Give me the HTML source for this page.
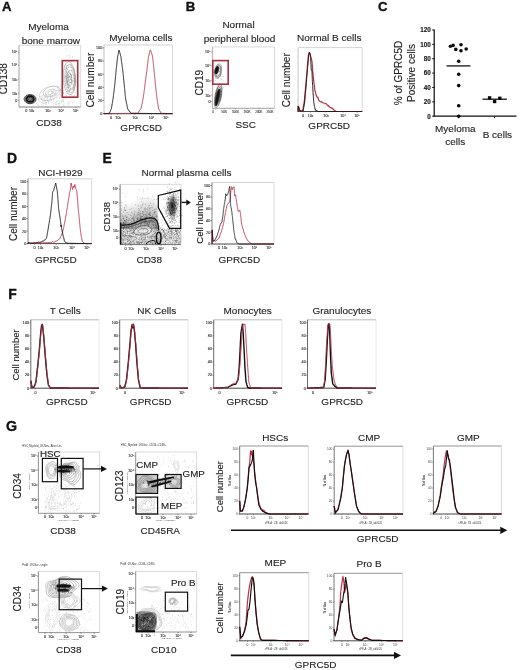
<!DOCTYPE html>
<html><head><meta charset="utf-8"><title>GPRC5D expression</title>
<style>
html,body{margin:0;padding:0;background:#fff;}
body{width:520px;height:670px;overflow:hidden;}
svg{display:block;filter:blur(0.28px);}
text{font-family:'Liberation Sans', Arial, sans-serif;}
</style></head>
<body>
<svg width="520" height="670" viewBox="0 0 520 670">
<rect width="520" height="670" fill="#fff"/>
<text x="2.00" y="10.90" font-size="13.2" text-anchor="start" fill="#111" font-weight="bold" stroke="#111" stroke-width="0.35">A</text>
<text transform="translate(48.50,29.60) scale(1.085,1)" font-size="9.217" text-anchor="middle" fill="#1e1e1e" stroke="#1e1e1e" stroke-width="0.12">Myeloma</text>
<text transform="translate(50.80,43.70) scale(1.085,1)" font-size="9.217" text-anchor="middle" fill="#1e1e1e" stroke="#1e1e1e" stroke-width="0.12">bone marrow</text>
<line x1="19.00" y1="45.30" x2="80.70" y2="45.30" stroke="#cfcfcf" stroke-width="0.8" />
<line x1="80.70" y1="45.30" x2="80.70" y2="107.00" stroke="#cfcfcf" stroke-width="0.8" />
<line x1="19.00" y1="45.30" x2="19.00" y2="107.00" stroke="#888" stroke-width="0.8" />
<line x1="19.00" y1="107.00" x2="80.70" y2="107.00" stroke="#666" stroke-width="0.8" />
<line x1="17.80" y1="52.00" x2="19.00" y2="52.00" stroke="#666" stroke-width="0.5" />
<text x="17.30" y="53.30" font-size="3.7" text-anchor="end" fill="#333" stroke="#333" stroke-width="0.12">10⁵</text>
<line x1="17.80" y1="65.00" x2="19.00" y2="65.00" stroke="#666" stroke-width="0.5" />
<text x="17.30" y="66.30" font-size="3.7" text-anchor="end" fill="#333" stroke="#333" stroke-width="0.12">10⁴</text>
<line x1="17.80" y1="79.20" x2="19.00" y2="79.20" stroke="#666" stroke-width="0.5" />
<text x="17.30" y="80.50" font-size="3.7" text-anchor="end" fill="#333" stroke="#333" stroke-width="0.12">10³</text>
<line x1="17.80" y1="93.20" x2="19.00" y2="93.20" stroke="#666" stroke-width="0.5" />
<text x="17.30" y="94.50" font-size="3.7" text-anchor="end" fill="#333" stroke="#333" stroke-width="0.12">10²</text>
<line x1="17.80" y1="100.40" x2="19.00" y2="100.40" stroke="#666" stroke-width="0.5" />
<text x="17.30" y="101.70" font-size="3.7" text-anchor="end" fill="#333" stroke="#333" stroke-width="0.12">0</text>
<line x1="26.20" y1="107.00" x2="26.20" y2="108.20" stroke="#666" stroke-width="0.5" />
<text x="26.20" y="112.30" font-size="3.7" text-anchor="middle" fill="#333" stroke="#333" stroke-width="0.12">0</text>
<line x1="31.60" y1="107.00" x2="31.60" y2="108.20" stroke="#666" stroke-width="0.5" />
<text x="31.60" y="112.30" font-size="3.7" text-anchor="middle" fill="#333" stroke="#333" stroke-width="0.12">10²</text>
<line x1="47.80" y1="107.00" x2="47.80" y2="108.20" stroke="#666" stroke-width="0.5" />
<text x="47.80" y="112.30" font-size="3.7" text-anchor="middle" fill="#333" stroke="#333" stroke-width="0.12">10³</text>
<line x1="61.20" y1="107.00" x2="61.20" y2="108.20" stroke="#666" stroke-width="0.5" />
<text x="61.20" y="112.30" font-size="3.7" text-anchor="middle" fill="#333" stroke="#333" stroke-width="0.12">10⁴</text>
<line x1="75.70" y1="107.00" x2="75.70" y2="108.20" stroke="#666" stroke-width="0.5" />
<text x="75.70" y="112.30" font-size="3.7" text-anchor="middle" fill="#333" stroke="#333" stroke-width="0.12">10⁵</text>
<path d="M48.7,94.6h0.6M61.9,92.1h0.6M50.2,95.3h0.6M53.6,100.6h0.6M38.5,101.1h0.6M63.5,105.1h0.6M54.3,96.0h0.6M48.3,101.9h0.6M50.5,96.6h0.6M50.0,97.2h0.6M63.9,105.9h0.6M59.5,98.4h0.6M57.5,90.4h0.6M59.7,90.0h0.6M62.8,102.0h0.6M61.5,92.2h0.6M63.5,90.3h0.6M57.8,87.0h0.6M63.0,99.7h0.6M51.7,91.6h0.6M41.3,99.0h0.6M63.2,100.9h0.6M44.5,103.0h0.6M59.9,96.7h0.6M38.8,105.7h0.6M57.6,88.6h0.6M62.9,92.6h0.6M52.1,102.5h0.6M61.4,101.3h0.6M56.7,104.5h0.6M41.5,104.7h0.6M60.7,95.7h0.6M37.1,105.0h0.6M42.7,98.3h0.6M43.2,101.4h0.6M40.9,98.7h0.6M51.7,102.2h0.6M61.7,85.3h0.6M46.1,103.2h0.6M63.5,97.1h0.6M55.4,95.2h0.6M36.5,103.7h0.6M55.6,105.0h0.6M49.5,99.0h0.6M44.9,106.0h0.6M56.6,103.4h0.6M56.6,98.3h0.6M58.2,103.8h0.6M45.9,97.8h0.6M61.2,102.6h0.6M47.7,100.6h0.6M60.2,94.9h0.6M53.5,89.9h0.6M52.3,95.8h0.6M63.8,102.9h0.6M56.4,90.1h0.6M56.6,95.1h0.6M48.3,101.8h0.6M38.3,99.5h0.6M55.6,92.9h0.6M53.2,103.9h0.6M44.4,97.6h0.6M61.4,97.2h0.6M48.4,103.2h0.6M45.2,97.3h0.6M58.6,103.8h0.6M60.6,90.0h0.6M59.4,102.1h0.6M55.9,104.7h0.6M53.5,92.8h0.6M44.8,101.8h0.6M63.5,91.8h0.6M55.8,94.8h0.6M44.7,100.6h0.6M59.2,86.2h0.6M53.6,91.6h0.6M53.6,97.0h0.6M58.6,104.9h0.6M55.5,93.5h0.6M53.2,99.7h0.6M47.0,100.6h0.6M62.1,98.8h0.6M53.5,103.7h0.6M46.6,94.8h0.6M60.6,100.7h0.6M62.4,92.1h0.6M56.2,101.3h0.6M54.0,98.7h0.6M42.0,103.4h0.6M63.5,105.4h0.6M51.0,100.6h0.6M45.0,103.7h0.6M60.0,89.1h0.6M51.4,100.0h0.6M45.4,100.5h0.6M50.5,98.8h0.6M59.5,97.9h0.6M62.5,92.8h0.6M44.1,98.9h0.6M53.9,93.6h0.6M59.6,94.6h0.6M59.7,103.4h0.6M41.8,102.1h0.6M63.1,93.6h0.6M51.0,93.1h0.6M63.1,93.4h0.6M47.2,100.8h0.6M51.8,92.8h0.6M62.8,104.0h0.6M58.8,103.4h0.6M45.9,96.1h0.6M38.9,99.0h0.6M50.8,91.4h0.6M53.9,93.8h0.6M59.8,95.9h0.6M60.0,86.0h0.6M56.7,101.1h0.6M61.3,88.2h0.6M44.8,104.0h0.6M42.1,106.0h0.6M42.7,98.9h0.6M59.3,91.0h0.6M47.3,97.8h0.6M55.1,103.7h0.6M50.2,99.7h0.6M50.1,97.8h0.6M51.4,93.4h0.6M59.5,105.7h0.6M37.7,104.7h0.6M48.9,99.9h0.6M55.6,102.0h0.6M56.7,90.5h0.6M61.0,100.8h0.6M55.7,102.4h0.6M53.6,90.5h0.6M52.8,93.1h0.6M63.5,100.9h0.6M43.2,103.7h0.6M56.8,100.2h0.6M58.8,90.5h0.6" stroke="#999" stroke-width="0.60" opacity="0.8" fill="none"/>
<ellipse cx="50.37" cy="92.61" rx="2.75" ry="1.62" stroke="#aaa" stroke-width="0.45" fill="none" opacity="0.9" transform="rotate(-20 50.37 92.61)"/>
<ellipse cx="50.69" cy="92.75" rx="5.50" ry="3.25" stroke="#aaa" stroke-width="0.45" fill="none" opacity="0.9" transform="rotate(-20 50.69 92.75)"/>
<ellipse cx="51.30" cy="91.46" rx="8.25" ry="4.88" stroke="#aaa" stroke-width="0.45" fill="none" opacity="0.9" transform="rotate(-20 51.30 91.46)"/>
<ellipse cx="49.83" cy="93.31" rx="11.00" ry="6.50" stroke="#aaa" stroke-width="0.45" fill="none" opacity="0.9" transform="rotate(-20 49.83 93.31)"/>
<ellipse cx="44.52" cy="98.37" rx="3.50" ry="2.00" stroke="#bbb" stroke-width="0.4" fill="none" opacity="0.9" transform="rotate(-10 44.52 98.37)"/>
<ellipse cx="45.37" cy="98.70" rx="7.00" ry="4.00" stroke="#bbb" stroke-width="0.4" fill="none" opacity="0.9" transform="rotate(-10 45.37 98.70)"/>
<ellipse cx="69.52" cy="78.29" rx="0.89" ry="2.36" stroke="#8a8a8a" stroke-width="0.45" fill="none" opacity="1.0" transform="rotate(-3 69.52 78.29)"/>
<ellipse cx="69.81" cy="78.38" rx="1.77" ry="4.71" stroke="#8a8a8a" stroke-width="0.45" fill="none" opacity="1.0" transform="rotate(-3 69.81 78.38)"/>
<ellipse cx="69.22" cy="78.82" rx="2.66" ry="7.07" stroke="#8a8a8a" stroke-width="0.45" fill="none" opacity="1.0" transform="rotate(-3 69.22 78.82)"/>
<ellipse cx="70.75" cy="79.54" rx="3.54" ry="9.43" stroke="#8a8a8a" stroke-width="0.45" fill="none" opacity="1.0" transform="rotate(-3 70.75 79.54)"/>
<ellipse cx="70.48" cy="78.50" rx="4.43" ry="11.79" stroke="#8a8a8a" stroke-width="0.45" fill="none" opacity="1.0" transform="rotate(-3 70.48 78.50)"/>
<ellipse cx="70.07" cy="78.60" rx="5.31" ry="14.14" stroke="#8a8a8a" stroke-width="0.45" fill="none" opacity="1.0" transform="rotate(-3 70.07 78.60)"/>
<ellipse cx="69.41" cy="78.29" rx="6.20" ry="16.50" stroke="#8a8a8a" stroke-width="0.45" fill="none" opacity="1.0" transform="rotate(-3 69.41 78.29)"/>
<path d="M65.9,68.5h0.7M72.3,57.1h0.7M69.5,57.4h0.7M73.9,82.0h0.7M74.7,75.0h0.7M71.4,77.1h0.7M67.4,81.5h0.7M65.6,76.5h0.7M72.4,80.6h0.7M68.6,101.9h0.7M70.2,74.1h0.7M70.6,74.8h0.7M68.7,76.5h0.7M77.1,80.2h0.7M70.6,86.7h0.7M77.1,77.8h0.7M67.8,104.7h0.7M64.9,76.3h0.7M72.3,102.8h0.7M66.7,55.7h0.7M72.3,74.8h0.7M68.6,84.6h0.7M70.8,82.9h0.7M68.5,92.9h0.7M75.3,80.3h0.7M68.4,87.3h0.7M71.7,69.6h0.7M68.4,90.5h0.7M69.7,76.7h0.7M70.7,79.7h0.7M70.0,60.7h0.7M76.1,82.0h0.7M66.9,89.8h0.7M71.1,80.2h0.7M73.7,102.6h0.7M71.9,95.9h0.7M77.6,69.8h0.7M68.2,87.8h0.7M64.0,77.3h0.7M74.5,90.4h0.7M72.0,61.0h0.7M78.2,85.5h0.7M72.7,84.9h0.7M64.0,65.7h0.7M65.7,99.2h0.7M67.1,77.6h0.7M69.1,85.7h0.7M71.8,82.7h0.7M65.6,48.6h0.7M70.6,82.7h0.7M74.3,79.0h0.7M67.9,84.1h0.7M64.6,69.6h0.7M66.5,82.9h0.7M77.3,87.6h0.7M74.0,82.4h0.7M71.0,75.5h0.7M69.0,55.7h0.7M65.8,67.1h0.7M72.9,86.6h0.7M74.0,95.6h0.7M68.9,90.6h0.7M76.8,79.9h0.7M73.8,78.3h0.7M64.4,81.2h0.7M67.1,81.1h0.7M68.4,83.2h0.7M62.5,100.8h0.7M74.8,76.5h0.7M66.8,80.0h0.7M72.4,84.2h0.7M71.4,60.3h0.7M66.0,93.4h0.7M70.8,64.8h0.7M67.0,65.5h0.7M66.4,91.8h0.7M69.2,91.3h0.7M70.7,64.8h0.7M67.7,103.2h0.7M67.3,69.3h0.7M74.4,80.9h0.7M70.0,94.9h0.7M63.7,84.3h0.7M66.2,65.7h0.7M67.1,91.7h0.7M69.5,61.3h0.7M66.0,95.6h0.7M73.7,68.9h0.7M78.7,76.3h0.7M65.7,78.6h0.7M73.3,96.5h0.7M73.7,75.6h0.7M68.0,65.1h0.7M69.7,73.9h0.7M70.9,67.1h0.7M68.1,71.0h0.7M65.7,67.9h0.7M66.4,67.9h0.7M72.0,81.0h0.7M65.3,85.2h0.7M71.0,94.9h0.7M69.3,77.9h0.7M67.5,81.3h0.7M71.8,81.8h0.7M69.1,85.8h0.7M70.3,82.5h0.7M66.7,82.1h0.7M66.4,71.4h0.7M70.6,101.5h0.7M73.6,80.0h0.7M69.4,90.1h0.7M75.0,92.5h0.7M69.3,81.9h0.7M68.8,77.1h0.7M66.9,77.4h0.7M62.3,67.7h0.7M71.5,70.5h0.7M71.9,66.8h0.7M68.7,84.0h0.7M66.3,72.7h0.7M78.9,73.0h0.7M67.5,74.1h0.7M70.1,79.7h0.7M73.5,88.1h0.7M68.6,76.4h0.7M64.9,64.7h0.7M67.4,87.5h0.7M70.4,88.2h0.7M73.4,78.3h0.7M77.5,74.6h0.7M67.8,75.6h0.7M74.1,78.6h0.7M67.4,84.4h0.7M74.1,78.9h0.7M69.1,91.1h0.7M73.5,89.7h0.7M67.3,82.9h0.7M71.3,61.6h0.7M74.3,81.0h0.7M68.8,103.1h0.7" stroke="#777" stroke-width="0.70" opacity="0.6" fill="none"/>
<ellipse cx="30.35" cy="99.16" rx="1.00" ry="0.77" stroke="#111" stroke-width="0.75" fill="none" opacity="1.0" transform="rotate(0 30.35 99.16)"/>
<ellipse cx="30.19" cy="98.88" rx="2.00" ry="1.53" stroke="#111" stroke-width="0.75" fill="none" opacity="1.0" transform="rotate(0 30.19 98.88)"/>
<ellipse cx="29.95" cy="99.08" rx="3.00" ry="2.30" stroke="#111" stroke-width="0.75" fill="none" opacity="1.0" transform="rotate(0 29.95 99.08)"/>
<ellipse cx="30.19" cy="99.13" rx="4.00" ry="3.07" stroke="#111" stroke-width="0.75" fill="none" opacity="1.0" transform="rotate(0 30.19 99.13)"/>
<ellipse cx="30.14" cy="99.14" rx="5.00" ry="3.83" stroke="#111" stroke-width="0.75" fill="none" opacity="1.0" transform="rotate(0 30.14 99.14)"/>
<ellipse cx="30.09" cy="99.15" rx="6.00" ry="4.60" stroke="#111" stroke-width="0.75" fill="none" opacity="1.0" transform="rotate(0 30.09 99.15)"/>
<ellipse cx="30.20" cy="99.00" rx="3.60" ry="2.80" stroke="#111" stroke-width="1.6" fill="none" opacity="1.0" transform="rotate(0 30.20 99.00)"/>
<ellipse cx="30.20" cy="99.00" rx="1.60" ry="1.20" stroke="#666" stroke-width="0.6" fill="#777" opacity="1.0" transform="rotate(0 30.20 99.00)"/>
<rect x="62.30" y="60.60" width="15.40" height="36.60" stroke="#a8303e" stroke-width="1.6" fill="none"/>
<text transform="translate(7.30,78.70) rotate(-90)" font-size="10.0" text-anchor="middle" fill="#1e1e1e" stroke="#1e1e1e" stroke-width="0.12">CD138</text>
<text transform="translate(49.00,126.20) scale(1.085,1)" font-size="9.217" text-anchor="middle" fill="#1e1e1e" stroke="#1e1e1e" stroke-width="0.12">CD38</text>
<text transform="translate(140.90,40.80) scale(1.085,1)" font-size="9.217" text-anchor="middle" fill="#1e1e1e" stroke="#1e1e1e" stroke-width="0.12">Myeloma cells</text>
<line x1="104.00" y1="45.00" x2="172.50" y2="45.00" stroke="#c8c8c8" stroke-width="0.8" />
<line x1="172.50" y1="45.00" x2="172.50" y2="113.70" stroke="#d0d0d0" stroke-width="0.8" />
<line x1="104.00" y1="45.00" x2="104.00" y2="113.70" stroke="#b0b0b0" stroke-width="0.8" />
<line x1="103.50" y1="113.70" x2="172.50" y2="113.70" stroke="#333" stroke-width="0.9" />
<line x1="102.70" y1="113.70" x2="104.00" y2="113.70" stroke="#444" stroke-width="0.6" />
<text x="102.20" y="115.00" font-size="3.7" text-anchor="end" fill="#333" stroke="#333" stroke-width="0.12">0</text>
<line x1="102.70" y1="100.54" x2="104.00" y2="100.54" stroke="#444" stroke-width="0.6" />
<text x="102.20" y="101.84" font-size="3.7" text-anchor="end" fill="#333" stroke="#333" stroke-width="0.12">20</text>
<line x1="102.70" y1="87.38" x2="104.00" y2="87.38" stroke="#444" stroke-width="0.6" />
<text x="102.20" y="88.68" font-size="3.7" text-anchor="end" fill="#333" stroke="#333" stroke-width="0.12">40</text>
<line x1="102.70" y1="74.22" x2="104.00" y2="74.22" stroke="#444" stroke-width="0.6" />
<text x="102.20" y="75.52" font-size="3.7" text-anchor="end" fill="#333" stroke="#333" stroke-width="0.12">60</text>
<line x1="102.70" y1="61.06" x2="104.00" y2="61.06" stroke="#444" stroke-width="0.6" />
<text x="102.20" y="62.36" font-size="3.7" text-anchor="end" fill="#333" stroke="#333" stroke-width="0.12">80</text>
<line x1="102.70" y1="47.90" x2="104.00" y2="47.90" stroke="#444" stroke-width="0.6" />
<text x="102.20" y="49.20" font-size="3.7" text-anchor="end" fill="#333" stroke="#333" stroke-width="0.12">100</text>
<line x1="111.00" y1="113.70" x2="111.00" y2="114.90" stroke="#555" stroke-width="0.5" />
<text x="111.00" y="119.10" font-size="3.7" text-anchor="middle" fill="#333" stroke="#333" stroke-width="0.12">0</text>
<line x1="118.00" y1="113.70" x2="118.00" y2="114.90" stroke="#555" stroke-width="0.5" />
<text x="118.00" y="119.10" font-size="3.7" text-anchor="middle" fill="#333" stroke="#333" stroke-width="0.12">10²</text>
<line x1="135.00" y1="113.70" x2="135.00" y2="114.90" stroke="#555" stroke-width="0.5" />
<text x="135.00" y="119.10" font-size="3.7" text-anchor="middle" fill="#333" stroke="#333" stroke-width="0.12">10³</text>
<line x1="151.50" y1="113.70" x2="151.50" y2="114.90" stroke="#555" stroke-width="0.5" />
<text x="151.50" y="119.10" font-size="3.7" text-anchor="middle" fill="#333" stroke="#333" stroke-width="0.12">10⁴</text>
<line x1="166.00" y1="113.70" x2="166.00" y2="114.90" stroke="#555" stroke-width="0.5" />
<text x="166.00" y="119.10" font-size="3.7" text-anchor="middle" fill="#333" stroke="#333" stroke-width="0.12">10⁵</text>
<path d="M104.00,113.70 L104.60,113.69 L105.20,113.69 L105.80,113.68 L106.40,113.67 L107.00,113.66 L107.60,113.66 L108.20,113.65 L108.80,113.64 L109.40,113.64 L110.00,113.63 L110.60,113.62 L111.20,113.61 L111.80,113.61 L112.40,113.60 L113.00,113.59 L113.60,113.59 L114.20,113.58 L114.80,113.57 L115.40,113.56 L116.00,113.56 L116.60,113.55 L117.20,113.54 L117.80,113.54 L118.40,113.53 L119.00,113.52 L119.60,113.51 L120.20,113.51 L120.80,113.50 L121.40,113.49 L122.00,113.49 L122.60,113.48 L123.20,113.47 L123.80,113.46 L124.40,113.46 L125.00,113.45 L125.60,113.44 L126.20,113.44 L126.80,113.43 L127.40,113.42 L128.00,113.41 L128.60,113.41 L129.20,113.40 L129.80,113.39 L130.40,113.39 L131.00,113.38 L131.60,113.37 L132.20,113.36 L132.80,113.36 L133.40,113.35 L134.00,113.34 L134.60,113.34 L135.20,113.33 L135.80,113.32 L136.40,113.31 L137.00,113.31 L137.60,113.30 L137.98,112.78 L138.36,112.53 L138.73,112.00 L139.11,110.95 L139.49,110.44 L139.87,110.37 L140.24,109.79 L140.62,109.22 L141.00,108.48 L141.13,108.06 L141.26,107.46 L141.38,106.85 L141.51,106.00 L141.64,105.56 L141.77,104.94 L141.89,104.53 L142.02,104.10 L142.15,103.47 L142.28,102.63 L142.41,101.97 L142.53,101.26 L142.66,100.52 L142.79,99.92 L142.92,99.58 L143.04,98.89 L143.17,98.33 L143.30,98.04 L143.38,97.21 L143.45,96.62 L143.53,95.81 L143.61,95.08 L143.69,94.65 L143.76,93.93 L143.84,93.54 L143.92,93.23 L144.00,92.42 L144.07,91.52 L144.15,91.34 L144.23,90.67 L144.30,90.02 L144.38,89.52 L144.46,88.82 L144.54,88.23 L144.61,87.36 L144.69,87.12 L144.77,86.50 L144.85,85.41 L144.92,85.16 L145.00,84.53 L145.08,83.76 L145.16,83.19 L145.25,82.55 L145.33,82.20 L145.41,81.33 L145.49,80.92 L145.57,80.02 L145.65,79.72 L145.74,79.12 L145.82,78.24 L145.90,77.69 L145.98,77.29 L146.06,76.56 L146.15,75.80 L146.23,75.03 L146.31,74.48 L146.39,74.09 L146.47,73.15 L146.55,72.99 L146.64,71.99 L146.72,71.76 L146.80,70.79 L146.87,70.57 L146.95,69.81 L147.02,69.08 L147.09,68.47 L147.16,67.95 L147.24,67.30 L147.31,66.52 L147.38,65.85 L147.45,65.43 L147.53,65.07 L147.60,64.27 L147.67,63.34 L147.75,63.17 L147.82,62.51 L147.89,62.01 L147.96,60.97 L148.04,60.69 L148.11,59.67 L148.18,59.42 L148.25,58.58 L148.33,57.95 L148.40,57.73 L148.54,56.65 L148.68,56.28 L148.82,55.86 L148.97,54.88 L149.11,54.24 L149.25,54.03 L149.39,53.14 L149.53,52.70 L149.68,51.67 L149.82,51.25 L149.96,50.52 L150.10,50.20 L150.70,50.35 L150.90,51.48 L151.10,51.54 L151.30,52.57 L151.50,52.76 L151.70,53.51 L151.90,54.45 L152.10,54.67 L152.30,55.30 L152.50,56.21 L152.57,56.65 L152.63,57.06 L152.70,58.24 L152.77,58.36 L152.83,58.91 L152.90,59.71 L152.97,60.49 L153.03,61.18 L153.10,61.42 L153.17,62.17 L153.23,62.60 L153.30,63.47 L153.37,64.28 L153.43,64.88 L153.50,65.59 L153.57,66.12 L153.63,66.80 L153.70,67.32 L153.77,67.80 L153.83,68.27 L153.90,69.15 L153.97,69.56 L154.03,70.04 L154.10,70.87 L154.16,71.74 L154.22,71.90 L154.28,72.79 L154.34,73.29 L154.40,73.98 L154.45,74.37 L154.51,75.47 L154.57,75.66 L154.63,76.49 L154.69,76.99 L154.75,77.36 L154.81,78.30 L154.87,78.66 L154.93,79.22 L154.99,79.82 L155.05,80.51 L155.10,81.09 L155.16,82.03 L155.22,82.56 L155.28,83.46 L155.34,84.05 L155.40,84.70 L155.47,84.85 L155.54,85.59 L155.60,86.08 L155.67,86.89 L155.74,87.52 L155.81,88.23 L155.88,88.79 L155.95,89.13 L156.01,89.84 L156.08,90.51 L156.15,90.80 L156.22,91.43 L156.29,92.26 L156.35,92.69 L156.42,93.67 L156.49,93.99 L156.56,94.51 L156.63,95.17 L156.70,95.81 L156.76,96.41 L156.83,97.20 L156.90,97.78 L156.99,98.29 L157.08,99.09 L157.17,99.43 L157.26,100.44 L157.34,101.08 L157.43,101.54 L157.52,101.96 L157.61,102.61 L157.70,103.25 L157.79,103.53 L157.88,104.35 L157.97,105.02 L158.06,105.41 L158.14,105.96 L158.23,106.98 L158.32,107.32 L158.41,108.01 L158.50,108.85 L158.80,109.19 L159.10,109.52 L159.40,110.46 L159.70,110.61 L160.00,110.92 L160.30,111.84 L160.60,112.02 L160.90,112.78 L161.20,113.30 L161.83,113.32 L162.46,113.34 L163.08,113.37 L163.71,113.39 L164.34,113.41 L164.97,113.43 L165.59,113.46 L166.22,113.48 L166.85,113.50 L167.48,113.52 L168.11,113.54 L168.73,113.57 L169.36,113.59 L169.99,113.61 L170.62,113.63 L171.24,113.66 L171.87,113.68 L172.50,113.70" stroke="#bb3048" stroke-width="0.9" fill="none" />
<path d="M104.00,113.70 L104.60,113.66 L105.20,113.61 L105.80,113.57 L106.40,113.52 L107.00,113.48 L107.60,113.43 L108.20,113.39 L108.80,113.34 L109.40,113.30 L109.65,112.71 L109.90,111.87 L110.15,111.78 L110.40,111.13 L110.65,110.19 L110.90,109.77 L111.15,109.15 L111.40,108.71 L111.50,108.20 L111.60,107.12 L111.70,106.47 L111.80,106.44 L111.90,105.55 L112.00,105.18 L112.10,104.05 L112.20,103.76 L112.30,103.36 L112.40,102.41 L112.50,102.31 L112.60,101.68 L112.70,100.47 L112.80,99.87 L112.90,99.63 L113.00,99.31 L113.10,98.32 L113.20,97.60 L113.27,97.14 L113.35,96.25 L113.42,95.78 L113.49,95.32 L113.56,94.75 L113.64,93.96 L113.71,93.35 L113.78,92.73 L113.85,92.29 L113.93,91.56 L114.00,90.77 L114.07,90.73 L114.15,89.92 L114.22,89.37 L114.29,88.44 L114.36,88.40 L114.44,87.70 L114.51,86.57 L114.58,86.11 L114.65,85.77 L114.73,85.16 L114.80,84.71 L114.86,83.73 L114.92,83.40 L114.98,82.68 L115.04,81.81 L115.10,81.39 L115.15,80.99 L115.21,80.35 L115.27,79.49 L115.33,78.94 L115.39,77.94 L115.45,77.47 L115.51,77.24 L115.57,76.36 L115.63,75.58 L115.69,75.23 L115.75,74.72 L115.80,74.09 L115.86,73.27 L115.92,72.70 L115.98,72.13 L116.04,71.71 L116.10,70.91 L116.16,70.22 L116.23,69.67 L116.29,68.74 L116.35,68.14 L116.42,68.00 L116.48,67.58 L116.55,66.70 L116.61,65.95 L116.67,65.19 L116.74,64.81 L116.80,64.54 L116.86,63.78 L116.93,63.01 L116.99,62.62 L117.05,61.58 L117.12,61.16 L117.18,60.86 L117.25,59.99 L117.31,59.30 L117.37,58.56 L117.44,58.14 L117.50,57.82 L117.62,56.54 L117.75,56.47 L117.88,55.87 L118.00,55.30 L118.12,54.59 L118.25,54.02 L118.38,53.20 L118.50,52.61 L118.62,51.90 L118.75,51.02 L118.88,50.98 L119.00,50.15 L119.25,50.59 L119.50,51.50 L119.69,52.15 L119.87,52.71 L120.06,53.36 L120.24,54.16 L120.43,54.87 L120.61,55.52 L120.80,56.07 L120.88,56.39 L120.97,57.14 L121.05,57.72 L121.13,58.63 L121.22,59.44 L121.30,60.01 L121.38,60.62 L121.47,61.25 L121.55,61.48 L121.63,62.51 L121.72,63.00 L121.80,63.21 L121.88,63.78 L121.97,64.39 L122.05,65.53 L122.13,65.79 L122.22,66.31 L122.30,67.29 L122.38,67.71 L122.47,68.13 L122.55,68.81 L122.63,69.69 L122.72,70.05 L122.80,70.74 L122.86,71.66 L122.93,72.10 L122.99,72.62 L123.05,73.34 L123.12,73.63 L123.18,74.50 L123.25,75.14 L123.31,75.59 L123.37,76.15 L123.44,77.32 L123.50,77.66 L123.56,78.06 L123.63,78.95 L123.69,79.71 L123.75,79.77 L123.82,80.38 L123.88,81.08 L123.95,82.10 L124.01,82.32 L124.07,83.32 L124.14,83.91 L124.20,84.43 L124.26,84.81 L124.32,85.95 L124.38,86.44 L124.44,86.85 L124.50,87.25 L124.55,88.16 L124.61,88.59 L124.67,89.33 L124.73,89.76 L124.79,90.58 L124.85,90.79 L124.91,91.57 L124.97,92.65 L125.03,93.19 L125.09,93.40 L125.15,94.40 L125.20,94.62 L125.26,95.67 L125.32,96.14 L125.38,96.52 L125.44,97.02 L125.50,97.46 L125.62,98.67 L125.73,98.68 L125.85,99.82 L125.97,100.52 L126.08,100.85 L126.20,101.17 L126.32,102.26 L126.43,102.93 L126.55,103.34 L126.67,103.81 L126.78,104.31 L126.90,104.89 L127.02,105.39 L127.13,106.32 L127.25,106.75 L127.37,107.19 L127.48,107.72 L127.60,108.72 L127.97,108.98 L128.33,109.64 L128.70,110.04 L129.07,110.95 L129.43,111.49 L129.80,111.40 L130.17,112.05 L130.53,112.78 L130.90,113.30 L131.50,113.31 L132.11,113.31 L132.71,113.32 L133.31,113.32 L133.91,113.33 L134.52,113.33 L135.12,113.34 L135.72,113.35 L136.33,113.35 L136.93,113.36 L137.53,113.36 L138.13,113.37 L138.74,113.38 L139.34,113.38 L139.94,113.39 L140.55,113.39 L141.15,113.40 L141.75,113.40 L142.36,113.41 L142.96,113.42 L143.56,113.42 L144.16,113.43 L144.77,113.43 L145.37,113.44 L145.97,113.44 L146.58,113.45 L147.18,113.46 L147.78,113.46 L148.38,113.47 L148.99,113.47 L149.59,113.48 L150.19,113.49 L150.80,113.49 L151.40,113.50 L152.00,113.50 L152.60,113.51 L153.21,113.51 L153.81,113.52 L154.41,113.53 L155.02,113.53 L155.62,113.54 L156.22,113.54 L156.82,113.55 L157.43,113.56 L158.03,113.56 L158.63,113.57 L159.24,113.57 L159.84,113.58 L160.44,113.58 L161.04,113.59 L161.65,113.60 L162.25,113.60 L162.85,113.61 L163.46,113.61 L164.06,113.62 L164.66,113.62 L165.27,113.63 L165.87,113.64 L166.47,113.64 L167.07,113.65 L167.68,113.65 L168.28,113.66 L168.88,113.67 L169.49,113.67 L170.09,113.68 L170.69,113.68 L171.29,113.69 L171.90,113.69 L172.50,113.70" stroke="#111" stroke-width="0.9" fill="none" />
<text transform="translate(94.45,80.10) rotate(-90)" font-size="10.2" text-anchor="middle" fill="#1e1e1e" stroke="#1e1e1e" stroke-width="0.12">Cell number</text>
<text transform="translate(141.20,130.80) scale(1.085,1)" font-size="9.217" text-anchor="middle" fill="#1e1e1e" stroke="#1e1e1e" stroke-width="0.12">GPRC5D</text>
<text x="185.70" y="10.90" font-size="13.2" text-anchor="start" fill="#111" font-weight="bold" stroke="#111" stroke-width="0.35">B</text>
<text transform="translate(238.50,27.90) scale(1.085,1)" font-size="9.217" text-anchor="middle" fill="#1e1e1e" stroke="#1e1e1e" stroke-width="0.12">Normal</text>
<text transform="translate(239.50,42.10) scale(1.085,1)" font-size="9.217" text-anchor="middle" fill="#1e1e1e" stroke="#1e1e1e" stroke-width="0.12">peripheral blood</text>
<line x1="212.40" y1="46.90" x2="274.50" y2="46.90" stroke="#cfcfcf" stroke-width="0.8" />
<line x1="274.50" y1="46.90" x2="274.50" y2="108.30" stroke="#cfcfcf" stroke-width="0.8" />
<line x1="212.40" y1="46.90" x2="212.40" y2="108.30" stroke="#c89098" stroke-width="0.8" />
<line x1="212.40" y1="108.30" x2="274.50" y2="108.30" stroke="#888" stroke-width="0.8" />
<line x1="211.20" y1="51.80" x2="212.40" y2="51.80" stroke="#a33" stroke-width="0.5" />
<text x="210.60" y="53.10" font-size="3.7" text-anchor="end" fill="#333" stroke="#333" stroke-width="0.12">10⁵</text>
<line x1="211.20" y1="65.90" x2="212.40" y2="65.90" stroke="#a33" stroke-width="0.5" />
<text x="210.60" y="67.20" font-size="3.7" text-anchor="end" fill="#333" stroke="#333" stroke-width="0.12">10⁴</text>
<line x1="211.20" y1="80.60" x2="212.40" y2="80.60" stroke="#a33" stroke-width="0.5" />
<text x="210.60" y="81.90" font-size="3.7" text-anchor="end" fill="#333" stroke="#333" stroke-width="0.12">10³</text>
<line x1="211.20" y1="95.20" x2="212.40" y2="95.20" stroke="#a33" stroke-width="0.5" />
<text x="210.60" y="96.50" font-size="3.7" text-anchor="end" fill="#333" stroke="#333" stroke-width="0.12">10²</text>
<line x1="211.20" y1="101.50" x2="212.40" y2="101.50" stroke="#a33" stroke-width="0.5" />
<text x="210.60" y="102.80" font-size="3.7" text-anchor="end" fill="#333" stroke="#333" stroke-width="0.12">0</text>
<line x1="213.00" y1="108.30" x2="213.00" y2="109.50" stroke="#777" stroke-width="0.5" />
<text x="213.00" y="113.30" font-size="3.1" text-anchor="middle" fill="#444" stroke="#444" stroke-width="0.1">0</text>
<line x1="224.20" y1="108.30" x2="224.20" y2="109.50" stroke="#777" stroke-width="0.5" />
<text x="224.20" y="113.30" font-size="3.1" text-anchor="middle" fill="#444" stroke="#444" stroke-width="0.1">50K</text>
<line x1="235.50" y1="108.30" x2="235.50" y2="109.50" stroke="#777" stroke-width="0.5" />
<text x="235.50" y="113.30" font-size="3.1" text-anchor="middle" fill="#444" stroke="#444" stroke-width="0.1">100K</text>
<line x1="247.00" y1="108.30" x2="247.00" y2="109.50" stroke="#777" stroke-width="0.5" />
<text x="247.00" y="113.30" font-size="3.1" text-anchor="middle" fill="#444" stroke="#444" stroke-width="0.1">150K</text>
<line x1="258.80" y1="108.30" x2="258.80" y2="109.50" stroke="#777" stroke-width="0.5" />
<text x="258.80" y="113.30" font-size="3.1" text-anchor="middle" fill="#444" stroke="#444" stroke-width="0.1">200K</text>
<line x1="270.00" y1="108.30" x2="270.00" y2="109.50" stroke="#777" stroke-width="0.5" />
<text x="270.00" y="113.30" font-size="3.1" text-anchor="middle" fill="#444" stroke="#444" stroke-width="0.1">250K</text>
<path d="M220.16,95.54 Q220.08,96.20 219.95,96.92 Q219.82,97.64 219.63,98.35 Q219.44,99.06 219.20,99.68 Q218.96,100.31 218.70,100.78 Q218.44,101.25 218.18,101.59 Q217.92,101.92 217.68,102.14 Q217.43,102.35 217.21,102.43 Q216.98,102.51 216.79,102.43 Q216.60,102.34 216.46,102.09 Q216.32,101.84 216.22,101.46 Q216.13,101.09 216.07,100.64 Q216.01,100.20 215.98,99.70 Q215.95,99.20 215.96,98.62 Q215.97,98.05 216.03,97.40 Q216.10,96.76 216.22,96.08 Q216.34,95.40 216.50,94.73 Q216.66,94.06 216.85,93.40 Q217.04,92.74 217.25,92.10 Q217.47,91.45 217.71,90.86 Q217.96,90.28 218.23,89.83 Q218.49,89.39 218.75,89.17 Q219.00,88.95 219.22,88.95 Q219.44,88.95 219.62,89.11 Q219.80,89.27 219.93,89.54 Q220.07,89.80 220.17,90.17 Q220.27,90.53 220.32,90.98 Q220.37,91.44 220.38,91.97 Q220.39,92.50 220.36,93.08 Q220.33,93.65 220.28,94.26 Q220.23,94.87 220.16,95.54 Z" stroke="#333" stroke-width="0.5" fill="none" opacity="1.0"/>
<path d="M220.63,95.47 Q220.52,96.29 220.35,97.17 Q220.18,98.05 219.94,98.90 Q219.71,99.76 219.41,100.51 Q219.12,101.26 218.80,101.84 Q218.49,102.42 218.17,102.86 Q217.86,103.30 217.56,103.61 Q217.25,103.92 216.96,104.07 Q216.67,104.22 216.43,104.15 Q216.18,104.07 216.00,103.75 Q215.82,103.43 215.71,102.94 Q215.60,102.44 215.54,101.84 Q215.49,101.25 215.47,100.60 Q215.45,99.95 215.47,99.24 Q215.50,98.52 215.58,97.74 Q215.66,96.96 215.80,96.14 Q215.94,95.32 216.13,94.50 Q216.32,93.67 216.54,92.85 Q216.77,92.02 217.03,91.21 Q217.29,90.39 217.59,89.64 Q217.90,88.90 218.23,88.36 Q218.56,87.81 218.88,87.55 Q219.19,87.30 219.46,87.32 Q219.73,87.35 219.94,87.57 Q220.16,87.78 220.33,88.12 Q220.49,88.45 220.62,88.88 Q220.74,89.31 220.82,89.85 Q220.89,90.40 220.91,91.04 Q220.92,91.69 220.89,92.41 Q220.86,93.12 220.80,93.88 Q220.73,94.64 220.63,95.47 Z" stroke="#333" stroke-width="0.5" fill="none" opacity="1.0"/>
<path d="M221.11,95.41 Q220.99,96.39 220.78,97.44 Q220.58,98.49 220.28,99.49 Q219.98,100.49 219.63,101.37 Q219.28,102.24 218.91,102.96 Q218.54,103.68 218.17,104.25 Q217.79,104.82 217.42,105.21 Q217.05,105.59 216.72,105.71 Q216.38,105.83 216.11,105.67 Q215.83,105.50 215.63,105.10 Q215.42,104.71 215.28,104.17 Q215.13,103.63 215.03,102.99 Q214.93,102.35 214.90,101.60 Q214.86,100.84 214.90,99.96 Q214.94,99.08 215.07,98.13 Q215.19,97.17 215.37,96.20 Q215.55,95.24 215.77,94.26 Q215.98,93.29 216.23,92.29 Q216.49,91.29 216.80,90.30 Q217.11,89.31 217.48,88.45 Q217.84,87.59 218.23,86.99 Q218.63,86.39 219.00,86.10 Q219.37,85.81 219.70,85.78 Q220.02,85.75 220.29,85.93 Q220.57,86.11 220.78,86.49 Q220.99,86.87 221.12,87.44 Q221.25,88.01 221.31,88.72 Q221.37,89.44 221.37,90.23 Q221.37,91.01 221.35,91.83 Q221.33,92.65 221.27,93.54 Q221.22,94.42 221.11,95.41 Z" stroke="#333" stroke-width="0.5" fill="none" opacity="1.0"/>
<path d="M221.54,95.34 Q221.39,96.48 221.16,97.68 Q220.92,98.88 220.59,100.05 Q220.26,101.22 219.86,102.24 Q219.45,103.26 219.02,104.07 Q218.59,104.89 218.16,105.52 Q217.73,106.16 217.31,106.62 Q216.88,107.08 216.48,107.30 Q216.08,107.52 215.73,107.41 Q215.39,107.29 215.15,106.83 Q214.90,106.38 214.75,105.68 Q214.60,104.99 214.52,104.17 Q214.44,103.35 214.42,102.45 Q214.39,101.54 214.43,100.55 Q214.47,99.55 214.60,98.47 Q214.72,97.39 214.92,96.27 Q215.12,95.15 215.38,94.02 Q215.63,92.89 215.93,91.75 Q216.23,90.62 216.59,89.48 Q216.94,88.34 217.37,87.31 Q217.79,86.28 218.24,85.53 Q218.70,84.78 219.14,84.43 Q219.57,84.08 219.94,84.10 Q220.32,84.12 220.62,84.39 Q220.92,84.67 221.16,85.11 Q221.40,85.56 221.57,86.16 Q221.74,86.77 221.83,87.55 Q221.93,88.32 221.94,89.23 Q221.95,90.14 221.91,91.13 Q221.86,92.12 221.77,93.16 Q221.68,94.21 221.54,95.34 Z" stroke="#333" stroke-width="0.5" fill="none" opacity="1.0"/>
<ellipse cx="217.60" cy="97.50" rx="1.60" ry="8.80" stroke="#111" stroke-width="0.4" fill="#111" opacity="1.0" transform="rotate(12 217.60 97.50)"/>
<path d="M217.6,103.3h0.6M217.9,91.2h0.6M216.5,105.4h0.6M219.9,90.1h0.6M217.0,95.7h0.6M219.3,96.4h0.6M217.8,94.9h0.6M219.1,92.3h0.6M217.7,97.6h0.6M220.3,96.3h0.6M220.5,91.0h0.6M219.0,97.3h0.6M217.3,95.9h0.6M219.6,94.7h0.6M217.7,104.5h0.6M218.4,105.2h0.6M215.9,97.6h0.6M216.0,101.0h0.6M217.9,97.4h0.6M219.3,93.2h0.6M218.9,92.4h0.6M221.3,94.4h0.6M220.0,86.9h0.6M217.0,91.4h0.6M218.2,100.5h0.6M219.1,92.9h0.6M221.6,91.3h0.6M216.3,98.5h0.6M216.4,97.3h0.6M219.4,96.1h0.6M218.5,96.5h0.6M220.7,79.3h0.6M216.4,95.8h0.6M216.4,92.8h0.6M216.8,103.3h0.6M216.8,93.0h0.6M217.7,99.1h0.6M214.1,105.7h0.6M215.7,101.7h0.6M217.3,98.3h0.6M219.5,100.4h0.6M219.3,90.9h0.6M218.7,88.4h0.6M222.5,88.5h0.6M212.7,104.2h0.6M220.1,94.7h0.6M220.1,92.1h0.6M216.7,98.7h0.6M219.1,93.9h0.6M219.4,100.6h0.6M219.5,89.9h0.6M218.6,94.5h0.6M217.0,100.4h0.6M216.9,97.4h0.6M218.7,98.3h0.6M223.1,87.5h0.6M219.3,89.9h0.6M215.1,109.6h0.6M216.1,94.1h0.6M218.8,96.9h0.6" stroke="#333" stroke-width="0.60" opacity="0.6" fill="none"/>
<path d="M220.35,71.13 Q220.33,71.61 220.30,72.14 Q220.26,72.67 220.15,73.22 Q220.03,73.77 219.82,74.25 Q219.61,74.73 219.34,75.07 Q219.07,75.41 218.78,75.61 Q218.49,75.82 218.21,75.95 Q217.93,76.08 217.66,76.14 Q217.39,76.20 217.13,76.14 Q216.87,76.08 216.65,75.88 Q216.44,75.68 216.27,75.39 Q216.09,75.09 215.95,74.76 Q215.80,74.43 215.66,74.07 Q215.53,73.71 215.42,73.29 Q215.31,72.86 215.29,72.34 Q215.27,71.83 215.36,71.29 Q215.45,70.75 215.62,70.26 Q215.79,69.77 215.99,69.33 Q216.18,68.90 216.38,68.49 Q216.57,68.07 216.78,67.66 Q217.00,67.24 217.25,66.89 Q217.50,66.53 217.78,66.32 Q218.07,66.11 218.35,66.07 Q218.63,66.03 218.90,66.11 Q219.16,66.19 219.40,66.35 Q219.63,66.52 219.84,66.77 Q220.04,67.03 220.18,67.41 Q220.32,67.79 220.38,68.26 Q220.43,68.73 220.42,69.22 Q220.41,69.71 220.39,70.18 Q220.36,70.65 220.35,71.13 Z" stroke="#444" stroke-width="0.5" fill="none" opacity="1.0"/>
<path d="M220.86,71.11 Q220.83,71.70 220.78,72.34 Q220.74,72.98 220.60,73.65 Q220.47,74.32 220.22,74.92 Q219.97,75.52 219.64,75.94 Q219.31,76.36 218.96,76.61 Q218.60,76.86 218.26,76.99 Q217.92,77.13 217.59,77.18 Q217.26,77.23 216.95,77.15 Q216.64,77.07 216.38,76.82 Q216.12,76.58 215.92,76.22 Q215.72,75.86 215.55,75.46 Q215.38,75.06 215.21,74.63 Q215.04,74.21 214.90,73.71 Q214.75,73.20 214.70,72.59 Q214.65,71.97 214.74,71.31 Q214.83,70.64 215.03,70.02 Q215.24,69.41 215.49,68.87 Q215.74,68.34 216.00,67.86 Q216.25,67.37 216.52,66.89 Q216.79,66.42 217.09,66.01 Q217.40,65.60 217.74,65.35 Q218.08,65.10 218.42,65.06 Q218.76,65.01 219.07,65.11 Q219.38,65.21 219.67,65.40 Q219.96,65.59 220.21,65.88 Q220.46,66.17 220.65,66.61 Q220.83,67.04 220.91,67.60 Q220.99,68.16 220.98,68.76 Q220.97,69.36 220.93,69.95 Q220.89,70.53 220.86,71.11 Z" stroke="#444" stroke-width="0.5" fill="none" opacity="1.0"/>
<path d="M221.37,71.11 Q221.36,71.79 221.31,72.55 Q221.25,73.31 221.07,74.09 Q220.90,74.87 220.59,75.54 Q220.28,76.20 219.90,76.69 Q219.52,77.18 219.11,77.51 Q218.71,77.84 218.31,78.06 Q217.90,78.28 217.51,78.35 Q217.11,78.43 216.75,78.29 Q216.39,78.16 216.10,77.83 Q215.80,77.50 215.57,77.07 Q215.33,76.65 215.11,76.21 Q214.89,75.77 214.67,75.28 Q214.46,74.80 214.30,74.19 Q214.13,73.59 214.11,72.85 Q214.08,72.11 214.22,71.33 Q214.36,70.56 214.60,69.85 Q214.84,69.15 215.11,68.52 Q215.38,67.88 215.65,67.27 Q215.93,66.66 216.24,66.08 Q216.55,65.49 216.92,65.03 Q217.29,64.57 217.69,64.31 Q218.10,64.05 218.49,64.00 Q218.89,63.94 219.27,64.02 Q219.64,64.09 220.00,64.28 Q220.35,64.46 220.65,64.82 Q220.95,65.18 221.14,65.74 Q221.33,66.30 221.40,66.99 Q221.46,67.68 221.44,68.39 Q221.42,69.09 221.40,69.75 Q221.38,70.42 221.37,71.11 Z" stroke="#444" stroke-width="0.5" fill="none" opacity="1.0"/>
<ellipse cx="216.90" cy="70.20" rx="1.70" ry="4.00" stroke="#111" stroke-width="0.5" fill="#111" opacity="1.0" transform="rotate(14 216.90 70.20)"/>
<path d="M215.2,80.4h0.6M219.3,71.7h0.6M220.5,69.9h0.6M223.3,76.6h0.6M218.4,77.4h0.6M216.1,76.4h0.6M220.7,78.3h0.6M219.7,69.8h0.6M219.3,68.6h0.6M219.1,71.7h0.6M217.1,77.5h0.6M222.8,80.5h0.6M217.9,72.6h0.6M216.7,71.9h0.6M218.9,76.2h0.6M217.8,74.4h0.6M216.3,72.1h0.6M221.3,79.8h0.6M219.7,74.6h0.6M219.1,71.4h0.6M216.2,76.3h0.6M216.4,75.8h0.6M216.2,73.9h0.6M221.9,76.6h0.6M218.4,75.2h0.6M215.4,78.0h0.6M217.0,70.8h0.6M217.1,74.4h0.6M217.1,71.5h0.6M219.5,74.8h0.6" stroke="#555" stroke-width="0.60" opacity="0.6" fill="none"/>
<rect x="212.80" y="60.60" width="15.40" height="23.60" stroke="#a8303e" stroke-width="1.6" fill="none"/>
<text transform="translate(202.80,82.60) rotate(-90)" font-size="10.0" text-anchor="middle" fill="#1e1e1e" stroke="#1e1e1e" stroke-width="0.12">CD19</text>
<text transform="translate(245.70,127.90) scale(1.085,1)" font-size="9.217" text-anchor="middle" fill="#1e1e1e" stroke="#1e1e1e" stroke-width="0.12">SSC</text>
<text transform="translate(329.30,40.50) scale(1.085,1)" font-size="9.217" text-anchor="middle" fill="#1e1e1e" stroke="#1e1e1e" stroke-width="0.12">Normal B cells</text>
<line x1="298.10" y1="47.60" x2="362.20" y2="47.60" stroke="#c8c8c8" stroke-width="0.8" />
<line x1="362.20" y1="47.60" x2="362.20" y2="111.50" stroke="#d0d0d0" stroke-width="0.8" />
<line x1="298.10" y1="47.60" x2="298.10" y2="111.50" stroke="#bbb" stroke-width="0.8" />
<line x1="297.60" y1="111.50" x2="362.20" y2="111.50" stroke="#333" stroke-width="0.9" />
<line x1="303.00" y1="111.50" x2="303.00" y2="112.70" stroke="#555" stroke-width="0.5" />
<text x="303.00" y="116.90" font-size="3.7" text-anchor="middle" fill="#333" stroke="#333" stroke-width="0.12">0</text>
<line x1="310.50" y1="111.50" x2="310.50" y2="112.70" stroke="#555" stroke-width="0.5" />
<text x="310.50" y="116.90" font-size="3.7" text-anchor="middle" fill="#333" stroke="#333" stroke-width="0.12">10²</text>
<line x1="326.00" y1="111.50" x2="326.00" y2="112.70" stroke="#555" stroke-width="0.5" />
<text x="326.00" y="116.90" font-size="3.7" text-anchor="middle" fill="#333" stroke="#333" stroke-width="0.12">10³</text>
<line x1="343.00" y1="111.50" x2="343.00" y2="112.70" stroke="#555" stroke-width="0.5" />
<text x="343.00" y="116.90" font-size="3.7" text-anchor="middle" fill="#333" stroke="#333" stroke-width="0.12">10⁴</text>
<line x1="357.00" y1="111.50" x2="357.00" y2="112.70" stroke="#555" stroke-width="0.5" />
<text x="357.00" y="116.90" font-size="3.7" text-anchor="middle" fill="#333" stroke="#333" stroke-width="0.12">10⁵</text>
<line x1="297.10" y1="111.50" x2="298.10" y2="111.50" stroke="#bbb" stroke-width="0.5" />
<line x1="297.10" y1="105.40" x2="298.10" y2="105.40" stroke="#bbb" stroke-width="0.5" />
<line x1="297.10" y1="99.30" x2="298.10" y2="99.30" stroke="#bbb" stroke-width="0.5" />
<line x1="297.10" y1="93.20" x2="298.10" y2="93.20" stroke="#bbb" stroke-width="0.5" />
<line x1="297.10" y1="87.10" x2="298.10" y2="87.10" stroke="#bbb" stroke-width="0.5" />
<line x1="297.10" y1="81.00" x2="298.10" y2="81.00" stroke="#bbb" stroke-width="0.5" />
<line x1="297.10" y1="74.90" x2="298.10" y2="74.90" stroke="#bbb" stroke-width="0.5" />
<line x1="297.10" y1="68.80" x2="298.10" y2="68.80" stroke="#bbb" stroke-width="0.5" />
<line x1="297.10" y1="62.70" x2="298.10" y2="62.70" stroke="#bbb" stroke-width="0.5" />
<line x1="297.10" y1="56.60" x2="298.10" y2="56.60" stroke="#bbb" stroke-width="0.5" />
<line x1="297.10" y1="50.50" x2="298.10" y2="50.50" stroke="#bbb" stroke-width="0.5" />
<path d="M298.10,111.50 L298.11,110.88 L298.12,110.05 L298.13,109.67 L298.14,108.91 L298.16,108.47 L298.17,107.87 L298.18,106.80 L298.19,106.13 L298.20,106.17 L298.40,106.27 L298.60,106.82 L298.80,108.00 L299.00,108.14 L299.20,109.00 L299.40,109.28 L299.60,109.98 L299.80,110.15 L300.00,111.00 L300.62,111.00 L301.25,111.00 L301.88,111.00 L302.50,111.00 L302.62,110.48 L302.75,110.05 L302.87,109.15 L302.99,108.70 L303.12,108.02 L303.24,106.91 L303.36,106.85 L303.48,106.09 L303.61,105.23 L303.73,104.39 L303.85,104.44 L303.98,103.50 L304.10,103.08 L304.16,102.58 L304.22,101.83 L304.28,101.37 L304.34,100.33 L304.41,100.03 L304.47,99.12 L304.53,98.89 L304.59,98.23 L304.65,96.98 L304.71,96.39 L304.77,95.83 L304.83,95.81 L304.89,94.76 L304.96,94.29 L305.02,93.41 L305.08,92.95 L305.14,92.23 L305.20,91.58 L305.25,91.16 L305.31,90.55 L305.37,90.19 L305.42,89.41 L305.48,88.99 L305.53,88.33 L305.58,87.82 L305.64,86.96 L305.69,85.94 L305.75,85.89 L305.81,85.36 L305.86,84.70 L305.92,83.83 L305.97,83.33 L306.02,82.32 L306.08,82.21 L306.13,81.39 L306.19,80.55 L306.25,79.76 L306.30,79.78 L306.35,79.29 L306.40,77.97 L306.45,77.94 L306.50,77.03 L306.55,76.22 L306.60,75.74 L306.65,75.52 L306.70,75.00 L306.75,73.74 L306.80,73.59 L306.85,72.54 L306.90,72.47 L306.95,71.56 L307.00,71.40 L307.05,70.88 L307.10,69.90 L307.15,69.70 L307.20,68.55 L307.25,67.76 L307.30,67.58 L307.35,66.53 L307.40,66.06 L307.46,65.60 L307.51,65.14 L307.57,64.16 L307.62,63.45 L307.68,63.48 L307.73,62.42 L307.79,62.31 L307.84,61.64 L307.90,60.60 L307.96,60.05 L308.01,59.47 L308.07,58.95 L308.12,58.29 L308.18,57.64 L308.23,57.06 L308.29,56.70 L308.34,55.73 L308.40,55.04 L308.60,54.65 L308.80,53.64 L309.00,53.07 L309.20,52.98 L309.53,53.25 L309.87,53.91 L310.20,54.11 L310.45,55.28 L310.70,56.26 L310.86,56.44 L311.02,57.54 L311.19,58.18 L311.35,58.35 L311.51,59.43 L311.68,59.92 L311.84,60.72 L312.00,61.08 L312.04,61.97 L312.08,62.59 L312.12,62.62 L312.16,63.25 L312.21,64.34 L312.25,65.17 L312.29,65.20 L312.33,65.97 L312.37,66.67 L312.41,67.06 L312.45,67.69 L312.49,68.25 L312.54,68.90 L312.58,69.68 L312.62,70.04 L312.66,70.70 L312.70,71.62 L312.77,71.65 L312.84,72.72 L312.91,73.48 L312.98,73.77 L313.04,74.33 L313.11,75.43 L313.18,75.61 L313.25,76.20 L313.32,77.03 L313.39,77.87 L313.46,78.03 L313.52,78.83 L313.59,79.47 L313.66,80.50 L313.73,80.82 L313.80,81.78 L313.88,81.87 L313.95,82.63 L314.03,83.51 L314.11,84.33 L314.18,84.61 L314.26,85.06 L314.34,85.61 L314.42,86.57 L314.49,86.93 L314.57,88.05 L314.65,88.71 L314.72,88.82 L314.80,89.52 L314.95,90.55 L315.10,91.01 L315.25,91.75 L315.40,91.98 L315.55,92.40 L315.70,93.13 L315.85,94.14 L316.00,94.32 L316.15,94.98 L316.30,95.63 L316.68,96.16 L317.05,96.68 L317.43,97.61 L317.80,97.52 L318.10,98.00 L318.40,99.35 L318.70,99.90 L319.00,100.59 L319.30,100.75 L320.00,101.49 L320.70,101.81 L321.40,101.58 L322.07,102.36 L322.73,102.80 L323.40,103.03 L324.02,103.17 L324.65,103.23 L325.27,103.52 L325.90,103.68 L326.42,103.95 L326.94,104.77 L327.46,104.93 L327.98,105.75 L328.50,105.54 L329.00,106.56 L329.50,106.72 L330.00,107.24 L330.50,107.55 L331.00,107.89 L331.50,107.96 L332.02,107.94 L332.53,108.96 L333.05,108.94 L333.57,109.47 L334.08,110.20 L334.60,110.50 L335.27,110.83 L335.93,111.17 L336.60,111.50 L337.21,111.50 L337.82,111.50 L338.43,111.50 L339.04,111.50 L339.65,111.50 L340.26,111.50 L340.87,111.50 L341.48,111.50 L342.09,111.50 L342.70,111.50 L343.30,111.50 L343.91,111.50 L344.52,111.50 L345.13,111.50 L345.74,111.50 L346.35,111.50 L346.96,111.50 L347.57,111.50 L348.18,111.50 L348.79,111.50 L349.40,111.50 L350.01,111.50 L350.62,111.50 L351.23,111.50 L351.84,111.50 L352.45,111.50 L353.06,111.50 L353.67,111.50 L354.28,111.50 L354.89,111.50 L355.50,111.50 L356.10,111.50 L356.71,111.50 L357.32,111.50 L357.93,111.50 L358.54,111.50 L359.15,111.50 L359.76,111.50 L360.37,111.50 L360.98,111.50 L361.59,111.50 L362.20,111.50" stroke="#bb3048" stroke-width="1.2" fill="none" />
<path d="M298.10,111.50 L298.11,110.88 L298.12,110.10 L298.13,109.40 L298.14,108.95 L298.16,108.18 L298.17,107.51 L298.18,107.09 L298.19,106.77 L298.20,106.08 L298.40,106.63 L298.60,106.87 L298.80,107.62 L299.00,108.03 L299.20,108.54 L299.40,109.06 L299.60,109.70 L299.80,110.69 L300.00,111.00 L300.62,111.00 L301.24,111.00 L301.86,111.00 L302.48,111.00 L303.10,111.00 L303.22,110.57 L303.33,109.94 L303.45,109.31 L303.56,108.32 L303.68,107.77 L303.79,107.34 L303.91,106.78 L304.02,106.23 L304.14,105.62 L304.25,104.52 L304.37,104.21 L304.48,103.63 L304.60,102.90 L304.66,102.08 L304.71,101.64 L304.77,100.79 L304.82,100.67 L304.88,100.01 L304.93,99.20 L304.99,98.42 L305.04,98.17 L305.10,97.34 L305.16,96.91 L305.21,96.26 L305.27,95.44 L305.32,94.76 L305.38,94.25 L305.43,93.53 L305.49,92.74 L305.54,92.21 L305.60,91.89 L305.65,90.82 L305.70,90.21 L305.75,89.95 L305.80,89.13 L305.85,88.67 L305.90,88.02 L305.95,87.34 L306.00,87.12 L306.05,86.03 L306.10,85.55 L306.15,84.81 L306.20,84.46 L306.25,83.64 L306.30,83.07 L306.35,82.70 L306.40,81.83 L306.45,81.37 L306.50,80.96 L306.55,79.87 L306.60,79.24 L306.65,78.74 L306.70,78.46 L306.75,77.77 L306.80,76.94 L306.85,76.40 L306.90,75.71 L306.95,75.28 L307.00,74.43 L307.05,74.22 L307.10,73.74 L307.15,73.17 L307.20,72.44 L307.25,71.98 L307.30,70.81 L307.35,70.37 L307.40,70.18 L307.45,69.47 L307.50,68.65 L307.55,68.37 L307.60,67.57 L307.65,67.09 L307.70,66.18 L307.76,65.49 L307.81,65.02 L307.87,64.22 L307.92,63.74 L307.98,63.47 L308.03,62.47 L308.09,61.65 L308.14,61.05 L308.20,60.50 L308.26,60.25 L308.31,59.37 L308.37,58.71 L308.42,57.97 L308.48,57.88 L308.53,56.92 L308.59,56.17 L308.64,55.46 L308.70,54.83 L308.86,54.30 L309.02,54.01 L309.18,53.09 L309.34,52.42 L309.50,52.09 L309.73,52.62 L309.97,53.73 L310.20,53.87 L310.25,54.72 L310.29,55.46 L310.34,55.85 L310.39,56.79 L310.44,57.09 L310.48,57.55 L310.53,58.25 L310.58,58.62 L310.62,59.45 L310.67,59.95 L310.72,60.93 L310.76,61.50 L310.81,61.90 L310.86,62.22 L310.91,62.95 L310.95,63.55 L311.00,64.12 L311.02,64.78 L311.05,65.80 L311.07,66.00 L311.10,66.58 L311.12,67.74 L311.15,68.16 L311.18,69.06 L311.20,69.34 L311.47,70.31 L311.73,70.83 L312.00,71.57 L312.02,72.18 L312.05,72.66 L312.07,73.05 L312.10,73.75 L312.12,74.78 L312.15,75.43 L312.18,76.07 L312.20,76.35 L312.22,77.18 L312.25,77.89 L312.27,78.43 L312.30,79.16 L312.32,79.62 L312.35,80.33 L312.38,80.98 L312.40,81.36 L312.44,82.35 L312.47,82.97 L312.51,83.04 L312.54,84.18 L312.58,84.78 L312.61,85.20 L312.65,85.43 L312.68,86.54 L312.72,86.68 L312.75,87.78 L312.79,88.20 L312.82,88.44 L312.86,89.10 L312.89,89.98 L312.93,90.54 L312.96,91.25 L313.00,91.96 L313.04,92.15 L313.09,92.65 L313.13,93.82 L313.18,93.90 L313.22,95.04 L313.27,95.20 L313.31,96.24 L313.36,96.85 L313.40,97.53 L313.44,97.95 L313.49,98.77 L313.53,98.99 L313.58,99.89 L313.62,100.31 L313.67,101.27 L313.71,101.82 L313.76,102.26 L313.80,102.92 L313.93,103.21 L314.05,103.80 L314.18,104.73 L314.30,105.26 L314.43,106.08 L314.55,106.51 L314.68,106.82 L314.80,107.55 L314.93,108.39 L315.05,108.83 L315.18,109.11 L315.30,110.20 L315.90,110.50 L316.50,110.60 L317.10,110.90 L317.70,111.20 L318.30,111.50 L318.90,111.50 L319.50,111.50 L320.10,111.50 L320.71,111.50 L321.31,111.50 L321.91,111.50 L322.51,111.50 L323.11,111.50 L323.71,111.50 L324.31,111.50 L324.92,111.50 L325.52,111.50 L326.12,111.50 L326.72,111.50 L327.32,111.50 L327.92,111.50 L328.52,111.50 L329.12,111.50 L329.73,111.50 L330.33,111.50 L330.93,111.50 L331.53,111.50 L332.13,111.50 L332.73,111.50 L333.33,111.50 L333.94,111.50 L334.54,111.50 L335.14,111.50 L335.74,111.50 L336.34,111.50 L336.94,111.50 L337.54,111.50 L338.15,111.50 L338.75,111.50 L339.35,111.50 L339.95,111.50 L340.55,111.50 L341.15,111.50 L341.75,111.50 L342.35,111.50 L342.96,111.50 L343.56,111.50 L344.16,111.50 L344.76,111.50 L345.36,111.50 L345.96,111.50 L346.56,111.50 L347.17,111.50 L347.77,111.50 L348.37,111.50 L348.97,111.50 L349.57,111.50 L350.17,111.50 L350.77,111.50 L351.38,111.50 L351.98,111.50 L352.58,111.50 L353.18,111.50 L353.78,111.50 L354.38,111.50 L354.98,111.50 L355.58,111.50 L356.19,111.50 L356.79,111.50 L357.39,111.50 L357.99,111.50 L358.59,111.50 L359.19,111.50 L359.79,111.50 L360.40,111.50 L361.00,111.50 L361.60,111.50 L362.20,111.50" stroke="#111" stroke-width="1.0" fill="none" />
<text transform="translate(290.20,80.20) rotate(-90)" font-size="10.0" text-anchor="middle" fill="#1e1e1e" stroke="#1e1e1e" stroke-width="0.12">Cell number</text>
<text transform="translate(329.20,128.90) scale(1.085,1)" font-size="9.217" text-anchor="middle" fill="#1e1e1e" stroke="#1e1e1e" stroke-width="0.12">GPRC5D</text>
<text x="378.00" y="11.00" font-size="13.2" text-anchor="start" fill="#111" font-weight="bold" stroke="#111" stroke-width="0.35">C</text>
<line x1="434.20" y1="29.60" x2="434.20" y2="116.20" stroke="#111" stroke-width="1.25" />
<line x1="433.60" y1="116.20" x2="516.50" y2="116.20" stroke="#111" stroke-width="1.25" />
<line x1="432.20" y1="116.20" x2="434.20" y2="116.20" stroke="#111" stroke-width="1.0" />
<text x="430.80" y="118.50" font-size="6.3" text-anchor="end" fill="#222" font-weight="bold" stroke="#222" stroke-width="0.15">0</text>
<line x1="432.20" y1="101.83" x2="434.20" y2="101.83" stroke="#111" stroke-width="1.0" />
<text x="430.80" y="104.13" font-size="6.3" text-anchor="end" fill="#222" font-weight="bold" stroke="#222" stroke-width="0.15">20</text>
<line x1="432.20" y1="87.46" x2="434.20" y2="87.46" stroke="#111" stroke-width="1.0" />
<text x="430.80" y="89.76" font-size="6.3" text-anchor="end" fill="#222" font-weight="bold" stroke="#222" stroke-width="0.15">40</text>
<line x1="432.20" y1="73.09" x2="434.20" y2="73.09" stroke="#111" stroke-width="1.0" />
<text x="430.80" y="75.39" font-size="6.3" text-anchor="end" fill="#222" font-weight="bold" stroke="#222" stroke-width="0.15">60</text>
<line x1="432.20" y1="58.72" x2="434.20" y2="58.72" stroke="#111" stroke-width="1.0" />
<text x="430.80" y="61.02" font-size="6.3" text-anchor="end" fill="#222" font-weight="bold" stroke="#222" stroke-width="0.15">80</text>
<line x1="432.20" y1="44.35" x2="434.20" y2="44.35" stroke="#111" stroke-width="1.0" />
<text x="430.80" y="46.65" font-size="6.3" text-anchor="end" fill="#222" font-weight="bold" stroke="#222" stroke-width="0.15">100</text>
<line x1="432.20" y1="29.98" x2="434.20" y2="29.98" stroke="#111" stroke-width="1.0" />
<text x="430.80" y="32.28" font-size="6.3" text-anchor="end" fill="#222" font-weight="bold" stroke="#222" stroke-width="0.15">120</text>
<line x1="458.60" y1="116.20" x2="458.60" y2="118.20" stroke="#111" stroke-width="1.0" />
<line x1="494.60" y1="116.20" x2="494.60" y2="118.20" stroke="#111" stroke-width="1.0" />
<circle cx="450.4" cy="46.2" r="1.8" fill="#0a0a0a"/>
<circle cx="453.1" cy="45.4" r="1.8" fill="#0a0a0a"/>
<circle cx="461" cy="44.8" r="1.8" fill="#0a0a0a"/>
<circle cx="455.8" cy="49.4" r="1.8" fill="#0a0a0a"/>
<circle cx="461" cy="50.8" r="1.8" fill="#0a0a0a"/>
<circle cx="466.2" cy="49" r="1.8" fill="#0a0a0a"/>
<circle cx="458.7" cy="61.2" r="1.8" fill="#0a0a0a"/>
<circle cx="458.7" cy="74.2" r="1.8" fill="#0a0a0a"/>
<circle cx="458.7" cy="85.6" r="1.8" fill="#0a0a0a"/>
<circle cx="458.7" cy="105.8" r="1.8" fill="#0a0a0a"/>
<circle cx="458.7" cy="116.3" r="1.8" fill="#0a0a0a"/>
<line x1="446.50" y1="65.90" x2="470.40" y2="65.90" stroke="#0a0a0a" stroke-width="1.25" />
<rect x="487.90000000000003" y="96.2" width="3.4" height="3.4" fill="#0a0a0a"/>
<rect x="492.90000000000003" y="99.8" width="3.4" height="3.4" fill="#0a0a0a"/>
<rect x="498.1" y="96.6" width="3.4" height="3.4" fill="#0a0a0a"/>
<line x1="482.50" y1="99.20" x2="506.90" y2="99.20" stroke="#0a0a0a" stroke-width="1.25" />
<text transform="translate(401.60,73.00) rotate(-90)" font-size="10.0" text-anchor="middle" fill="#1e1e1e" stroke="#1e1e1e" stroke-width="0.12">% of GPRC5D</text>
<text transform="translate(415.10,73.00) rotate(-90)" font-size="10.0" text-anchor="middle" fill="#1e1e1e" stroke="#1e1e1e" stroke-width="0.12">Positive cells</text>
<text transform="translate(455.30,132.00) scale(1.085,1)" font-size="9.217" text-anchor="middle" fill="#1e1e1e" stroke="#1e1e1e" stroke-width="0.12">Myeloma</text>
<text transform="translate(455.30,145.40) scale(1.085,1)" font-size="9.217" text-anchor="middle" fill="#1e1e1e" stroke="#1e1e1e" stroke-width="0.12">cells</text>
<text transform="translate(497.40,138.30) scale(1.085,1)" font-size="9.217" text-anchor="middle" fill="#1e1e1e" stroke="#1e1e1e" stroke-width="0.12">B cells</text>
<text x="6.90" y="162.80" font-size="13.9" text-anchor="start" fill="#111" font-weight="bold" stroke="#111" stroke-width="0.35">D</text>
<text transform="translate(60.40,175.60) scale(1.085,1)" font-size="9.217" text-anchor="middle" fill="#1e1e1e" stroke="#1e1e1e" stroke-width="0.12">NCI-H929</text>
<line x1="28.00" y1="178.80" x2="91.60" y2="178.80" stroke="#c8c8c8" stroke-width="0.8" />
<line x1="91.60" y1="178.80" x2="91.60" y2="243.60" stroke="#d0d0d0" stroke-width="0.8" />
<line x1="28.00" y1="178.80" x2="28.00" y2="243.60" stroke="#666" stroke-width="0.8" />
<line x1="27.50" y1="243.60" x2="91.60" y2="243.60" stroke="#333" stroke-width="0.9" />
<line x1="26.70" y1="243.60" x2="28.00" y2="243.60" stroke="#444" stroke-width="0.6" />
<text x="26.20" y="244.90" font-size="3.7" text-anchor="end" fill="#333" stroke="#333" stroke-width="0.12">0</text>
<line x1="26.70" y1="231.22" x2="28.00" y2="231.22" stroke="#444" stroke-width="0.6" />
<text x="26.20" y="232.52" font-size="3.7" text-anchor="end" fill="#333" stroke="#333" stroke-width="0.12">20</text>
<line x1="26.70" y1="218.84" x2="28.00" y2="218.84" stroke="#444" stroke-width="0.6" />
<text x="26.20" y="220.14" font-size="3.7" text-anchor="end" fill="#333" stroke="#333" stroke-width="0.12">40</text>
<line x1="26.70" y1="206.46" x2="28.00" y2="206.46" stroke="#444" stroke-width="0.6" />
<text x="26.20" y="207.76" font-size="3.7" text-anchor="end" fill="#333" stroke="#333" stroke-width="0.12">60</text>
<line x1="26.70" y1="194.08" x2="28.00" y2="194.08" stroke="#444" stroke-width="0.6" />
<text x="26.20" y="195.38" font-size="3.7" text-anchor="end" fill="#333" stroke="#333" stroke-width="0.12">80</text>
<line x1="26.70" y1="181.70" x2="28.00" y2="181.70" stroke="#444" stroke-width="0.6" />
<text x="26.20" y="183.00" font-size="3.7" text-anchor="end" fill="#333" stroke="#333" stroke-width="0.12">100</text>
<line x1="34.50" y1="243.60" x2="34.50" y2="244.80" stroke="#555" stroke-width="0.5" />
<text x="34.50" y="249.00" font-size="3.7" text-anchor="middle" fill="#333" stroke="#333" stroke-width="0.12">0</text>
<line x1="40.50" y1="243.60" x2="40.50" y2="244.80" stroke="#555" stroke-width="0.5" />
<text x="40.50" y="249.00" font-size="3.7" text-anchor="middle" fill="#333" stroke="#333" stroke-width="0.12">10²</text>
<line x1="56.00" y1="243.60" x2="56.00" y2="244.80" stroke="#555" stroke-width="0.5" />
<text x="56.00" y="249.00" font-size="3.7" text-anchor="middle" fill="#333" stroke="#333" stroke-width="0.12">10³</text>
<line x1="72.00" y1="243.60" x2="72.00" y2="244.80" stroke="#555" stroke-width="0.5" />
<text x="72.00" y="249.00" font-size="3.7" text-anchor="middle" fill="#333" stroke="#333" stroke-width="0.12">10⁴</text>
<line x1="87.00" y1="243.60" x2="87.00" y2="244.80" stroke="#555" stroke-width="0.5" />
<text x="87.00" y="249.00" font-size="3.7" text-anchor="middle" fill="#333" stroke="#333" stroke-width="0.12">10⁵</text>
<path d="M28.00,243.60 L28.30,243.30 L28.92,243.28 L29.53,243.27 L30.15,243.25 L30.76,243.24 L31.38,243.22 L31.99,243.21 L32.61,243.19 L33.23,243.17 L33.84,243.16 L34.46,243.14 L35.07,243.13 L35.69,243.11 L36.31,243.09 L36.92,243.08 L37.54,243.06 L38.15,243.05 L38.77,243.03 L39.38,243.02 L40.00,243.00 L40.62,242.97 L41.23,242.94 L41.85,242.91 L42.46,242.88 L43.08,242.85 L43.69,242.82 L44.31,242.78 L44.92,242.75 L45.54,242.72 L46.15,242.69 L46.77,242.66 L47.38,242.63 L48.00,242.60 L48.62,242.60 L49.25,242.60 L49.88,242.55 L50.50,242.57 L51.12,242.37 L51.75,242.40 L52.38,241.79 L53.00,241.98 L53.60,242.17 L54.20,241.89 L54.80,241.94 L55.40,241.37 L56.00,241.48 L56.55,240.97 L57.10,240.78 L57.65,240.42 L58.20,239.71 L58.65,239.41 L59.10,239.02 L59.55,238.97 L60.00,238.46 L60.26,237.55 L60.51,237.39 L60.77,236.45 L61.03,236.20 L61.29,235.36 L61.54,234.74 L61.80,234.72 L61.98,233.69 L62.16,233.06 L62.33,232.89 L62.51,232.19 L62.69,231.21 L62.87,230.98 L63.04,230.09 L63.22,229.54 L63.40,228.62 L63.53,228.45 L63.65,227.68 L63.78,227.23 L63.91,226.56 L64.04,225.59 L64.16,225.01 L64.29,224.27 L64.42,223.64 L64.55,222.98 L64.67,222.50 L64.80,222.06 L64.91,221.10 L65.02,220.91 L65.13,220.10 L65.24,219.49 L65.35,219.19 L65.45,218.39 L65.56,217.69 L65.67,217.19 L65.78,216.72 L65.89,215.73 L66.00,215.69 L66.10,214.50 L66.20,214.32 L66.30,213.76 L66.40,212.64 L66.50,212.49 L66.60,211.62 L66.70,211.13 L66.80,210.17 L66.90,209.58 L67.00,209.04 L67.10,208.89 L67.20,207.82 L67.29,207.54 L67.38,207.04 L67.47,206.44 L67.56,205.47 L67.65,204.86 L67.74,204.35 L67.83,203.90 L67.92,202.88 L68.01,202.66 L68.10,202.08 L68.20,201.49 L68.30,200.38 L68.40,200.30 L68.50,199.16 L68.60,198.69 L68.70,198.23 L68.80,197.79 L68.90,196.82 L69.00,196.55 L69.10,195.70 L69.20,194.93 L69.30,194.31 L69.40,193.61 L69.55,192.91 L69.70,192.32 L69.85,192.01 L70.00,191.56 L70.15,190.43 L70.30,189.73 L70.37,189.69 L70.45,188.82 L70.52,188.14 L70.59,187.44 L70.66,187.06 L70.74,186.60 L70.81,185.77 L70.88,185.15 L70.95,184.33 L71.03,184.25 L71.10,183.12 L71.27,184.05 L71.45,184.90 L71.62,185.13 L71.80,186.14 L71.96,186.97 L72.12,187.48 L72.28,188.27 L72.44,188.56 L72.60,189.46 L72.73,188.67 L72.87,188.47 L73.00,187.53 L73.13,187.01 L73.27,186.72 L73.40,186.01 L73.67,186.65 L73.93,186.91 L74.20,187.49 L74.35,186.91 L74.50,186.04 L74.65,185.20 L74.80,184.54 L74.96,185.07 L75.12,185.89 L75.28,186.93 L75.44,187.60 L75.60,188.08 L75.84,188.64 L76.08,189.18 L76.32,189.67 L76.56,190.42 L76.80,191.37 L76.86,192.05 L76.91,192.37 L76.97,193.26 L77.03,193.88 L77.09,194.46 L77.14,195.07 L77.20,195.76 L77.26,196.15 L77.31,196.98 L77.37,197.35 L77.43,198.11 L77.49,198.90 L77.54,199.49 L77.60,199.88 L77.64,200.88 L77.69,201.32 L77.73,201.89 L77.77,202.16 L77.81,203.10 L77.86,203.54 L77.90,204.40 L77.94,204.89 L77.99,205.72 L78.03,206.23 L78.07,206.94 L78.11,207.28 L78.16,208.07 L78.20,208.74 L78.26,209.41 L78.33,209.73 L78.39,210.64 L78.46,211.27 L78.52,211.77 L78.59,212.56 L78.65,213.16 L78.72,213.51 L78.78,214.12 L78.85,214.52 L78.91,215.53 L78.98,216.20 L79.04,216.54 L79.11,217.28 L79.17,217.91 L79.24,218.53 L79.30,218.80 L79.36,219.78 L79.41,220.27 L79.47,220.94 L79.53,221.40 L79.58,222.14 L79.64,222.84 L79.69,223.37 L79.75,224.03 L79.81,224.23 L79.86,224.92 L79.92,225.70 L79.97,226.44 L80.03,226.79 L80.09,227.69 L80.14,228.27 L80.20,228.53 L80.28,229.38 L80.37,229.84 L80.45,230.33 L80.53,230.98 L80.62,231.69 L80.70,232.21 L80.78,232.82 L80.87,233.32 L80.95,234.18 L81.03,234.73 L81.12,235.47 L81.20,236.05 L81.33,236.47 L81.45,237.49 L81.58,237.58 L81.70,238.44 L81.83,238.99 L81.95,239.70 L82.08,240.14 L82.20,241.20 L82.65,241.50 L83.10,241.87 L83.55,242.73 L84.00,243.30 L84.63,243.33 L85.27,243.35 L85.90,243.38 L86.53,243.40 L87.17,243.43 L87.80,243.45 L88.43,243.47 L89.07,243.50 L89.70,243.53 L90.33,243.55 L90.97,243.57 L91.60,243.60" stroke="#bb3048" stroke-width="0.9" fill="none" />
<path d="M28.00,243.60 L28.15,242.95 L28.30,242.48 L28.98,242.72 L29.65,242.75 L30.32,242.97 L31.00,243.20 L31.62,243.14 L32.25,243.07 L32.88,243.01 L33.50,242.95 L34.12,242.89 L34.75,242.82 L35.38,242.76 L36.00,242.70 L36.63,242.63 L37.27,242.56 L37.90,242.36 L38.53,242.13 L39.17,242.46 L39.80,242.28 L40.40,242.23 L41.00,241.77 L41.60,241.79 L42.20,241.26 L43.00,241.18 L43.80,240.74 L44.50,240.15 L45.20,239.82 L45.63,239.31 L46.07,238.42 L46.50,238.03 L46.62,237.57 L46.74,236.64 L46.87,236.35 L46.99,235.67 L47.11,235.15 L47.23,234.23 L47.36,233.48 L47.48,233.29 L47.60,232.68 L47.70,231.83 L47.80,230.98 L47.90,230.40 L48.00,230.02 L48.10,229.17 L48.20,228.93 L48.30,228.07 L48.40,227.20 L48.50,226.83 L48.60,226.02 L48.70,225.75 L48.80,225.13 L48.90,224.28 L49.00,223.75 L49.10,223.17 L49.20,222.62 L49.30,222.12 L49.40,220.94 L49.50,220.53 L49.60,220.06 L49.70,219.28 L49.80,218.85 L49.90,217.95 L50.00,217.83 L50.10,217.02 L50.20,216.17 L50.30,215.90 L50.40,215.09 L50.50,214.42 L50.60,213.99 L50.66,213.15 L50.73,212.55 L50.79,212.31 L50.85,211.57 L50.92,210.53 L50.98,210.35 L51.05,209.26 L51.11,208.81 L51.17,208.52 L51.24,207.71 L51.30,206.88 L51.38,206.29 L51.45,205.66 L51.52,204.86 L51.60,204.75 L51.67,203.54 L51.75,203.13 L51.82,202.69 L51.90,201.84 L51.95,201.56 L51.99,200.49 L52.04,200.31 L52.09,199.63 L52.13,198.87 L52.18,198.37 L52.23,197.48 L52.27,197.09 L52.32,196.44 L52.37,195.64 L52.41,194.99 L52.46,194.50 L52.51,193.70 L52.55,192.88 L52.60,192.65 L52.92,191.68 L53.25,191.14 L53.58,190.65 L53.90,189.60 L54.07,188.88 L54.23,188.31 L54.40,187.95 L54.57,187.18 L54.73,186.49 L54.90,185.97 L55.06,185.68 L55.22,184.69 L55.38,184.21 L55.54,183.91 L55.70,183.17 L55.83,183.61 L55.97,184.38 L56.10,185.04 L56.23,185.49 L56.37,186.28 L56.50,186.88 L56.61,187.78 L56.73,188.09 L56.84,188.90 L56.96,189.68 L57.07,190.25 L57.19,190.53 L57.30,191.26 L57.35,191.72 L57.40,192.40 L57.45,193.08 L57.50,193.89 L57.55,194.60 L57.60,194.85 L57.65,195.30 L57.70,196.20 L57.75,196.59 L57.80,197.20 L57.85,198.28 L57.90,198.51 L57.95,199.50 L58.00,199.92 L58.04,200.88 L58.09,201.44 L58.13,201.58 L58.17,202.27 L58.21,203.34 L58.26,203.75 L58.30,204.25 L58.34,205.08 L58.39,205.72 L58.43,206.14 L58.47,206.74 L58.51,207.13 L58.56,207.90 L58.60,208.39 L58.70,209.33 L58.80,209.98 L58.90,210.35 L59.00,211.30 L59.10,211.64 L59.20,212.30 L59.30,213.28 L59.40,213.82 L59.50,214.74 L59.60,215.19 L59.70,215.85 L59.80,216.11 L59.90,217.15 L60.00,217.31 L60.10,218.25 L60.20,219.03 L60.30,219.64 L60.38,220.29 L60.46,220.67 L60.54,221.47 L60.62,222.17 L60.70,222.43 L60.78,223.57 L60.86,224.20 L60.94,224.56 L61.02,225.42 L61.10,225.87 L61.24,226.40 L61.38,227.30 L61.51,227.55 L61.65,228.63 L61.79,229.37 L61.93,229.60 L62.06,230.63 L62.20,230.75 L62.32,231.80 L62.44,232.05 L62.56,233.05 L62.68,233.32 L62.80,234.20 L62.92,234.26 L63.04,234.88 L63.16,235.91 L63.28,236.39 L63.40,236.92 L63.57,237.22 L63.73,237.90 L63.90,238.62 L64.07,239.03 L64.23,240.20 L64.40,240.66 L64.73,241.37 L65.07,241.82 L65.40,242.21 L66.05,242.30 L66.70,242.80 L67.35,243.05 L68.00,243.30 L68.61,243.31 L69.21,243.32 L69.82,243.32 L70.42,243.33 L71.03,243.34 L71.63,243.35 L72.24,243.35 L72.84,243.36 L73.45,243.37 L74.05,243.38 L74.66,243.38 L75.26,243.39 L75.87,243.40 L76.47,243.41 L77.08,243.42 L77.68,243.42 L78.29,243.43 L78.89,243.44 L79.50,243.45 L80.10,243.45 L80.71,243.46 L81.31,243.47 L81.92,243.48 L82.52,243.48 L83.13,243.49 L83.73,243.50 L84.34,243.51 L84.94,243.52 L85.55,243.52 L86.15,243.53 L86.76,243.54 L87.36,243.55 L87.97,243.55 L88.57,243.56 L89.18,243.57 L89.78,243.58 L90.39,243.58 L90.99,243.59 L91.60,243.60" stroke="#111" stroke-width="0.9" fill="none" />
<circle cx="61.1" cy="225.9" r="0.9" fill="#111"/>
<text transform="translate(17.20,214.00) rotate(-90)" font-size="10.0" text-anchor="middle" fill="#1e1e1e" stroke="#1e1e1e" stroke-width="0.12">Cell number</text>
<text transform="translate(55.80,263.30) scale(1.085,1)" font-size="9.217" text-anchor="middle" fill="#1e1e1e" stroke="#1e1e1e" stroke-width="0.12">GPRC5D</text>
<text x="102.60" y="163.10" font-size="13.9" text-anchor="start" fill="#111" font-weight="bold" stroke="#111" stroke-width="0.35">E</text>
<text transform="translate(186.50,176.00) scale(1.085,1)" font-size="9.217" text-anchor="middle" fill="#1e1e1e" stroke="#1e1e1e" stroke-width="0.12">Normal plasma cells</text>
<line x1="120.10" y1="184.40" x2="181.00" y2="184.40" stroke="#cfcfcf" stroke-width="0.8" />
<line x1="181.00" y1="184.40" x2="181.00" y2="244.60" stroke="#cfcfcf" stroke-width="0.8" />
<line x1="120.10" y1="184.40" x2="120.10" y2="244.60" stroke="#555" stroke-width="0.8" />
<line x1="120.10" y1="244.60" x2="181.00" y2="244.60" stroke="#555" stroke-width="0.8" />
<line x1="118.90" y1="189.00" x2="120.10" y2="189.00" stroke="#666" stroke-width="0.5" />
<text x="118.40" y="190.30" font-size="3.7" text-anchor="end" fill="#333" stroke="#333" stroke-width="0.12">10⁵</text>
<line x1="118.90" y1="203.00" x2="120.10" y2="203.00" stroke="#666" stroke-width="0.5" />
<text x="118.40" y="204.30" font-size="3.7" text-anchor="end" fill="#333" stroke="#333" stroke-width="0.12">10⁴</text>
<line x1="118.90" y1="217.00" x2="120.10" y2="217.00" stroke="#666" stroke-width="0.5" />
<text x="118.40" y="218.30" font-size="3.7" text-anchor="end" fill="#333" stroke="#333" stroke-width="0.12">10³</text>
<line x1="118.90" y1="231.00" x2="120.10" y2="231.00" stroke="#666" stroke-width="0.5" />
<text x="118.40" y="232.30" font-size="3.7" text-anchor="end" fill="#333" stroke="#333" stroke-width="0.12">10²</text>
<line x1="118.90" y1="238.00" x2="120.10" y2="238.00" stroke="#666" stroke-width="0.5" />
<text x="118.40" y="239.30" font-size="3.7" text-anchor="end" fill="#333" stroke="#333" stroke-width="0.12">0</text>
<line x1="125.50" y1="244.60" x2="125.50" y2="245.80" stroke="#666" stroke-width="0.5" />
<text x="125.50" y="249.90" font-size="3.7" text-anchor="middle" fill="#333" stroke="#333" stroke-width="0.12">0</text>
<line x1="131.00" y1="244.60" x2="131.00" y2="245.80" stroke="#666" stroke-width="0.5" />
<text x="131.00" y="249.90" font-size="3.7" text-anchor="middle" fill="#333" stroke="#333" stroke-width="0.12">10²</text>
<line x1="146.00" y1="244.60" x2="146.00" y2="245.80" stroke="#666" stroke-width="0.5" />
<text x="146.00" y="249.90" font-size="3.7" text-anchor="middle" fill="#333" stroke="#333" stroke-width="0.12">10³</text>
<line x1="161.00" y1="244.60" x2="161.00" y2="245.80" stroke="#666" stroke-width="0.5" />
<text x="161.00" y="249.90" font-size="3.7" text-anchor="middle" fill="#333" stroke="#333" stroke-width="0.12">10⁴</text>
<line x1="175.00" y1="244.60" x2="175.00" y2="245.80" stroke="#666" stroke-width="0.5" />
<text x="175.00" y="249.90" font-size="3.7" text-anchor="middle" fill="#333" stroke="#333" stroke-width="0.12">10⁵</text>
<polygon points="120.4,225.1 128.5,225.1 135.2,222.4 142.0,219.7 150.0,217.7 154.0,218.3 156.7,221.0 158.1,226.4 158.7,230.5 162.0,232.0 181.0,233.0 181,244.6 120.1,244.6" fill="#222" opacity="0.12"/>
<polygon points="120.4,222.5 128.5,222.5 135.2,219.8 142.0,217.1 150.0,215.1 154.0,215.7 156.7,218.4 158.1,223.8 158.5,229.1 120.1,229.1" fill="#333" opacity="0.045"/>
<polygon points="120.4,219.9 128.5,219.9 135.2,217.2 142.0,214.5 150.0,212.5 154.0,213.1 156.7,215.8 158.1,221.2 158.5,229.1 120.1,229.1" fill="#333" opacity="0.045"/>
<polygon points="120.4,217.3 128.5,217.3 135.2,214.6 142.0,211.9 150.0,209.9 154.0,210.5 156.7,213.2 158.1,218.6 158.5,229.1 120.1,229.1" fill="#333" opacity="0.045"/>
<polygon points="120.4,214.7 128.5,214.7 135.2,212.0 142.0,209.3 150.0,207.3 154.0,207.9 156.7,210.6 158.1,216.0 158.5,229.1 120.1,229.1" fill="#333" opacity="0.045"/>
<polygon points="120.4,212.1 128.5,212.1 135.2,209.4 142.0,206.7 150.0,204.7 154.0,205.3 156.7,208.0 158.1,213.4 158.5,229.1 120.1,229.1" fill="#333" opacity="0.045"/>
<polygon points="120.4,209.5 128.5,209.5 135.2,206.8 142.0,204.1 150.0,202.1 154.0,202.7 156.7,205.4 158.1,210.8 158.5,229.1 120.1,229.1" fill="#333" opacity="0.045"/>
<polygon points="120.4,206.9 128.5,206.9 135.2,204.2 142.0,201.5 150.0,199.5 154.0,200.1 156.7,202.8 158.1,208.2 158.5,229.1 120.1,229.1" fill="#333" opacity="0.045"/>
<polygon points="120.4,204.3 128.5,204.3 135.2,201.6 142.0,198.9 150.0,196.9 154.0,197.5 156.7,200.2 158.1,205.6 158.5,229.1 120.1,229.1" fill="#333" opacity="0.045"/>
<path d="M134.4,230.4h.6M153.2,225.7h.6M123.5,222.3h.6M132.1,234.0h.6M130.5,235.9h.6M164.5,234.4h.6M157.3,238.3h.6M132.6,233.6h.6M151.6,236.2h.6M135.0,227.5h.6M179.4,232.6h.6M172.7,236.8h.6M136.1,238.9h.6M153.4,231.4h.6M171.8,242.8h.6M125.0,222.2h.6M169.5,236.8h.6M128.5,237.2h.6M145.3,204.3h.6M138.3,234.0h.6M144.7,216.6h.6M154.5,243.1h.6M137.4,242.6h.6M163.0,230.6h.6M175.0,233.7h.6M141.8,220.7h.6M163.5,236.4h.6M124.8,234.5h.6M154.9,233.1h.6M121.1,242.1h.6M141.4,216.4h.6M173.7,232.7h.6M145.2,217.6h.6M155.7,241.3h.6M124.9,242.7h.6M156.8,242.3h.6M145.0,218.6h.6M139.9,219.8h.6M157.4,242.2h.6M163.6,234.9h.6M150.1,215.4h.6M168.5,242.5h.6M145.1,236.8h.6M123.2,227.0h.6M126.5,222.2h.6M129.5,235.2h.6M130.3,230.4h.6M171.5,234.0h.6M145.7,230.7h.6M180.2,231.4h.6M173.5,235.5h.6M137.6,229.6h.6M130.7,241.4h.6M146.9,215.1h.6M165.6,233.3h.6M145.4,220.7h.6M139.3,210.0h.6M145.9,217.8h.6M150.9,217.9h.6M171.5,230.3h.6M124.1,222.9h.6M123.3,229.3h.6M123.4,217.0h.6M155.5,235.8h.6M140.2,242.0h.6M134.4,213.1h.6M150.9,219.1h.6M158.3,239.1h.6M149.5,218.1h.6M160.6,236.7h.6M150.4,220.7h.6M174.2,240.3h.6M138.7,219.7h.6M128.5,238.5h.6M148.8,222.1h.6M133.9,219.9h.6M121.4,227.0h.6M145.9,219.2h.6M169.0,226.2h.6M157.0,238.5h.6M164.2,237.4h.6M171.7,230.4h.6M155.1,219.7h.6M155.3,225.3h.6M168.7,236.6h.6M163.6,231.5h.6M156.6,241.6h.6M158.1,230.1h.6M143.4,219.6h.6M135.2,239.5h.6M148.9,237.1h.6M136.9,243.7h.6M151.5,236.7h.6M127.1,231.1h.6M155.2,232.2h.6M174.2,223.0h.6M125.0,221.5h.6M141.3,236.6h.6M180.4,242.6h.6M125.9,227.2h.6M147.7,241.4h.6M122.5,235.2h.6M170.6,237.5h.6M124.0,210.7h.6M125.6,228.4h.6M126.0,217.2h.6M133.8,214.5h.6M158.3,234.9h.6M141.2,224.1h.6M144.7,208.7h.6M148.7,219.7h.6M144.7,219.2h.6M147.7,213.3h.6M171.3,231.0h.6M141.4,219.8h.6M140.8,206.3h.6M158.1,242.4h.6M132.5,217.7h.6M126.3,217.3h.6M122.9,243.1h.6M123.7,224.0h.6M157.1,230.4h.6M164.9,230.7h.6M127.9,220.8h.6M177.4,234.1h.6M164.8,237.6h.6M136.2,241.5h.6M142.8,241.6h.6M126.6,237.2h.6M134.7,222.6h.6M155.0,235.2h.6M123.6,223.7h.6M156.3,243.1h.6M124.0,223.8h.6M150.1,235.9h.6M176.8,229.5h.6M147.0,232.8h.6M129.4,223.6h.6M179.3,229.4h.6M162.4,238.7h.6M159.7,229.0h.6M175.0,230.7h.6M130.9,215.7h.6M178.4,244.0h.6M142.3,241.7h.6M133.0,232.8h.6M155.6,237.1h.6M157.3,240.4h.6M129.8,235.3h.6M139.6,212.4h.6M176.5,233.6h.6M149.3,224.2h.6M169.7,241.9h.6M128.5,235.3h.6M154.2,224.2h.6M155.6,221.0h.6M144.5,234.0h.6M145.6,211.5h.6M159.8,244.0h.6M148.9,230.3h.6M141.7,238.1h.6M153.2,237.9h.6M152.8,223.1h.6M125.2,243.5h.6M165.2,243.9h.6M145.4,210.0h.6M172.5,242.8h.6M123.2,228.4h.6M156.9,230.1h.6M164.8,243.7h.6M160.1,243.4h.6M124.3,226.6h.6M148.9,205.3h.6M158.1,225.2h.6M141.6,219.4h.6M155.3,227.0h.6M156.4,234.7h.6M122.7,226.7h.6M144.2,222.1h.6M170.7,237.5h.6M155.8,234.4h.6M143.0,233.3h.6M154.1,243.1h.6M179.6,233.6h.6M152.2,243.7h.6M139.1,243.5h.6M142.7,237.5h.6M139.8,213.9h.6M133.1,234.3h.6M144.2,225.7h.6M170.6,237.0h.6M122.8,218.8h.6M149.6,212.5h.6M177.0,229.5h.6M123.7,235.0h.6M153.4,212.9h.6M145.9,222.9h.6M143.6,234.5h.6M129.0,242.9h.6M142.6,213.6h.6M143.2,215.5h.6M176.0,242.6h.6M133.0,219.6h.6M152.5,220.2h.6M147.4,223.8h.6M122.1,233.8h.6M143.5,222.4h.6M125.7,231.6h.6M144.6,228.3h.6M142.7,203.2h.6M134.2,243.7h.6M127.2,239.5h.6M161.4,244.1h.6M150.3,220.4h.6M180.2,230.7h.6M149.9,220.2h.6M142.3,214.2h.6M123.4,219.1h.6M124.3,228.8h.6M149.9,213.7h.6M137.5,214.6h.6M146.5,240.7h.6M132.4,232.5h.6M141.5,239.9h.6M130.2,237.5h.6M130.9,208.3h.6M123.6,224.5h.6M153.9,220.3h.6M177.8,230.2h.6M160.8,229.1h.6M154.5,240.6h.6M145.2,221.1h.6M140.3,242.6h.6M154.2,239.5h.6M169.4,229.0h.6M155.5,228.1h.6M174.2,234.5h.6M149.0,237.9h.6M126.0,230.9h.6M158.5,229.7h.6M149.1,215.1h.6M172.2,240.4h.6M171.1,232.9h.6M161.6,236.5h.6M150.5,217.6h.6M158.4,219.1h.6M123.9,236.4h.6M120.5,238.2h.6M147.7,243.8h.6M152.9,203.8h.6M140.7,223.0h.6M138.7,218.6h.6M140.8,236.8h.6M179.8,233.8h.6M130.0,236.3h.6M160.4,239.9h.6M178.7,243.3h.6M129.2,239.7h.6M148.3,241.9h.6M121.3,213.7h.6M126.3,229.8h.6M178.2,230.4h.6M129.7,230.9h.6M125.1,235.4h.6M144.2,226.1h.6M167.9,223.7h.6M139.8,223.2h.6M142.7,231.0h.6M171.9,229.7h.6M133.3,242.3h.6M155.7,240.2h.6M136.0,238.2h.6M130.7,242.9h.6M134.0,221.5h.6M163.5,231.2h.6M164.0,242.4h.6M146.4,213.9h.6M156.2,240.4h.6M156.2,217.7h.6M147.7,239.3h.6M128.3,223.4h.6M123.3,240.0h.6M158.7,223.6h.6M151.2,231.6h.6M153.4,231.8h.6M151.5,228.9h.6M135.8,228.6h.6M148.8,217.3h.6M129.1,228.0h.6M124.7,226.4h.6M155.9,215.0h.6M144.7,239.6h.6M143.6,211.7h.6M159.3,235.4h.6M133.5,224.9h.6M144.3,237.4h.6M164.9,244.0h.6M150.5,230.8h.6M133.7,223.1h.6M173.4,238.0h.6M132.3,228.1h.6M142.2,211.5h.6M142.3,218.6h.6M171.0,231.4h.6M170.9,239.1h.6M141.0,218.6h.6M168.2,232.2h.6M127.1,237.7h.6M157.7,232.1h.6M142.7,237.0h.6M127.8,241.9h.6M163.9,237.0h.6M167.4,236.7h.6M163.0,243.9h.6M148.4,214.2h.6M138.1,242.8h.6M129.7,240.4h.6M147.6,224.0h.6M123.8,225.0h.6M140.5,218.0h.6M143.7,239.7h.6M168.9,230.6h.6M142.4,240.4h.6M135.6,224.3h.6M159.5,231.2h.6M144.0,218.9h.6M145.7,217.3h.6M131.5,227.1h.6M171.1,226.3h.6M154.1,212.3h.6M122.8,233.5h.6M158.7,241.7h.6M122.7,239.7h.6M129.2,225.2h.6M136.2,238.2h.6M121.9,203.2h.6M147.4,223.7h.6M142.1,223.2h.6M149.2,209.7h.6M129.2,235.6h.6M134.8,224.4h.6M170.0,231.5h.6M137.1,233.1h.6M139.9,221.0h.6M132.1,241.0h.6M127.5,231.0h.6M161.5,229.4h.6M130.1,242.8h.6M154.5,231.3h.6M139.7,216.5h.6M176.7,230.6h.6M143.7,220.1h.6M126.4,223.8h.6M165.4,236.7h.6M136.7,220.1h.6M138.1,243.3h.6M121.1,243.2h.6M173.4,238.5h.6M159.4,232.9h.6M126.5,227.1h.6M128.9,243.5h.6M161.9,229.4h.6M153.1,236.2h.6M146.4,215.5h.6M123.1,211.6h.6M171.1,237.8h.6M157.0,198.9h.6M126.4,239.5h.6M123.0,242.2h.6M134.0,222.7h.6M157.8,238.1h.6M147.0,222.9h.6M159.8,229.1h.6M179.8,228.0h.6M121.4,239.1h.6M178.0,232.7h.6M130.9,237.3h.6M176.5,232.8h.6M172.6,232.5h.6M151.8,224.4h.6M179.8,229.2h.6M175.4,241.9h.6M177.1,232.1h.6M124.8,220.9h.6M146.9,229.1h.6M175.8,231.2h.6M160.7,239.7h.6M129.9,238.0h.6M140.8,199.5h.6M152.5,224.5h.6M178.8,244.1h.6M164.2,236.1h.6M132.2,218.2h.6M147.2,209.4h.6M171.7,244.0h.6M146.4,217.2h.6M125.5,233.9h.6M131.1,225.5h.6M167.5,221.8h.6M135.5,216.3h.6M129.9,226.6h.6M163.0,231.0h.6M156.7,215.0h.6M158.5,239.6h.6M129.9,229.8h.6M136.5,243.0h.6M153.8,230.0h.6M152.3,243.7h.6M141.1,242.8h.6M180.0,241.5h.6M129.0,231.5h.6M125.4,210.5h.6M128.6,226.4h.6M160.8,227.3h.6M145.9,223.8h.6M166.5,230.8h.6M125.1,229.7h.6M150.9,222.6h.6M159.5,225.9h.6M174.4,232.4h.6M152.9,219.2h.6M161.6,238.3h.6M153.9,233.9h.6M136.1,222.0h.6M157.2,228.2h.6M171.0,237.7h.6M143.1,217.8h.6M140.2,236.9h.6M127.1,241.8h.6M167.5,226.6h.6M120.8,228.4h.6M144.6,210.1h.6M155.1,233.7h.6M137.6,217.5h.6M170.9,229.2h.6M130.6,220.0h.6M156.7,216.2h.6M140.8,232.1h.6M161.4,241.4h.6M167.5,233.2h.6M168.4,231.0h.6M144.7,208.0h.6M123.0,231.7h.6M159.8,237.1h.6M142.4,216.5h.6M137.1,241.6h.6M140.2,220.4h.6M125.1,238.3h.6M132.7,221.3h.6M145.3,239.2h.6M151.1,218.5h.6M130.7,241.6h.6M128.1,219.8h.6M144.7,214.5h.6M172.8,233.2h.6M131.0,221.7h.6M145.8,221.8h.6M158.6,243.5h.6M140.7,216.8h.6M149.2,220.2h.6M123.7,216.0h.6M152.0,235.3h.6M159.7,227.6h.6M141.5,217.8h.6M162.6,241.3h.6M157.8,206.5h.6M157.6,241.4h.6M129.6,228.1h.6M159.2,237.5h.6M133.2,220.3h.6M124.4,226.8h.6M153.9,220.3h.6M159.2,234.1h.6M127.5,239.6h.6M122.9,223.7h.6M136.2,220.9h.6M156.8,234.3h.6M139.4,218.5h.6M124.3,207.9h.6M179.2,214.8h.6M137.2,219.4h.6M126.4,193.9h.6M170.2,243.2h.6M134.3,220.8h.6M143.5,212.9h.6M140.3,211.7h.6M168.6,243.9h.6M130.1,215.2h.6M172.1,234.3h.6M123.5,239.8h.6M160.1,242.9h.6M155.2,216.2h.6M123.6,242.5h.6M176.0,242.4h.6M121.7,239.1h.6M137.2,199.9h.6M155.8,237.4h.6M164.8,234.1h.6M138.8,241.7h.6M155.4,236.4h.6M161.3,232.6h.6M136.1,233.2h.6M122.3,225.3h.6M156.7,244.0h.6M155.3,220.6h.6M170.8,232.3h.6M168.5,238.1h.6M160.5,231.3h.6M150.9,237.0h.6M150.9,224.0h.6M139.6,223.1h.6M148.5,226.0h.6M135.3,204.6h.6M167.8,232.2h.6M137.5,244.0h.6M177.4,225.2h.6M139.1,242.5h.6M140.1,222.4h.6M135.8,232.3h.6M123.1,229.1h.6M145.6,216.8h.6M136.8,217.2h.6M127.6,233.3h.6M152.8,242.9h.6M132.9,226.9h.6M145.4,219.8h.6M156.0,233.4h.6M175.1,231.4h.6M147.2,215.9h.6M141.8,222.0h.6M171.1,211.2h.6M157.9,207.9h.6M154.3,209.7h.6M151.7,243.4h.6M122.5,227.3h.6M175.6,229.0h.6M134.8,239.9h.6M138.0,234.8h.6M169.3,229.5h.6M152.6,215.0h.6M150.0,237.1h.6M145.8,217.0h.6M130.2,222.6h.6M158.7,239.0h.6M142.1,216.5h.6M138.6,213.7h.6M150.8,207.8h.6M176.4,230.8h.6M157.0,240.0h.6M153.9,236.5h.6M127.5,239.4h.6M175.4,230.5h.6M125.2,224.4h.6M128.4,238.9h.6M136.2,237.3h.6M174.6,240.5h.6M129.0,224.9h.6M149.1,223.0h.6M137.0,229.7h.6M171.0,238.4h.6M178.3,225.7h.6M149.0,220.8h.6M131.3,224.6h.6M136.9,219.5h.6M145.8,215.3h.6M156.2,199.5h.6M131.5,222.0h.6M155.2,230.8h.6M129.5,240.6h.6M131.3,229.1h.6M174.4,234.8h.6M171.2,234.4h.6M122.9,240.8h.6M131.2,243.3h.6M175.2,240.5h.6M154.2,211.8h.6M167.0,238.9h.6M142.6,211.9h.6M159.5,243.8h.6M127.2,227.7h.6M169.3,237.4h.6M137.3,242.2h.6M145.6,239.7h.6M149.9,218.6h.6M137.3,230.4h.6M142.0,197.8h.6M149.4,214.0h.6M169.6,231.4h.6M156.2,209.0h.6M124.2,226.0h.6M138.5,226.3h.6M166.6,232.6h.6M133.1,240.1h.6M153.0,224.8h.6M123.1,228.0h.6M136.8,238.3h.6M141.1,239.4h.6M135.4,236.4h.6M144.2,225.1h.6M127.2,224.0h.6M159.7,241.7h.6M126.9,226.9h.6M154.4,226.9h.6M170.0,230.7h.6M138.1,212.2h.6M131.5,218.6h.6M153.2,225.3h.6M148.6,206.1h.6M146.5,219.8h.6M124.9,240.5h.6M160.5,240.0h.6M176.8,240.5h.6M171.2,235.6h.6M155.3,232.4h.6M160.0,235.0h.6M154.0,236.1h.6M138.0,208.6h.6M164.7,224.3h.6M139.2,223.9h.6M130.6,244.2h.6M148.6,216.8h.6M179.5,231.8h.6M153.1,217.7h.6M152.7,222.3h.6M122.2,215.9h.6M149.2,214.4h.6M156.6,236.2h.6M126.4,235.5h.6M143.4,221.2h.6M142.5,218.6h.6M141.6,219.4h.6M136.2,234.1h.6M141.5,216.2h.6M131.8,213.3h.6M170.8,243.0h.6M143.8,198.6h.6M144.1,243.7h.6M161.7,238.2h.6M168.9,238.1h.6M175.5,230.2h.6M138.3,212.4h.6M129.0,229.5h.6M148.7,223.0h.6M137.0,197.3h.6M163.7,236.4h.6M177.0,242.6h.6M143.1,240.8h.6M142.1,204.6h.6M136.2,228.7h.6M148.3,224.5h.6M148.7,210.3h.6M157.1,222.2h.6M141.5,201.3h.6M169.7,211.9h.6M138.6,217.6h.6M178.3,229.0h.6M150.3,203.2h.6M180.1,240.1h.6M176.4,230.0h.6M161.8,230.0h.6M126.5,233.3h.6M140.9,216.4h.6M121.3,219.5h.6M173.5,230.4h.6M125.5,215.6h.6M165.4,236.7h.6M169.0,238.9h.6M140.0,219.1h.6M149.1,217.6h.6M158.0,241.9h.6M154.6,237.8h.6M129.5,243.7h.6M130.2,242.2h.6M176.0,234.0h.6M162.3,228.3h.6M144.5,237.1h.6M153.9,229.6h.6M164.4,236.0h.6M160.5,228.4h.6M143.5,239.3h.6M141.4,241.8h.6M147.9,222.3h.6M133.7,221.1h.6M144.7,223.3h.6M138.9,242.9h.6M145.0,241.9h.6M145.2,222.4h.6M127.5,241.0h.6M125.5,216.6h.6M144.6,221.6h.6M152.6,236.3h.6M175.6,219.6h.6M162.9,232.1h.6M128.8,220.2h.6M179.6,228.9h.6M149.3,218.5h.6M148.9,222.7h.6M120.9,225.1h.6M128.3,227.6h.6M124.3,236.4h.6M121.9,230.9h.6M122.8,222.4h.6M150.9,238.7h.6M147.7,241.5h.6M140.0,218.2h.6M129.3,240.7h.6M124.9,237.0h.6M152.4,244.0h.6M161.1,234.0h.6M138.2,239.7h.6M131.1,227.3h.6M159.3,241.5h.6M138.4,221.2h.6M128.3,240.8h.6M127.3,229.9h.6M130.9,239.1h.6M159.9,236.1h.6M129.4,236.5h.6M133.2,216.4h.6M156.2,243.0h.6M139.6,240.5h.6M160.6,235.2h.6M139.0,244.2h.6M144.6,220.8h.6M160.7,236.5h.6M140.0,217.0h.6M127.3,232.9h.6M157.4,236.0h.6M154.7,216.4h.6M131.5,238.5h.6M143.5,230.1h.6M150.2,241.9h.6M135.5,235.0h.6M131.4,229.1h.6M155.5,211.7h.6M161.4,241.9h.6M122.6,228.7h.6M179.1,220.2h.6M126.2,227.3h.6M168.0,229.7h.6M166.5,230.9h.6M151.9,237.0h.6M136.4,222.7h.6M150.4,214.8h.6M152.8,214.3h.6M141.3,221.7h.6M134.8,225.6h.6M125.2,224.1h.6M141.3,238.7h.6M134.4,243.5h.6M124.5,238.3h.6M155.8,209.3h.6M124.1,220.7h.6M152.6,236.5h.6M155.6,214.0h.6M136.3,218.3h.6M175.2,231.2h.6M146.9,224.2h.6M159.8,239.2h.6M142.3,242.5h.6M163.8,223.3h.6M140.6,213.6h.6M178.4,236.2h.6M175.7,237.1h.6M131.7,218.6h.6M165.9,239.0h.6M179.2,237.7h.6M125.6,242.9h.6M136.6,215.4h.6M122.5,232.0h.6M176.4,231.0h.6M123.1,231.5h.6M143.9,209.1h.6M158.8,229.7h.6M139.7,215.5h.6M132.2,241.6h.6M122.7,225.4h.6M168.5,229.4h.6M124.0,209.3h.6M177.7,231.6h.6M121.4,226.7h.6M153.5,210.1h.6M179.2,232.0h.6M122.0,223.5h.6M146.3,242.1h.6M151.5,220.5h.6M169.8,229.2h.6M140.9,218.4h.6M151.1,235.6h.6M158.9,236.2h.6M153.0,219.7h.6M175.3,236.5h.6M141.1,222.2h.6M145.8,220.3h.6M120.6,224.7h.6M131.0,230.8h.6M156.0,227.0h.6M160.4,242.8h.6M120.9,202.5h.6M125.3,223.2h.6M131.5,242.4h.6M133.2,229.8h.6M129.9,233.0h.6M138.7,243.6h.6M164.9,243.6h.6M122.0,240.2h.6M135.7,223.5h.6M164.4,229.6h.6M125.0,196.7h.6M155.9,211.7h.6M153.1,241.7h.6M133.8,214.2h.6M165.2,238.0h.6M121.4,208.9h.6M140.4,225.5h.6M151.4,221.8h.6M179.8,225.8h.6M178.3,236.3h.6M133.5,227.0h.6M176.2,233.6h.6M123.7,224.2h.6M147.0,237.6h.6M154.0,212.9h.6M154.3,235.9h.6M173.1,236.4h.6M126.2,219.9h.6M128.6,218.4h.6M143.4,243.3h.6M132.9,237.1h.6M149.8,211.8h.6M168.9,241.0h.6M155.6,219.3h.6M132.4,233.3h.6M137.1,233.9h.6M175.1,229.4h.6M146.7,198.3h.6M124.8,205.1h.6M127.3,231.6h.6M162.8,234.6h.6M145.0,214.4h.6M124.9,232.6h.6M144.7,234.2h.6M128.3,243.7h.6M125.9,206.6h.6M120.6,232.9h.6M162.6,237.3h.6M132.3,226.2h.6M132.9,231.2h.6M151.2,227.2h.6M157.6,238.1h.6M138.7,227.4h.6M174.1,243.4h.6M158.0,235.8h.6M169.8,231.1h.6M144.8,241.2h.6M153.5,234.3h.6M134.1,242.4h.6M155.6,222.9h.6M124.3,220.5h.6M149.4,214.9h.6M143.2,214.4h.6M135.4,217.4h.6M128.3,227.2h.6M167.9,231.8h.6M154.6,237.0h.6M139.8,214.7h.6M124.4,221.3h.6M163.4,231.8h.6M139.0,189.9h.6M152.1,238.5h.6M157.2,233.7h.6M139.6,239.4h.6M141.4,239.1h.6M145.5,219.7h.6M121.3,222.9h.6M122.0,224.8h.6M156.1,221.2h.6M121.8,241.9h.6M160.9,234.0h.6M149.5,213.0h.6M140.7,217.4h.6M131.0,224.1h.6M148.3,233.4h.6M157.2,220.8h.6M124.2,243.3h.6M146.3,233.8h.6M180.1,230.2h.6M129.0,233.7h.6M146.1,244.1h.6M142.5,229.3h.6M128.0,223.0h.6M163.1,235.2h.6M139.4,243.5h.6M141.0,207.6h.6M127.2,233.9h.6M132.1,224.6h.6M122.9,237.0h.6M147.8,233.4h.6M154.7,240.7h.6M141.1,219.5h.6M147.1,217.1h.6M169.3,233.9h.6M156.2,230.1h.6M154.7,238.6h.6M175.5,234.5h.6M131.9,243.8h.6M145.8,212.8h.6M124.6,239.7h.6M128.9,231.2h.6M179.1,238.7h.6M152.5,216.4h.6M155.4,227.6h.6M125.4,235.0h.6M138.8,214.8h.6M159.8,232.4h.6M132.9,241.1h.6M157.5,233.5h.6M166.4,235.5h.6M153.7,220.8h.6M121.1,210.4h.6M161.2,229.6h.6M162.8,236.2h.6M172.0,229.1h.6M125.4,210.5h.6M142.3,221.4h.6M163.8,231.6h.6M133.7,217.3h.6M154.3,238.2h.6M143.2,234.1h.6M127.3,237.7h.6M131.0,236.4h.6M143.2,221.2h.6M152.5,228.9h.6M173.8,230.7h.6M171.8,231.4h.6M140.1,224.9h.6M155.0,232.8h.6M176.5,241.7h.6M131.4,233.0h.6M129.1,237.0h.6M131.0,233.3h.6M165.2,241.6h.6M175.9,231.5h.6M150.5,238.9h.6M152.2,221.9h.6M125.4,233.0h.6M144.4,238.8h.6M124.5,219.9h.6M154.6,217.2h.6M133.2,232.0h.6M124.3,207.8h.6M130.7,239.5h.6M154.3,233.7h.6M137.0,215.9h.6M151.6,241.0h.6M153.7,199.4h.6M140.8,243.1h.6M145.3,218.0h.6M134.4,229.8h.6M137.1,241.9h.6M162.4,229.3h.6M149.3,221.8h.6M134.5,220.4h.6M149.8,215.3h.6M129.8,209.5h.6M149.4,238.0h.6M178.2,235.6h.6M151.7,233.5h.6M130.7,220.4h.6M120.6,233.6h.6M122.4,224.4h.6M152.4,222.7h.6M130.7,228.8h.6M140.4,224.0h.6M144.4,222.8h.6M137.3,220.3h.6M132.2,222.8h.6M153.1,239.9h.6M155.6,231.0h.6M133.6,240.3h.6M147.3,212.6h.6M171.5,234.8h.6M126.8,212.5h.6M134.1,239.9h.6M142.8,237.3h.6M152.6,230.7h.6M160.9,235.8h.6M150.5,243.4h.6M141.5,234.8h.6M165.1,234.3h.6M146.4,209.1h.6M134.5,228.3h.6M150.4,242.5h.6M137.2,219.7h.6M126.1,238.5h.6M133.4,232.4h.6M138.2,239.4h.6M148.1,232.0h.6M174.2,228.8h.6M159.9,240.3h.6M153.7,229.9h.6M144.0,239.8h.6M123.1,222.6h.6M140.2,219.5h.6M169.0,232.1h.6M171.8,231.6h.6M173.5,230.2h.6M151.4,220.5h.6M158.9,238.9h.6M169.8,238.9h.6M139.9,213.5h.6M129.6,235.1h.6M163.7,228.3h.6M157.6,237.6h.6M131.4,230.1h.6M142.5,205.2h.6M127.7,230.9h.6M152.6,243.6h.6M171.2,229.9h.6M152.1,210.5h.6M135.7,222.1h.6M135.8,225.9h.6M156.5,237.3h.6M140.5,234.5h.6M149.1,208.2h.6M177.5,234.9h.6M138.1,241.7h.6M127.4,232.3h.6M134.6,223.5h.6M145.2,215.5h.6M133.1,224.4h.6M149.2,236.2h.6M139.9,219.0h.6M147.0,207.9h.6M170.5,235.3h.6M124.8,227.2h.6M135.4,229.6h.6M156.2,216.6h.6M125.9,222.8h.6M123.7,225.0h.6M129.1,225.3h.6M179.5,242.1h.6M154.1,217.9h.6M148.9,213.8h.6M158.1,234.0h.6M176.9,237.8h.6M155.6,226.1h.6M157.5,228.8h.6M147.4,236.4h.6M155.0,209.0h.6M147.1,243.4h.6M151.7,217.0h.6M132.9,229.5h.6M130.8,237.0h.6M121.8,237.2h.6M172.3,228.2h.6M142.8,232.1h.6M167.8,229.8h.6M141.5,233.6h.6M150.0,243.0h.6M155.6,232.3h.6M132.1,218.2h.6M120.9,220.5h.6M132.1,230.1h.6M141.3,234.2h.6M164.0,234.5h.6M126.0,205.2h.6M155.0,221.8h.6M144.0,242.1h.6M152.0,239.9h.6M176.7,231.6h.6M137.8,217.8h.6M177.0,230.5h.6M166.0,240.5h.6M122.1,244.1h.6M122.6,193.1h.6M138.8,210.3h.6M131.1,226.9h.6M123.9,237.7h.6M174.1,237.7h.6M122.7,227.9h.6M177.8,232.7h.6M151.2,219.4h.6M133.3,227.9h.6M143.8,214.4h.6M122.6,243.8h.6M144.3,220.7h.6M154.1,240.7h.6M153.4,234.3h.6M145.6,222.8h.6M120.7,234.7h.6M174.7,230.4h.6M145.8,241.0h.6M130.0,224.3h.6M152.5,234.5h.6M126.0,229.0h.6M157.6,222.8h.6M167.5,243.3h.6M167.1,234.0h.6M161.9,238.3h.6M152.3,216.5h.6M159.2,226.5h.6M120.7,215.9h.6M168.0,231.6h.6M141.9,198.4h.6M167.3,231.3h.6M178.6,231.3h.6M158.6,227.1h.6M153.6,227.2h.6M170.1,226.8h.6M161.0,230.2h.6M121.7,244.2h.6M131.0,212.4h.6M175.4,229.9h.6M153.4,224.5h.6M134.4,215.6h.6M152.3,229.3h.6M122.6,235.2h.6M145.3,237.4h.6M153.3,219.3h.6M150.0,212.5h.6M175.4,240.8h.6M146.8,222.2h.6M122.9,239.8h.6M152.0,196.3h.6M156.3,238.8h.6M131.7,232.6h.6M178.2,237.4h.6M138.7,214.8h.6M167.3,228.2h.6M130.5,233.7h.6M126.5,235.8h.6M164.4,233.4h.6M121.7,242.0h.6M178.9,241.9h.6M148.1,241.7h.6M147.6,237.4h.6M121.1,238.5h.6M158.7,241.2h.6M147.2,189.1h.6M170.5,230.4h.6M170.8,233.1h.6M159.4,233.5h.6M141.2,227.2h.6M143.2,229.3h.6M138.1,214.8h.6M158.2,227.6h.6M180.1,227.0h.6M157.8,232.9h.6M146.0,242.7h.6M170.7,231.1h.6M151.6,205.3h.6M177.7,240.5h.6M171.1,229.7h.6M168.0,232.4h.6M145.7,232.9h.6M165.7,235.5h.6M178.5,244.2h.6M173.3,203.1h.6M160.9,194.5h.6M137.0,218.6h.6M171.0,233.5h.6M126.0,222.4h.6M124.0,231.0h.6M137.9,205.8h.6M155.7,225.7h.6M133.0,234.1h.6M154.1,233.3h.6M135.6,222.9h.6M156.3,228.5h.6M158.5,233.4h.6M179.1,238.8h.6M172.9,241.6h.6M129.8,228.8h.6M141.5,242.5h.6M144.6,225.7h.6M145.4,221.2h.6M131.6,223.7h.6M161.7,230.5h.6M161.2,222.7h.6M154.8,212.3h.6M150.7,242.4h.6M156.8,227.6h.6M138.3,242.3h.6M153.9,237.4h.6M156.3,230.9h.6M136.8,222.1h.6M139.5,198.2h.6M136.2,241.0h.6M159.4,240.3h.6M144.6,243.2h.6M141.0,223.2h.6M147.3,232.4h.6M165.1,241.5h.6M144.4,217.0h.6M159.8,231.1h.6M155.4,219.1h.6M123.3,218.9h.6M145.1,219.8h.6M176.0,239.5h.6M165.1,238.6h.6M131.8,227.0h.6M157.8,232.9h.6M176.1,240.4h.6M133.3,230.1h.6M138.9,239.0h.6M126.2,225.4h.6M126.5,227.1h.6M132.9,218.0h.6M178.0,238.9h.6M127.4,217.2h.6M134.6,232.1h.6M158.5,228.3h.6M128.6,227.8h.6M127.5,224.6h.6M161.9,220.2h.6M162.1,231.7h.6M121.7,221.0h.6M124.8,239.5h.6M129.5,223.7h.6M153.7,241.3h.6M127.6,222.5h.6M178.2,242.4h.6M157.7,230.7h.6M165.9,229.4h.6M126.7,243.3h.6M143.1,239.2h.6M158.4,240.4h.6M174.0,235.0h.6M139.9,234.4h.6M171.2,232.3h.6M140.5,218.1h.6M176.5,240.5h.6M132.3,237.8h.6M163.9,230.3h.6M129.1,218.8h.6M177.3,234.6h.6M149.1,239.8h.6M174.0,242.3h.6M135.5,242.8h.6M151.2,243.4h.6M173.1,228.2h.6M132.9,219.0h.6M134.6,218.7h.6M126.4,219.6h.6M142.6,212.0h.6M120.7,240.7h.6M140.2,218.8h.6M123.5,231.8h.6M122.6,218.8h.6M130.4,241.5h.6M171.3,221.3h.6M159.7,244.0h.6M157.1,243.9h.6M165.6,238.3h.6M154.1,220.0h.6M122.8,238.7h.6M132.2,228.2h.6M156.7,216.5h.6M123.3,231.9h.6M123.3,222.9h.6M122.9,218.3h.6M153.7,227.8h.6M130.9,236.1h.6M130.6,230.8h.6M142.1,226.2h.6M147.7,218.7h.6M121.7,233.3h.6M141.0,242.3h.6M158.6,229.9h.6M156.9,230.2h.6M120.7,230.5h.6M159.8,230.9h.6M152.0,220.3h.6M175.7,241.4h.6M144.4,218.4h.6M124.6,220.5h.6M176.7,232.6h.6M156.6,225.0h.6M162.1,225.1h.6M139.0,232.2h.6M123.6,223.2h.6M145.2,238.0h.6M167.5,229.2h.6M132.8,241.4h.6M136.1,242.7h.6M165.0,240.7h.6M122.9,229.6h.6M128.0,240.6h.6M138.5,219.3h.6M151.7,241.8h.6M122.7,243.0h.6M149.7,217.4h.6M167.4,238.9h.6M137.7,232.9h.6M150.6,242.3h.6M164.4,232.8h.6M151.9,215.8h.6M164.9,234.2h.6M168.2,234.5h.6M142.4,240.0h.6M153.0,243.0h.6M135.5,234.4h.6M151.9,207.5h.6M163.6,231.1h.6M175.7,231.8h.6M152.0,240.9h.6M143.9,242.4h.6M127.8,228.3h.6M123.1,233.2h.6M148.4,222.0h.6M170.5,229.0h.6M176.4,237.8h.6M127.1,241.4h.6M124.8,222.5h.6M154.4,236.2h.6M127.9,214.5h.6M176.2,238.5h.6M154.2,214.0h.6M127.4,220.3h.6M175.1,240.9h.6M128.1,237.3h.6M170.7,212.8h.6M168.1,240.2h.6M124.9,243.3h.6M129.2,239.2h.6M149.1,241.4h.6M147.1,236.3h.6M148.2,224.9h.6M137.1,226.0h.6M122.1,234.2h.6M177.2,233.4h.6M140.1,220.3h.6M134.6,231.9h.6M138.3,224.7h.6M143.3,191.9h.6M176.9,230.6h.6M143.5,221.5h.6M178.9,235.5h.6M140.6,242.7h.6M133.1,232.4h.6M130.5,231.3h.6M124.9,229.1h.6M144.6,223.1h.6M127.7,243.4h.6M135.0,226.6h.6M147.9,236.8h.6M160.6,242.9h.6M126.2,219.5h.6M147.9,198.0h.6M150.7,237.0h.6M124.3,234.7h.6M140.1,218.4h.6M151.3,227.0h.6M170.8,238.5h.6M138.5,224.5h.6M132.9,223.7h.6M170.4,237.3h.6M153.8,240.5h.6M150.7,236.9h.6M136.9,218.1h.6M129.1,242.6h.6M169.1,235.6h.6M164.9,221.5h.6M175.1,238.1h.6M122.9,223.7h.6M129.5,243.4h.6M139.5,237.7h.6M176.4,235.5h.6M126.6,223.8h.6M136.8,213.3h.6M166.2,234.9h.6M127.5,241.0h.6M143.1,216.2h.6M122.0,238.8h.6M142.3,242.2h.6M121.4,232.8h.6M122.8,224.8h.6M136.3,229.0h.6M140.3,208.2h.6M175.2,243.1h.6M121.5,205.4h.6M145.5,235.5h.6M177.5,240.1h.6M125.7,209.8h.6M176.5,232.0h.6M125.2,221.0h.6M154.1,211.9h.6M153.7,228.1h.6M133.4,243.2h.6M148.3,225.2h.6M166.4,230.4h.6M162.2,229.6h.6M136.9,242.3h.6M152.4,236.1h.6M159.7,240.7h.6M148.4,214.5h.6M156.7,238.4h.6M149.0,243.4h.6M141.7,219.5h.6M173.2,240.1h.6M123.8,223.3h.6M132.9,241.1h.6M176.8,229.9h.6M147.5,242.3h.6M136.2,235.1h.6M164.0,208.2h.6M143.1,233.8h.6M140.2,239.1h.6M170.3,233.6h.6M136.6,230.4h.6M152.5,242.2h.6M146.2,224.2h.6M179.6,232.3h.6M123.5,225.8h.6M177.5,236.4h.6M124.2,232.0h.6M144.6,221.1h.6M132.7,230.3h.6M123.3,235.2h.6M121.8,230.7h.6M150.3,230.8h.6M154.4,241.6h.6M172.9,233.4h.6M146.4,221.4h.6M176.4,241.0h.6M165.0,241.5h.6M121.9,216.7h.6M134.6,211.5h.6M143.2,189.8h.6M147.6,216.9h.6M144.3,240.9h.6M130.0,244.0h.6M166.8,210.7h.6M128.3,228.2h.6M161.5,232.9h.6M144.4,219.1h.6M139.0,220.3h.6M141.2,243.4h.6M133.5,217.9h.6M164.3,232.4h.6M166.1,238.9h.6M175.6,231.1h.6M141.4,238.1h.6M148.7,221.7h.6M150.5,208.0h.6M167.4,240.0h.6M151.0,216.8h.6M156.5,220.0h.6M163.0,230.5h.6M180.2,238.4h.6M126.4,217.5h.6M146.3,217.9h.6M140.9,227.1h.6M161.3,234.3h.6M145.9,243.1h.6M151.3,238.3h.6M165.8,236.1h.6M161.7,244.2h.6M146.8,211.4h.6M154.2,232.0h.6M177.1,238.5h.6M136.7,218.5h.6M128.1,231.5h.6M148.8,208.1h.6M150.0,221.7h.6M128.5,225.9h.6M151.3,238.2h.6M139.0,242.2h.6M178.7,242.1h.6M125.6,243.8h.6M165.5,229.8h.6M144.9,238.1h.6M162.8,237.5h.6M141.7,232.5h.6" stroke="#111" stroke-width="0.6" opacity="0.55" fill="none"/>
<defs><radialGradient id="ecl" cx="0.5" cy="0.45" r="0.5"><stop offset="0" stop-color="#111" stop-opacity="0.85"/><stop offset="0.5" stop-color="#222" stop-opacity="0.45"/><stop offset="1" stop-color="#333" stop-opacity="0"/></radialGradient></defs>
<ellipse cx="172.3" cy="207.5" rx="6.5" ry="13" fill="url(#ecl)"/>
<path d="M167.9,202.7h0.6M173.3,201.6h0.6M168.1,193.8h0.6M174.0,204.7h0.6M169.5,198.5h0.6M163.4,207.1h0.6M168.6,206.0h0.6M176.7,203.6h0.6M171.3,214.0h0.6M171.1,207.6h0.6M167.9,199.3h0.6M166.3,214.4h0.6M176.1,203.0h0.6M171.5,203.9h0.6M181.1,215.2h0.6M171.7,212.9h0.6M176.7,199.4h0.6M174.3,212.4h0.6M172.3,213.9h0.6M176.3,207.9h0.6M171.1,215.0h0.6M172.8,211.1h0.6M179.0,210.8h0.6M172.1,197.3h0.6M173.6,210.7h0.6M174.4,212.3h0.6M174.8,209.8h0.6M172.8,212.5h0.6M170.1,200.2h0.6M169.0,208.7h0.6M166.4,204.1h0.6M171.7,210.4h0.6M168.9,208.4h0.6M172.5,203.7h0.6M172.6,206.5h0.6M168.6,205.2h0.6M169.4,222.9h0.6M171.6,202.9h0.6M167.5,207.9h0.6M173.6,208.2h0.6M167.8,199.8h0.6M168.7,209.4h0.6M169.6,207.2h0.6M178.4,193.2h0.6M171.5,207.7h0.6M167.3,216.2h0.6M171.5,210.9h0.6M174.3,219.1h0.6M170.2,202.9h0.6M168.1,198.0h0.6M178.5,204.3h0.6M166.5,213.4h0.6M178.3,200.2h0.6M172.2,196.9h0.6M165.6,206.4h0.6M168.4,198.5h0.6M172.4,211.0h0.6M171.6,218.0h0.6M170.2,205.1h0.6M175.3,225.6h0.6M179.2,215.4h0.6M172.8,197.2h0.6M177.3,207.2h0.6M180.2,208.3h0.6M165.7,216.7h0.6M172.9,203.5h0.6M172.9,207.9h0.6M173.4,193.6h0.6M172.4,211.4h0.6M168.1,218.2h0.6M171.8,191.5h0.6M177.8,204.8h0.6M172.5,206.3h0.6M179.0,208.1h0.6M170.0,202.7h0.6M174.3,212.7h0.6M170.1,215.4h0.6M170.0,209.2h0.6M174.2,210.2h0.6M173.3,210.2h0.6M170.7,209.7h0.6M173.5,198.0h0.6M167.5,210.3h0.6M172.3,209.2h0.6M174.9,210.9h0.6M170.5,212.2h0.6M170.0,221.7h0.6M175.9,208.0h0.6M170.1,211.9h0.6M171.8,201.9h0.6M174.1,208.7h0.6M175.3,206.5h0.6M178.9,221.8h0.6M167.0,191.7h0.6M169.2,220.2h0.6M174.6,209.0h0.6M173.3,198.2h0.6M173.0,199.8h0.6M173.2,205.2h0.6M170.6,203.9h0.6M174.4,223.2h0.6M166.6,213.7h0.6M171.0,220.2h0.6M176.2,201.3h0.6M172.7,219.3h0.6M178.0,203.1h0.6M169.0,210.3h0.6M176.9,215.4h0.6M173.5,212.2h0.6M174.2,208.5h0.6M169.3,213.6h0.6M173.8,215.0h0.6M172.3,203.9h0.6M174.9,214.8h0.6M178.5,197.3h0.6M170.8,206.0h0.6M179.7,189.6h0.6M175.6,201.7h0.6M168.9,214.7h0.6M175.0,182.6h0.6M168.2,207.9h0.6M170.6,216.8h0.6M169.5,205.7h0.6M164.9,212.1h0.6M172.4,213.6h0.6M169.9,222.4h0.6M170.1,221.7h0.6M178.5,200.4h0.6M172.9,202.5h0.6M166.2,212.1h0.6M172.3,218.4h0.6M177.7,194.0h0.6M171.2,210.8h0.6M175.1,208.9h0.6M169.6,205.6h0.6M174.4,197.1h0.6M167.6,197.2h0.6M169.9,217.7h0.6M170.5,212.8h0.6M176.7,216.8h0.6M172.9,206.3h0.6M171.9,204.7h0.6M169.6,211.0h0.6M175.2,202.6h0.6M169.0,207.0h0.6M172.1,213.5h0.6M172.7,208.0h0.6M166.9,203.4h0.6M170.9,202.1h0.6M173.6,207.3h0.6M169.4,210.5h0.6M175.9,225.9h0.6M171.8,203.4h0.6M174.9,220.6h0.6M170.2,212.4h0.6M171.3,214.3h0.6M169.7,203.8h0.6M171.2,205.9h0.6M167.8,205.2h0.6M169.3,222.1h0.6M176.7,202.4h0.6M170.5,210.0h0.6M170.2,202.8h0.6M174.3,216.0h0.6M173.7,218.4h0.6M172.2,206.3h0.6M170.7,203.6h0.6M169.4,218.5h0.6M175.1,206.0h0.6M172.3,200.1h0.6M174.2,205.7h0.6M171.5,204.6h0.6M167.0,202.7h0.6M177.2,200.4h0.6M168.9,205.0h0.6M168.8,199.1h0.6M168.1,199.4h0.6M172.0,188.7h0.6M167.2,196.3h0.6M172.0,199.7h0.6M173.2,200.3h0.6M175.5,193.0h0.6M178.1,196.9h0.6M170.8,198.7h0.6M171.0,218.6h0.6M174.7,202.8h0.6M173.6,220.5h0.6M174.1,204.6h0.6M173.3,210.5h0.6M166.1,202.7h0.6M172.3,221.7h0.6M174.4,209.1h0.6M166.7,203.6h0.6M167.0,208.0h0.6M170.1,213.5h0.6M172.0,207.4h0.6M173.2,214.6h0.6M171.0,203.1h0.6M172.6,231.9h0.6M170.2,200.8h0.6M173.3,195.1h0.6M174.0,198.2h0.6M171.0,205.1h0.6M169.1,211.0h0.6M172.1,215.1h0.6M174.0,203.8h0.6M174.5,212.2h0.6M172.6,209.0h0.6M175.9,202.3h0.6M176.3,209.1h0.6M174.0,215.7h0.6M181.0,200.0h0.6M167.4,215.9h0.6M170.8,207.6h0.6M167.2,216.0h0.6M173.1,194.9h0.6M175.5,206.9h0.6M170.4,193.4h0.6M178.3,200.1h0.6M174.4,202.3h0.6M168.8,215.2h0.6M174.3,212.2h0.6M170.6,211.4h0.6M174.2,218.2h0.6M171.8,210.1h0.6M174.6,189.0h0.6M173.0,219.5h0.6M174.3,210.3h0.6M174.7,217.3h0.6M166.3,202.1h0.6M169.1,196.2h0.6M175.4,200.0h0.6M172.5,212.2h0.6M176.1,195.9h0.6M167.1,191.9h0.6M173.5,199.9h0.6M173.6,215.3h0.6M178.4,199.2h0.6M172.6,207.5h0.6M165.2,213.3h0.6M176.9,197.0h0.6M174.3,209.8h0.6M172.7,199.0h0.6M168.6,226.0h0.6M176.1,208.5h0.6M176.1,199.1h0.6M174.3,203.4h0.6M163.4,199.2h0.6M174.6,213.8h0.6M174.2,207.2h0.6M173.0,194.3h0.6M171.7,231.7h0.6M172.5,203.3h0.6M179.2,206.5h0.6M171.4,207.8h0.6M173.2,197.1h0.6M172.1,204.2h0.6M166.1,209.4h0.6M171.9,202.6h0.6M170.4,215.2h0.6M162.3,213.6h0.6M172.4,207.3h0.6M170.8,204.6h0.6M174.9,200.1h0.6M178.2,197.0h0.6M174.1,205.6h0.6M177.6,212.9h0.6M166.4,210.5h0.6M168.9,210.4h0.6M171.9,199.9h0.6M168.8,207.7h0.6M171.6,204.8h0.6M167.8,210.0h0.6M169.3,191.7h0.6M166.2,222.3h0.6M171.2,200.0h0.6M169.2,204.6h0.6M171.8,206.0h0.6M174.8,203.0h0.6M173.6,207.7h0.6M170.8,212.8h0.6M173.9,200.9h0.6M174.6,204.3h0.6M167.5,223.8h0.6M177.2,192.9h0.6M173.2,209.5h0.6M171.2,200.7h0.6M173.4,209.7h0.6M170.9,213.7h0.6M166.9,186.8h0.6M175.1,219.9h0.6M166.5,198.5h0.6M179.8,206.6h0.6M176.0,217.2h0.6M172.7,199.8h0.6M177.8,210.2h0.6M168.2,197.8h0.6M172.4,194.5h0.6M180.0,212.6h0.6M175.2,205.4h0.6M174.0,189.1h0.6M169.4,210.5h0.6M167.5,199.2h0.6M167.7,214.0h0.6M175.4,205.3h0.6M173.8,205.1h0.6M166.8,199.1h0.6M169.9,211.2h0.6M171.6,215.0h0.6M169.5,212.8h0.6M172.4,218.3h0.6M172.7,213.7h0.6M164.9,211.3h0.6M171.9,212.5h0.6M172.9,197.0h0.6M178.8,222.3h0.6M173.7,218.3h0.6M172.7,222.5h0.6M168.9,215.7h0.6M173.7,195.5h0.6M171.1,213.8h0.6M168.6,202.6h0.6M171.9,204.6h0.6M172.4,207.7h0.6M172.9,202.8h0.6M172.3,198.7h0.6M176.8,204.3h0.6M173.1,204.5h0.6M174.8,202.6h0.6M178.7,211.7h0.6M172.7,219.1h0.6M175.8,208.4h0.6M168.6,209.4h0.6M173.5,201.7h0.6M173.9,205.0h0.6M174.9,206.2h0.6M168.8,190.9h0.6M169.4,193.3h0.6M179.8,218.4h0.6M177.1,210.6h0.6M174.8,195.3h0.6M171.5,196.7h0.6M174.6,207.0h0.6M177.4,199.8h0.6M173.6,215.8h0.6M170.4,209.3h0.6M176.2,194.9h0.6M172.2,205.4h0.6M171.2,189.3h0.6M170.6,189.3h0.6M177.3,204.4h0.6M172.1,200.7h0.6M172.6,200.6h0.6M171.9,214.6h0.6M171.9,209.6h0.6M173.8,212.7h0.6M172.3,209.1h0.6M171.6,192.6h0.6M169.5,218.5h0.6M172.8,206.1h0.6M168.1,202.8h0.6M175.6,222.7h0.6M173.6,198.2h0.6M165.9,204.1h0.6M178.7,213.2h0.6M169.3,206.5h0.6M171.9,217.5h0.6M177.3,216.4h0.6M166.1,216.8h0.6M178.0,203.4h0.6M174.2,211.3h0.6M166.7,193.6h0.6M169.9,202.1h0.6M173.6,199.2h0.6M169.0,202.8h0.6M176.7,204.2h0.6M176.0,214.7h0.6M170.5,210.3h0.6M169.5,207.7h0.6M174.5,205.8h0.6M171.9,207.3h0.6M170.6,218.5h0.6M167.2,207.5h0.6M168.0,202.6h0.6M171.9,225.6h0.6M171.7,206.0h0.6M173.3,203.3h0.6M168.0,213.3h0.6M173.9,204.6h0.6M171.0,216.7h0.6M170.6,199.4h0.6M169.4,183.9h0.6M175.4,210.8h0.6M173.9,193.4h0.6M175.2,205.5h0.6M172.2,219.4h0.6M175.1,194.9h0.6M170.5,206.6h0.6M171.4,201.7h0.6M172.4,207.6h0.6M170.4,214.0h0.6M168.7,205.1h0.6M167.4,206.6h0.6M174.7,220.6h0.6M169.2,194.7h0.6M168.3,203.6h0.6M174.8,197.5h0.6M171.5,223.4h0.6M173.2,213.5h0.6M173.9,199.7h0.6M176.4,221.5h0.6M171.7,206.6h0.6M170.4,213.6h0.6M171.2,220.1h0.6M172.4,210.8h0.6M175.0,199.4h0.6M165.2,209.9h0.6M169.5,193.3h0.6M170.7,213.4h0.6M170.3,215.3h0.6M170.2,205.0h0.6M164.9,199.8h0.6M172.2,206.7h0.6M167.5,209.2h0.6M182.1,215.7h0.6M173.2,197.5h0.6M167.4,206.3h0.6M168.7,213.9h0.6M169.1,207.2h0.6M171.0,208.0h0.6M170.3,203.7h0.6M172.0,212.1h0.6M172.2,198.7h0.6M168.6,202.9h0.6M169.5,203.6h0.6M171.9,221.1h0.6M171.9,202.9h0.6M174.2,213.3h0.6M173.0,200.9h0.6M172.7,215.9h0.6M167.4,207.5h0.6M170.8,214.8h0.6M177.9,206.2h0.6M173.0,216.9h0.6M177.7,225.8h0.6M171.7,225.7h0.6M172.7,213.1h0.6M170.5,213.4h0.6M170.3,214.1h0.6M170.8,209.6h0.6M168.6,198.7h0.6M172.5,211.7h0.6M174.3,208.6h0.6M167.5,206.3h0.6M178.0,201.9h0.6M173.6,212.7h0.6M172.6,210.4h0.6M176.4,209.3h0.6M181.2,201.3h0.6M174.7,208.4h0.6M168.2,220.2h0.6M175.1,212.7h0.6M176.4,197.5h0.6M173.9,216.3h0.6M171.5,203.8h0.6M175.5,198.3h0.6M170.1,212.9h0.6M178.4,216.7h0.6M173.8,217.4h0.6M170.7,197.2h0.6M173.0,201.4h0.6M171.0,202.7h0.6M170.7,194.6h0.6M166.8,210.3h0.6M171.9,206.3h0.6M172.7,212.8h0.6M169.9,193.5h0.6M173.2,225.5h0.6M173.4,215.5h0.6M173.8,202.2h0.6M172.8,205.6h0.6M170.5,222.3h0.6M171.2,204.1h0.6M168.0,208.1h0.6M180.0,210.9h0.6M179.9,210.4h0.6M170.5,196.5h0.6M170.4,211.9h0.6M163.8,208.3h0.6M175.4,212.7h0.6M165.0,194.4h0.6M169.9,188.8h0.6M171.1,199.4h0.6M173.1,206.6h0.6M172.2,206.1h0.6M173.1,208.9h0.6M166.4,211.9h0.6M173.5,196.8h0.6M170.3,212.4h0.6M169.3,209.5h0.6" stroke="#111" stroke-width="0.60" opacity="0.6" fill="none"/>
<path d="M120.4,225.1 C124,225.3 128,225.2 131,224.2 C136,222.4 140,220.4 144,219.2 C148,218 151,217.4 154,218.3 C156.5,219.2 157.8,222 158.3,226 L158.7,230.5" stroke="#111" stroke-width="1.3" fill="none" />
<path d="M121,227.8 C126,227.6 131,226.6 135.2,225 C140,223.3 144.5,221.6 148.6,221 C152,220.6 154.5,221.4 155.6,223.5 C156.4,225.5 156.2,228 156,230" stroke="#333" stroke-width="0.6" fill="none" />
<path d="M134,231 C136,227 143,224.5 148,226 C152,227.5 152.5,231.5 149,233.5 C145,235.5 138,235.6 135,234 C134,233.2 133.8,232 134,231 Z" fill="#fff" opacity="0.35"/>
<path d="M134,231 C136,227 143,224.5 148,226 C152,227.5 152.5,231.5 149,233.5 C145,235.5 138,235.6 135,234 C134,233.2 133.8,232 134,231 Z" stroke="#333" stroke-width="0.6" fill="none" />
<path d="M138,231 C140,228.5 145,228 147.5,229.5 C149,231 147,233 144,233.3 C140.5,233.6 137.5,232.6 138,231 Z" stroke="#444" stroke-width="0.5" fill="none" />
<path d="M122,236 C128,235.5 133,236 136,237.5" stroke="#444" stroke-width="0.5" fill="none" />
<ellipse cx="158.70" cy="237.90" rx="2.30" ry="5.80" stroke="#0a0a0a" stroke-width="1.4" fill="none" opacity="1.0" transform="rotate(0 158.70 237.90)"/>
<path d="M146,244 C148,241.5 151,240.5 153.5,240.5 C155,240.6 155.6,242 155.5,244" stroke="#111" stroke-width="1.0" fill="none" />
<line x1="120.70" y1="222.40" x2="120.70" y2="244.60" stroke="#111" stroke-width="1.4" />
<path d="M158.3,195.5 L180.7,190.1 L180.7,228.4 L169.5,228.4 L158.3,207.6 Z" stroke="#0a0a0a" stroke-width="1.2" fill="none" />
<text transform="translate(110.15,216.70) rotate(-90)" font-size="9.5" text-anchor="middle" fill="#1e1e1e" stroke="#1e1e1e" stroke-width="0.12">CD138</text>
<text transform="translate(149.20,262.60) scale(1.085,1)" font-size="9.217" text-anchor="middle" fill="#1e1e1e" stroke="#1e1e1e" stroke-width="0.12">CD38</text>
<line x1="181.50" y1="202.40" x2="186.80" y2="202.40" stroke="#111" stroke-width="1.3" />
<path d="M190.80,202.40 L186.30,199.40 L186.30,205.40 Z" fill="#111"/>
<line x1="212.00" y1="182.50" x2="274.00" y2="182.50" stroke="#c8c8c8" stroke-width="0.8" />
<line x1="274.00" y1="182.50" x2="274.00" y2="244.00" stroke="#d0d0d0" stroke-width="0.8" />
<line x1="212.00" y1="182.50" x2="212.00" y2="244.00" stroke="#666" stroke-width="0.8" />
<line x1="211.50" y1="244.00" x2="274.00" y2="244.00" stroke="#333" stroke-width="0.9" />
<line x1="210.70" y1="244.00" x2="212.00" y2="244.00" stroke="#444" stroke-width="0.6" />
<text x="210.20" y="245.30" font-size="3.7" text-anchor="end" fill="#333" stroke="#333" stroke-width="0.12">0</text>
<line x1="210.70" y1="232.28" x2="212.00" y2="232.28" stroke="#444" stroke-width="0.6" />
<text x="210.20" y="233.58" font-size="3.7" text-anchor="end" fill="#333" stroke="#333" stroke-width="0.12">20</text>
<line x1="210.70" y1="220.56" x2="212.00" y2="220.56" stroke="#444" stroke-width="0.6" />
<text x="210.20" y="221.86" font-size="3.7" text-anchor="end" fill="#333" stroke="#333" stroke-width="0.12">40</text>
<line x1="210.70" y1="208.84" x2="212.00" y2="208.84" stroke="#444" stroke-width="0.6" />
<text x="210.20" y="210.14" font-size="3.7" text-anchor="end" fill="#333" stroke="#333" stroke-width="0.12">60</text>
<line x1="210.70" y1="197.12" x2="212.00" y2="197.12" stroke="#444" stroke-width="0.6" />
<text x="210.20" y="198.42" font-size="3.7" text-anchor="end" fill="#333" stroke="#333" stroke-width="0.12">80</text>
<line x1="210.70" y1="185.40" x2="212.00" y2="185.40" stroke="#444" stroke-width="0.6" />
<text x="210.20" y="186.70" font-size="3.7" text-anchor="end" fill="#333" stroke="#333" stroke-width="0.12">100</text>
<line x1="219.00" y1="244.00" x2="219.00" y2="245.20" stroke="#555" stroke-width="0.5" />
<text x="219.00" y="249.40" font-size="3.7" text-anchor="middle" fill="#333" stroke="#333" stroke-width="0.12">0</text>
<line x1="224.50" y1="244.00" x2="224.50" y2="245.20" stroke="#555" stroke-width="0.5" />
<text x="224.50" y="249.40" font-size="3.7" text-anchor="middle" fill="#333" stroke="#333" stroke-width="0.12">10²</text>
<line x1="240.00" y1="244.00" x2="240.00" y2="245.20" stroke="#555" stroke-width="0.5" />
<text x="240.00" y="249.40" font-size="3.7" text-anchor="middle" fill="#333" stroke="#333" stroke-width="0.12">10³</text>
<line x1="254.50" y1="244.00" x2="254.50" y2="245.20" stroke="#555" stroke-width="0.5" />
<text x="254.50" y="249.40" font-size="3.7" text-anchor="middle" fill="#333" stroke="#333" stroke-width="0.12">10⁴</text>
<line x1="269.00" y1="244.00" x2="269.00" y2="245.20" stroke="#555" stroke-width="0.5" />
<text x="269.00" y="249.40" font-size="3.7" text-anchor="middle" fill="#333" stroke="#333" stroke-width="0.12">10⁵</text>
<path d="M212.00,244.00 L212.01,243.40 L212.02,242.66 L212.03,241.92 L212.03,241.72 L212.04,240.66 L212.05,240.43 L212.06,239.69 L212.07,238.85 L212.08,238.61 L212.09,237.63 L212.10,237.35 L212.10,236.46 L212.11,235.87 L212.12,235.54 L212.13,235.26 L212.14,234.10 L212.15,233.58 L212.16,233.30 L212.17,232.96 L212.17,232.06 L212.18,231.32 L212.19,231.18 L212.20,229.84 L212.24,231.09 L212.29,231.23 L212.33,231.72 L212.38,232.29 L212.42,233.05 L212.47,234.05 L212.51,234.14 L212.56,235.07 L212.60,235.71 L212.64,236.10 L212.69,236.84 L212.73,237.05 L212.78,237.65 L212.82,238.36 L212.87,239.34 L212.91,239.74 L212.96,240.25 L213.00,241.07 L213.72,240.96 L214.45,240.84 L215.18,241.24 L215.90,241.16 L216.40,240.31 L216.90,240.09 L217.40,239.57 L217.90,239.37 L218.40,238.77 L218.90,237.93 L219.14,237.87 L219.38,236.57 L219.61,236.20 L219.85,235.86 L220.09,234.76 L220.33,234.42 L220.56,233.44 L220.80,233.33 L220.99,232.79 L221.18,232.01 L221.36,231.63 L221.55,230.55 L221.74,230.23 L221.93,229.53 L222.11,228.89 L222.30,228.16 L222.45,227.88 L222.60,227.38 L222.75,226.41 L222.90,225.97 L223.05,224.90 L223.20,224.82 L223.35,224.19 L223.50,223.87 L223.65,223.15 L223.80,222.13 L223.91,221.55 L224.02,221.12 L224.13,219.95 L224.24,219.65 L224.36,218.76 L224.47,218.06 L224.58,217.36 L224.69,217.27 L224.80,216.10 L224.91,215.60 L225.02,215.11 L225.12,214.90 L225.23,213.66 L225.34,213.36 L225.45,212.84 L225.55,212.51 L225.66,211.86 L225.77,211.29 L225.88,210.22 L225.98,209.73 L226.09,209.09 L226.20,208.91 L226.37,208.30 L226.53,206.99 L226.70,206.34 L226.87,205.72 L227.03,205.05 L227.20,204.59 L227.70,204.20 L228.20,203.46 L228.70,202.78 L229.20,202.64 L229.37,201.93 L229.53,201.42 L229.70,201.06 L229.87,200.19 L230.03,199.38 L230.20,198.79 L230.25,198.23 L230.31,197.13 L230.36,197.20 L230.42,196.49 L230.47,195.96 L230.52,195.29 L230.58,194.36 L230.63,193.76 L230.68,192.91 L230.74,192.73 L230.79,191.67 L230.85,191.06 L230.90,190.57 L231.03,189.88 L231.17,189.37 L231.30,188.49 L231.43,187.80 L231.57,187.27 L231.70,186.58 L231.88,187.44 L232.05,187.82 L232.22,189.15 L232.40,189.59 L232.75,188.42 L233.10,187.70 L233.60,187.28 L234.10,186.79 L234.14,187.23 L234.17,188.45 L234.21,189.20 L234.24,189.42 L234.28,190.07 L234.31,190.38 L234.35,191.03 L234.39,191.86 L234.42,192.43 L234.46,193.52 L234.49,193.62 L234.53,194.15 L234.56,195.53 L234.60,195.82 L235.10,195.02 L235.60,194.83 L235.69,195.08 L235.78,196.13 L235.87,197.15 L235.96,197.71 L236.04,198.23 L236.13,198.54 L236.22,199.28 L236.31,199.78 L236.40,200.92 L236.51,201.38 L236.62,202.23 L236.73,202.53 L236.84,203.10 L236.96,204.23 L237.07,205.02 L237.18,205.57 L237.29,206.19 L237.40,206.85 L237.49,207.40 L237.57,207.61 L237.66,208.45 L237.75,208.93 L237.84,209.29 L237.93,209.90 L238.01,210.71 L238.10,211.31 L238.55,211.15 L239.00,210.87 L240.00,210.46 L240.09,211.46 L240.18,212.12 L240.26,212.70 L240.35,212.84 L240.44,213.34 L240.52,213.96 L240.61,214.54 L240.70,215.16 L240.76,216.11 L240.82,216.94 L240.88,217.50 L240.95,217.81 L241.01,218.56 L241.07,219.29 L241.13,219.32 L241.19,220.39 L241.25,221.20 L241.32,221.70 L241.38,222.28 L241.44,222.67 L241.50,223.04 L241.67,224.20 L241.83,224.50 L242.00,225.54 L242.17,226.34 L242.33,226.55 L242.50,227.22 L242.69,228.27 L242.88,228.70 L243.06,228.87 L243.25,229.45 L243.44,230.08 L243.62,231.30 L243.81,231.83 L244.00,231.92 L244.23,233.11 L244.47,233.88 L244.70,234.28 L244.93,234.68 L245.17,235.49 L245.40,235.80 L245.69,236.27 L245.97,237.59 L246.26,237.89 L246.54,238.35 L246.83,239.23 L247.11,239.39 L247.40,240.30 L247.80,240.76 L248.20,240.77 L248.60,241.30 L249.00,241.83 L249.40,242.29 L249.98,242.87 L250.56,243.10 L251.14,243.40 L251.72,243.70 L252.30,244.00 L252.90,244.00 L253.51,244.00 L254.11,244.00 L254.71,244.00 L255.31,244.00 L255.92,244.00 L256.52,244.00 L257.12,244.00 L257.73,244.00 L258.33,244.00 L258.93,244.00 L259.53,244.00 L260.14,244.00 L260.74,244.00 L261.34,244.00 L261.94,244.00 L262.55,244.00 L263.15,244.00 L263.75,244.00 L264.36,244.00 L264.96,244.00 L265.56,244.00 L266.16,244.00 L266.77,244.00 L267.37,244.00 L267.97,244.00 L268.57,244.00 L269.18,244.00 L269.78,244.00 L270.38,244.00 L270.99,244.00 L271.59,244.00 L272.19,244.00 L272.79,244.00 L273.40,244.00 L274.00,244.00" stroke="#bb3048" stroke-width="0.9" fill="none" />
<path d="M212.00,244.00 L212.01,243.40 L212.02,242.58 L212.03,242.57 L212.03,241.30 L212.04,241.16 L212.05,240.07 L212.06,239.60 L212.07,239.60 L212.08,238.37 L212.09,238.11 L212.10,237.37 L212.10,236.76 L212.11,236.20 L212.12,235.35 L212.13,235.26 L212.14,234.07 L212.15,233.59 L212.16,232.82 L212.17,232.41 L212.17,231.93 L212.18,231.72 L212.19,230.70 L212.20,229.89 L212.24,230.61 L212.29,231.79 L212.33,231.65 L212.38,232.70 L212.42,233.10 L212.47,233.93 L212.51,234.27 L212.56,235.15 L212.60,235.60 L212.64,236.32 L212.69,237.12 L212.73,237.47 L212.78,237.71 L212.82,238.25 L212.87,239.56 L212.91,239.79 L212.96,240.16 L213.00,241.36 L213.63,240.73 L214.27,240.52 L214.90,240.30 L215.19,239.27 L215.47,238.77 L215.76,238.63 L216.04,237.48 L216.33,237.43 L216.61,236.34 L216.90,236.25 L217.10,235.67 L217.30,235.28 L217.50,234.60 L217.70,233.74 L217.90,232.91 L218.10,232.28 L218.30,231.99 L218.50,231.39 L218.70,230.45 L218.90,230.52 L219.04,229.62 L219.18,229.18 L219.32,228.21 L219.46,227.64 L219.60,226.86 L219.74,226.53 L219.88,225.88 L220.02,225.42 L220.16,224.79 L220.30,224.57 L220.68,224.11 L221.05,223.04 L221.43,222.72 L221.80,222.03 L221.91,221.77 L222.02,221.37 L222.13,220.09 L222.24,219.89 L222.36,218.86 L222.47,217.98 L222.58,217.92 L222.69,216.93 L222.80,216.14 L222.87,215.72 L222.94,214.93 L223.01,214.44 L223.09,213.84 L223.16,213.19 L223.23,212.70 L223.30,211.83 L223.37,211.05 L223.44,210.41 L223.51,209.80 L223.59,209.50 L223.66,208.75 L223.73,208.47 L223.80,207.60 L223.91,207.11 L224.02,206.67 L224.13,205.28 L224.24,204.59 L224.36,204.03 L224.47,203.58 L224.58,203.07 L224.69,202.55 L224.80,201.58 L224.90,201.47 L225.00,200.10 L225.10,200.17 L225.20,199.07 L225.30,199.00 L225.35,197.71 L225.40,197.85 L225.45,197.07 L225.50,196.64 L225.55,195.70 L225.60,194.77 L225.65,194.79 L225.70,193.75 L226.03,194.13 L226.37,195.22 L226.70,195.80 L227.20,195.28 L227.70,194.52 L227.87,193.83 L228.03,193.53 L228.20,192.76 L228.37,191.83 L228.53,191.42 L228.70,190.98 L228.84,190.34 L228.99,189.52 L229.13,188.83 L229.27,188.17 L229.41,187.44 L229.56,186.79 L229.70,186.36 L229.73,186.71 L229.77,187.83 L229.80,188.45 L229.83,189.00 L229.87,189.15 L229.90,190.05 L229.93,190.73 L229.97,191.09 L230.00,192.41 L230.03,192.87 L230.07,193.30 L230.10,194.08 L230.13,194.31 L230.17,194.96 L230.20,195.82 L230.23,196.61 L230.26,197.14 L230.29,197.24 L230.32,198.34 L230.36,199.19 L230.39,199.67 L230.42,200.43 L230.45,201.09 L230.48,201.09 L230.51,201.76 L230.54,202.58 L230.57,203.53 L230.61,203.66 L230.64,204.73 L230.67,205.27 L230.70,205.61 L230.82,206.31 L230.95,207.19 L231.07,207.66 L231.20,207.89 L231.32,208.94 L231.45,209.03 L231.57,209.78 L231.70,210.87 L231.77,211.40 L231.84,211.59 L231.91,212.19 L231.97,213.07 L232.04,213.87 L232.11,214.36 L232.18,215.18 L232.25,215.63 L232.32,216.33 L232.39,216.77 L232.46,217.20 L232.53,217.87 L232.59,218.54 L232.66,219.19 L232.73,220.05 L232.80,220.22 L232.86,220.67 L232.93,221.81 L232.99,222.05 L233.05,222.79 L233.11,223.16 L233.18,224.34 L233.24,224.51 L233.30,225.13 L233.36,226.16 L233.43,226.53 L233.49,226.96 L233.55,228.06 L233.61,228.29 L233.68,228.86 L233.74,229.96 L233.80,230.43 L233.90,231.01 L234.00,231.22 L234.10,232.27 L234.20,232.71 L234.30,233.50 L234.40,233.74 L234.50,234.68 L234.60,235.30 L234.70,235.58 L234.80,236.40 L234.90,237.11 L235.00,237.89 L235.10,238.44 L235.35,238.94 L235.60,239.03 L235.85,240.03 L236.10,240.70 L236.35,240.83 L236.60,241.75 L236.85,242.68 L237.10,243.00 L237.70,243.25 L238.30,243.50 L238.90,243.75 L239.50,244.00 L240.11,244.00 L240.71,244.00 L241.32,244.00 L241.92,244.00 L242.53,244.00 L243.13,244.00 L243.74,244.00 L244.34,244.00 L244.95,244.00 L245.55,244.00 L246.16,244.00 L246.76,244.00 L247.37,244.00 L247.97,244.00 L248.58,244.00 L249.18,244.00 L249.79,244.00 L250.39,244.00 L251.00,244.00 L251.61,244.00 L252.21,244.00 L252.82,244.00 L253.42,244.00 L254.03,244.00 L254.63,244.00 L255.24,244.00 L255.84,244.00 L256.45,244.00 L257.05,244.00 L257.66,244.00 L258.26,244.00 L258.87,244.00 L259.47,244.00 L260.08,244.00 L260.68,244.00 L261.29,244.00 L261.89,244.00 L262.50,244.00 L263.11,244.00 L263.71,244.00 L264.32,244.00 L264.92,244.00 L265.53,244.00 L266.13,244.00 L266.74,244.00 L267.34,244.00 L267.95,244.00 L268.55,244.00 L269.16,244.00 L269.76,244.00 L270.37,244.00 L270.97,244.00 L271.58,244.00 L272.18,244.00 L272.79,244.00 L273.39,244.00 L274.00,244.00" stroke="#111" stroke-width="0.8" fill="none" />
<text transform="translate(202.50,217.80) rotate(-90)" font-size="9.6" text-anchor="middle" fill="#1e1e1e" stroke="#1e1e1e" stroke-width="0.12">Cell number</text>
<text transform="translate(239.30,263.00) scale(1.085,1)" font-size="9.217" text-anchor="middle" fill="#1e1e1e" stroke="#1e1e1e" stroke-width="0.12">GPRC5D</text>
<text x="8.20" y="298.60" font-size="13.9" text-anchor="start" fill="#111" font-weight="bold" stroke="#111" stroke-width="0.35">F</text>
<text transform="translate(19.40,355.00) rotate(-90)" font-size="9.5" text-anchor="middle" fill="#1e1e1e" stroke="#1e1e1e" stroke-width="0.12">Cell number</text>
<text transform="translate(65.30,313.80) scale(1.085,1)" font-size="9.217" text-anchor="middle" fill="#1e1e1e" stroke="#1e1e1e" stroke-width="0.12">T Cells</text>
<line x1="30.80" y1="319.80" x2="99.00" y2="319.80" stroke="#a8a8a8" stroke-width="0.8" />
<line x1="99.00" y1="319.80" x2="99.00" y2="388.20" stroke="#e4e4e4" stroke-width="0.8" />
<line x1="30.80" y1="319.80" x2="30.80" y2="388.20" stroke="#444" stroke-width="0.8" />
<line x1="30.30" y1="388.20" x2="99.00" y2="388.20" stroke="#333" stroke-width="0.9" />
<line x1="29.50" y1="388.20" x2="30.80" y2="388.20" stroke="#444" stroke-width="0.6" />
<text x="29.00" y="389.50" font-size="3.7" text-anchor="end" fill="#333" stroke="#333" stroke-width="0.12">0</text>
<line x1="29.50" y1="375.10" x2="30.80" y2="375.10" stroke="#444" stroke-width="0.6" />
<text x="29.00" y="376.40" font-size="3.7" text-anchor="end" fill="#333" stroke="#333" stroke-width="0.12">20</text>
<line x1="29.50" y1="362.00" x2="30.80" y2="362.00" stroke="#444" stroke-width="0.6" />
<text x="29.00" y="363.30" font-size="3.7" text-anchor="end" fill="#333" stroke="#333" stroke-width="0.12">40</text>
<line x1="29.50" y1="348.90" x2="30.80" y2="348.90" stroke="#444" stroke-width="0.6" />
<text x="29.00" y="350.20" font-size="3.7" text-anchor="end" fill="#333" stroke="#333" stroke-width="0.12">60</text>
<line x1="29.50" y1="335.80" x2="30.80" y2="335.80" stroke="#444" stroke-width="0.6" />
<text x="29.00" y="337.10" font-size="3.7" text-anchor="end" fill="#333" stroke="#333" stroke-width="0.12">80</text>
<line x1="29.50" y1="322.70" x2="30.80" y2="322.70" stroke="#444" stroke-width="0.6" />
<text x="29.00" y="324.00" font-size="3.7" text-anchor="end" fill="#333" stroke="#333" stroke-width="0.12">100</text>
<line x1="35.50" y1="388.20" x2="35.50" y2="389.40" stroke="#555" stroke-width="0.5" />
<text x="35.50" y="393.60" font-size="3.7" text-anchor="middle" fill="#333" stroke="#333" stroke-width="0.12">0</text>
<line x1="93.00" y1="388.20" x2="93.00" y2="389.40" stroke="#555" stroke-width="0.5" />
<text x="93.00" y="393.60" font-size="3.7" text-anchor="middle" fill="#333" stroke="#333" stroke-width="0.12">10⁵</text>
<path d="M30.80,380.62 L30.91,381.13 L31.02,381.65 L31.13,382.52 L31.24,382.96 L31.35,383.59 L31.45,384.27 L31.56,384.98 L31.67,385.74 L31.78,386.15 L31.89,386.98 L32.00,387.40 L32.73,387.23 L33.47,387.26 L34.20,386.80 L34.41,386.09 L34.62,385.49 L34.84,385.12 L35.05,384.39 L35.26,383.88 L35.48,383.26 L35.69,382.50 L35.90,381.81 L35.97,381.01 L36.04,380.38 L36.11,380.07 L36.18,379.40 L36.25,378.82 L36.33,378.13 L36.40,377.55 L36.47,376.92 L36.54,376.41 L36.61,375.48 L36.68,375.01 L36.75,374.32 L36.82,373.92 L36.89,373.32 L36.96,372.45 L37.03,371.77 L37.10,371.21 L37.17,370.63 L37.25,370.19 L37.32,369.43 L37.39,368.95 L37.46,368.15 L37.53,367.63 L37.60,366.87 L37.66,366.45 L37.72,365.79 L37.78,365.32 L37.84,364.75 L37.90,363.97 L37.96,363.18 L38.02,362.92 L38.09,362.32 L38.15,361.53 L38.21,360.92 L38.27,360.49 L38.33,359.62 L38.39,359.01 L38.45,358.58 L38.51,357.96 L38.57,357.36 L38.63,356.81 L38.69,356.08 L38.75,355.43 L38.81,354.75 L38.88,354.14 L38.94,353.59 L39.00,353.01 L39.06,352.52 L39.12,351.87 L39.18,351.22 L39.24,350.56 L39.30,350.05 L39.35,349.35 L39.40,348.90 L39.45,348.24 L39.50,347.65 L39.55,346.91 L39.60,346.36 L39.65,345.84 L39.70,345.33 L39.75,344.55 L39.80,343.86 L39.85,343.40 L39.90,342.56 L39.95,342.04 L40.00,341.31 L40.05,340.91 L40.10,340.19 L40.15,339.64 L40.20,339.19 L40.25,338.52 L40.30,337.67 L40.35,337.23 L40.40,336.45 L40.45,336.16 L40.50,335.43 L40.55,334.96 L40.60,334.12 L40.65,333.74 L40.70,332.86 L40.77,332.54 L40.84,331.74 L40.91,331.01 L40.98,330.74 L41.05,330.10 L41.12,329.23 L41.18,328.78 L41.25,328.13 L41.32,327.39 L41.39,326.89 L41.46,326.50 L41.53,325.66 L41.60,325.20 L42.10,324.50 L42.50,325.21 L42.56,325.76 L42.63,326.50 L42.69,326.89 L42.75,327.56 L42.82,328.17 L42.88,328.65 L42.95,329.42 L43.01,330.15 L43.07,330.69 L43.14,331.15 L43.20,331.80 L43.26,332.51 L43.33,332.98 L43.39,333.63 L43.45,334.47 L43.52,334.83 L43.58,335.45 L43.65,336.09 L43.71,336.85 L43.77,337.27 L43.84,338.16 L43.90,338.73 L43.95,339.41 L43.99,340.02 L44.04,340.61 L44.09,341.14 L44.13,341.66 L44.18,342.38 L44.23,342.81 L44.27,343.45 L44.32,344.24 L44.36,344.81 L44.41,345.23 L44.46,345.96 L44.50,346.63 L44.55,347.09 L44.60,347.87 L44.64,348.27 L44.69,348.89 L44.74,349.59 L44.78,350.15 L44.83,350.93 L44.88,351.42 L44.92,351.97 L44.97,352.79 L45.01,353.41 L45.06,353.99 L45.11,354.33 L45.15,355.00 L45.20,355.54 L45.25,356.40 L45.31,356.90 L45.36,357.36 L45.41,358.30 L45.47,358.57 L45.52,359.16 L45.58,360.11 L45.63,360.54 L45.68,361.31 L45.74,361.81 L45.79,362.23 L45.84,362.98 L45.90,363.70 L45.95,364.01 L46.00,364.92 L46.06,365.35 L46.11,366.03 L46.16,366.56 L46.22,367.35 L46.27,367.84 L46.33,368.43 L46.38,368.88 L46.43,369.76 L46.49,370.14 L46.54,370.92 L46.59,371.29 L46.65,371.94 L46.70,372.75 L46.78,373.21 L46.86,373.93 L46.94,374.56 L47.02,375.02 L47.10,375.69 L47.19,376.23 L47.27,376.68 L47.35,377.60 L47.43,378.07 L47.51,378.80 L47.59,379.30 L47.67,379.90 L47.75,380.28 L47.83,381.08 L47.91,381.60 L48.00,382.13 L48.08,382.66 L48.16,383.29 L48.24,383.84 L48.32,384.67 L48.40,385.17 L48.78,385.52 L49.17,386.16 L49.55,386.75 L49.93,387.24 L50.32,387.53 L50.70,388.00 L51.30,388.00 L51.91,388.00 L52.51,388.01 L53.12,388.01 L53.72,388.01 L54.32,388.01 L54.93,388.02 L55.53,388.02 L56.13,388.02 L56.74,388.02 L57.34,388.03 L57.95,388.03 L58.55,388.03 L59.15,388.04 L59.76,388.04 L60.36,388.04 L60.96,388.04 L61.57,388.05 L62.17,388.05 L62.78,388.05 L63.38,388.05 L63.98,388.06 L64.59,388.06 L65.19,388.06 L65.79,388.06 L66.40,388.06 L67.00,388.07 L67.61,388.07 L68.21,388.07 L68.81,388.07 L69.42,388.08 L70.02,388.08 L70.62,388.08 L71.23,388.08 L71.83,388.09 L72.44,388.09 L73.04,388.09 L73.64,388.09 L74.25,388.10 L74.85,388.10 L75.45,388.10 L76.06,388.11 L76.66,388.11 L77.27,388.11 L77.87,388.11 L78.47,388.12 L79.08,388.12 L79.68,388.12 L80.28,388.12 L80.89,388.12 L81.49,388.13 L82.09,388.13 L82.70,388.13 L83.30,388.13 L83.91,388.14 L84.51,388.14 L85.11,388.14 L85.72,388.14 L86.32,388.15 L86.92,388.15 L87.53,388.15 L88.13,388.15 L88.74,388.16 L89.34,388.16 L89.94,388.16 L90.55,388.16 L91.15,388.17 L91.75,388.17 L92.36,388.17 L92.96,388.18 L93.57,388.18 L94.17,388.18 L94.77,388.18 L95.38,388.19 L95.98,388.19 L96.59,388.19 L97.19,388.19 L97.79,388.19 L98.40,388.20 L99.00,388.20" stroke="#111" stroke-width="1.4" fill="none" />
<path d="M30.80,380.80 L30.92,381.48 L31.04,382.24 L31.16,382.99 L31.28,383.42 L31.40,384.04 L31.52,384.73 L31.64,385.58 L31.76,385.98 L31.88,386.86 L32.00,387.40 L32.60,387.27 L33.20,387.21 L33.80,386.88 L34.40,386.91 L34.61,386.24 L34.83,385.59 L35.04,385.19 L35.25,384.19 L35.46,383.52 L35.67,383.25 L35.89,382.40 L36.10,381.68 L36.17,381.12 L36.24,380.51 L36.31,380.13 L36.38,379.22 L36.45,378.60 L36.52,378.13 L36.60,377.50 L36.67,377.05 L36.74,376.39 L36.81,375.58 L36.88,374.90 L36.95,374.53 L37.02,373.98 L37.09,372.98 L37.16,372.64 L37.23,372.08 L37.30,371.38 L37.38,370.59 L37.45,370.20 L37.52,369.56 L37.59,368.73 L37.66,368.29 L37.73,367.50 L37.80,366.82 L37.86,366.33 L37.92,365.72 L37.98,365.14 L38.04,364.63 L38.10,364.10 L38.16,363.54 L38.22,362.94 L38.29,362.34 L38.35,361.65 L38.41,360.85 L38.47,360.19 L38.53,359.76 L38.59,359.13 L38.65,358.57 L38.71,357.73 L38.77,357.16 L38.83,356.85 L38.89,356.11 L38.95,355.54 L39.01,354.70 L39.08,354.21 L39.14,353.81 L39.20,353.10 L39.26,352.63 L39.32,351.70 L39.38,351.20 L39.44,350.73 L39.50,349.98 L39.55,349.51 L39.60,348.81 L39.65,348.03 L39.70,347.41 L39.75,347.16 L39.80,346.20 L39.85,345.63 L39.90,345.08 L39.95,344.62 L40.00,344.07 L40.05,343.31 L40.10,342.71 L40.15,342.22 L40.20,341.41 L40.25,340.84 L40.30,340.33 L40.35,339.73 L40.40,338.89 L40.45,338.31 L40.50,337.71 L40.55,337.34 L40.60,336.72 L40.65,336.22 L40.70,335.54 L40.75,334.72 L40.80,334.32 L40.85,333.80 L40.90,332.94 L40.98,332.18 L41.05,331.70 L41.12,331.04 L41.20,330.37 L41.27,329.69 L41.35,329.10 L41.42,328.77 L41.50,327.82 L41.57,327.42 L41.65,326.63 L41.72,326.00 L41.80,325.63 L42.30,324.92 L42.80,325.37 L42.86,326.08 L42.92,326.78 L42.98,327.31 L43.04,328.04 L43.10,328.46 L43.15,329.11 L43.21,329.79 L43.27,330.28 L43.33,330.99 L43.39,331.49 L43.45,331.95 L43.51,332.55 L43.57,333.41 L43.63,334.00 L43.69,334.68 L43.75,335.18 L43.80,335.73 L43.86,336.17 L43.92,337.04 L43.98,337.35 L44.04,338.07 L44.10,338.56 L44.15,339.26 L44.19,339.84 L44.24,340.49 L44.29,341.21 L44.33,341.75 L44.38,342.24 L44.42,343.06 L44.47,343.65 L44.52,344.30 L44.56,344.58 L44.61,345.42 L44.66,346.14 L44.70,346.50 L44.75,347.08 L44.80,347.93 L44.84,348.36 L44.89,348.98 L44.94,349.76 L44.98,350.19 L45.03,350.72 L45.08,351.34 L45.12,352.00 L45.17,352.74 L45.21,353.22 L45.26,353.99 L45.31,354.31 L45.35,354.99 L45.40,355.75 L45.45,356.30 L45.51,356.91 L45.56,357.70 L45.61,358.04 L45.67,358.61 L45.72,359.16 L45.77,359.94 L45.83,360.48 L45.88,361.15 L45.94,361.57 L45.99,362.18 L46.04,362.94 L46.10,363.70 L46.15,364.12 L46.20,364.97 L46.26,365.45 L46.31,365.98 L46.36,366.74 L46.42,367.13 L46.47,367.88 L46.52,368.59 L46.58,369.07 L46.63,369.59 L46.69,370.11 L46.74,370.91 L46.79,371.36 L46.85,372.04 L46.90,372.72 L46.98,373.47 L47.06,373.96 L47.14,374.49 L47.22,375.22 L47.30,375.60 L47.39,376.23 L47.47,376.94 L47.55,377.48 L47.63,377.95 L47.71,378.62 L47.79,379.38 L47.87,379.74 L47.95,380.52 L48.03,380.85 L48.11,381.81 L48.20,382.30 L48.28,382.75 L48.36,383.61 L48.44,384.13 L48.52,384.43 L48.60,385.10 L48.98,385.66 L49.37,386.33 L49.75,386.46 L50.13,386.89 L50.52,387.53 L50.90,388.00 L51.50,388.00 L52.10,388.00 L52.70,388.01 L53.30,388.01 L53.91,388.01 L54.51,388.01 L55.11,388.02 L55.71,388.02 L56.31,388.02 L56.91,388.02 L57.51,388.03 L58.11,388.03 L58.72,388.03 L59.32,388.04 L59.92,388.04 L60.52,388.04 L61.12,388.04 L61.72,388.05 L62.32,388.05 L62.92,388.05 L63.53,388.05 L64.13,388.06 L64.73,388.06 L65.33,388.06 L65.93,388.06 L66.53,388.06 L67.13,388.07 L67.73,388.07 L68.34,388.07 L68.94,388.07 L69.54,388.08 L70.14,388.08 L70.74,388.08 L71.34,388.08 L71.94,388.09 L72.55,388.09 L73.15,388.09 L73.75,388.09 L74.35,388.10 L74.95,388.10 L75.55,388.10 L76.15,388.11 L76.75,388.11 L77.36,388.11 L77.96,388.11 L78.56,388.12 L79.16,388.12 L79.76,388.12 L80.36,388.12 L80.96,388.12 L81.56,388.13 L82.16,388.13 L82.77,388.13 L83.37,388.13 L83.97,388.14 L84.57,388.14 L85.17,388.14 L85.77,388.14 L86.37,388.15 L86.97,388.15 L87.58,388.15 L88.18,388.15 L88.78,388.16 L89.38,388.16 L89.98,388.16 L90.58,388.16 L91.18,388.17 L91.78,388.17 L92.39,388.17 L92.99,388.18 L93.59,388.18 L94.19,388.18 L94.79,388.18 L95.39,388.19 L95.99,388.19 L96.59,388.19 L97.20,388.19 L97.80,388.19 L98.40,388.20 L99.00,388.20" stroke="#bb3048" stroke-width="1.0" fill="none" />
<text transform="translate(66.80,405.40) scale(1.085,1)" font-size="9.217" text-anchor="middle" fill="#1e1e1e" stroke="#1e1e1e" stroke-width="0.12">GPRC5D</text>
<text transform="translate(156.70,313.80) scale(1.085,1)" font-size="9.217" text-anchor="middle" fill="#1e1e1e" stroke="#1e1e1e" stroke-width="0.12">NK Cells</text>
<line x1="119.70" y1="319.80" x2="188.00" y2="319.80" stroke="#a8a8a8" stroke-width="0.8" />
<line x1="188.00" y1="319.80" x2="188.00" y2="388.20" stroke="#e4e4e4" stroke-width="0.8" />
<line x1="119.70" y1="319.80" x2="119.70" y2="388.20" stroke="#444" stroke-width="0.8" />
<line x1="119.20" y1="388.20" x2="188.00" y2="388.20" stroke="#333" stroke-width="0.9" />
<line x1="118.40" y1="388.20" x2="119.70" y2="388.20" stroke="#444" stroke-width="0.6" />
<text x="117.90" y="389.50" font-size="3.7" text-anchor="end" fill="#333" stroke="#333" stroke-width="0.12">0</text>
<line x1="118.40" y1="375.10" x2="119.70" y2="375.10" stroke="#444" stroke-width="0.6" />
<text x="117.90" y="376.40" font-size="3.7" text-anchor="end" fill="#333" stroke="#333" stroke-width="0.12">20</text>
<line x1="118.40" y1="362.00" x2="119.70" y2="362.00" stroke="#444" stroke-width="0.6" />
<text x="117.90" y="363.30" font-size="3.7" text-anchor="end" fill="#333" stroke="#333" stroke-width="0.12">40</text>
<line x1="118.40" y1="348.90" x2="119.70" y2="348.90" stroke="#444" stroke-width="0.6" />
<text x="117.90" y="350.20" font-size="3.7" text-anchor="end" fill="#333" stroke="#333" stroke-width="0.12">60</text>
<line x1="118.40" y1="335.80" x2="119.70" y2="335.80" stroke="#444" stroke-width="0.6" />
<text x="117.90" y="337.10" font-size="3.7" text-anchor="end" fill="#333" stroke="#333" stroke-width="0.12">80</text>
<line x1="118.40" y1="322.70" x2="119.70" y2="322.70" stroke="#444" stroke-width="0.6" />
<text x="117.90" y="324.00" font-size="3.7" text-anchor="end" fill="#333" stroke="#333" stroke-width="0.12">100</text>
<line x1="125.00" y1="388.20" x2="125.00" y2="389.40" stroke="#555" stroke-width="0.5" />
<text x="125.00" y="393.60" font-size="3.7" text-anchor="middle" fill="#333" stroke="#333" stroke-width="0.12">0</text>
<line x1="182.00" y1="388.20" x2="182.00" y2="389.40" stroke="#555" stroke-width="0.5" />
<text x="182.00" y="393.60" font-size="3.7" text-anchor="middle" fill="#333" stroke="#333" stroke-width="0.12">10⁵</text>
<path d="M119.70,385.37 L120.04,385.63 L120.38,386.43 L120.72,386.90 L121.06,387.44 L121.40,388.00 L122.08,387.78 L122.76,387.56 L123.44,387.34 L124.12,387.31 L124.80,386.92 L124.94,386.26 L125.08,385.50 L125.22,385.02 L125.37,384.62 L125.51,384.01 L125.65,383.10 L125.79,382.71 L125.93,381.85 L126.08,381.38 L126.22,380.70 L126.36,380.02 L126.50,379.47 L126.57,378.98 L126.63,378.35 L126.70,377.60 L126.76,376.91 L126.83,376.25 L126.89,376.00 L126.96,375.23 L127.02,374.60 L127.09,373.96 L127.15,373.23 L127.22,372.67 L127.28,372.35 L127.35,371.50 L127.42,370.95 L127.48,370.50 L127.55,369.75 L127.61,368.98 L127.68,368.32 L127.74,367.75 L127.81,367.11 L127.87,366.53 L127.94,365.91 L128.00,365.37 L128.07,364.81 L128.13,364.16 L128.20,363.55 L128.25,363.00 L128.31,362.29 L128.36,361.98 L128.41,361.08 L128.47,360.64 L128.52,359.94 L128.57,359.39 L128.62,358.58 L128.68,358.37 L128.73,357.72 L128.78,356.78 L128.84,356.27 L128.89,355.93 L128.94,355.26 L129.00,354.58 L129.05,354.08 L129.10,353.19 L129.16,352.84 L129.21,352.01 L129.26,351.45 L129.32,351.11 L129.37,350.27 L129.42,349.75 L129.47,349.19 L129.53,348.50 L129.58,348.04 L129.63,347.50 L129.69,346.74 L129.74,346.05 L129.79,345.63 L129.85,344.81 L129.90,344.12 L129.95,343.83 L130.00,342.96 L130.05,342.27 L130.10,341.90 L130.15,341.02 L130.20,340.68 L130.25,340.10 L130.30,339.24 L130.35,338.87 L130.40,338.16 L130.45,337.38 L130.50,336.74 L130.55,336.11 L130.60,335.64 L130.65,335.19 L130.70,334.39 L130.75,333.77 L130.80,333.11 L130.85,332.59 L130.90,331.98 L130.95,331.22 L131.00,330.57 L131.12,329.88 L131.24,329.50 L131.36,328.81 L131.48,327.98 L131.60,327.65 L131.72,326.98 L131.84,326.11 L131.96,325.77 L132.08,324.91 L132.20,324.49 L132.35,325.29 L132.50,325.80 L132.65,326.24 L132.80,326.84 L132.90,326.56 L133.00,325.56 L133.10,325.04 L133.20,324.38 L133.30,323.82 L133.40,324.46 L133.50,325.26 L133.60,325.70 L133.70,326.37 L133.80,327.11 L133.90,327.60 L134.00,328.08 L134.10,328.99 L134.20,329.55 L134.30,329.93 L134.40,330.71 L134.45,331.51 L134.51,331.77 L134.56,332.67 L134.62,333.32 L134.67,333.77 L134.73,334.56 L134.78,335.17 L134.84,335.66 L134.89,336.42 L134.95,336.82 L135.00,337.49 L135.05,337.93 L135.11,338.78 L135.16,339.32 L135.22,339.85 L135.27,340.61 L135.33,341.11 L135.38,341.80 L135.44,342.26 L135.49,343.02 L135.55,343.51 L135.60,344.28 L135.64,344.93 L135.69,345.49 L135.73,346.14 L135.78,346.87 L135.82,347.26 L135.86,348.06 L135.91,348.67 L135.95,349.07 L135.99,349.58 L136.04,350.46 L136.08,351.12 L136.12,351.61 L136.17,351.99 L136.21,352.80 L136.26,353.35 L136.30,353.91 L136.34,354.51 L136.39,355.13 L136.43,355.85 L136.47,356.49 L136.52,356.80 L136.56,357.54 L136.61,358.21 L136.65,358.87 L136.69,359.53 L136.74,359.98 L136.78,360.69 L136.82,360.99 L136.87,361.98 L136.91,362.55 L136.96,362.98 L137.00,363.69 L137.05,364.09 L137.11,364.77 L137.16,365.46 L137.22,366.16 L137.27,366.81 L137.32,367.33 L137.38,367.88 L137.43,368.61 L137.48,369.28 L137.54,369.84 L137.59,370.24 L137.65,371.11 L137.70,371.70 L137.75,372.09 L137.81,372.95 L137.86,373.22 L137.92,374.18 L137.97,374.44 L138.02,375.15 L138.08,375.94 L138.13,376.33 L138.18,376.86 L138.24,377.51 L138.29,378.47 L138.35,378.75 L138.40,379.67 L138.53,380.11 L138.66,380.80 L138.79,381.32 L138.92,381.83 L139.05,382.45 L139.18,382.99 L139.32,383.71 L139.45,384.53 L139.58,385.01 L139.71,385.48 L139.84,386.10 L139.97,386.73 L140.10,387.40 L140.67,387.60 L141.23,387.80 L141.80,388.00 L142.40,388.00 L143.00,388.01 L143.60,388.01 L144.20,388.01 L144.80,388.01 L145.40,388.02 L146.00,388.02 L146.60,388.02 L147.20,388.02 L147.80,388.03 L148.40,388.03 L149.00,388.03 L149.60,388.03 L150.20,388.04 L150.80,388.04 L151.40,388.04 L152.00,388.04 L152.60,388.05 L153.20,388.05 L153.80,388.05 L154.40,388.05 L155.00,388.06 L155.60,388.06 L156.20,388.06 L156.80,388.06 L157.40,388.07 L158.00,388.07 L158.60,388.07 L159.20,388.08 L159.80,388.08 L160.40,388.08 L161.00,388.08 L161.60,388.09 L162.20,388.09 L162.80,388.09 L163.40,388.09 L164.00,388.10 L164.60,388.10 L165.20,388.10 L165.80,388.10 L166.40,388.11 L167.00,388.11 L167.60,388.11 L168.20,388.11 L168.80,388.12 L169.40,388.12 L170.00,388.12 L170.60,388.12 L171.20,388.13 L171.80,388.13 L172.40,388.13 L173.00,388.14 L173.60,388.14 L174.20,388.14 L174.80,388.14 L175.40,388.15 L176.00,388.15 L176.60,388.15 L177.20,388.15 L177.80,388.16 L178.40,388.16 L179.00,388.16 L179.60,388.16 L180.20,388.17 L180.80,388.17 L181.40,388.17 L182.00,388.17 L182.60,388.18 L183.20,388.18 L183.80,388.18 L184.40,388.18 L185.00,388.19 L185.60,388.19 L186.20,388.19 L186.80,388.19 L187.40,388.20 L188.00,388.20" stroke="#111" stroke-width="1.4" fill="none" />
<path d="M119.70,385.21 L120.04,385.64 L120.38,386.50 L120.72,386.93 L121.06,387.44 L121.40,388.00 L122.00,387.82 L122.60,387.63 L123.20,387.45 L123.80,387.27 L124.40,387.12 L125.00,387.08 L125.14,386.12 L125.28,385.78 L125.42,384.94 L125.57,384.33 L125.71,383.75 L125.85,383.30 L125.99,382.76 L126.13,382.05 L126.28,381.28 L126.42,380.58 L126.56,380.03 L126.70,379.39 L126.77,378.89 L126.83,378.28 L126.90,377.51 L126.96,376.94 L127.03,376.59 L127.09,375.91 L127.16,375.06 L127.22,374.75 L127.29,373.98 L127.35,373.34 L127.42,372.90 L127.48,372.24 L127.55,371.52 L127.62,370.89 L127.68,370.34 L127.75,369.85 L127.81,369.19 L127.88,368.33 L127.94,367.69 L128.01,367.21 L128.07,366.57 L128.14,366.16 L128.20,365.48 L128.27,364.68 L128.33,364.18 L128.40,363.63 L128.45,362.99 L128.51,362.30 L128.56,361.87 L128.61,361.10 L128.67,360.78 L128.72,359.93 L128.77,359.38 L128.82,358.90 L128.88,358.11 L128.93,357.73 L128.98,356.99 L129.04,356.38 L129.09,355.65 L129.14,355.09 L129.20,354.56 L129.25,354.08 L129.30,353.21 L129.36,352.88 L129.41,352.31 L129.46,351.37 L129.52,350.99 L129.57,350.23 L129.62,349.57 L129.68,349.32 L129.73,348.42 L129.78,347.88 L129.83,347.40 L129.89,346.76 L129.94,346.27 L129.99,345.70 L130.05,344.89 L130.10,344.14 L130.15,343.82 L130.20,342.92 L130.25,342.39 L130.30,341.72 L130.35,341.34 L130.40,340.47 L130.45,340.10 L130.50,339.38 L130.55,338.78 L130.60,338.22 L130.65,337.44 L130.70,336.75 L130.75,336.36 L130.80,335.70 L130.85,334.99 L130.90,334.28 L130.95,333.66 L131.00,333.15 L131.05,332.63 L131.10,331.86 L131.15,331.12 L131.20,330.68 L131.31,329.98 L131.42,329.58 L131.53,328.95 L131.64,328.26 L131.75,327.49 L131.85,327.12 L131.96,326.42 L132.07,325.93 L132.18,325.34 L132.29,324.47 L132.40,323.92 L132.55,324.65 L132.70,325.09 L132.85,325.74 L133.00,326.59 L133.15,325.60 L133.30,324.95 L133.45,324.18 L133.60,323.76 L133.69,324.33 L133.78,324.99 L133.87,325.66 L133.96,326.07 L134.05,326.95 L134.15,327.42 L134.24,328.07 L134.33,328.60 L134.42,329.32 L134.51,330.01 L134.60,330.83 L134.65,331.32 L134.71,331.85 L134.76,332.60 L134.82,333.09 L134.87,333.92 L134.93,334.34 L134.98,334.91 L135.04,335.60 L135.09,336.30 L135.15,336.94 L135.20,337.41 L135.25,338.14 L135.31,338.80 L135.36,339.24 L135.42,339.90 L135.47,340.56 L135.53,341.33 L135.58,341.68 L135.64,342.35 L135.69,343.22 L135.75,343.69 L135.80,344.10 L135.84,344.92 L135.89,345.70 L135.93,346.11 L135.98,346.83 L136.02,347.44 L136.06,347.77 L136.11,348.67 L136.15,348.94 L136.19,349.56 L136.24,350.41 L136.28,350.89 L136.32,351.64 L136.37,352.11 L136.41,352.77 L136.46,353.36 L136.50,354.04 L136.54,354.70 L136.59,355.35 L136.63,355.72 L136.68,356.56 L136.72,356.78 L136.76,357.66 L136.81,358.21 L136.85,358.60 L136.89,359.29 L136.94,360.07 L136.98,360.40 L137.02,361.15 L137.07,361.86 L137.11,362.28 L137.16,363.02 L137.20,363.42 L137.25,364.06 L137.31,364.65 L137.36,365.44 L137.42,366.00 L137.47,366.77 L137.52,367.35 L137.58,367.98 L137.63,368.30 L137.68,369.10 L137.74,369.91 L137.79,370.34 L137.85,370.99 L137.90,371.67 L137.95,372.03 L138.01,372.97 L138.06,373.33 L138.12,374.00 L138.17,374.81 L138.22,375.04 L138.28,375.93 L138.33,376.30 L138.38,377.17 L138.44,377.59 L138.49,378.38 L138.55,378.89 L138.60,379.58 L138.73,380.27 L138.86,380.81 L138.99,381.43 L139.12,381.82 L139.25,382.64 L139.38,383.21 L139.52,383.62 L139.65,384.35 L139.78,384.96 L139.91,385.55 L140.04,386.26 L140.17,386.63 L140.30,387.40 L140.87,387.60 L141.43,387.80 L142.00,388.00 L142.61,388.00 L143.21,388.01 L143.82,388.01 L144.42,388.01 L145.03,388.01 L145.63,388.02 L146.24,388.02 L146.84,388.02 L147.45,388.02 L148.05,388.03 L148.66,388.03 L149.26,388.03 L149.87,388.03 L150.47,388.04 L151.08,388.04 L151.68,388.04 L152.29,388.04 L152.89,388.05 L153.50,388.05 L154.11,388.05 L154.71,388.06 L155.32,388.06 L155.92,388.06 L156.53,388.06 L157.13,388.07 L157.74,388.07 L158.34,388.07 L158.95,388.07 L159.55,388.08 L160.16,388.08 L160.76,388.08 L161.37,388.08 L161.97,388.09 L162.58,388.09 L163.18,388.09 L163.79,388.09 L164.39,388.10 L165.00,388.10 L165.61,388.10 L166.21,388.11 L166.82,388.11 L167.42,388.11 L168.03,388.11 L168.63,388.12 L169.24,388.12 L169.84,388.12 L170.45,388.12 L171.05,388.13 L171.66,388.13 L172.26,388.13 L172.87,388.13 L173.47,388.14 L174.08,388.14 L174.68,388.14 L175.29,388.14 L175.89,388.15 L176.50,388.15 L177.11,388.15 L177.71,388.16 L178.32,388.16 L178.92,388.16 L179.53,388.16 L180.13,388.17 L180.74,388.17 L181.34,388.17 L181.95,388.17 L182.55,388.18 L183.16,388.18 L183.76,388.18 L184.37,388.18 L184.97,388.19 L185.58,388.19 L186.18,388.19 L186.79,388.19 L187.39,388.20 L188.00,388.20" stroke="#bb3048" stroke-width="1.0" fill="none" />
<text transform="translate(150.70,405.40) scale(1.085,1)" font-size="9.217" text-anchor="middle" fill="#1e1e1e" stroke="#1e1e1e" stroke-width="0.12">GPRC5D</text>
<text transform="translate(247.70,313.80) scale(1.085,1)" font-size="9.217" text-anchor="middle" fill="#1e1e1e" stroke="#1e1e1e" stroke-width="0.12">Monocytes</text>
<line x1="213.70" y1="319.80" x2="282.00" y2="319.80" stroke="#a8a8a8" stroke-width="0.8" />
<line x1="282.00" y1="319.80" x2="282.00" y2="388.20" stroke="#e4e4e4" stroke-width="0.8" />
<line x1="213.70" y1="319.80" x2="213.70" y2="388.20" stroke="#444" stroke-width="0.8" />
<line x1="213.20" y1="388.20" x2="282.00" y2="388.20" stroke="#333" stroke-width="0.9" />
<line x1="212.40" y1="388.20" x2="213.70" y2="388.20" stroke="#444" stroke-width="0.6" />
<text x="211.90" y="389.50" font-size="3.7" text-anchor="end" fill="#333" stroke="#333" stroke-width="0.12">0</text>
<line x1="212.40" y1="375.10" x2="213.70" y2="375.10" stroke="#444" stroke-width="0.6" />
<text x="211.90" y="376.40" font-size="3.7" text-anchor="end" fill="#333" stroke="#333" stroke-width="0.12">20</text>
<line x1="212.40" y1="362.00" x2="213.70" y2="362.00" stroke="#444" stroke-width="0.6" />
<text x="211.90" y="363.30" font-size="3.7" text-anchor="end" fill="#333" stroke="#333" stroke-width="0.12">40</text>
<line x1="212.40" y1="348.90" x2="213.70" y2="348.90" stroke="#444" stroke-width="0.6" />
<text x="211.90" y="350.20" font-size="3.7" text-anchor="end" fill="#333" stroke="#333" stroke-width="0.12">60</text>
<line x1="212.40" y1="335.80" x2="213.70" y2="335.80" stroke="#444" stroke-width="0.6" />
<text x="211.90" y="337.10" font-size="3.7" text-anchor="end" fill="#333" stroke="#333" stroke-width="0.12">80</text>
<line x1="212.40" y1="322.70" x2="213.70" y2="322.70" stroke="#444" stroke-width="0.6" />
<text x="211.90" y="324.00" font-size="3.7" text-anchor="end" fill="#333" stroke="#333" stroke-width="0.12">100</text>
<line x1="219.50" y1="388.20" x2="219.50" y2="389.40" stroke="#555" stroke-width="0.5" />
<text x="219.50" y="393.60" font-size="3.7" text-anchor="middle" fill="#333" stroke="#333" stroke-width="0.12">0</text>
<line x1="275.00" y1="388.20" x2="275.00" y2="389.40" stroke="#555" stroke-width="0.5" />
<text x="275.00" y="393.60" font-size="3.7" text-anchor="middle" fill="#333" stroke="#333" stroke-width="0.12">10⁵</text>
<path d="M213.70,388.20 L214.32,388.17 L214.93,388.13 L215.55,388.10 L216.17,388.06 L216.79,388.03 L217.40,387.99 L218.02,387.96 L218.64,387.92 L219.26,387.89 L219.87,387.85 L220.49,387.82 L221.11,387.78 L221.73,387.75 L222.34,387.71 L222.96,387.68 L223.58,387.64 L224.20,387.61 L224.81,387.57 L225.43,387.54 L226.05,387.50 L226.67,387.47 L227.28,387.43 L227.90,387.40 L228.46,386.95 L229.01,386.66 L229.57,386.27 L230.13,386.11 L230.69,385.83 L231.24,385.44 L231.80,385.14 L232.47,385.01 L233.13,384.69 L233.80,384.53 L234.47,384.42 L235.13,384.19 L235.80,384.12 L236.09,383.56 L236.38,382.95 L236.66,382.34 L236.95,381.67 L237.24,381.29 L237.53,380.72 L237.81,379.99 L238.10,379.38 L238.16,378.85 L238.21,378.19 L238.26,377.56 L238.32,376.94 L238.38,376.33 L238.43,375.56 L238.48,375.13 L238.54,374.67 L238.59,373.71 L238.65,373.33 L238.70,372.70 L238.76,372.18 L238.81,371.28 L238.87,370.79 L238.92,369.96 L238.98,369.36 L239.03,368.92 L239.09,368.12 L239.14,367.47 L239.20,367.12 L239.23,366.43 L239.26,365.85 L239.30,365.18 L239.33,364.72 L239.36,364.01 L239.39,363.32 L239.42,362.95 L239.46,362.16 L239.49,361.43 L239.52,360.85 L239.55,360.47 L239.59,359.82 L239.62,359.11 L239.65,358.55 L239.68,357.82 L239.71,357.17 L239.75,356.51 L239.78,356.14 L239.81,355.46 L239.84,355.00 L239.88,354.32 L239.91,353.61 L239.94,353.12 L239.97,352.35 L240.00,351.79 L240.04,351.31 L240.07,350.62 L240.10,349.82 L240.13,349.23 L240.16,348.91 L240.19,348.23 L240.21,347.39 L240.24,347.12 L240.27,346.29 L240.30,345.72 L240.33,344.97 L240.36,344.63 L240.39,343.86 L240.41,343.17 L240.44,342.91 L240.47,342.01 L240.50,341.39 L240.53,340.85 L240.56,340.30 L240.59,339.48 L240.61,339.02 L240.64,338.55 L240.67,337.96 L240.70,337.16 L240.73,336.59 L240.76,336.04 L240.79,335.57 L240.81,334.90 L240.84,334.04 L240.87,333.70 L240.90,332.89 L241.01,332.20 L241.13,331.63 L241.24,330.98 L241.36,330.36 L241.47,329.59 L241.59,329.29 L241.70,328.62 L241.80,327.68 L241.90,327.11 L242.00,326.55 L242.10,325.78 L242.20,325.41 L242.30,324.59 L242.40,323.80 L242.45,324.36 L242.51,325.15 L242.56,325.75 L242.61,326.44 L242.67,326.91 L242.72,327.57 L242.77,328.34 L242.83,328.60 L242.88,329.24 L242.93,330.01 L242.99,330.42 L243.04,331.27 L243.09,331.62 L243.15,332.32 L243.20,333.11 L243.23,333.66 L243.26,334.41 L243.30,334.85 L243.33,335.33 L243.36,335.89 L243.39,336.55 L243.42,337.24 L243.46,337.95 L243.49,338.39 L243.52,338.90 L243.55,339.49 L243.59,340.34 L243.62,341.06 L243.65,341.63 L243.68,342.28 L243.71,342.64 L243.75,343.35 L243.78,343.82 L243.81,344.69 L243.84,345.03 L243.88,345.62 L243.91,346.53 L243.94,347.15 L243.97,347.52 L244.00,348.34 L244.04,348.84 L244.07,349.26 L244.10,349.93 L244.13,350.58 L244.16,351.20 L244.19,351.91 L244.21,352.35 L244.24,352.94 L244.27,353.44 L244.30,354.19 L244.33,354.66 L244.36,355.66 L244.39,356.05 L244.41,356.68 L244.44,357.33 L244.47,358.04 L244.50,358.53 L244.53,359.02 L244.56,359.69 L244.59,360.19 L244.61,360.97 L244.64,361.46 L244.67,362.16 L244.70,362.62 L244.73,363.27 L244.76,364.00 L244.79,364.56 L244.81,365.05 L244.84,365.85 L244.87,366.56 L244.90,367.03 L244.95,367.53 L244.99,368.26 L245.04,368.75 L245.08,369.43 L245.13,370.10 L245.18,370.88 L245.22,371.29 L245.27,371.90 L245.31,372.40 L245.36,373.01 L245.40,373.86 L245.45,374.45 L245.50,374.92 L245.54,375.58 L245.59,376.34 L245.63,376.69 L245.68,377.33 L245.72,378.13 L245.77,378.71 L245.82,379.27 L245.86,379.77 L245.91,380.71 L245.95,381.01 L246.00,381.90 L246.19,382.29 L246.38,382.89 L246.57,383.48 L246.76,384.46 L246.94,385.05 L247.13,385.52 L247.32,386.06 L247.51,386.72 L247.70,387.40 L248.35,387.70 L249.00,388.00 L249.60,388.00 L250.20,388.01 L250.80,388.01 L251.40,388.01 L252.00,388.02 L252.60,388.02 L253.20,388.03 L253.80,388.03 L254.40,388.03 L255.00,388.04 L255.60,388.04 L256.20,388.04 L256.80,388.05 L257.40,388.05 L258.00,388.05 L258.60,388.06 L259.20,388.06 L259.80,388.07 L260.40,388.07 L261.00,388.07 L261.60,388.08 L262.20,388.08 L262.80,388.08 L263.40,388.09 L264.00,388.09 L264.60,388.09 L265.20,388.10 L265.80,388.10 L266.40,388.11 L267.00,388.11 L267.60,388.11 L268.20,388.12 L268.80,388.12 L269.40,388.12 L270.00,388.13 L270.60,388.13 L271.20,388.13 L271.80,388.14 L272.40,388.14 L273.00,388.15 L273.60,388.15 L274.20,388.15 L274.80,388.16 L275.40,388.16 L276.00,388.16 L276.60,388.17 L277.20,388.17 L277.80,388.17 L278.40,388.18 L279.00,388.18 L279.60,388.19 L280.20,388.19 L280.80,388.19 L281.40,388.20 L282.00,388.20" stroke="#111" stroke-width="1.4" fill="none" />
<path d="M213.70,388.20 L214.32,388.17 L214.93,388.13 L215.55,388.10 L216.17,388.06 L216.79,388.03 L217.40,387.99 L218.02,387.96 L218.64,387.92 L219.26,387.89 L219.87,387.85 L220.49,387.82 L221.11,387.78 L221.73,387.75 L222.34,387.71 L222.96,387.68 L223.58,387.64 L224.20,387.61 L224.81,387.57 L225.43,387.54 L226.05,387.50 L226.67,387.47 L227.28,387.43 L227.90,387.40 L228.40,387.03 L228.90,386.59 L229.40,386.19 L229.90,385.90 L230.40,385.49 L230.90,385.02 L231.40,384.57 L231.90,384.26 L232.40,384.17 L233.07,383.99 L233.73,383.70 L234.40,383.36 L235.07,383.29 L235.73,383.21 L236.40,383.02 L236.62,382.15 L236.84,381.96 L237.06,381.31 L237.28,380.66 L237.50,380.19 L237.72,379.30 L237.94,378.77 L238.16,378.41 L238.38,377.71 L238.60,377.25 L238.67,376.66 L238.74,376.11 L238.80,375.22 L238.87,374.70 L238.94,374.29 L239.01,373.47 L239.08,372.68 L239.15,372.08 L239.21,371.64 L239.28,370.90 L239.35,370.36 L239.42,369.76 L239.49,368.97 L239.55,368.39 L239.62,368.11 L239.69,367.36 L239.76,366.73 L239.83,366.04 L239.90,365.60 L239.96,364.87 L240.03,364.37 L240.10,363.42 L240.14,362.95 L240.17,362.59 L240.21,361.77 L240.25,361.35 L240.29,360.57 L240.32,360.13 L240.36,359.45 L240.40,358.65 L240.44,357.99 L240.47,357.42 L240.51,356.91 L240.55,356.52 L240.59,355.78 L240.62,355.18 L240.66,354.68 L240.70,353.75 L240.74,353.47 L240.78,352.60 L240.81,352.23 L240.85,351.61 L240.89,350.88 L240.93,350.50 L240.96,349.66 L241.00,349.11 L241.04,348.64 L241.08,348.06 L241.11,347.39 L241.15,346.83 L241.19,345.99 L241.23,345.46 L241.26,344.83 L241.30,344.21 L241.34,343.74 L241.38,343.03 L241.42,342.30 L241.46,341.72 L241.50,341.42 L241.54,340.84 L241.58,339.93 L241.61,339.55 L241.65,338.71 L241.69,338.05 L241.73,337.59 L241.77,336.88 L241.81,336.44 L241.85,335.97 L241.89,335.24 L241.93,334.59 L241.97,333.90 L242.01,333.43 L242.05,332.70 L242.09,332.13 L242.12,331.53 L242.16,330.95 L242.20,330.51 L242.24,329.55 L242.28,329.10 L242.32,328.57 L242.36,327.84 L242.40,327.20 L242.56,326.52 L242.72,326.01 L242.88,325.25 L243.04,324.70 L243.20,323.77 L243.60,324.46 L244.00,325.05 L244.45,324.48 L244.90,323.92 L244.95,324.47 L245.01,324.99 L245.06,325.71 L245.11,326.48 L245.17,326.81 L245.22,327.64 L245.27,328.34 L245.33,328.64 L245.38,329.27 L245.43,329.87 L245.49,330.68 L245.54,331.20 L245.59,331.61 L245.65,332.57 L245.70,333.20 L245.73,333.53 L245.76,334.32 L245.80,334.90 L245.83,335.58 L245.86,336.01 L245.89,336.75 L245.92,337.43 L245.96,338.01 L245.99,338.44 L246.02,339.07 L246.05,339.81 L246.09,340.31 L246.12,341.05 L246.15,341.47 L246.18,342.19 L246.21,342.72 L246.25,343.23 L246.28,343.87 L246.31,344.56 L246.34,345.17 L246.38,345.70 L246.41,346.28 L246.44,347.10 L246.47,347.53 L246.50,348.32 L246.54,348.95 L246.57,349.28 L246.60,350.07 L246.64,350.79 L246.68,351.24 L246.72,351.98 L246.76,352.37 L246.80,353.23 L246.84,353.65 L246.88,354.29 L246.91,354.70 L246.95,355.51 L246.99,356.26 L247.03,356.70 L247.07,357.24 L247.11,357.92 L247.15,358.69 L247.19,359.07 L247.23,359.85 L247.27,360.48 L247.31,361.01 L247.35,361.36 L247.39,362.11 L247.42,362.73 L247.46,363.29 L247.50,363.88 L247.54,364.68 L247.58,365.07 L247.62,365.87 L247.66,366.29 L247.70,366.94 L247.75,367.60 L247.79,368.38 L247.84,369.01 L247.88,369.44 L247.93,369.89 L247.97,370.70 L248.02,371.45 L248.07,372.11 L248.11,372.65 L248.16,373.28 L248.20,373.98 L248.25,374.30 L248.30,374.85 L248.34,375.81 L248.39,376.16 L248.43,377.02 L248.48,377.33 L248.53,378.20 L248.57,378.72 L248.62,379.44 L248.66,380.12 L248.71,380.45 L248.75,381.08 L248.80,381.82 L248.99,382.24 L249.18,382.99 L249.37,383.85 L249.56,384.41 L249.74,384.83 L249.93,385.66 L250.12,386.01 L250.31,386.86 L250.50,387.40 L251.25,387.70 L252.00,388.00 L252.60,388.00 L253.20,388.01 L253.80,388.01 L254.40,388.02 L255.00,388.02 L255.60,388.02 L256.20,388.03 L256.80,388.03 L257.40,388.04 L258.00,388.04 L258.60,388.04 L259.20,388.05 L259.80,388.05 L260.40,388.06 L261.00,388.06 L261.60,388.06 L262.20,388.07 L262.80,388.07 L263.40,388.08 L264.00,388.08 L264.60,388.08 L265.20,388.09 L265.80,388.09 L266.40,388.10 L267.00,388.10 L267.60,388.10 L268.20,388.11 L268.80,388.11 L269.40,388.12 L270.00,388.12 L270.60,388.12 L271.20,388.13 L271.80,388.13 L272.40,388.14 L273.00,388.14 L273.60,388.14 L274.20,388.15 L274.80,388.15 L275.40,388.16 L276.00,388.16 L276.60,388.16 L277.20,388.17 L277.80,388.17 L278.40,388.18 L279.00,388.18 L279.60,388.18 L280.20,388.19 L280.80,388.19 L281.40,388.20 L282.00,388.20" stroke="#bb3048" stroke-width="1.0" fill="none" />
<text transform="translate(247.40,405.40) scale(1.085,1)" font-size="9.217" text-anchor="middle" fill="#1e1e1e" stroke="#1e1e1e" stroke-width="0.12">GPRC5D</text>
<text transform="translate(341.90,313.80) scale(1.085,1)" font-size="9.217" text-anchor="middle" fill="#1e1e1e" stroke="#1e1e1e" stroke-width="0.12">Granulocytes</text>
<line x1="307.50" y1="319.80" x2="376.00" y2="319.80" stroke="#a8a8a8" stroke-width="0.8" />
<line x1="376.00" y1="319.80" x2="376.00" y2="388.20" stroke="#e4e4e4" stroke-width="0.8" />
<line x1="307.50" y1="319.80" x2="307.50" y2="388.20" stroke="#444" stroke-width="0.8" />
<line x1="307.00" y1="388.20" x2="376.00" y2="388.20" stroke="#333" stroke-width="0.9" />
<line x1="306.20" y1="388.20" x2="307.50" y2="388.20" stroke="#444" stroke-width="0.6" />
<text x="305.70" y="389.50" font-size="3.7" text-anchor="end" fill="#333" stroke="#333" stroke-width="0.12">0</text>
<line x1="306.20" y1="375.10" x2="307.50" y2="375.10" stroke="#444" stroke-width="0.6" />
<text x="305.70" y="376.40" font-size="3.7" text-anchor="end" fill="#333" stroke="#333" stroke-width="0.12">20</text>
<line x1="306.20" y1="362.00" x2="307.50" y2="362.00" stroke="#444" stroke-width="0.6" />
<text x="305.70" y="363.30" font-size="3.7" text-anchor="end" fill="#333" stroke="#333" stroke-width="0.12">40</text>
<line x1="306.20" y1="348.90" x2="307.50" y2="348.90" stroke="#444" stroke-width="0.6" />
<text x="305.70" y="350.20" font-size="3.7" text-anchor="end" fill="#333" stroke="#333" stroke-width="0.12">60</text>
<line x1="306.20" y1="335.80" x2="307.50" y2="335.80" stroke="#444" stroke-width="0.6" />
<text x="305.70" y="337.10" font-size="3.7" text-anchor="end" fill="#333" stroke="#333" stroke-width="0.12">80</text>
<line x1="306.20" y1="322.70" x2="307.50" y2="322.70" stroke="#444" stroke-width="0.6" />
<text x="305.70" y="324.00" font-size="3.7" text-anchor="end" fill="#333" stroke="#333" stroke-width="0.12">100</text>
<line x1="313.00" y1="388.20" x2="313.00" y2="389.40" stroke="#555" stroke-width="0.5" />
<text x="313.00" y="393.60" font-size="3.7" text-anchor="middle" fill="#333" stroke="#333" stroke-width="0.12">0</text>
<line x1="370.00" y1="388.20" x2="370.00" y2="389.40" stroke="#555" stroke-width="0.5" />
<text x="370.00" y="393.60" font-size="3.7" text-anchor="middle" fill="#333" stroke="#333" stroke-width="0.12">10⁵</text>
<path d="M307.50,388.20 L308.10,388.17 L308.70,388.14 L309.30,388.11 L309.90,388.08 L310.50,388.05 L311.10,388.02 L311.70,387.99 L312.30,387.96 L312.90,387.93 L313.50,387.90 L314.10,387.87 L314.70,387.84 L315.30,387.81 L315.90,387.79 L316.50,387.76 L317.10,387.73 L317.70,387.70 L318.30,387.67 L318.90,387.64 L319.50,387.61 L320.10,387.58 L320.70,387.55 L321.30,387.52 L321.90,387.49 L322.50,387.46 L323.10,387.43 L323.70,387.40 L323.82,386.85 L323.93,386.10 L324.05,385.65 L324.16,384.98 L324.28,384.33 L324.39,383.56 L324.51,383.10 L324.62,382.59 L324.74,381.81 L324.85,381.26 L324.97,380.60 L325.08,380.21 L325.20,379.60 L325.24,379.03 L325.27,378.46 L325.31,377.77 L325.35,377.23 L325.38,376.30 L325.42,375.81 L325.46,375.18 L325.49,374.57 L325.53,374.03 L325.57,373.47 L325.60,373.00 L325.64,372.19 L325.68,371.60 L325.71,371.21 L325.75,370.27 L325.79,369.65 L325.82,369.05 L325.86,368.75 L325.90,368.14 L325.93,367.47 L325.97,366.72 L326.01,366.32 L326.04,365.48 L326.08,365.14 L326.12,364.62 L326.15,363.93 L326.19,363.07 L326.23,362.52 L326.26,361.92 L326.30,361.57 L326.33,360.90 L326.36,360.17 L326.39,359.52 L326.42,358.83 L326.45,358.49 L326.48,357.70 L326.51,357.26 L326.54,356.62 L326.56,356.02 L326.59,355.59 L326.62,354.62 L326.65,354.07 L326.68,353.64 L326.71,352.80 L326.74,352.56 L326.77,351.64 L326.80,351.40 L326.83,350.70 L326.86,350.13 L326.89,349.27 L326.92,348.64 L326.95,348.40 L326.98,347.55 L327.01,347.18 L327.04,346.22 L327.06,345.81 L327.09,345.24 L327.12,344.70 L327.15,343.92 L327.18,343.34 L327.21,342.96 L327.24,342.40 L327.27,341.48 L327.30,340.96 L327.33,340.28 L327.37,339.66 L327.40,339.12 L327.44,338.65 L327.47,338.00 L327.51,337.25 L327.54,336.58 L327.58,336.21 L327.61,335.53 L327.65,335.03 L327.68,334.38 L327.72,333.75 L327.75,333.05 L327.78,332.28 L327.82,331.88 L327.85,331.28 L327.89,330.56 L327.92,329.91 L327.96,329.41 L327.99,328.92 L328.03,328.10 L328.06,327.44 L328.10,327.12 L328.13,326.36 L328.17,325.72 L328.20,325.24 L328.80,324.03 L329.40,324.38 L329.42,325.15 L329.44,325.65 L329.47,326.44 L329.49,326.99 L329.51,327.74 L329.53,328.24 L329.55,328.89 L329.57,329.47 L329.60,330.00 L329.62,330.58 L329.64,331.47 L329.66,332.09 L329.68,332.44 L329.70,332.95 L329.73,333.59 L329.75,334.56 L329.77,334.98 L329.79,335.68 L329.81,336.31 L329.83,336.78 L329.86,337.35 L329.88,338.16 L329.90,338.86 L329.92,339.40 L329.94,340.04 L329.96,340.63 L329.99,340.95 L330.01,341.77 L330.03,342.44 L330.05,343.07 L330.07,343.38 L330.09,344.18 L330.11,344.78 L330.14,345.38 L330.16,345.92 L330.18,346.58 L330.20,347.02 L330.22,347.93 L330.24,348.61 L330.26,348.99 L330.29,349.74 L330.31,350.42 L330.33,350.89 L330.35,351.59 L330.37,352.24 L330.39,352.81 L330.41,353.29 L330.44,353.98 L330.46,354.57 L330.48,355.05 L330.50,355.70 L330.53,356.20 L330.56,356.80 L330.59,357.67 L330.61,358.31 L330.64,358.71 L330.67,359.30 L330.70,359.87 L330.73,360.66 L330.76,361.17 L330.79,361.75 L330.81,362.49 L330.84,362.80 L330.87,363.58 L330.90,364.33 L330.93,364.83 L330.96,365.56 L330.99,365.95 L331.01,366.72 L331.04,367.41 L331.07,367.78 L331.10,368.47 L331.13,368.86 L331.16,369.71 L331.19,370.19 L331.21,370.75 L331.24,371.52 L331.27,372.12 L331.30,372.84 L331.38,373.16 L331.47,373.97 L331.55,374.64 L331.63,375.12 L331.72,375.94 L331.80,376.47 L331.88,377.08 L331.97,377.57 L332.05,378.44 L332.13,378.91 L332.22,379.74 L332.30,380.42 L332.38,381.05 L332.47,381.60 L332.55,382.16 L332.63,382.60 L332.72,383.55 L332.80,384.02 L333.24,384.47 L333.68,384.78 L334.12,385.23 L334.56,385.96 L335.00,386.33 L335.57,386.63 L336.15,387.15 L336.73,387.57 L337.30,388.00 L337.90,388.00 L338.51,388.01 L339.11,388.01 L339.72,388.01 L340.32,388.02 L340.93,388.02 L341.53,388.02 L342.14,388.02 L342.74,388.03 L343.35,388.03 L343.95,388.03 L344.56,388.04 L345.16,388.04 L345.77,388.04 L346.37,388.05 L346.98,388.05 L347.58,388.05 L348.18,388.06 L348.79,388.06 L349.39,388.06 L350.00,388.07 L350.60,388.07 L351.21,388.07 L351.81,388.07 L352.42,388.08 L353.02,388.08 L353.63,388.08 L354.23,388.09 L354.84,388.09 L355.44,388.09 L356.05,388.10 L356.65,388.10 L357.25,388.10 L357.86,388.11 L358.46,388.11 L359.07,388.11 L359.67,388.12 L360.28,388.12 L360.88,388.12 L361.49,388.12 L362.09,388.13 L362.70,388.13 L363.30,388.13 L363.91,388.14 L364.51,388.14 L365.12,388.14 L365.72,388.15 L366.32,388.15 L366.93,388.15 L367.53,388.16 L368.14,388.16 L368.74,388.16 L369.35,388.17 L369.95,388.17 L370.56,388.17 L371.16,388.18 L371.77,388.18 L372.37,388.18 L372.98,388.18 L373.58,388.19 L374.19,388.19 L374.79,388.19 L375.40,388.20 L376.00,388.20" stroke="#111" stroke-width="1.4" fill="none" />
<path d="M307.50,388.20 L308.10,388.19 L308.70,388.18 L309.30,388.18 L309.90,388.17 L310.50,388.16 L311.10,388.15 L311.70,388.15 L312.30,388.14 L312.90,388.13 L313.50,388.12 L314.10,388.12 L314.70,388.11 L315.30,388.10 L315.90,388.09 L316.50,388.08 L317.10,388.08 L317.70,388.07 L318.30,388.06 L318.90,388.05 L319.50,388.05 L320.10,388.04 L320.70,388.03 L321.30,388.02 L321.90,388.02 L322.50,388.01 L323.10,388.00 L323.24,387.38 L323.38,386.63 L323.52,386.33 L323.66,385.46 L323.80,385.02 L323.94,384.19 L324.08,383.63 L324.22,383.18 L324.36,382.58 L324.50,381.95 L324.54,381.16 L324.57,380.44 L324.61,379.97 L324.65,379.17 L324.69,378.54 L324.73,378.00 L324.76,377.53 L324.80,376.94 L324.84,376.24 L324.88,375.68 L324.91,374.98 L324.95,374.56 L324.99,373.77 L325.02,373.19 L325.06,372.45 L325.10,371.89 L325.14,371.42 L325.17,370.70 L325.21,369.99 L325.25,369.34 L325.29,369.03 L325.32,368.21 L325.36,367.55 L325.40,367.00 L325.43,366.47 L325.46,365.77 L325.49,365.06 L325.52,364.49 L325.55,363.77 L325.58,363.35 L325.61,362.73 L325.64,362.23 L325.67,361.38 L325.70,360.73 L325.73,360.40 L325.76,359.75 L325.79,358.91 L325.82,358.42 L325.85,357.64 L325.88,357.26 L325.91,356.56 L325.94,355.80 L325.96,355.53 L325.99,354.80 L326.02,354.31 L326.05,353.43 L326.08,353.06 L326.11,352.32 L326.14,351.57 L326.17,351.08 L326.20,350.49 L326.23,349.65 L326.26,349.33 L326.29,348.55 L326.32,348.16 L326.35,347.50 L326.38,346.93 L326.41,346.22 L326.44,345.44 L326.47,345.10 L326.50,344.23 L326.54,343.77 L326.59,343.13 L326.63,342.60 L326.67,341.88 L326.71,341.09 L326.76,340.64 L326.80,339.96 L326.84,339.60 L326.89,338.76 L326.93,338.13 L326.97,337.44 L327.01,336.94 L327.06,336.55 L327.10,335.75 L327.14,335.29 L327.19,334.48 L327.23,333.98 L327.27,333.46 L327.31,332.90 L327.36,332.03 L327.40,331.54 L327.44,330.94 L327.49,330.31 L327.53,329.68 L327.57,329.26 L327.61,328.70 L327.66,327.74 L327.70,327.17 L327.80,326.77 L327.90,326.09 L328.00,325.32 L328.10,324.47 L328.20,323.93 L328.95,323.97 L329.70,323.71 L329.75,324.43 L329.81,325.18 L329.86,325.74 L329.91,326.17 L329.97,327.02 L330.02,327.45 L330.07,328.21 L330.13,328.76 L330.18,329.21 L330.23,329.82 L330.29,330.53 L330.34,331.19 L330.39,331.83 L330.45,332.25 L330.50,333.19 L330.53,333.55 L330.56,334.31 L330.59,334.86 L330.61,335.44 L330.64,336.17 L330.67,336.53 L330.70,337.09 L330.73,337.83 L330.76,338.27 L330.79,338.88 L330.81,339.59 L330.84,340.24 L330.87,340.98 L330.90,341.67 L330.93,341.96 L330.96,342.55 L330.99,343.34 L331.01,343.82 L331.04,344.65 L331.07,344.95 L331.10,345.66 L331.13,346.23 L331.16,346.99 L331.19,347.60 L331.21,347.99 L331.24,348.89 L331.27,349.42 L331.30,349.95 L331.34,350.78 L331.38,351.28 L331.42,351.94 L331.46,352.29 L331.50,353.16 L331.54,353.55 L331.57,354.20 L331.61,354.84 L331.65,355.55 L331.69,356.14 L331.73,356.59 L331.77,357.45 L331.81,357.80 L331.85,358.59 L331.89,359.29 L331.93,359.77 L331.97,360.15 L332.01,360.77 L332.05,361.62 L332.09,362.03 L332.12,362.81 L332.16,363.41 L332.20,364.16 L332.24,364.66 L332.28,365.16 L332.32,365.80 L332.36,366.39 L332.40,367.16 L332.47,367.52 L332.55,368.31 L332.62,368.81 L332.70,369.53 L332.77,370.27 L332.85,370.89 L332.92,371.48 L333.00,372.11 L333.07,372.61 L333.15,373.17 L333.22,374.03 L333.30,374.44 L333.38,374.95 L333.45,375.68 L333.52,376.33 L333.60,376.83 L333.67,377.75 L333.75,378.25 L333.82,378.82 L333.90,379.40 L334.09,380.09 L334.28,380.84 L334.47,381.34 L334.66,382.02 L334.84,382.50 L335.03,383.49 L335.22,384.02 L335.41,384.37 L335.60,385.31 L336.06,385.76 L336.52,386.17 L336.98,386.46 L337.44,386.90 L337.90,387.40 L338.45,387.70 L339.00,388.00 L339.61,388.00 L340.21,388.01 L340.82,388.01 L341.43,388.01 L342.03,388.02 L342.64,388.02 L343.25,388.02 L343.85,388.03 L344.46,388.03 L345.07,388.03 L345.67,388.04 L346.28,388.04 L346.89,388.04 L347.49,388.05 L348.10,388.05 L348.70,388.05 L349.31,388.06 L349.92,388.06 L350.52,388.06 L351.13,388.07 L351.74,388.07 L352.34,388.07 L352.95,388.08 L353.56,388.08 L354.16,388.08 L354.77,388.09 L355.38,388.09 L355.98,388.09 L356.59,388.10 L357.20,388.10 L357.80,388.10 L358.41,388.10 L359.02,388.11 L359.62,388.11 L360.23,388.11 L360.84,388.12 L361.44,388.12 L362.05,388.12 L362.66,388.13 L363.26,388.13 L363.87,388.13 L364.48,388.14 L365.08,388.14 L365.69,388.14 L366.30,388.15 L366.90,388.15 L367.51,388.15 L368.11,388.16 L368.72,388.16 L369.33,388.16 L369.93,388.17 L370.54,388.17 L371.15,388.17 L371.75,388.18 L372.36,388.18 L372.97,388.18 L373.57,388.19 L374.18,388.19 L374.79,388.19 L375.39,388.20 L376.00,388.20" stroke="#bb3048" stroke-width="1.0" fill="none" />
<text transform="translate(342.20,405.40) scale(1.085,1)" font-size="9.217" text-anchor="middle" fill="#1e1e1e" stroke="#1e1e1e" stroke-width="0.12">GPRC5D</text>
<text x="6.00" y="431.40" font-size="14.2" text-anchor="start" fill="#111" font-weight="bold" stroke="#111" stroke-width="0.35">G</text>
<line x1="38.40" y1="452.00" x2="99.60" y2="452.00" stroke="#cfcfcf" stroke-width="0.8" />
<line x1="99.60" y1="452.00" x2="99.60" y2="513.30" stroke="#cfcfcf" stroke-width="0.8" />
<line x1="38.40" y1="452.00" x2="38.40" y2="513.30" stroke="#777" stroke-width="0.8" />
<line x1="38.40" y1="513.30" x2="99.60" y2="513.30" stroke="#777" stroke-width="0.8" />
<line x1="37.20" y1="456.10" x2="38.40" y2="456.10" stroke="#444" stroke-width="0.6" />
<text x="36.70" y="457.40" font-size="3.7" text-anchor="end" fill="#333" stroke="#333" stroke-width="0.12">10⁵</text>
<line x1="37.20" y1="470.20" x2="38.40" y2="470.20" stroke="#444" stroke-width="0.6" />
<text x="36.70" y="471.50" font-size="3.7" text-anchor="end" fill="#333" stroke="#333" stroke-width="0.12">10⁴</text>
<line x1="37.20" y1="485.00" x2="38.40" y2="485.00" stroke="#444" stroke-width="0.6" />
<text x="36.70" y="486.30" font-size="3.7" text-anchor="end" fill="#333" stroke="#333" stroke-width="0.12">10³</text>
<line x1="37.20" y1="499.20" x2="38.40" y2="499.20" stroke="#444" stroke-width="0.6" />
<text x="36.70" y="500.50" font-size="3.7" text-anchor="end" fill="#333" stroke="#333" stroke-width="0.12">10²</text>
<line x1="37.20" y1="507.20" x2="38.40" y2="507.20" stroke="#444" stroke-width="0.6" />
<text x="36.70" y="508.50" font-size="3.7" text-anchor="end" fill="#333" stroke="#333" stroke-width="0.12">0</text>
<line x1="45.00" y1="513.30" x2="45.00" y2="514.50" stroke="#444" stroke-width="0.6" />
<text x="45.00" y="518.30" font-size="3.7" text-anchor="middle" fill="#333" stroke="#333" stroke-width="0.12">0</text>
<line x1="51.00" y1="513.30" x2="51.00" y2="514.50" stroke="#444" stroke-width="0.6" />
<text x="51.00" y="518.30" font-size="3.7" text-anchor="middle" fill="#333" stroke="#333" stroke-width="0.12">10²</text>
<line x1="66.00" y1="513.30" x2="66.00" y2="514.50" stroke="#444" stroke-width="0.6" />
<text x="66.00" y="518.30" font-size="3.7" text-anchor="middle" fill="#333" stroke="#333" stroke-width="0.12">10³</text>
<line x1="81.00" y1="513.30" x2="81.00" y2="514.50" stroke="#444" stroke-width="0.6" />
<text x="81.00" y="518.30" font-size="3.7" text-anchor="middle" fill="#333" stroke="#333" stroke-width="0.12">10⁴</text>
<line x1="94.00" y1="513.30" x2="94.00" y2="514.50" stroke="#444" stroke-width="0.6" />
<text x="94.00" y="518.30" font-size="3.7" text-anchor="middle" fill="#333" stroke="#333" stroke-width="0.12">10⁵</text>
<text x="22.20" y="446.60" font-size="2.7" text-anchor="start" fill="#333">HSC_Myeloid_09-Nov...Alive Lin-</text>
<text x="68.00" y="520.50" font-size="2.5" text-anchor="middle" fill="#444">APC-Cy7-A:: CD38</text>
<text transform="translate(29.50,482.00) rotate(-90)" font-size="2.5" text-anchor="middle" fill="#444">APC-A:: CD34</text>
<path d="M57.7,490.5h0.6M50.0,509.6h0.6M64.8,503.3h0.6M63.9,494.7h0.6M70.3,500.1h0.6M72.1,502.5h0.6M74.2,496.3h0.6M49.6,488.2h0.6M70.0,488.7h0.6M67.6,501.4h0.6M46.1,506.0h0.6M45.2,508.3h0.6M74.3,490.0h0.6M70.1,504.5h0.6M48.5,502.8h0.6M48.5,509.6h0.6M68.8,511.4h0.6M45.9,492.9h0.6M66.3,501.0h0.6M50.6,508.9h0.6M74.5,492.4h0.6M49.3,502.7h0.6M58.7,502.6h0.6M61.8,495.1h0.6M44.8,487.8h0.6M60.5,504.4h0.6M59.3,504.8h0.6M63.4,508.6h0.6M67.6,493.0h0.6M49.0,485.8h0.6M45.4,508.1h0.6M75.5,505.0h0.6M47.9,502.5h0.6M48.6,508.9h0.6M67.6,505.0h0.6M65.9,495.7h0.6M74.5,510.9h0.6M52.7,496.2h0.6M70.4,503.0h0.6M58.8,496.6h0.6M78.8,491.7h0.6M51.6,503.2h0.6M54.0,509.1h0.6M55.7,509.9h0.6M57.7,508.8h0.6M71.0,504.5h0.6M51.7,488.6h0.6M45.1,489.1h0.6M68.0,485.8h0.6M52.5,499.9h0.6M49.6,493.2h0.6M52.2,502.9h0.6M48.3,511.9h0.6M65.6,504.0h0.6M63.9,497.9h0.6M78.9,509.0h0.6M73.6,484.8h0.6M65.2,510.4h0.6M67.0,498.4h0.6M67.4,489.0h0.6M70.2,505.9h0.6M46.6,498.3h0.6M65.4,493.9h0.6M68.5,509.8h0.6M76.6,492.6h0.6M49.5,507.9h0.6M66.0,507.2h0.6M75.3,491.8h0.6M65.1,492.5h0.6M72.7,503.4h0.6M52.6,498.0h0.6M65.4,490.5h0.6M50.6,497.3h0.6M46.6,497.9h0.6M77.8,507.1h0.6M46.0,507.1h0.6M69.8,503.8h0.6M45.0,505.3h0.6M51.0,506.5h0.6M55.6,494.3h0.6M50.2,508.3h0.6M52.0,508.4h0.6M62.5,488.2h0.6M67.6,498.9h0.6M45.0,507.1h0.6M53.8,484.7h0.6M71.6,504.4h0.6M57.9,489.2h0.6M63.0,500.4h0.6M68.8,497.7h0.6M64.4,504.2h0.6M50.8,489.1h0.6M61.4,505.1h0.6M72.9,507.9h0.6M59.8,504.0h0.6M47.8,494.9h0.6M46.4,507.4h0.6M80.0,502.8h0.6M71.1,494.4h0.6M72.6,486.4h0.6M57.3,493.8h0.6M75.1,488.8h0.6M49.7,486.5h0.6M74.3,492.8h0.6M76.5,492.8h0.6M74.1,489.5h0.6M76.5,511.3h0.6M75.6,503.4h0.6M76.3,509.6h0.6M78.7,491.7h0.6M74.6,505.8h0.6M56.5,488.7h0.6M76.4,497.2h0.6M63.1,508.8h0.6M61.4,491.1h0.6M68.7,498.9h0.6M53.8,503.4h0.6M76.5,490.9h0.6M73.3,505.1h0.6M62.8,489.4h0.6M67.9,491.9h0.6M53.0,507.9h0.6M53.7,486.6h0.6M74.4,511.9h0.6M55.0,495.3h0.6M63.6,505.1h0.6M44.4,502.1h0.6M52.4,510.0h0.6M58.9,510.4h0.6M60.2,502.3h0.6M45.4,489.7h0.6M54.7,494.3h0.6M50.2,495.8h0.6M47.2,499.9h0.6M78.7,508.0h0.6M66.4,511.5h0.6M70.2,501.8h0.6M60.5,486.3h0.6M76.2,509.1h0.6M73.0,503.3h0.6M73.3,510.8h0.6M79.0,505.6h0.6M44.6,510.5h0.6M64.4,496.7h0.6M59.5,491.6h0.6M45.2,501.3h0.6M66.2,486.4h0.6M77.2,509.3h0.6M75.1,499.0h0.6M57.9,497.2h0.6M57.3,510.8h0.6M77.1,509.2h0.6M62.7,498.3h0.6M68.7,492.1h0.6M50.6,511.6h0.6M53.7,491.6h0.6M61.7,486.5h0.6M62.9,488.5h0.6M73.8,486.3h0.6M72.9,491.5h0.6" stroke="#aaa" stroke-width="0.60" opacity="0.9" fill="none"/>
<path d="M66.09,496.33 Q66.41,497.00 66.38,497.74 Q66.36,498.47 66.08,499.15 Q65.81,499.82 65.52,500.48 Q65.22,501.14 64.93,501.88 Q64.63,502.62 64.16,503.30 Q63.69,503.98 62.98,504.29 Q62.26,504.60 61.48,504.42 Q60.70,504.24 60.04,503.86 Q59.38,503.47 58.78,503.29 Q58.18,503.10 57.45,503.16 Q56.71,503.21 55.84,503.15 Q54.98,503.09 54.29,502.57 Q53.61,502.06 53.43,501.17 Q53.25,500.28 53.50,499.37 Q53.74,498.45 54.06,497.73 Q54.37,497.00 54.49,496.38 Q54.61,495.75 54.65,495.09 Q54.69,494.42 54.89,493.77 Q55.10,493.11 55.52,492.60 Q55.95,492.09 56.45,491.67 Q56.95,491.24 57.46,490.69 Q57.96,490.14 58.58,489.46 Q59.21,488.77 60.04,488.31 Q60.88,487.85 61.75,488.04 Q62.61,488.23 63.18,489.07 Q63.75,489.91 63.93,490.96 Q64.12,492.01 64.19,492.81 Q64.27,493.62 64.55,494.13 Q64.83,494.65 65.30,495.16 Q65.76,495.66 66.09,496.33 Z" stroke="#d2d2d2" stroke-width="0.45" fill="none" opacity="1.0"/>
<path d="M69.34,495.96 Q69.72,497.00 69.42,498.06 Q69.12,499.11 68.42,499.93 Q67.71,500.75 67.06,501.41 Q66.40,502.07 65.90,502.81 Q65.40,503.54 64.83,504.29 Q64.26,505.05 63.47,505.51 Q62.67,505.97 61.77,506.01 Q60.87,506.05 60.01,505.95 Q59.15,505.86 58.22,505.96 Q57.30,506.07 56.15,506.26 Q55.00,506.46 53.78,506.23 Q52.57,506.01 51.80,505.06 Q51.03,504.11 51.05,502.72 Q51.07,501.34 51.63,500.07 Q52.19,498.81 52.68,497.91 Q53.17,497.00 53.25,496.23 Q53.33,495.45 53.22,494.55 Q53.10,493.65 53.23,492.69 Q53.36,491.73 53.86,490.95 Q54.35,490.16 55.04,489.54 Q55.72,488.91 56.46,488.24 Q57.19,487.57 58.07,486.84 Q58.95,486.11 60.04,485.74 Q61.12,485.37 62.17,485.78 Q63.22,486.18 63.90,487.26 Q64.58,488.34 64.90,489.50 Q65.22,490.67 65.58,491.48 Q65.94,492.30 66.63,492.87 Q67.33,493.44 68.14,494.18 Q68.95,494.92 69.34,495.96 Z" stroke="#d2d2d2" stroke-width="0.45" fill="none" opacity="1.0"/>
<path d="M71.61,495.71 Q72.08,497.00 71.71,498.32 Q71.35,499.63 70.49,500.66 Q69.64,501.68 68.84,502.53 Q68.04,503.38 67.43,504.31 Q66.81,505.25 66.09,506.20 Q65.37,507.14 64.36,507.70 Q63.35,508.26 62.22,508.28 Q61.09,508.31 60.01,508.17 Q58.94,508.04 57.78,508.17 Q56.63,508.31 55.19,508.55 Q53.75,508.80 52.24,508.52 Q50.72,508.24 49.76,507.06 Q48.81,505.87 48.84,504.14 Q48.86,502.41 49.56,500.83 Q50.25,499.26 50.85,498.13 Q51.45,497.00 51.55,496.03 Q51.64,495.06 51.50,493.94 Q51.37,492.81 51.54,491.62 Q51.72,490.43 52.34,489.46 Q52.97,488.48 53.81,487.70 Q54.66,486.91 55.57,486.04 Q56.48,485.18 57.58,484.24 Q58.68,483.31 60.04,482.85 Q61.41,482.38 62.72,482.91 Q64.04,483.44 64.89,484.80 Q65.73,486.17 66.12,487.64 Q66.51,489.11 66.95,490.13 Q67.39,491.14 68.25,491.86 Q69.12,492.57 70.12,493.49 Q71.13,494.42 71.61,495.71 Z" stroke="#d2d2d2" stroke-width="0.45" fill="none" opacity="1.0"/>
<path d="M55.54,502.62 Q55.49,503.00 55.46,503.36 Q55.43,503.73 55.47,504.15 Q55.52,504.57 55.50,505.05 Q55.49,505.53 55.27,505.96 Q55.05,506.39 54.64,506.63 Q54.23,506.86 53.76,506.90 Q53.28,506.94 52.84,506.91 Q52.41,506.88 52.00,506.85 Q51.60,506.81 51.22,506.71 Q50.83,506.60 50.53,506.32 Q50.24,506.05 50.10,505.66 Q49.96,505.27 49.91,504.91 Q49.87,504.55 49.73,504.31 Q49.59,504.07 49.26,503.86 Q48.93,503.65 48.53,503.33 Q48.14,503.00 47.91,502.54 Q47.69,502.08 47.77,501.62 Q47.84,501.15 48.13,500.77 Q48.42,500.40 48.78,500.11 Q49.13,499.81 49.50,499.55 Q49.86,499.29 50.27,499.12 Q50.68,498.95 51.13,498.98 Q51.58,499.00 51.97,499.25 Q52.37,499.49 52.65,499.80 Q52.94,500.10 53.19,500.30 Q53.44,500.50 53.77,500.59 Q54.09,500.67 54.48,500.80 Q54.86,500.92 55.15,501.20 Q55.44,501.47 55.52,501.85 Q55.60,502.23 55.54,502.62 Z" stroke="#d6d6d6" stroke-width="0.45" fill="none" opacity="1.0"/>
<path d="M57.62,502.40 Q57.59,503.00 57.57,503.59 Q57.56,504.18 57.61,504.85 Q57.67,505.52 57.59,506.27 Q57.52,507.01 57.13,507.64 Q56.75,508.27 56.09,508.61 Q55.43,508.95 54.71,509.04 Q53.99,509.13 53.32,509.18 Q52.65,509.22 51.99,509.29 Q51.33,509.37 50.66,509.28 Q49.99,509.20 49.45,508.77 Q48.92,508.34 48.68,507.65 Q48.44,506.95 48.42,506.28 Q48.40,505.61 48.30,505.15 Q48.20,504.69 47.82,504.33 Q47.45,503.97 46.93,503.48 Q46.41,503.00 46.09,502.34 Q45.76,501.67 45.81,500.97 Q45.85,500.26 46.17,499.63 Q46.48,498.99 46.90,498.40 Q47.33,497.81 47.84,497.25 Q48.36,496.69 49.04,496.33 Q49.71,495.96 50.49,496.02 Q51.27,496.07 51.95,496.56 Q52.63,497.04 53.08,497.65 Q53.54,498.27 53.90,498.68 Q54.26,499.09 54.73,499.27 Q55.20,499.45 55.78,499.64 Q56.36,499.83 56.83,500.23 Q57.30,500.64 57.48,501.22 Q57.65,501.80 57.62,502.40 Z" stroke="#d6d6d6" stroke-width="0.45" fill="none" opacity="1.0"/>
<path d="M54.63,469.45 Q54.57,470.00 54.41,470.48 Q54.24,470.95 54.08,471.35 Q53.91,471.75 53.76,472.13 Q53.61,472.51 53.45,472.88 Q53.29,473.25 53.07,473.54 Q52.85,473.84 52.59,474.01 Q52.33,474.18 52.05,474.26 Q51.78,474.34 51.50,474.40 Q51.21,474.45 50.91,474.46 Q50.61,474.46 50.31,474.34 Q50.01,474.22 49.77,473.91 Q49.52,473.60 49.36,473.16 Q49.21,472.72 49.11,472.27 Q49.02,471.81 48.92,471.37 Q48.82,470.93 48.71,470.47 Q48.60,470.00 48.55,469.48 Q48.50,468.96 48.58,468.44 Q48.66,467.93 48.88,467.53 Q49.09,467.14 49.37,466.88 Q49.64,466.63 49.91,466.45 Q50.19,466.28 50.44,466.12 Q50.70,465.97 50.96,465.86 Q51.23,465.75 51.50,465.75 Q51.77,465.74 52.04,465.85 Q52.30,465.96 52.56,466.11 Q52.82,466.27 53.10,466.43 Q53.38,466.59 53.67,466.83 Q53.97,467.06 54.22,467.45 Q54.47,467.83 54.58,468.36 Q54.69,468.89 54.63,469.45 Z" stroke="#8a8a8a" stroke-width="0.45" fill="none" opacity="1.0"/>
<path d="M55.60,469.27 Q55.52,470.00 55.32,470.63 Q55.12,471.26 54.91,471.80 Q54.70,472.33 54.52,472.85 Q54.34,473.37 54.12,473.87 Q53.91,474.38 53.61,474.77 Q53.32,475.15 52.96,475.37 Q52.61,475.58 52.24,475.66 Q51.87,475.74 51.50,475.78 Q51.13,475.81 50.74,475.80 Q50.35,475.78 49.97,475.60 Q49.59,475.42 49.27,475.02 Q48.96,474.62 48.75,474.07 Q48.55,473.51 48.40,472.94 Q48.26,472.36 48.11,471.80 Q47.95,471.23 47.79,470.62 Q47.62,470.00 47.55,469.30 Q47.47,468.60 47.58,467.91 Q47.69,467.23 47.99,466.70 Q48.28,466.17 48.66,465.85 Q49.03,465.52 49.40,465.30 Q49.76,465.08 50.11,464.89 Q50.45,464.70 50.80,464.57 Q51.14,464.44 51.50,464.45 Q51.86,464.45 52.20,464.59 Q52.55,464.74 52.88,464.93 Q53.22,465.12 53.59,465.33 Q53.95,465.54 54.35,465.84 Q54.74,466.15 55.07,466.65 Q55.39,467.16 55.53,467.86 Q55.67,468.55 55.60,469.27 Z" stroke="#8a8a8a" stroke-width="0.45" fill="none" opacity="1.0"/>
<path d="M56.71,469.08 Q56.66,470.00 56.40,470.81 Q56.14,471.61 55.82,472.26 Q55.50,472.91 55.21,473.49 Q54.93,474.08 54.64,474.63 Q54.36,475.19 54.01,475.66 Q53.66,476.12 53.24,476.41 Q52.83,476.70 52.39,476.84 Q51.95,476.99 51.49,477.09 Q51.04,477.19 50.54,477.25 Q50.05,477.30 49.54,477.16 Q49.02,477.02 48.59,476.55 Q48.15,476.09 47.88,475.36 Q47.61,474.63 47.48,473.83 Q47.35,473.02 47.26,472.26 Q47.17,471.51 47.05,470.75 Q46.93,470.00 46.86,469.18 Q46.78,468.36 46.88,467.53 Q46.97,466.70 47.28,466.02 Q47.58,465.34 48.00,464.88 Q48.43,464.42 48.87,464.11 Q49.31,463.80 49.74,463.54 Q50.17,463.28 50.61,463.10 Q51.05,462.92 51.50,462.92 Q51.95,462.92 52.39,463.13 Q52.82,463.34 53.23,463.65 Q53.63,463.96 54.06,464.27 Q54.48,464.59 54.95,464.96 Q55.42,465.34 55.86,465.92 Q56.29,466.51 56.53,467.34 Q56.76,468.17 56.71,469.08 Z" stroke="#8a8a8a" stroke-width="0.45" fill="none" opacity="1.0"/>
<path d="M57.49,468.94 Q57.35,470.00 57.01,470.90 Q56.67,471.80 56.33,472.53 Q55.98,473.26 55.71,473.98 Q55.45,474.70 55.19,475.47 Q54.93,476.24 54.56,476.94 Q54.19,477.63 53.69,478.07 Q53.19,478.50 52.63,478.66 Q52.07,478.81 51.50,478.80 Q50.93,478.80 50.36,478.72 Q49.79,478.63 49.21,478.38 Q48.63,478.13 48.13,477.58 Q47.63,477.03 47.29,476.22 Q46.95,475.41 46.75,474.51 Q46.55,473.61 46.39,472.72 Q46.23,471.83 46.05,470.92 Q45.88,470.00 45.79,468.99 Q45.71,467.98 45.86,466.99 Q46.01,466.00 46.43,465.23 Q46.85,464.47 47.41,464.02 Q47.96,463.57 48.50,463.31 Q49.04,463.04 49.52,462.75 Q50.00,462.47 50.49,462.15 Q50.98,461.83 51.51,461.65 Q52.05,461.46 52.61,461.54 Q53.16,461.62 53.71,461.92 Q54.25,462.21 54.78,462.64 Q55.32,463.07 55.85,463.63 Q56.38,464.20 56.81,465.00 Q57.25,465.81 57.44,466.84 Q57.62,467.87 57.49,468.94 Z" stroke="#8a8a8a" stroke-width="0.45" fill="none" opacity="1.0"/>
<path d="M71.41,470.23 Q71.63,470.67 71.77,471.19 Q71.90,471.72 71.82,472.26 Q71.75,472.80 71.49,473.26 Q71.23,473.72 70.90,474.10 Q70.57,474.48 70.21,474.83 Q69.85,475.18 69.43,475.44 Q69.00,475.70 68.53,475.74 Q68.05,475.78 67.60,475.54 Q67.16,475.30 66.82,474.93 Q66.48,474.56 66.21,474.26 Q65.93,473.96 65.59,473.81 Q65.25,473.65 64.81,473.50 Q64.38,473.35 63.97,473.03 Q63.57,472.72 63.36,472.24 Q63.15,471.75 63.16,471.21 Q63.16,470.67 63.27,470.15 Q63.38,469.64 63.51,469.14 Q63.64,468.65 63.81,468.15 Q63.99,467.66 64.29,467.26 Q64.60,466.85 65.03,466.64 Q65.45,466.42 65.90,466.37 Q66.35,466.32 66.77,466.29 Q67.18,466.26 67.59,466.17 Q68.00,466.07 68.46,466.02 Q68.91,465.96 69.35,466.11 Q69.80,466.26 70.10,466.66 Q70.41,467.06 70.55,467.57 Q70.68,468.08 70.77,468.53 Q70.86,468.99 71.02,469.39 Q71.18,469.79 71.41,470.23 Z" stroke="#777" stroke-width="0.45" fill="none" opacity="1.0"/>
<path d="M73.14,470.56 Q73.41,471.13 73.55,471.81 Q73.70,472.49 73.59,473.17 Q73.47,473.85 73.13,474.42 Q72.79,475.00 72.37,475.48 Q71.94,475.95 71.48,476.39 Q71.03,476.83 70.50,477.17 Q69.97,477.52 69.37,477.59 Q68.76,477.66 68.19,477.38 Q67.62,477.09 67.19,476.61 Q66.75,476.13 66.41,475.73 Q66.06,475.34 65.63,475.12 Q65.21,474.91 64.65,474.72 Q64.10,474.53 63.57,474.15 Q63.03,473.76 62.73,473.15 Q62.43,472.54 62.42,471.83 Q62.40,471.13 62.54,470.46 Q62.68,469.79 62.85,469.15 Q63.03,468.50 63.28,467.88 Q63.52,467.25 63.93,466.75 Q64.34,466.25 64.90,466.00 Q65.46,465.75 66.05,465.72 Q66.63,465.69 67.15,465.68 Q67.67,465.67 68.18,465.56 Q68.69,465.44 69.26,465.34 Q69.83,465.23 70.41,465.37 Q70.99,465.51 71.42,465.97 Q71.84,466.44 72.05,467.08 Q72.26,467.71 72.38,468.32 Q72.50,468.92 72.69,469.45 Q72.88,469.98 73.14,470.56 Z" stroke="#777" stroke-width="0.45" fill="none" opacity="1.0"/>
<path d="M74.85,470.90 Q75.21,471.60 75.41,472.44 Q75.61,473.28 75.47,474.12 Q75.33,474.97 74.90,475.67 Q74.46,476.37 73.92,476.94 Q73.37,477.51 72.80,478.01 Q72.22,478.51 71.57,478.88 Q70.91,479.26 70.19,479.31 Q69.46,479.37 68.78,479.02 Q68.10,478.67 67.58,478.12 Q67.06,477.58 66.62,477.16 Q66.17,476.73 65.62,476.52 Q65.06,476.31 64.36,476.08 Q63.65,475.86 63.00,475.37 Q62.35,474.88 62.01,474.10 Q61.67,473.33 61.70,472.46 Q61.72,471.60 61.92,470.79 Q62.12,469.98 62.35,469.21 Q62.58,468.44 62.88,467.69 Q63.18,466.94 63.66,466.33 Q64.15,465.72 64.81,465.40 Q65.48,465.08 66.17,465.00 Q66.87,464.93 67.50,464.89 Q68.13,464.84 68.76,464.69 Q69.39,464.55 70.10,464.44 Q70.80,464.33 71.50,464.54 Q72.19,464.75 72.68,465.35 Q73.17,465.96 73.40,466.74 Q73.64,467.51 73.79,468.23 Q73.95,468.94 74.22,469.57 Q74.49,470.20 74.85,470.90 Z" stroke="#777" stroke-width="0.45" fill="none" opacity="1.0"/>
<path d="M77.05,471.15 Q77.25,472.07 77.11,473.00 Q76.96,473.93 76.58,474.76 Q76.20,475.58 75.80,476.36 Q75.40,477.13 75.03,478.00 Q74.66,478.87 74.15,479.76 Q73.64,480.65 72.86,481.23 Q72.08,481.80 71.15,481.76 Q70.22,481.73 69.38,481.18 Q68.55,480.64 67.91,480.00 Q67.27,479.36 66.70,478.91 Q66.12,478.47 65.47,478.14 Q64.83,477.82 64.18,477.37 Q63.53,476.92 63.05,476.22 Q62.57,475.53 62.30,474.69 Q62.03,473.85 61.83,472.96 Q61.63,472.07 61.45,471.08 Q61.27,470.09 61.26,469.01 Q61.26,467.93 61.66,466.96 Q62.06,465.99 62.87,465.42 Q63.68,464.85 64.63,464.71 Q65.57,464.57 66.39,464.57 Q67.21,464.57 67.92,464.41 Q68.62,464.25 69.36,463.97 Q70.10,463.69 70.92,463.63 Q71.74,463.56 72.49,463.93 Q73.23,464.30 73.78,464.99 Q74.33,465.69 74.74,466.45 Q75.15,467.21 75.58,467.93 Q76.00,468.65 76.42,469.44 Q76.84,470.23 77.05,471.15 Z" stroke="#777" stroke-width="0.45" fill="none" opacity="1.0"/>
<path d="M78.39,471.55 Q78.78,472.53 78.88,473.64 Q78.98,474.75 78.68,475.81 Q78.38,476.87 77.84,477.78 Q77.29,478.70 76.70,479.56 Q76.10,480.43 75.43,481.30 Q74.75,482.17 73.88,482.80 Q73.00,483.44 71.96,483.49 Q70.92,483.55 69.97,482.97 Q69.02,482.40 68.31,481.57 Q67.60,480.75 67.00,480.14 Q66.40,479.53 65.67,479.21 Q64.94,478.89 64.05,478.53 Q63.16,478.18 62.38,477.48 Q61.60,476.79 61.18,475.78 Q60.76,474.77 60.69,473.65 Q60.62,472.53 60.70,471.42 Q60.77,470.30 60.94,469.16 Q61.10,468.02 61.52,466.94 Q61.93,465.86 62.72,465.10 Q63.50,464.34 64.50,464.05 Q65.51,463.76 66.48,463.76 Q67.44,463.77 68.27,463.69 Q69.10,463.61 69.94,463.32 Q70.78,463.04 71.75,462.84 Q72.71,462.65 73.65,462.95 Q74.58,463.24 75.25,464.06 Q75.91,464.87 76.27,465.90 Q76.63,466.92 76.92,467.86 Q77.21,468.80 77.60,469.68 Q78.00,470.56 78.39,471.55 Z" stroke="#777" stroke-width="0.45" fill="none" opacity="1.0"/>
<path d="M80.17,471.88 Q80.64,473.00 80.80,474.28 Q80.96,475.56 80.62,476.78 Q80.29,478.01 79.63,479.05 Q78.97,480.08 78.22,480.99 Q77.47,481.90 76.66,482.79 Q75.86,483.67 74.87,484.32 Q73.88,484.98 72.75,485.04 Q71.61,485.11 70.56,484.50 Q69.50,483.90 68.71,483.03 Q67.91,482.15 67.23,481.52 Q66.54,480.88 65.68,480.57 Q64.81,480.26 63.74,479.90 Q62.67,479.54 61.71,478.77 Q60.75,477.99 60.25,476.81 Q59.76,475.63 59.73,474.31 Q59.70,473.00 59.89,471.73 Q60.09,470.45 60.37,469.21 Q60.66,467.96 61.16,466.79 Q61.66,465.61 62.52,464.76 Q63.38,463.91 64.49,463.56 Q65.59,463.22 66.66,463.21 Q67.73,463.19 68.66,463.10 Q69.59,463.01 70.53,462.69 Q71.47,462.36 72.56,462.11 Q73.65,461.86 74.72,462.15 Q75.80,462.44 76.58,463.34 Q77.36,464.24 77.77,465.41 Q78.19,466.58 78.50,467.66 Q78.81,468.74 79.26,469.75 Q79.70,470.75 80.17,471.88 Z" stroke="#777" stroke-width="0.45" fill="none" opacity="1.0"/>
<ellipse cx="66" cy="469.3" rx="9" ry="4" fill="#333" opacity="0.35"/>
<path d="M57.5,466.5 C62,465.3 68,465 73,466.2 C74.5,466.8 74,468 72,468.3 C67,468.6 62,468.6 57.5,468.6 Z" fill="#0a0a0a"/>
<path d="M58,470.3 C62,469.8 66,470 70,470.5 C71.2,470.9 70.6,472 69,472.1 C65,472.3 61,472.3 58,472.2 Z" fill="#111"/>
<path d="M60.8,471.0h0.7M68.0,468.5h0.7M66.2,470.0h0.7M66.5,469.7h0.7M69.3,471.7h0.7M73.7,469.3h0.7M62.3,471.1h0.7M64.4,467.7h0.7M74.6,471.4h0.7M64.2,468.8h0.7M68.0,469.9h0.7M68.3,469.2h0.7M56.7,465.4h0.7M70.8,470.0h0.7M55.0,470.2h0.7M67.5,471.1h0.7M66.0,470.2h0.7M61.8,465.9h0.7M64.7,469.7h0.7M64.1,466.0h0.7M63.5,467.9h0.7M69.4,466.8h0.7M60.7,468.0h0.7M66.6,471.9h0.7M68.1,466.3h0.7M60.8,472.9h0.7M66.8,468.9h0.7M68.0,470.8h0.7M74.3,469.8h0.7M62.2,467.3h0.7M70.7,469.4h0.7M66.8,470.5h0.7M60.9,473.0h0.7M64.6,469.0h0.7M64.6,469.8h0.7M64.2,468.7h0.7M69.1,472.4h0.7M69.6,466.9h0.7M64.0,472.5h0.7M65.9,469.8h0.7M64.9,472.8h0.7M63.7,468.5h0.7M71.1,466.0h0.7M63.7,475.0h0.7M65.9,470.3h0.7M56.0,469.2h0.7M60.9,467.9h0.7M61.9,469.6h0.7M64.4,471.6h0.7M54.6,468.0h0.7M69.4,470.2h0.7M72.9,468.4h0.7M70.8,470.6h0.7M59.6,465.6h0.7M75.3,471.9h0.7M66.5,467.7h0.7M56.9,468.6h0.7M66.3,472.9h0.7M64.2,469.2h0.7M65.3,471.7h0.7M73.7,473.6h0.7M66.0,471.1h0.7M61.0,468.0h0.7M64.1,471.3h0.7M55.0,469.6h0.7M75.7,471.8h0.7M73.0,468.2h0.7M67.6,467.5h0.7M74.0,468.7h0.7M63.9,467.3h0.7M67.4,472.8h0.7M66.0,469.3h0.7M63.7,472.0h0.7M66.6,470.6h0.7M66.3,469.9h0.7M69.6,471.0h0.7M58.9,469.5h0.7M65.1,470.6h0.7M72.2,468.0h0.7M62.7,466.5h0.7M63.1,472.2h0.7M63.0,472.4h0.7M66.4,469.1h0.7M66.7,468.4h0.7M68.0,469.6h0.7M56.9,467.8h0.7M68.6,468.9h0.7M55.2,471.8h0.7M73.1,466.8h0.7M66.0,471.3h0.7M68.3,470.9h0.7M58.6,471.7h0.7M64.4,468.4h0.7M68.4,471.7h0.7M70.4,467.9h0.7M67.9,466.2h0.7M70.2,467.7h0.7M62.0,471.2h0.7M67.3,467.8h0.7M69.3,473.4h0.7M58.9,469.9h0.7M66.7,470.1h0.7M66.8,471.8h0.7M69.9,469.9h0.7M71.0,468.7h0.7M75.0,469.6h0.7M65.0,470.8h0.7M61.2,467.0h0.7M62.5,472.6h0.7M69.2,468.1h0.7M65.5,469.5h0.7M62.5,468.5h0.7M61.2,466.5h0.7M62.0,472.2h0.7M68.8,469.0h0.7M67.7,467.1h0.7M67.8,469.2h0.7M63.8,470.4h0.7M65.4,474.1h0.7M61.4,469.1h0.7M67.6,469.3h0.7M74.5,469.9h0.7M57.2,468.0h0.7M54.0,469.6h0.7M64.2,470.9h0.7M70.6,467.7h0.7M66.7,469.6h0.7M74.0,469.9h0.7M64.4,468.7h0.7M68.5,465.9h0.7M61.5,467.4h0.7M59.0,470.9h0.7M57.2,472.7h0.7M59.7,467.7h0.7M78.8,466.7h0.7M63.6,469.3h0.7M54.9,468.7h0.7M67.0,471.1h0.7M65.4,471.1h0.7M68.4,467.0h0.7M71.1,470.8h0.7M65.6,469.0h0.7M66.3,469.8h0.7M64.3,467.4h0.7M69.8,469.6h0.7M68.3,472.2h0.7M61.3,470.5h0.7M65.3,470.0h0.7M62.7,472.3h0.7M59.5,468.8h0.7M66.8,470.0h0.7M66.6,466.0h0.7M59.0,464.8h0.7M63.2,472.8h0.7M64.4,472.4h0.7M70.6,468.2h0.7M54.9,465.2h0.7M62.3,469.6h0.7M73.2,468.6h0.7M64.2,471.1h0.7" stroke="#222" stroke-width="0.70" opacity="0.7" fill="none"/>
<rect x="42.40" y="458.40" width="15.10" height="23.30" stroke="#111" stroke-width="1.2" fill="none"/>
<rect x="61.30" y="458.40" width="21.80" height="30.40" stroke="#111" stroke-width="1.2" fill="none"/>
<text transform="translate(40.00,456.60) scale(1.085,1)" font-size="9.032" text-anchor="start" fill="#1e1e1e" stroke="#1e1e1e" stroke-width="0.12">HSC</text>
<text transform="translate(20.60,486.00) rotate(-90)" font-size="10.0" text-anchor="middle" fill="#1e1e1e" stroke="#1e1e1e" stroke-width="0.12">CD34</text>
<text transform="translate(63.00,533.80) scale(1.085,1)" font-size="9.217" text-anchor="middle" fill="#1e1e1e" stroke="#1e1e1e" stroke-width="0.12">CD38</text>
<line x1="83.10" y1="468.90" x2="101.50" y2="468.90" stroke="#111" stroke-width="1.2" />
<path d="M107.00,468.90 L101.00,465.70 L101.00,472.10 Z" fill="#111"/>
<line x1="135.70" y1="452.00" x2="196.60" y2="452.00" stroke="#cfcfcf" stroke-width="0.8" />
<line x1="196.60" y1="452.00" x2="196.60" y2="514.00" stroke="#cfcfcf" stroke-width="0.8" />
<line x1="135.70" y1="452.00" x2="135.70" y2="514.00" stroke="#777" stroke-width="0.8" />
<line x1="135.70" y1="514.00" x2="196.60" y2="514.00" stroke="#777" stroke-width="0.8" />
<line x1="134.50" y1="456.00" x2="135.70" y2="456.00" stroke="#444" stroke-width="0.6" />
<text x="134.00" y="457.30" font-size="3.7" text-anchor="end" fill="#333" stroke="#333" stroke-width="0.12">10⁵</text>
<line x1="134.50" y1="470.20" x2="135.70" y2="470.20" stroke="#444" stroke-width="0.6" />
<text x="134.00" y="471.50" font-size="3.7" text-anchor="end" fill="#333" stroke="#333" stroke-width="0.12">10⁴</text>
<line x1="134.50" y1="484.40" x2="135.70" y2="484.40" stroke="#444" stroke-width="0.6" />
<text x="134.00" y="485.70" font-size="3.7" text-anchor="end" fill="#333" stroke="#333" stroke-width="0.12">10³</text>
<line x1="134.50" y1="499.20" x2="135.70" y2="499.20" stroke="#444" stroke-width="0.6" />
<text x="134.00" y="500.50" font-size="3.7" text-anchor="end" fill="#333" stroke="#333" stroke-width="0.12">10²</text>
<line x1="134.50" y1="507.20" x2="135.70" y2="507.20" stroke="#444" stroke-width="0.6" />
<text x="134.00" y="508.50" font-size="3.7" text-anchor="end" fill="#333" stroke="#333" stroke-width="0.12">0</text>
<line x1="142.00" y1="514.00" x2="142.00" y2="515.20" stroke="#444" stroke-width="0.6" />
<text x="142.00" y="519.00" font-size="3.7" text-anchor="middle" fill="#333" stroke="#333" stroke-width="0.12">0</text>
<line x1="148.00" y1="514.00" x2="148.00" y2="515.20" stroke="#444" stroke-width="0.6" />
<text x="148.00" y="519.00" font-size="3.7" text-anchor="middle" fill="#333" stroke="#333" stroke-width="0.12">10²</text>
<line x1="163.00" y1="514.00" x2="163.00" y2="515.20" stroke="#444" stroke-width="0.6" />
<text x="163.00" y="519.00" font-size="3.7" text-anchor="middle" fill="#333" stroke="#333" stroke-width="0.12">10³</text>
<line x1="178.00" y1="514.00" x2="178.00" y2="515.20" stroke="#444" stroke-width="0.6" />
<text x="178.00" y="519.00" font-size="3.7" text-anchor="middle" fill="#333" stroke="#333" stroke-width="0.12">10⁴</text>
<line x1="191.00" y1="514.00" x2="191.00" y2="515.20" stroke="#444" stroke-width="0.6" />
<text x="191.00" y="519.00" font-size="3.7" text-anchor="middle" fill="#333" stroke="#333" stroke-width="0.12">10⁵</text>
<text x="120.80" y="446.40" font-size="2.7" text-anchor="start" fill="#333">HSC_Myeloid_09-Nov...CD34+CD38+</text>
<text x="166.00" y="520.50" font-size="2.5" text-anchor="middle" fill="#444">FITC-A:: CD45RA</text>
<text transform="translate(127.50,483.00) rotate(-90)" font-size="2.5" text-anchor="middle" fill="#444">PE-Cy7-A:: CD123</text>
<path d="M160.7,483.6h0.6M157.1,501.8h0.6M160.2,486.5h0.6M190.8,477.7h0.6M192.6,496.7h0.6M174.1,490.8h0.6M175.8,475.5h0.6M193.9,478.0h0.6M193.3,503.6h0.6M151.2,469.7h0.6M171.0,501.4h0.6M157.8,490.1h0.6M166.2,499.8h0.6M190.8,498.4h0.6M158.5,498.3h0.6M169.3,502.7h0.6M170.7,506.7h0.6M193.4,502.0h0.6M186.3,501.7h0.6M176.1,465.0h0.6M193.4,481.5h0.6M150.7,479.8h0.6M168.3,466.4h0.6M192.3,461.4h0.6M189.8,486.3h0.6M157.9,475.4h0.6M169.8,461.7h0.6M183.6,492.1h0.6M193.2,502.3h0.6M184.6,511.8h0.6M191.0,491.7h0.6M173.7,484.9h0.6M185.8,507.7h0.6M186.5,502.8h0.6M151.2,479.0h0.6M153.8,488.4h0.6M175.5,487.0h0.6M187.8,467.8h0.6M182.1,488.4h0.6M159.4,510.8h0.6M152.4,481.5h0.6M173.6,488.9h0.6M193.2,486.4h0.6M189.0,471.8h0.6M171.2,463.4h0.6M178.1,479.1h0.6M184.5,461.4h0.6M170.4,509.6h0.6M150.5,492.6h0.6M179.8,496.4h0.6M174.5,483.5h0.6M192.2,471.1h0.6M181.0,493.1h0.6M182.0,482.2h0.6M150.7,499.2h0.6M162.3,499.6h0.6M193.4,499.3h0.6M167.7,503.9h0.6M167.0,473.2h0.6M175.1,492.2h0.6M180.2,486.5h0.6M168.0,497.3h0.6M164.3,489.6h0.6M150.2,462.5h0.6M188.2,467.3h0.6M168.2,458.0h0.6M183.7,473.7h0.6M152.2,470.6h0.6M190.9,498.1h0.6M150.1,509.4h0.6M153.2,482.6h0.6M173.5,499.6h0.6M156.2,502.0h0.6M162.1,497.1h0.6M190.8,488.6h0.6M150.1,493.0h0.6M169.2,496.6h0.6M184.5,461.1h0.6M175.0,491.7h0.6M190.8,490.0h0.6M177.1,498.8h0.6M157.0,504.0h0.6M175.6,491.3h0.6M156.8,484.8h0.6M168.0,466.7h0.6M191.4,503.2h0.6M170.2,459.3h0.6M193.3,461.7h0.6M172.3,487.2h0.6M187.6,492.4h0.6M176.6,484.2h0.6M193.0,501.7h0.6M165.7,500.3h0.6M191.7,482.7h0.6M153.7,458.8h0.6M192.6,466.8h0.6M185.4,466.0h0.6M159.9,464.2h0.6M185.9,460.2h0.6M170.8,501.1h0.6M173.2,455.5h0.6M150.7,502.4h0.6M163.2,459.7h0.6M173.1,499.7h0.6M163.3,462.6h0.6M158.2,482.0h0.6M184.3,459.7h0.6M183.5,493.9h0.6M174.5,476.8h0.6M151.4,483.7h0.6M168.1,493.7h0.6M152.7,464.4h0.6M150.8,482.7h0.6M152.6,485.4h0.6M169.2,473.9h0.6M158.4,507.5h0.6M171.1,460.8h0.6M175.4,498.5h0.6M171.5,505.8h0.6M186.9,493.8h0.6M151.2,477.9h0.6M172.5,464.6h0.6M172.0,493.1h0.6M183.1,498.3h0.6M182.9,472.1h0.6M176.9,483.6h0.6M183.4,461.9h0.6M157.7,495.9h0.6M181.9,468.1h0.6M183.8,499.2h0.6M178.5,481.3h0.6M152.5,468.1h0.6M183.7,508.1h0.6M157.2,457.1h0.6M165.4,508.6h0.6M159.5,508.2h0.6M184.5,502.9h0.6M193.6,493.5h0.6M158.7,479.7h0.6M167.5,492.9h0.6" stroke="#aaa" stroke-width="0.60" opacity="0.9" fill="none"/>
<path d="M138.8,512.2h0.6M140.0,508.8h0.6M153.8,509.0h0.6M143.0,502.6h0.6M151.4,512.5h0.6M150.3,505.6h0.6M144.8,503.5h0.6M151.4,503.9h0.6M147.7,507.1h0.6M149.7,497.7h0.6M141.6,508.3h0.6M148.4,510.4h0.6M138.0,500.7h0.6M147.0,509.0h0.6M140.9,509.2h0.6M145.2,501.9h0.6M153.6,498.7h0.6M155.7,502.0h0.6M144.2,500.2h0.6M146.4,510.5h0.6M141.4,505.9h0.6M145.8,501.8h0.6M139.6,508.2h0.6M145.3,504.5h0.6M149.1,498.7h0.6M153.4,511.3h0.6M142.1,510.1h0.6M151.0,501.8h0.6M142.4,498.3h0.6M145.3,504.2h0.6M146.7,504.7h0.6M148.0,499.0h0.6M141.5,505.9h0.6M146.4,499.8h0.6M142.5,512.7h0.6M153.0,508.6h0.6M144.1,503.7h0.6M151.1,506.0h0.6M149.8,497.6h0.6M151.3,500.2h0.6M143.5,505.5h0.6M156.0,503.5h0.6M149.9,500.3h0.6M155.8,501.0h0.6M147.8,507.9h0.6M151.0,504.1h0.6M149.9,497.2h0.6M156.7,505.9h0.6M148.9,501.1h0.6M146.6,507.3h0.6M145.2,498.9h0.6M140.9,511.0h0.6M141.1,505.2h0.6M151.2,500.5h0.6M153.2,504.6h0.6M155.9,500.3h0.6M145.5,502.8h0.6M142.5,503.8h0.6M145.5,503.3h0.6M154.4,502.2h0.6M138.1,509.0h0.6M145.7,497.4h0.6M152.1,508.6h0.6M150.1,510.1h0.6M142.4,510.4h0.6M144.3,510.7h0.6M157.0,505.9h0.6M145.4,508.8h0.6M151.4,505.1h0.6M138.6,502.7h0.6M150.6,497.2h0.6M145.2,511.7h0.6M151.3,501.2h0.6M139.7,506.1h0.6M149.3,501.6h0.6M147.3,512.9h0.6M150.0,505.7h0.6M138.3,504.6h0.6M137.4,512.4h0.6M147.3,506.6h0.6M150.6,497.6h0.6M153.4,508.2h0.6M138.4,511.6h0.6M154.3,512.8h0.6M138.9,511.7h0.6M152.6,501.1h0.6M138.6,507.8h0.6M138.3,505.8h0.6M153.1,503.3h0.6M143.7,503.7h0.6M139.3,498.0h0.6M148.3,510.1h0.6M156.8,498.7h0.6M143.1,510.1h0.6M142.8,509.3h0.6M155.8,510.7h0.6M149.5,508.7h0.6M154.1,499.3h0.6M143.7,508.7h0.6M146.6,509.3h0.6M156.5,508.6h0.6M148.8,508.6h0.6M155.5,498.6h0.6M137.9,509.7h0.6M154.1,507.5h0.6M146.1,501.3h0.6M156.7,508.3h0.6M156.7,507.6h0.6M154.1,500.7h0.6M151.4,498.5h0.6M143.5,504.2h0.6M147.5,512.9h0.6M149.6,498.7h0.6M153.0,509.2h0.6M153.6,512.0h0.6M152.6,505.3h0.6M150.3,497.9h0.6M144.5,503.5h0.6M151.7,498.0h0.6M141.1,500.8h0.6" stroke="#bbb" stroke-width="0.60" opacity="0.9" fill="none"/>
<rect x="136.5" y="475" width="20.5" height="18" fill="#444" opacity="0.28"/>
<path d="M151.43,484.13 Q151.54,484.50 151.60,484.90 Q151.66,485.30 151.62,485.73 Q151.58,486.15 151.36,486.55 Q151.15,486.94 150.75,487.23 Q150.35,487.51 149.85,487.65 Q149.35,487.79 148.86,487.85 Q148.37,487.90 147.91,487.96 Q147.46,488.01 146.99,488.08 Q146.53,488.15 146.03,488.16 Q145.53,488.17 145.05,488.04 Q144.57,487.90 144.21,487.62 Q143.84,487.34 143.60,486.99 Q143.36,486.64 143.19,486.29 Q143.02,485.93 142.89,485.58 Q142.75,485.23 142.68,484.87 Q142.61,484.50 142.66,484.13 Q142.70,483.76 142.84,483.41 Q142.99,483.05 143.18,482.71 Q143.37,482.36 143.59,482.00 Q143.81,481.63 144.12,481.27 Q144.43,480.90 144.89,480.63 Q145.34,480.37 145.89,480.30 Q146.45,480.24 146.98,480.40 Q147.51,480.55 147.94,480.82 Q148.37,481.09 148.71,481.36 Q149.05,481.62 149.38,481.84 Q149.71,482.06 150.04,482.29 Q150.37,482.52 150.65,482.80 Q150.93,483.08 151.12,483.42 Q151.31,483.76 151.43,484.13 Z" stroke="#666" stroke-width="0.45" fill="none" opacity="1.0"/>
<path d="M152.50,484.04 Q152.67,484.50 152.85,485.02 Q153.02,485.54 153.08,486.12 Q153.14,486.71 152.93,487.29 Q152.71,487.86 152.18,488.27 Q151.66,488.69 150.95,488.87 Q150.25,489.06 149.55,489.09 Q148.85,489.12 148.23,489.12 Q147.60,489.11 147.00,489.12 Q146.40,489.12 145.79,489.07 Q145.19,489.01 144.61,488.83 Q144.04,488.65 143.55,488.34 Q143.06,488.04 142.65,487.67 Q142.24,487.30 141.87,486.89 Q141.51,486.48 141.22,486.01 Q140.94,485.54 140.84,485.02 Q140.74,484.50 140.89,483.99 Q141.04,483.47 141.36,483.03 Q141.67,482.58 142.01,482.17 Q142.35,481.77 142.68,481.33 Q143.00,480.90 143.39,480.44 Q143.78,479.98 144.34,479.62 Q144.89,479.25 145.59,479.12 Q146.28,478.99 146.98,479.11 Q147.68,479.24 148.28,479.53 Q148.88,479.81 149.38,480.14 Q149.88,480.47 150.31,480.80 Q150.74,481.14 151.10,481.51 Q151.46,481.87 151.72,482.29 Q151.98,482.71 152.16,483.14 Q152.33,483.58 152.50,484.04 Z" stroke="#666" stroke-width="0.45" fill="none" opacity="1.0"/>
<path d="M153.82,483.94 Q154.08,484.50 154.33,485.15 Q154.59,485.81 154.64,486.54 Q154.69,487.27 154.36,487.95 Q154.03,488.64 153.34,489.10 Q152.64,489.57 151.79,489.79 Q150.93,490.01 150.10,490.09 Q149.28,490.18 148.52,490.25 Q147.75,490.31 146.99,490.36 Q146.23,490.40 145.46,490.32 Q144.69,490.24 143.99,489.98 Q143.28,489.72 142.68,489.32 Q142.09,488.92 141.57,488.46 Q141.06,488.00 140.60,487.48 Q140.15,486.97 139.83,486.38 Q139.52,485.79 139.47,485.14 Q139.42,484.50 139.64,483.89 Q139.87,483.27 140.22,482.73 Q140.58,482.19 140.92,481.66 Q141.26,481.12 141.59,480.53 Q141.93,479.94 142.41,479.34 Q142.89,478.73 143.61,478.30 Q144.34,477.87 145.22,477.75 Q146.11,477.64 146.98,477.83 Q147.84,478.01 148.58,478.36 Q149.33,478.70 149.96,479.09 Q150.59,479.47 151.13,479.89 Q151.67,480.30 152.09,480.78 Q152.52,481.25 152.81,481.78 Q153.10,482.30 153.33,482.84 Q153.56,483.37 153.82,483.94 Z" stroke="#666" stroke-width="0.45" fill="none" opacity="1.0"/>
<path d="M155.63,483.78 Q155.92,484.50 156.12,485.30 Q156.32,486.10 156.26,486.96 Q156.21,487.82 155.74,488.59 Q155.26,489.36 154.41,489.88 Q153.55,490.39 152.55,490.63 Q151.54,490.86 150.59,490.97 Q149.64,491.07 148.76,491.20 Q147.89,491.33 146.98,491.47 Q146.08,491.60 145.12,491.59 Q144.16,491.57 143.27,491.27 Q142.38,490.98 141.68,490.45 Q140.97,489.92 140.44,489.29 Q139.91,488.67 139.49,488.01 Q139.06,487.36 138.74,486.67 Q138.42,485.98 138.32,485.24 Q138.21,484.50 138.37,483.77 Q138.53,483.04 138.85,482.36 Q139.18,481.68 139.54,481.00 Q139.90,480.32 140.31,479.59 Q140.71,478.85 141.33,478.13 Q141.94,477.41 142.86,476.93 Q143.77,476.45 144.85,476.39 Q145.94,476.33 146.96,476.65 Q147.98,476.97 148.81,477.45 Q149.63,477.94 150.33,478.40 Q151.02,478.86 151.69,479.27 Q152.35,479.69 152.97,480.16 Q153.59,480.62 154.09,481.19 Q154.60,481.76 154.97,482.41 Q155.34,483.07 155.63,483.78 Z" stroke="#666" stroke-width="0.45" fill="none" opacity="1.0"/>
<path d="M156.65,483.70 Q157.00,484.50 157.34,485.42 Q157.68,486.34 157.75,487.37 Q157.83,488.40 157.37,489.37 Q156.92,490.34 155.94,491.00 Q154.96,491.66 153.73,491.94 Q152.50,492.21 151.32,492.26 Q150.14,492.31 149.08,492.33 Q148.02,492.35 147.00,492.38 Q145.97,492.40 144.94,492.30 Q143.91,492.21 142.93,491.89 Q141.96,491.57 141.11,491.06 Q140.27,490.55 139.52,489.95 Q138.76,489.34 138.08,488.65 Q137.39,487.96 136.88,487.15 Q136.37,486.33 136.23,485.41 Q136.09,484.50 136.38,483.61 Q136.68,482.72 137.23,481.95 Q137.78,481.18 138.35,480.46 Q138.92,479.75 139.47,478.98 Q140.01,478.22 140.71,477.43 Q141.40,476.65 142.39,476.07 Q143.38,475.49 144.59,475.32 Q145.79,475.16 146.97,475.41 Q148.15,475.65 149.16,476.12 Q150.17,476.59 151.04,477.11 Q151.90,477.63 152.67,478.17 Q153.43,478.72 154.07,479.34 Q154.70,479.97 155.16,480.68 Q155.62,481.39 155.96,482.15 Q156.30,482.90 156.65,483.70 Z" stroke="#666" stroke-width="0.45" fill="none" opacity="1.0"/>
<ellipse cx="145" cy="486" rx="3.5" ry="2.2" fill="#fff" opacity="0.5"/>
<path d="M151.62,505.12 Q151.60,505.50 151.60,505.88 Q151.59,506.26 151.64,506.69 Q151.68,507.12 151.64,507.61 Q151.60,508.10 151.31,508.54 Q151.02,508.97 150.48,509.21 Q149.93,509.45 149.30,509.48 Q148.68,509.51 148.10,509.48 Q147.53,509.45 146.99,509.49 Q146.45,509.53 145.85,509.62 Q145.25,509.70 144.60,509.66 Q143.94,509.62 143.41,509.34 Q142.87,509.07 142.57,508.62 Q142.27,508.17 142.16,507.69 Q142.06,507.21 142.03,506.77 Q142.00,506.33 142.01,505.91 Q142.02,505.50 142.16,505.11 Q142.29,504.72 142.57,504.39 Q142.85,504.06 143.17,503.79 Q143.49,503.52 143.74,503.21 Q143.99,502.90 144.20,502.45 Q144.41,502.01 144.76,501.49 Q145.11,500.97 145.70,500.60 Q146.29,500.23 147.00,500.21 Q147.72,500.19 148.34,500.49 Q148.96,500.80 149.40,501.24 Q149.83,501.69 150.15,502.10 Q150.46,502.51 150.74,502.87 Q151.02,503.23 151.24,503.59 Q151.46,503.96 151.55,504.35 Q151.63,504.73 151.62,505.12 Z" stroke="#c8c8c8" stroke-width="0.45" fill="none" opacity="1.0"/>
<path d="M153.45,504.96 Q153.36,505.50 153.25,506.01 Q153.13,506.51 153.10,507.06 Q153.06,507.60 152.97,508.21 Q152.87,508.82 152.49,509.37 Q152.11,509.92 151.43,510.23 Q150.74,510.53 149.94,510.58 Q149.14,510.62 148.41,510.58 Q147.68,510.55 146.99,510.62 Q146.30,510.70 145.50,510.86 Q144.69,511.02 143.79,511.03 Q142.88,511.05 142.09,510.74 Q141.29,510.43 140.81,509.85 Q140.32,509.27 140.14,508.61 Q139.95,507.94 139.92,507.31 Q139.89,506.67 139.97,506.09 Q140.04,505.50 140.29,504.97 Q140.55,504.43 141.02,504.01 Q141.48,503.59 142.00,503.28 Q142.52,502.97 142.91,502.64 Q143.30,502.30 143.57,501.78 Q143.85,501.25 144.25,500.58 Q144.66,499.90 145.38,499.35 Q146.10,498.80 147.02,498.67 Q147.94,498.53 148.80,498.83 Q149.66,499.14 150.30,499.67 Q150.93,500.20 151.42,500.74 Q151.90,501.27 152.32,501.77 Q152.73,502.26 153.05,502.78 Q153.36,503.30 153.45,503.86 Q153.55,504.42 153.45,504.96 Z" stroke="#c8c8c8" stroke-width="0.45" fill="none" opacity="1.0"/>
<path d="M154.61,504.86 Q154.45,505.50 154.34,506.10 Q154.23,506.69 154.28,507.37 Q154.34,508.04 154.36,508.86 Q154.38,509.67 154.02,510.46 Q153.66,511.25 152.83,511.74 Q152.00,512.23 150.95,512.33 Q149.89,512.43 148.90,512.32 Q147.91,512.22 147.00,512.19 Q146.10,512.16 145.13,512.22 Q144.17,512.28 143.12,512.21 Q142.07,512.14 141.15,511.74 Q140.23,511.35 139.65,510.67 Q139.06,509.98 138.79,509.21 Q138.52,508.44 138.39,507.69 Q138.26,506.94 138.24,506.22 Q138.23,505.50 138.46,504.81 Q138.69,504.13 139.25,503.57 Q139.81,503.01 140.50,502.62 Q141.20,502.22 141.75,501.83 Q142.30,501.44 142.69,500.83 Q143.08,500.22 143.60,499.40 Q144.11,498.58 144.99,497.86 Q145.87,497.15 147.03,496.92 Q148.19,496.69 149.29,497.03 Q150.40,497.37 151.22,498.04 Q152.04,498.71 152.63,499.42 Q153.21,500.13 153.67,500.81 Q154.12,501.48 154.41,502.15 Q154.71,502.83 154.74,503.52 Q154.77,504.22 154.61,504.86 Z" stroke="#c8c8c8" stroke-width="0.45" fill="none" opacity="1.0"/>
<path d="M177.65,481.69 Q177.57,482.00 177.41,482.27 Q177.25,482.53 177.16,482.79 Q177.08,483.06 177.08,483.39 Q177.08,483.72 177.01,484.11 Q176.93,484.51 176.65,484.83 Q176.36,485.15 175.90,485.27 Q175.43,485.39 174.94,485.32 Q174.44,485.25 174.02,485.11 Q173.59,484.97 173.22,484.86 Q172.84,484.74 172.48,484.62 Q172.13,484.50 171.83,484.30 Q171.53,484.11 171.35,483.85 Q171.17,483.58 171.07,483.31 Q170.97,483.04 170.82,482.79 Q170.67,482.54 170.44,482.27 Q170.21,482.00 170.03,481.66 Q169.84,481.32 169.89,480.96 Q169.93,480.61 170.24,480.34 Q170.55,480.07 170.97,479.92 Q171.39,479.77 171.78,479.66 Q172.16,479.55 172.50,479.39 Q172.83,479.23 173.20,479.06 Q173.57,478.88 174.01,478.81 Q174.44,478.74 174.86,478.85 Q175.28,478.96 175.62,479.18 Q175.95,479.41 176.22,479.64 Q176.49,479.87 176.76,480.09 Q177.03,480.30 177.28,480.55 Q177.52,480.79 177.63,481.09 Q177.73,481.39 177.65,481.69 Z" stroke="#777" stroke-width="0.45" fill="none" opacity="1.0"/>
<path d="M179.04,481.58 Q178.96,482.00 178.72,482.37 Q178.48,482.73 178.30,483.07 Q178.13,483.41 178.08,483.83 Q178.02,484.25 177.92,484.76 Q177.82,485.26 177.47,485.70 Q177.11,486.15 176.51,486.34 Q175.92,486.53 175.26,486.46 Q174.60,486.39 174.03,486.19 Q173.45,486.00 172.96,485.82 Q172.46,485.65 171.99,485.48 Q171.52,485.31 171.12,485.05 Q170.72,484.80 170.48,484.45 Q170.24,484.10 170.12,483.73 Q170.00,483.37 169.83,483.04 Q169.65,482.71 169.35,482.36 Q169.04,482.00 168.76,481.55 Q168.47,481.10 168.47,480.60 Q168.46,480.10 168.84,479.71 Q169.21,479.32 169.80,479.12 Q170.38,478.91 170.94,478.79 Q171.50,478.67 171.98,478.51 Q172.46,478.35 172.95,478.15 Q173.45,477.96 174.01,477.87 Q174.58,477.79 175.12,477.91 Q175.67,478.04 176.11,478.32 Q176.55,478.61 176.91,478.91 Q177.27,479.21 177.64,479.48 Q178.02,479.75 178.38,480.06 Q178.75,480.37 178.93,480.77 Q179.12,481.16 179.04,481.58 Z" stroke="#777" stroke-width="0.45" fill="none" opacity="1.0"/>
<path d="M180.60,481.45 Q180.50,482.00 180.17,482.48 Q179.84,482.95 179.58,483.39 Q179.32,483.82 179.21,484.34 Q179.10,484.85 178.92,485.45 Q178.75,486.06 178.27,486.56 Q177.80,487.07 177.06,487.28 Q176.32,487.49 175.52,487.40 Q174.73,487.32 174.03,487.12 Q173.33,486.92 172.70,486.74 Q172.07,486.56 171.48,486.36 Q170.88,486.15 170.40,485.82 Q169.92,485.48 169.65,485.03 Q169.38,484.58 169.23,484.13 Q169.09,483.68 168.84,483.28 Q168.58,482.89 168.14,482.44 Q167.70,482.00 167.30,481.42 Q166.90,480.84 166.89,480.20 Q166.88,479.56 167.36,479.06 Q167.85,478.56 168.60,478.30 Q169.36,478.03 170.08,477.89 Q170.81,477.75 171.44,477.58 Q172.06,477.42 172.69,477.24 Q173.32,477.06 174.01,477.02 Q174.69,476.99 175.32,477.18 Q175.96,477.37 176.47,477.69 Q176.99,478.01 177.47,478.32 Q177.96,478.62 178.51,478.90 Q179.06,479.17 179.61,479.53 Q180.15,479.89 180.43,480.40 Q180.71,480.90 180.60,481.45 Z" stroke="#777" stroke-width="0.45" fill="none" opacity="1.0"/>
<rect x="166" y="475" width="14.5" height="13" fill="#555" opacity="0.22"/>
<path d="M177.92,465.65 Q177.97,466.00 178.01,466.40 Q178.05,466.79 178.04,467.21 Q178.03,467.63 177.96,468.02 Q177.88,468.41 177.77,468.76 Q177.67,469.11 177.53,469.42 Q177.40,469.73 177.23,469.95 Q177.06,470.17 176.87,470.18 Q176.68,470.19 176.51,469.94 Q176.34,469.68 176.22,469.28 Q176.11,468.87 176.04,468.53 Q175.97,468.20 175.88,468.05 Q175.79,467.89 175.63,467.84 Q175.47,467.79 175.28,467.65 Q175.08,467.51 174.93,467.20 Q174.77,466.88 174.70,466.44 Q174.64,466.00 174.65,465.53 Q174.67,465.06 174.74,464.63 Q174.80,464.19 174.92,463.81 Q175.03,463.44 175.19,463.19 Q175.35,462.94 175.54,462.88 Q175.73,462.81 175.91,462.88 Q176.09,462.95 176.23,463.00 Q176.37,463.05 176.50,462.97 Q176.64,462.89 176.80,462.75 Q176.96,462.60 177.14,462.58 Q177.33,462.56 177.48,462.77 Q177.63,462.99 177.71,463.38 Q177.78,463.76 177.80,464.17 Q177.83,464.58 177.85,464.94 Q177.87,465.30 177.92,465.65 Z" stroke="#bbb" stroke-width="0.45" fill="none" opacity="1.0"/>
<path d="M179.00,465.37 Q179.03,466.00 179.03,466.65 Q179.03,467.29 178.95,467.91 Q178.87,468.54 178.72,469.06 Q178.56,469.59 178.38,470.05 Q178.19,470.52 178.01,470.99 Q177.82,471.47 177.59,471.93 Q177.36,472.39 177.08,472.61 Q176.80,472.82 176.51,472.60 Q176.22,472.39 176.01,471.80 Q175.79,471.21 175.67,470.57 Q175.55,469.94 175.44,469.53 Q175.33,469.12 175.14,468.91 Q174.95,468.71 174.68,468.47 Q174.41,468.23 174.16,467.77 Q173.92,467.32 173.77,466.66 Q173.63,466.00 173.60,465.25 Q173.57,464.51 173.64,463.76 Q173.70,463.01 173.86,462.34 Q174.01,461.66 174.27,461.21 Q174.53,460.75 174.86,460.65 Q175.19,460.56 175.51,460.79 Q175.83,461.02 176.07,461.30 Q176.31,461.57 176.50,461.61 Q176.69,461.65 176.92,461.45 Q177.14,461.24 177.43,461.07 Q177.73,460.91 178.01,461.05 Q178.30,461.20 178.50,461.69 Q178.69,462.18 178.78,462.82 Q178.87,463.46 178.92,464.10 Q178.96,464.75 179.00,465.37 Z" stroke="#bbb" stroke-width="0.45" fill="none" opacity="1.0"/>
<path d="M148.5,481.2 C155,479.6 163,478.4 173.5,476.4 L174.2,477.8 C164,480.2 156,481.8 149.5,483.4 Z" fill="#0a0a0a"/>
<path d="M151,486 C157,484.2 163,482.8 171,480.6 L171.5,482.0 C163.5,484.4 157.5,486.2 151.8,487.6 Z" fill="#111"/>
<path d="M146.5,480 L151,482 L148.5,486.5 Z" fill="#222" opacity="0.8"/>
<path d="M164.1,480.3h0.7M153.5,482.3h0.7M167.4,479.6h0.7M152.7,484.2h0.7M150.5,486.8h0.7M168.5,477.6h0.7M180.9,479.4h0.7M152.0,482.6h0.7M152.9,482.6h0.7M165.8,479.8h0.7M179.4,484.0h0.7M160.9,483.2h0.7M147.8,486.0h0.7M160.3,481.9h0.7M160.8,483.0h0.7M175.5,479.0h0.7M160.4,480.5h0.7M163.0,486.8h0.7M158.3,480.0h0.7M143.3,482.5h0.7M162.2,484.1h0.7M168.9,480.1h0.7M162.0,483.2h0.7M155.6,484.0h0.7M165.9,479.3h0.7M174.0,479.2h0.7M172.3,477.3h0.7M159.6,483.6h0.7M161.1,480.6h0.7M168.8,480.7h0.7M162.4,483.5h0.7M171.3,483.7h0.7M154.7,482.9h0.7M159.5,483.4h0.7M162.7,477.6h0.7M164.0,476.3h0.7M155.4,481.5h0.7M157.9,482.7h0.7M156.1,484.3h0.7M166.6,478.3h0.7M168.2,481.4h0.7M155.0,485.9h0.7M165.3,478.2h0.7M156.7,480.6h0.7M159.5,485.4h0.7M161.7,478.8h0.7M172.1,477.5h0.7M159.8,480.8h0.7M163.9,480.7h0.7M162.3,482.2h0.7M166.2,483.2h0.7M157.6,481.8h0.7M165.0,483.9h0.7M159.3,483.2h0.7M162.5,479.7h0.7M168.4,481.2h0.7M160.9,481.3h0.7M157.8,481.2h0.7M165.9,478.8h0.7M158.0,483.7h0.7M162.7,481.4h0.7M153.0,483.1h0.7M163.0,481.9h0.7M146.8,486.0h0.7M170.8,480.5h0.7M166.1,479.7h0.7M155.4,484.6h0.7M161.3,481.9h0.7M170.3,483.0h0.7M148.7,485.9h0.7M167.1,483.2h0.7M162.3,483.1h0.7M158.8,474.4h0.7M173.3,478.5h0.7M168.8,481.8h0.7M159.9,480.1h0.7M155.1,482.2h0.7M155.5,479.5h0.7M158.9,480.7h0.7M166.3,480.5h0.7M158.6,482.1h0.7M158.8,478.5h0.7M157.9,479.8h0.7M168.3,479.5h0.7M152.5,486.1h0.7M153.4,481.8h0.7M156.9,482.9h0.7M160.6,483.6h0.7M162.8,479.1h0.7M159.8,482.8h0.7M163.3,479.3h0.7M159.5,482.2h0.7M159.1,480.0h0.7M159.1,483.7h0.7M160.7,483.5h0.7M158.8,483.5h0.7M164.5,476.0h0.7M156.9,482.1h0.7M164.6,482.3h0.7M174.1,475.7h0.7M163.7,481.5h0.7M170.1,477.9h0.7M150.8,483.9h0.7M157.1,481.9h0.7M162.6,480.9h0.7M160.0,482.2h0.7M165.3,481.0h0.7M169.2,483.9h0.7M151.8,482.4h0.7M165.4,478.3h0.7M162.6,482.6h0.7M167.5,481.3h0.7M165.9,475.4h0.7M158.3,480.9h0.7M165.3,478.0h0.7M148.2,484.5h0.7M151.7,485.9h0.7M153.3,484.4h0.7M160.1,483.1h0.7M158.7,478.0h0.7M165.7,481.2h0.7M167.4,475.4h0.7M146.8,481.5h0.7M143.5,483.0h0.7M153.8,482.8h0.7M173.0,474.2h0.7M162.9,482.2h0.7M159.1,482.8h0.7M165.4,482.7h0.7M173.4,478.3h0.7M159.5,483.4h0.7M158.0,486.0h0.7M159.9,482.7h0.7M171.9,476.9h0.7M154.2,482.1h0.7M165.6,482.5h0.7M155.1,485.9h0.7M166.7,483.9h0.7M176.0,476.3h0.7M162.4,480.4h0.7" stroke="#222" stroke-width="0.70" opacity="0.6" fill="none"/>
<rect x="136.00" y="474.50" width="21.60" height="18.90" stroke="#111" stroke-width="1.2" fill="none"/>
<rect x="165.30" y="474.50" width="15.80" height="13.90" stroke="#111" stroke-width="1.2" fill="none"/>
<rect x="136.00" y="497.10" width="21.60" height="16.90" stroke="#111" stroke-width="1.2" fill="none"/>
<text transform="translate(136.20,468.20) scale(1.085,1)" font-size="9.032" text-anchor="start" fill="#1e1e1e" stroke="#1e1e1e" stroke-width="0.12">CMP</text>
<text transform="translate(182.60,477.20) scale(1.085,1)" font-size="9.032" text-anchor="start" fill="#1e1e1e" stroke="#1e1e1e" stroke-width="0.12">GMP</text>
<text transform="translate(161.00,509.30) scale(1.085,1)" font-size="9.032" text-anchor="start" fill="#1e1e1e" stroke="#1e1e1e" stroke-width="0.12">MEP</text>
<text transform="translate(123.20,486.00) rotate(-90)" font-size="10.0" text-anchor="middle" fill="#1e1e1e" stroke="#1e1e1e" stroke-width="0.12">CD123</text>
<text transform="translate(160.30,533.50) scale(1.085,1)" font-size="9.217" text-anchor="middle" fill="#1e1e1e" stroke="#1e1e1e" stroke-width="0.12">CD45RA</text>
<line x1="38.40" y1="571.40" x2="99.60" y2="571.40" stroke="#cfcfcf" stroke-width="0.8" />
<line x1="99.60" y1="571.40" x2="99.60" y2="632.60" stroke="#cfcfcf" stroke-width="0.8" />
<line x1="38.40" y1="571.40" x2="38.40" y2="632.60" stroke="#777" stroke-width="0.8" />
<line x1="38.40" y1="632.60" x2="99.60" y2="632.60" stroke="#777" stroke-width="0.8" />
<line x1="37.20" y1="576.10" x2="38.40" y2="576.10" stroke="#444" stroke-width="0.6" />
<text x="36.70" y="577.40" font-size="3.7" text-anchor="end" fill="#333" stroke="#333" stroke-width="0.12">10⁵</text>
<line x1="37.20" y1="590.20" x2="38.40" y2="590.20" stroke="#444" stroke-width="0.6" />
<text x="36.70" y="591.50" font-size="3.7" text-anchor="end" fill="#333" stroke="#333" stroke-width="0.12">10⁴</text>
<line x1="37.20" y1="605.00" x2="38.40" y2="605.00" stroke="#444" stroke-width="0.6" />
<text x="36.70" y="606.30" font-size="3.7" text-anchor="end" fill="#333" stroke="#333" stroke-width="0.12">10³</text>
<line x1="37.20" y1="619.80" x2="38.40" y2="619.80" stroke="#444" stroke-width="0.6" />
<text x="36.70" y="621.10" font-size="3.7" text-anchor="end" fill="#333" stroke="#333" stroke-width="0.12">10²</text>
<line x1="37.20" y1="627.20" x2="38.40" y2="627.20" stroke="#444" stroke-width="0.6" />
<text x="36.70" y="628.50" font-size="3.7" text-anchor="end" fill="#333" stroke="#333" stroke-width="0.12">0</text>
<line x1="45.00" y1="632.60" x2="45.00" y2="633.80" stroke="#444" stroke-width="0.6" />
<text x="45.00" y="637.60" font-size="3.7" text-anchor="middle" fill="#333" stroke="#333" stroke-width="0.12">0</text>
<line x1="51.00" y1="632.60" x2="51.00" y2="633.80" stroke="#444" stroke-width="0.6" />
<text x="51.00" y="637.60" font-size="3.7" text-anchor="middle" fill="#333" stroke="#333" stroke-width="0.12">10²</text>
<line x1="66.00" y1="632.60" x2="66.00" y2="633.80" stroke="#444" stroke-width="0.6" />
<text x="66.00" y="637.60" font-size="3.7" text-anchor="middle" fill="#333" stroke="#333" stroke-width="0.12">10³</text>
<line x1="81.00" y1="632.60" x2="81.00" y2="633.80" stroke="#444" stroke-width="0.6" />
<text x="81.00" y="637.60" font-size="3.7" text-anchor="middle" fill="#333" stroke="#333" stroke-width="0.12">10⁴</text>
<line x1="94.00" y1="632.60" x2="94.00" y2="633.80" stroke="#444" stroke-width="0.6" />
<text x="94.00" y="637.60" font-size="3.7" text-anchor="middle" fill="#333" stroke="#333" stroke-width="0.12">10⁵</text>
<text x="22.20" y="565.80" font-size="2.7" text-anchor="start" fill="#333">ProB_09-Nov...single</text>
<text x="68.00" y="639.80" font-size="2.5" text-anchor="middle" fill="#444">APC-Cy7-A:: CD38</text>
<text transform="translate(29.50,601.00) rotate(-90)" font-size="2.5" text-anchor="middle" fill="#444">APC-A:: CD34</text>
<path d="M66.7,616.9h0.6M82.5,608.9h0.6M58.0,621.6h0.6M66.3,610.2h0.6M62.3,609.2h0.6M50.4,619.5h0.6M86.7,621.4h0.6M73.7,609.5h0.6M63.7,602.9h0.6M78.4,608.1h0.6M56.6,631.3h0.6M59.0,631.3h0.6M72.9,623.9h0.6M73.4,604.1h0.6M77.6,606.8h0.6M62.4,602.4h0.6M44.9,610.5h0.6M42.7,611.1h0.6M84.5,631.9h0.6M63.1,601.7h0.6M59.3,600.2h0.6M52.9,619.1h0.6M72.8,599.1h0.6M66.4,612.4h0.6M61.9,602.6h0.6M61.7,601.5h0.6M76.3,620.1h0.6M73.4,611.9h0.6M89.8,610.5h0.6M52.2,610.7h0.6M87.6,603.4h0.6M80.2,629.9h0.6M84.6,613.8h0.6M64.5,627.6h0.6M77.5,625.4h0.6M50.9,618.7h0.6M78.9,606.1h0.6M52.4,626.6h0.6M70.4,611.9h0.6M66.3,606.7h0.6M54.4,601.6h0.6M62.1,603.0h0.6M86.8,630.5h0.6M71.6,601.1h0.6M71.9,603.3h0.6M60.6,602.4h0.6M66.9,600.6h0.6M56.0,605.9h0.6M65.3,629.6h0.6M70.9,624.6h0.6M78.3,616.1h0.6M45.4,600.0h0.6M48.7,615.6h0.6M59.0,629.6h0.6M52.0,602.5h0.6M74.0,618.6h0.6M44.7,609.7h0.6M64.2,626.0h0.6M81.0,627.7h0.6M68.8,629.9h0.6M65.5,607.8h0.6M49.0,626.3h0.6M74.5,619.0h0.6M90.9,619.5h0.6M57.5,621.6h0.6M88.3,604.1h0.6M89.2,612.2h0.6M47.7,615.3h0.6M81.0,614.7h0.6M55.5,624.1h0.6M47.1,620.8h0.6M60.1,618.8h0.6M67.3,607.5h0.6M52.3,625.9h0.6M64.8,607.6h0.6M71.6,624.1h0.6M46.4,613.6h0.6M49.6,624.1h0.6M44.3,626.3h0.6M70.0,615.5h0.6M68.9,607.5h0.6M64.6,603.8h0.6M59.8,618.3h0.6M72.6,609.0h0.6M72.8,624.7h0.6M80.8,598.1h0.6M67.0,603.8h0.6M83.0,617.8h0.6M64.1,618.7h0.6M67.5,605.1h0.6M87.7,599.9h0.6M43.8,608.0h0.6M49.1,610.7h0.6M72.8,611.3h0.6M90.5,609.1h0.6M89.0,631.3h0.6M69.4,625.4h0.6M45.8,629.7h0.6M64.1,609.5h0.6M88.1,611.6h0.6M46.4,598.9h0.6M81.9,604.1h0.6M73.8,601.0h0.6M82.7,631.0h0.6M60.4,625.0h0.6M86.9,605.9h0.6M65.7,631.9h0.6M89.6,617.2h0.6M69.4,598.7h0.6M83.5,630.2h0.6M70.2,605.9h0.6M48.3,619.6h0.6M76.7,618.3h0.6M84.0,599.2h0.6M42.3,601.5h0.6M57.5,599.7h0.6M54.1,605.1h0.6M82.6,615.9h0.6M52.0,615.2h0.6M49.7,631.6h0.6M46.5,606.1h0.6M70.6,628.4h0.6M74.8,602.6h0.6M72.4,623.1h0.6M88.6,619.7h0.6M54.5,626.2h0.6M77.0,628.3h0.6M52.1,626.5h0.6M66.0,605.5h0.6M54.7,601.4h0.6M86.9,602.9h0.6M73.7,606.6h0.6M54.5,610.0h0.6M84.3,600.3h0.6M61.5,609.1h0.6M66.3,619.2h0.6M85.3,619.6h0.6M84.6,628.0h0.6M82.7,598.9h0.6M45.2,615.8h0.6M51.8,610.3h0.6M68.5,616.1h0.6M80.3,624.3h0.6M52.9,617.5h0.6M65.6,613.1h0.6M78.3,622.3h0.6M77.4,611.1h0.6M46.2,617.9h0.6M54.7,608.6h0.6M47.0,600.6h0.6" stroke="#aaa" stroke-width="0.60" opacity="0.9" fill="none"/>
<path d="M56.19,615.23 Q56.24,616.00 56.25,616.80 Q56.26,617.60 56.08,618.31 Q55.90,619.03 55.53,619.44 Q55.16,619.86 54.77,620.01 Q54.38,620.17 54.11,620.41 Q53.85,620.66 53.65,621.28 Q53.46,621.90 53.18,622.71 Q52.89,623.51 52.47,623.99 Q52.05,624.47 51.61,624.32 Q51.17,624.18 50.82,623.60 Q50.47,623.02 50.19,622.39 Q49.91,621.76 49.60,621.20 Q49.30,620.65 49.01,620.01 Q48.72,619.36 48.61,618.53 Q48.50,617.70 48.65,616.85 Q48.80,616.00 49.08,615.33 Q49.36,614.67 49.56,614.11 Q49.76,613.56 49.83,612.89 Q49.90,612.22 49.99,611.42 Q50.08,610.62 50.33,609.99 Q50.59,609.37 50.98,609.21 Q51.37,609.05 51.76,609.22 Q52.15,609.39 52.50,609.48 Q52.84,609.57 53.22,609.40 Q53.60,609.22 54.07,609.07 Q54.55,608.91 55.00,609.17 Q55.46,609.43 55.73,610.17 Q56.00,610.91 56.07,611.84 Q56.14,612.76 56.14,613.61 Q56.15,614.45 56.19,615.23 Z" stroke="#cfcfcf" stroke-width="0.45" fill="none" opacity="1.0"/>
<path d="M57.77,614.92 Q57.94,616.00 57.95,617.16 Q57.97,618.32 57.63,619.30 Q57.29,620.27 56.70,620.76 Q56.12,621.25 55.57,621.44 Q55.03,621.62 54.69,622.03 Q54.36,622.44 54.10,623.36 Q53.84,624.28 53.44,625.31 Q53.04,626.34 52.47,626.82 Q51.91,627.31 51.33,627.03 Q50.75,626.76 50.27,626.09 Q49.78,625.43 49.31,624.77 Q48.84,624.12 48.34,623.45 Q47.83,622.78 47.44,621.82 Q47.04,620.86 46.98,619.62 Q46.92,618.37 47.23,617.19 Q47.53,616.00 47.92,615.11 Q48.31,614.22 48.51,613.43 Q48.72,612.63 48.76,611.63 Q48.80,610.63 48.94,609.52 Q49.08,608.41 49.48,607.67 Q49.88,606.93 50.43,606.81 Q50.99,606.69 51.51,606.88 Q52.03,607.06 52.50,607.02 Q52.97,606.97 53.52,606.64 Q54.07,606.31 54.72,606.19 Q55.37,606.07 55.93,606.60 Q56.49,607.13 56.81,608.21 Q57.12,609.29 57.23,610.49 Q57.35,611.68 57.48,612.75 Q57.60,613.83 57.77,614.92 Z" stroke="#cfcfcf" stroke-width="0.45" fill="none" opacity="1.0"/>
<path d="M58.98,614.65 Q59.13,616.00 59.20,617.44 Q59.27,618.88 58.97,620.18 Q58.66,621.49 57.99,622.24 Q57.31,622.99 56.59,623.23 Q55.86,623.47 55.36,623.83 Q54.87,624.20 54.51,625.21 Q54.16,626.22 53.67,627.58 Q53.18,628.94 52.46,629.78 Q51.73,630.62 50.96,630.42 Q50.19,630.23 49.55,629.31 Q48.92,628.40 48.38,627.38 Q47.83,626.36 47.26,625.41 Q46.68,624.45 46.18,623.27 Q45.67,622.09 45.52,620.56 Q45.37,619.03 45.70,617.52 Q46.03,616.00 46.57,614.86 Q47.12,613.71 47.49,612.79 Q47.85,611.86 47.95,610.69 Q48.04,609.52 48.16,608.07 Q48.27,606.61 48.69,605.43 Q49.11,604.26 49.79,603.88 Q50.47,603.51 51.17,603.74 Q51.87,603.97 52.49,604.12 Q53.12,604.27 53.80,604.04 Q54.48,603.81 55.30,603.65 Q56.11,603.49 56.87,604.05 Q57.63,604.61 58.07,605.94 Q58.50,607.28 58.62,608.86 Q58.73,610.45 58.78,611.88 Q58.83,613.31 58.98,614.65 Z" stroke="#cfcfcf" stroke-width="0.45" fill="none" opacity="1.0"/>
<path d="M73.46,622.14 Q73.61,622.50 73.68,622.90 Q73.74,623.30 73.65,623.71 Q73.55,624.11 73.27,624.45 Q73.00,624.78 72.62,625.03 Q72.24,625.27 71.84,625.47 Q71.45,625.66 71.05,625.84 Q70.64,626.02 70.21,626.16 Q69.77,626.29 69.30,626.32 Q68.82,626.35 68.37,626.24 Q67.91,626.13 67.52,625.92 Q67.12,625.71 66.77,625.47 Q66.42,625.22 66.09,624.95 Q65.76,624.69 65.49,624.36 Q65.22,624.04 65.09,623.66 Q64.96,623.28 64.98,622.89 Q65.01,622.50 65.14,622.14 Q65.27,621.77 65.41,621.43 Q65.55,621.08 65.69,620.72 Q65.83,620.36 66.04,619.99 Q66.25,619.62 66.59,619.32 Q66.94,619.02 67.39,618.86 Q67.85,618.71 68.34,618.68 Q68.83,618.66 69.29,618.71 Q69.76,618.76 70.21,618.85 Q70.66,618.94 71.09,619.09 Q71.51,619.24 71.87,619.49 Q72.23,619.73 72.48,620.06 Q72.73,620.38 72.89,620.73 Q73.05,621.08 73.19,621.43 Q73.32,621.77 73.46,622.14 Z" stroke="#9a9a9a" stroke-width="0.5" fill="none" opacity="1.0"/>
<path d="M74.93,622.01 Q75.11,622.50 75.17,623.04 Q75.23,623.57 75.07,624.10 Q74.91,624.62 74.53,625.06 Q74.14,625.49 73.64,625.80 Q73.13,626.12 72.61,626.37 Q72.10,626.62 71.58,626.87 Q71.06,627.11 70.49,627.31 Q69.92,627.52 69.29,627.57 Q68.67,627.62 68.06,627.47 Q67.46,627.32 66.94,627.03 Q66.42,626.74 65.98,626.39 Q65.54,626.05 65.14,625.68 Q64.74,625.32 64.39,624.90 Q64.05,624.49 63.86,624.00 Q63.66,623.52 63.66,623.01 Q63.65,622.50 63.78,622.01 Q63.90,621.52 64.06,621.05 Q64.21,620.57 64.39,620.08 Q64.57,619.58 64.87,619.09 Q65.17,618.60 65.65,618.22 Q66.14,617.84 66.76,617.67 Q67.39,617.50 68.04,617.52 Q68.69,617.54 69.29,617.64 Q69.89,617.74 70.46,617.87 Q71.02,617.99 71.58,618.16 Q72.13,618.33 72.63,618.61 Q73.12,618.89 73.49,619.29 Q73.86,619.68 74.11,620.13 Q74.36,620.58 74.56,621.05 Q74.76,621.51 74.93,622.01 Z" stroke="#9a9a9a" stroke-width="0.5" fill="none" opacity="1.0"/>
<path d="M76.39,621.88 Q76.62,622.50 76.69,623.17 Q76.77,623.85 76.55,624.51 Q76.34,625.16 75.84,625.70 Q75.34,626.23 74.70,626.61 Q74.06,626.99 73.41,627.29 Q72.76,627.59 72.12,627.89 Q71.47,628.18 70.77,628.42 Q70.06,628.66 69.29,628.72 Q68.52,628.77 67.78,628.59 Q67.04,628.41 66.40,628.06 Q65.76,627.71 65.21,627.29 Q64.66,626.88 64.14,626.45 Q63.62,626.01 63.18,625.50 Q62.73,624.98 62.48,624.38 Q62.22,623.78 62.21,623.14 Q62.20,622.50 62.35,621.89 Q62.51,621.27 62.70,620.68 Q62.90,620.08 63.14,619.46 Q63.38,618.84 63.77,618.24 Q64.15,617.64 64.77,617.19 Q65.39,616.74 66.17,616.55 Q66.95,616.36 67.75,616.39 Q68.55,616.43 69.28,616.55 Q70.02,616.68 70.72,616.83 Q71.41,616.97 72.10,617.17 Q72.79,617.37 73.40,617.70 Q74.02,618.04 74.49,618.52 Q74.96,619.00 75.29,619.55 Q75.62,620.11 75.89,620.68 Q76.16,621.26 76.39,621.88 Z" stroke="#9a9a9a" stroke-width="0.5" fill="none" opacity="1.0"/>
<path d="M77.55,621.78 Q77.87,622.50 77.98,623.29 Q78.10,624.09 77.85,624.86 Q77.60,625.64 77.02,626.28 Q76.44,626.91 75.72,627.40 Q75.00,627.88 74.26,628.29 Q73.52,628.71 72.74,629.09 Q71.96,629.47 71.09,629.72 Q70.22,629.97 69.30,629.98 Q68.38,629.98 67.50,629.73 Q66.63,629.48 65.86,629.09 Q65.08,628.71 64.37,628.27 Q63.65,627.84 62.97,627.33 Q62.30,626.82 61.79,626.18 Q61.28,625.54 61.07,624.78 Q60.86,624.03 60.95,623.26 Q61.04,622.50 61.26,621.79 Q61.48,621.09 61.69,620.39 Q61.90,619.70 62.14,618.96 Q62.38,618.23 62.82,617.51 Q63.26,616.80 63.98,616.26 Q64.69,615.72 65.60,615.45 Q66.50,615.18 67.44,615.13 Q68.38,615.07 69.29,615.13 Q70.20,615.19 71.09,615.33 Q71.98,615.48 72.81,615.79 Q73.64,616.10 74.31,616.62 Q74.98,617.14 75.43,617.79 Q75.89,618.43 76.22,619.09 Q76.56,619.75 76.89,620.41 Q77.23,621.07 77.55,621.78 Z" stroke="#9a9a9a" stroke-width="0.5" fill="none" opacity="1.0"/>
<path d="M79.08,621.64 Q79.40,622.50 79.51,623.43 Q79.62,624.36 79.34,625.28 Q79.06,626.19 78.38,626.94 Q77.70,627.69 76.81,628.22 Q75.92,628.75 75.02,629.17 Q74.12,629.59 73.22,630.00 Q72.32,630.41 71.34,630.74 Q70.36,631.07 69.29,631.15 Q68.22,631.24 67.19,630.99 Q66.15,630.74 65.26,630.25 Q64.37,629.75 63.61,629.18 Q62.84,628.60 62.13,627.98 Q61.42,627.37 60.81,626.66 Q60.20,625.94 59.85,625.11 Q59.50,624.27 59.49,623.39 Q59.47,622.50 59.69,621.65 Q59.91,620.80 60.18,619.98 Q60.46,619.16 60.79,618.30 Q61.11,617.44 61.64,616.60 Q62.17,615.77 63.01,615.13 Q63.86,614.49 64.94,614.21 Q66.02,613.92 67.14,613.96 Q68.25,614.00 69.28,614.18 Q70.31,614.37 71.28,614.58 Q72.25,614.78 73.20,615.07 Q74.15,615.36 75.01,615.83 Q75.86,616.31 76.51,616.98 Q77.15,617.65 77.60,618.42 Q78.05,619.19 78.41,619.99 Q78.77,620.79 79.08,621.64 Z" stroke="#9a9a9a" stroke-width="0.5" fill="none" opacity="1.0"/>
<path d="M74.55,599.97 Q74.79,600.50 74.61,601.05 Q74.44,601.59 74.01,602.00 Q73.57,602.40 73.18,602.72 Q72.79,603.03 72.55,603.44 Q72.31,603.84 72.06,604.34 Q71.81,604.84 71.38,605.20 Q70.94,605.56 70.39,605.54 Q69.83,605.52 69.33,605.19 Q68.84,604.86 68.48,604.51 Q68.11,604.16 67.75,603.98 Q67.39,603.80 66.95,603.70 Q66.51,603.59 66.10,603.36 Q65.69,603.12 65.48,602.71 Q65.27,602.29 65.23,601.83 Q65.18,601.37 65.10,600.94 Q65.01,600.50 64.77,599.99 Q64.53,599.49 64.34,598.84 Q64.14,598.20 64.28,597.58 Q64.43,596.96 64.97,596.63 Q65.52,596.30 66.21,596.33 Q66.91,596.36 67.48,596.51 Q68.05,596.66 68.48,596.67 Q68.90,596.68 69.31,596.55 Q69.73,596.43 70.19,596.39 Q70.65,596.36 71.04,596.57 Q71.44,596.79 71.72,597.15 Q71.99,597.51 72.27,597.83 Q72.54,598.15 72.95,598.42 Q73.37,598.69 73.84,599.06 Q74.31,599.43 74.55,599.97 Z" stroke="#aaa" stroke-width="0.45" fill="none" opacity="1.0"/>
<path d="M76.35,599.79 Q76.67,600.50 76.43,601.23 Q76.19,601.96 75.59,602.50 Q74.98,603.03 74.43,603.43 Q73.88,603.83 73.54,604.33 Q73.20,604.83 72.87,605.47 Q72.53,606.10 71.98,606.56 Q71.42,607.02 70.70,607.01 Q69.98,606.99 69.34,606.59 Q68.70,606.18 68.22,605.76 Q67.73,605.34 67.24,605.13 Q66.74,604.93 66.15,604.80 Q65.55,604.67 65.01,604.34 Q64.46,604.01 64.20,603.45 Q63.93,602.89 63.90,602.27 Q63.87,601.65 63.77,601.08 Q63.67,600.50 63.37,599.84 Q63.06,599.17 62.80,598.33 Q62.54,597.49 62.72,596.67 Q62.90,595.85 63.61,595.41 Q64.32,594.97 65.23,595.00 Q66.14,595.03 66.90,595.23 Q67.65,595.43 68.21,595.45 Q68.77,595.48 69.32,595.33 Q69.86,595.17 70.45,595.14 Q71.05,595.12 71.56,595.40 Q72.08,595.69 72.44,596.15 Q72.80,596.61 73.18,597.01 Q73.56,597.40 74.14,597.74 Q74.72,598.09 75.37,598.58 Q76.02,599.07 76.35,599.79 Z" stroke="#aaa" stroke-width="0.45" fill="none" opacity="1.0"/>
<path d="M77.78,599.63 Q78.05,600.50 77.66,601.35 Q77.28,602.20 76.63,602.83 Q75.97,603.47 75.50,604.07 Q75.02,604.66 74.75,605.45 Q74.47,606.24 74.04,607.10 Q73.61,607.97 72.83,608.46 Q72.04,608.95 71.10,608.80 Q70.16,608.66 69.36,608.12 Q68.55,607.59 67.92,607.14 Q67.29,606.69 66.63,606.48 Q65.97,606.26 65.27,606.01 Q64.56,605.77 64.05,605.23 Q63.53,604.69 63.38,603.95 Q63.22,603.20 63.20,602.50 Q63.18,601.80 62.90,601.15 Q62.62,600.50 62.06,599.67 Q61.50,598.84 61.13,597.77 Q60.76,596.70 61.05,595.71 Q61.35,594.72 62.27,594.22 Q63.20,593.73 64.29,593.72 Q65.38,593.71 66.26,593.79 Q67.15,593.87 67.86,593.75 Q68.58,593.63 69.32,593.47 Q70.06,593.32 70.79,593.48 Q71.53,593.64 72.08,594.18 Q72.64,594.72 73.03,595.32 Q73.42,595.93 73.92,596.35 Q74.42,596.78 75.20,597.15 Q75.98,597.53 76.75,598.14 Q77.52,598.75 77.78,599.63 Z" stroke="#aaa" stroke-width="0.45" fill="none" opacity="1.0"/>
<path d="M79.85,599.43 Q80.33,600.50 79.93,601.59 Q79.54,602.68 78.64,603.47 Q77.75,604.26 76.97,604.88 Q76.19,605.50 75.69,606.28 Q75.20,607.05 74.67,607.96 Q74.13,608.86 73.26,609.45 Q72.40,610.03 71.34,609.94 Q70.28,609.85 69.36,609.30 Q68.43,608.75 67.68,608.27 Q66.93,607.79 66.12,607.60 Q65.31,607.40 64.39,607.19 Q63.47,606.97 62.75,606.38 Q62.03,605.79 61.79,604.87 Q61.55,603.95 61.60,603.04 Q61.65,602.13 61.48,601.31 Q61.32,600.50 60.79,599.54 Q60.25,598.58 59.81,597.33 Q59.36,596.07 59.61,594.86 Q59.87,593.65 60.89,592.98 Q61.92,592.31 63.23,592.27 Q64.53,592.24 65.63,592.41 Q66.73,592.58 67.59,592.55 Q68.46,592.52 69.32,592.37 Q70.17,592.23 71.03,592.38 Q71.89,592.54 72.55,593.13 Q73.21,593.72 73.68,594.42 Q74.14,595.12 74.74,595.62 Q75.33,596.12 76.30,596.54 Q77.27,596.95 78.32,597.66 Q79.37,598.36 79.85,599.43 Z" stroke="#aaa" stroke-width="0.45" fill="none" opacity="1.0"/>
<path d="M67.03,586.98 Q66.86,587.50 66.38,587.93 Q65.89,588.36 65.40,588.68 Q64.90,589.01 64.60,589.34 Q64.30,589.67 64.06,590.07 Q63.82,590.47 63.42,590.84 Q63.02,591.22 62.41,591.42 Q61.79,591.62 61.10,591.63 Q60.41,591.63 59.76,591.59 Q59.10,591.54 58.42,591.55 Q57.74,591.56 56.95,591.57 Q56.17,591.57 55.40,591.40 Q54.64,591.23 54.12,590.83 Q53.60,590.43 53.41,589.92 Q53.22,589.41 53.19,588.91 Q53.17,588.42 53.12,587.96 Q53.07,587.50 53.03,587.03 Q53.00,586.56 53.21,586.10 Q53.41,585.65 53.96,585.32 Q54.50,585.00 55.19,584.84 Q55.89,584.69 56.49,584.58 Q57.09,584.48 57.57,584.27 Q58.05,584.06 58.57,583.74 Q59.10,583.42 59.79,583.18 Q60.48,582.94 61.24,582.95 Q62.00,582.95 62.67,583.18 Q63.34,583.41 63.91,583.73 Q64.48,584.05 65.04,584.38 Q65.60,584.71 66.13,585.10 Q66.66,585.48 66.93,585.97 Q67.20,586.46 67.03,586.98 Z" stroke="#777" stroke-width="0.45" fill="none" opacity="1.0"/>
<path d="M69.37,586.83 Q69.09,587.50 68.44,588.04 Q67.80,588.57 67.21,588.99 Q66.63,589.41 66.29,589.85 Q65.95,590.29 65.66,590.81 Q65.37,591.34 64.83,591.80 Q64.29,592.26 63.49,592.49 Q62.69,592.72 61.81,592.74 Q60.94,592.75 60.10,592.73 Q59.27,592.71 58.37,592.76 Q57.47,592.82 56.45,592.81 Q55.43,592.81 54.47,592.55 Q53.52,592.29 52.92,591.75 Q52.32,591.21 52.11,590.55 Q51.90,589.90 51.83,589.28 Q51.77,588.66 51.64,588.08 Q51.51,587.50 51.45,586.89 Q51.39,586.29 51.69,585.71 Q51.99,585.13 52.72,584.73 Q53.45,584.33 54.34,584.14 Q55.22,583.94 55.96,583.79 Q56.69,583.63 57.29,583.32 Q57.88,583.01 58.56,582.60 Q59.25,582.19 60.14,581.91 Q61.04,581.64 62.00,581.69 Q62.95,581.74 63.80,582.04 Q64.64,582.34 65.39,582.72 Q66.15,583.09 66.92,583.49 Q67.69,583.88 68.38,584.38 Q69.07,584.88 69.36,585.52 Q69.66,586.17 69.37,586.83 Z" stroke="#777" stroke-width="0.45" fill="none" opacity="1.0"/>
<path d="M71.18,586.74 Q70.99,587.50 70.32,588.14 Q69.64,588.78 68.91,589.27 Q68.18,589.76 67.73,590.26 Q67.28,590.76 67.00,591.41 Q66.71,592.06 66.19,592.75 Q65.68,593.44 64.76,593.89 Q63.84,594.34 62.70,594.42 Q61.57,594.50 60.47,594.39 Q59.37,594.27 58.28,594.17 Q57.19,594.08 56.01,593.99 Q54.82,593.90 53.65,593.61 Q52.48,593.31 51.68,592.69 Q50.88,592.06 50.65,591.25 Q50.41,590.43 50.53,589.65 Q50.64,588.87 50.72,588.18 Q50.79,587.50 50.77,586.82 Q50.74,586.15 50.91,585.45 Q51.09,584.76 51.72,584.20 Q52.36,583.64 53.31,583.32 Q54.27,582.99 55.19,582.78 Q56.12,582.57 56.89,582.23 Q57.67,581.89 58.53,581.37 Q59.39,580.86 60.52,580.43 Q61.65,580.00 62.92,579.98 Q64.19,579.95 65.27,580.37 Q66.36,580.79 67.15,581.41 Q67.95,582.03 68.63,582.65 Q69.31,583.28 69.95,583.91 Q70.60,584.54 70.98,585.26 Q71.36,585.98 71.18,586.74 Z" stroke="#777" stroke-width="0.45" fill="none" opacity="1.0"/>
<path d="M73.19,586.60 Q72.70,587.50 71.85,588.21 Q70.99,588.92 70.34,589.51 Q69.69,590.10 69.41,590.79 Q69.13,591.47 68.85,592.31 Q68.56,593.15 67.82,593.90 Q67.09,594.65 65.91,595.04 Q64.73,595.43 63.41,595.50 Q62.09,595.56 60.80,595.54 Q59.51,595.53 58.15,595.57 Q56.79,595.60 55.32,595.50 Q53.86,595.39 52.59,594.90 Q51.32,594.41 50.63,593.54 Q49.94,592.68 49.79,591.72 Q49.65,590.76 49.63,589.91 Q49.61,589.06 49.42,588.28 Q49.24,587.50 49.10,586.67 Q48.97,585.85 49.32,585.05 Q49.67,584.25 50.60,583.66 Q51.53,583.08 52.65,582.73 Q53.77,582.38 54.72,582.02 Q55.67,581.67 56.51,581.10 Q57.35,580.52 58.41,579.87 Q59.47,579.21 60.86,578.85 Q62.24,578.49 63.67,578.65 Q65.10,578.81 66.30,579.35 Q67.50,579.88 68.51,580.51 Q69.52,581.14 70.51,581.77 Q71.49,582.40 72.32,583.15 Q73.15,583.89 73.41,584.80 Q73.67,585.70 73.19,586.60 Z" stroke="#777" stroke-width="0.45" fill="none" opacity="1.0"/>
<path d="M75.83,586.44 Q75.25,587.50 74.19,588.34 Q73.13,589.17 72.29,589.84 Q71.45,590.51 71.06,591.27 Q70.66,592.03 70.28,592.96 Q69.91,593.89 69.07,594.71 Q68.23,595.54 66.90,595.99 Q65.57,596.43 64.09,596.53 Q62.61,596.63 61.15,596.66 Q59.68,596.69 58.10,596.77 Q56.52,596.85 54.81,596.75 Q53.10,596.65 51.63,596.08 Q50.16,595.51 49.35,594.51 Q48.55,593.51 48.39,592.39 Q48.22,591.28 48.19,590.30 Q48.15,589.31 47.93,588.41 Q47.70,587.50 47.53,586.54 Q47.36,585.58 47.78,584.64 Q48.19,583.71 49.28,583.04 Q50.37,582.36 51.70,581.97 Q53.02,581.58 54.15,581.19 Q55.27,580.81 56.25,580.19 Q57.23,579.58 58.44,578.86 Q59.65,578.15 61.21,577.75 Q62.77,577.36 64.39,577.53 Q66.00,577.70 67.38,578.27 Q68.76,578.85 69.98,579.51 Q71.20,580.18 72.42,580.86 Q73.65,581.54 74.68,582.39 Q75.72,583.24 76.06,584.31 Q76.41,585.37 75.83,586.44 Z" stroke="#777" stroke-width="0.45" fill="none" opacity="1.0"/>
<path d="M78.66,586.27 Q78.15,587.50 76.93,588.49 Q75.72,589.48 74.60,590.24 Q73.48,591.00 72.85,591.81 Q72.23,592.61 71.74,593.61 Q71.24,594.60 70.32,595.53 Q69.39,596.47 67.92,596.98 Q66.45,597.49 64.78,597.56 Q63.12,597.63 61.51,597.59 Q59.89,597.54 58.18,597.60 Q56.47,597.65 54.56,597.60 Q52.65,597.56 50.87,597.05 Q49.09,596.54 47.99,595.50 Q46.89,594.47 46.57,593.21 Q46.25,591.96 46.23,590.79 Q46.22,589.63 46.06,588.57 Q45.90,587.50 45.76,586.39 Q45.63,585.29 46.09,584.21 Q46.55,583.13 47.80,582.35 Q49.06,581.57 50.66,581.17 Q52.26,580.76 53.64,580.45 Q55.02,580.13 56.15,579.55 Q57.28,578.97 58.58,578.18 Q59.88,577.40 61.59,576.86 Q63.29,576.33 65.12,576.40 Q66.96,576.48 68.56,577.07 Q70.15,577.66 71.52,578.43 Q72.90,579.19 74.26,579.98 Q75.62,580.77 76.86,581.71 Q78.09,582.65 78.63,583.84 Q79.18,585.03 78.66,586.27 Z" stroke="#777" stroke-width="0.45" fill="none" opacity="1.0"/>
<ellipse cx="63" cy="588" rx="9" ry="4.2" fill="#333" opacity="0.35"/>
<path d="M56.6,584.8 C61,584 66,584 70.7,585 C71.5,586.2 70.5,587.3 68.5,587.4 C64,587.5 60,587.5 56.6,587.2 Z" fill="#0a0a0a"/>
<path d="M57.5,589.2 C61,588.8 65,589 68.5,589.4 C69.3,590.3 68.6,591.4 67,591.5 C63.5,591.7 60.5,591.6 57.5,591.4 Z" fill="#111"/>
<path d="M59.5,588.9h0.7M66.0,586.0h0.7M56.8,587.5h0.7M59.2,590.7h0.7M64.6,587.5h0.7M59.4,587.4h0.7M59.1,585.4h0.7M65.3,588.3h0.7M53.3,587.2h0.7M65.7,584.1h0.7M66.0,589.6h0.7M58.8,587.0h0.7M64.4,592.9h0.7M59.7,586.3h0.7M55.3,588.5h0.7M63.5,584.2h0.7M56.4,593.0h0.7M63.3,586.3h0.7M65.5,590.1h0.7M62.3,592.5h0.7M72.2,588.2h0.7M67.8,591.4h0.7M60.6,588.5h0.7M68.2,587.8h0.7M67.4,587.7h0.7M63.5,590.8h0.7M65.2,590.7h0.7M61.1,585.0h0.7M70.4,588.1h0.7M62.4,590.4h0.7M69.3,584.6h0.7M64.5,588.7h0.7M63.1,585.7h0.7M61.1,584.9h0.7M72.9,587.7h0.7M73.8,587.8h0.7M58.4,587.1h0.7M68.0,591.6h0.7M57.2,588.1h0.7M61.8,589.9h0.7M55.8,587.9h0.7M62.0,589.2h0.7M53.1,585.0h0.7M50.1,585.7h0.7M66.8,591.6h0.7M61.8,587.9h0.7M66.6,591.1h0.7M64.1,586.9h0.7M58.7,583.8h0.7M63.6,592.1h0.7M64.5,589.0h0.7M66.0,583.6h0.7M61.2,585.5h0.7M59.4,585.6h0.7M54.0,584.9h0.7M59.1,588.3h0.7M64.2,590.6h0.7M63.3,585.8h0.7M62.7,589.3h0.7M62.9,587.7h0.7M61.1,589.0h0.7M61.7,584.4h0.7M62.1,587.1h0.7M62.6,589.8h0.7M72.9,585.2h0.7M64.2,585.2h0.7M57.2,589.4h0.7M58.4,587.3h0.7M63.5,588.7h0.7M62.8,589.3h0.7M61.7,584.0h0.7M68.6,591.9h0.7M63.5,585.9h0.7M62.6,585.5h0.7M58.3,585.0h0.7M68.8,586.7h0.7M64.5,591.1h0.7M59.8,585.8h0.7M51.9,593.6h0.7M71.2,587.0h0.7M55.7,588.2h0.7M63.7,588.6h0.7M63.1,591.0h0.7M71.2,587.2h0.7M61.6,587.2h0.7M63.8,587.4h0.7M64.9,590.7h0.7M63.5,587.3h0.7M63.6,584.8h0.7M59.4,585.6h0.7M72.4,587.2h0.7M73.8,589.0h0.7M55.2,583.0h0.7M67.9,587.3h0.7M71.3,592.5h0.7M65.8,588.2h0.7M65.2,591.9h0.7M66.7,590.6h0.7M63.8,591.0h0.7M55.0,589.9h0.7M52.4,584.3h0.7M65.0,588.6h0.7M55.0,585.9h0.7M65.3,587.6h0.7M68.2,587.5h0.7M63.9,587.8h0.7M58.3,589.9h0.7M62.8,584.0h0.7M67.6,590.0h0.7M68.7,590.3h0.7M72.5,590.2h0.7M57.1,589.1h0.7M61.8,587.3h0.7M68.3,586.4h0.7M54.9,588.2h0.7M51.9,590.0h0.7M64.7,588.1h0.7M57.3,585.4h0.7M62.7,587.2h0.7M64.2,589.5h0.7M67.8,585.8h0.7M62.4,589.7h0.7M60.8,586.2h0.7M62.1,591.4h0.7M64.6,589.9h0.7M64.9,589.6h0.7M62.5,587.0h0.7M60.1,589.8h0.7M58.2,588.7h0.7M61.2,589.9h0.7M67.0,586.6h0.7M60.1,589.3h0.7M58.4,585.6h0.7M73.8,586.5h0.7M55.9,585.7h0.7M68.8,588.5h0.7M59.4,587.1h0.7M69.4,586.8h0.7M68.5,589.7h0.7M63.2,589.7h0.7" stroke="#222" stroke-width="0.70" opacity="0.7" fill="none"/>
<rect x="59.20" y="579.10" width="22.30" height="30.60" stroke="#111" stroke-width="1.2" fill="none"/>
<text transform="translate(20.60,598.70) rotate(-90)" font-size="10.0" text-anchor="middle" fill="#1e1e1e" stroke="#1e1e1e" stroke-width="0.12">CD34</text>
<text transform="translate(68.70,653.20) scale(1.085,1)" font-size="9.217" text-anchor="middle" fill="#1e1e1e" stroke="#1e1e1e" stroke-width="0.12">CD38</text>
<line x1="81.50" y1="588.60" x2="102.40" y2="588.60" stroke="#111" stroke-width="1.2" />
<path d="M107.90,588.60 L101.90,585.40 L101.90,591.80 Z" fill="#111"/>
<line x1="135.70" y1="571.40" x2="196.60" y2="571.40" stroke="#cfcfcf" stroke-width="0.8" />
<line x1="196.60" y1="571.40" x2="196.60" y2="632.00" stroke="#cfcfcf" stroke-width="0.8" />
<line x1="135.70" y1="571.40" x2="135.70" y2="632.00" stroke="#777" stroke-width="0.8" />
<line x1="135.70" y1="632.00" x2="196.60" y2="632.00" stroke="#777" stroke-width="0.8" />
<line x1="134.50" y1="574.00" x2="135.70" y2="574.00" stroke="#444" stroke-width="0.6" />
<text x="134.00" y="575.30" font-size="3.7" text-anchor="end" fill="#333" stroke="#333" stroke-width="0.12">10⁵</text>
<line x1="134.50" y1="588.90" x2="135.70" y2="588.90" stroke="#444" stroke-width="0.6" />
<text x="134.00" y="590.20" font-size="3.7" text-anchor="end" fill="#333" stroke="#333" stroke-width="0.12">10⁴</text>
<line x1="134.50" y1="603.00" x2="135.70" y2="603.00" stroke="#444" stroke-width="0.6" />
<text x="134.00" y="604.30" font-size="3.7" text-anchor="end" fill="#333" stroke="#333" stroke-width="0.12">10³</text>
<line x1="134.50" y1="617.80" x2="135.70" y2="617.80" stroke="#444" stroke-width="0.6" />
<text x="134.00" y="619.10" font-size="3.7" text-anchor="end" fill="#333" stroke="#333" stroke-width="0.12">10²</text>
<line x1="134.50" y1="625.20" x2="135.70" y2="625.20" stroke="#444" stroke-width="0.6" />
<text x="134.00" y="626.50" font-size="3.7" text-anchor="end" fill="#333" stroke="#333" stroke-width="0.12">0</text>
<line x1="142.00" y1="632.00" x2="142.00" y2="633.20" stroke="#444" stroke-width="0.6" />
<text x="142.00" y="637.00" font-size="3.7" text-anchor="middle" fill="#333" stroke="#333" stroke-width="0.12">0</text>
<line x1="148.00" y1="632.00" x2="148.00" y2="633.20" stroke="#444" stroke-width="0.6" />
<text x="148.00" y="637.00" font-size="3.7" text-anchor="middle" fill="#333" stroke="#333" stroke-width="0.12">10²</text>
<line x1="163.00" y1="632.00" x2="163.00" y2="633.20" stroke="#444" stroke-width="0.6" />
<text x="163.00" y="637.00" font-size="3.7" text-anchor="middle" fill="#333" stroke="#333" stroke-width="0.12">10³</text>
<line x1="178.00" y1="632.00" x2="178.00" y2="633.20" stroke="#444" stroke-width="0.6" />
<text x="178.00" y="637.00" font-size="3.7" text-anchor="middle" fill="#333" stroke="#333" stroke-width="0.12">10⁴</text>
<line x1="191.00" y1="632.00" x2="191.00" y2="633.20" stroke="#444" stroke-width="0.6" />
<text x="191.00" y="637.00" font-size="3.7" text-anchor="middle" fill="#333" stroke="#333" stroke-width="0.12">10⁵</text>
<text x="120.30" y="564.80" font-size="2.7" text-anchor="start" fill="#333">ProB_09-Nov...CD34+CD38+</text>
<text x="172.00" y="639.30" font-size="2.5" text-anchor="middle" fill="#444">PE-Cy5-A:: CD10</text>
<text transform="translate(127.50,602.00) rotate(-90)" font-size="2.5" text-anchor="middle" fill="#444">PE-CF594-A:: CD19</text>
<path d="M164.2,619.2h0.6M150.4,630.5h0.6M186.2,631.0h0.6M161.6,606.2h0.6M152.4,606.0h0.6M151.1,621.4h0.6M166.1,625.3h0.6M183.5,610.8h0.6M157.3,610.8h0.6M151.3,620.1h0.6M158.4,604.6h0.6M189.1,613.5h0.6M191.6,630.4h0.6M179.2,607.7h0.6M156.5,607.6h0.6M182.4,615.9h0.6M163.1,600.5h0.6M165.4,612.2h0.6M153.1,607.7h0.6M163.0,612.9h0.6M171.7,617.5h0.6M187.4,609.1h0.6M154.2,609.4h0.6M159.5,617.8h0.6M171.0,610.0h0.6M154.2,623.3h0.6M177.5,619.3h0.6M180.9,626.5h0.6M151.5,605.9h0.6M170.8,621.7h0.6M172.2,615.7h0.6M163.5,607.6h0.6M188.5,630.5h0.6M172.0,614.5h0.6M155.7,618.6h0.6M159.3,619.4h0.6M162.3,614.5h0.6M188.1,609.7h0.6M173.5,609.9h0.6M171.4,626.9h0.6M171.7,629.9h0.6M167.9,614.1h0.6M178.4,615.5h0.6M179.6,609.0h0.6M150.6,613.1h0.6M152.8,607.7h0.6M176.3,621.4h0.6M190.0,621.0h0.6M174.4,610.7h0.6M171.0,608.9h0.6M154.5,616.6h0.6M177.8,609.5h0.6M182.5,616.4h0.6M163.6,626.4h0.6M151.0,608.3h0.6M164.1,620.9h0.6M161.1,630.5h0.6M154.6,614.0h0.6M170.7,623.1h0.6M161.2,605.0h0.6M182.7,624.4h0.6M175.3,628.0h0.6M167.4,613.9h0.6M171.9,603.9h0.6M186.4,601.9h0.6M153.4,628.2h0.6M169.9,604.5h0.6M189.1,605.9h0.6M169.9,600.4h0.6M156.3,614.9h0.6M180.8,604.0h0.6M183.5,620.0h0.6M179.6,629.9h0.6M171.1,600.1h0.6M152.5,627.0h0.6M154.8,608.5h0.6M178.7,622.8h0.6M183.2,617.3h0.6M164.4,627.9h0.6M150.8,608.0h0.6M193.4,605.8h0.6M187.0,618.7h0.6M177.8,619.6h0.6M169.8,626.1h0.6M152.6,608.9h0.6M183.9,622.9h0.6M178.2,621.4h0.6M162.9,618.6h0.6M175.1,625.2h0.6M160.1,608.8h0.6M164.1,606.4h0.6M182.0,615.2h0.6M153.0,627.7h0.6M173.0,625.5h0.6M182.8,612.3h0.6M164.1,617.0h0.6M191.4,624.9h0.6M192.1,617.7h0.6M174.0,609.3h0.6M174.1,617.3h0.6M183.5,626.0h0.6M189.7,607.8h0.6M178.5,602.1h0.6M162.4,618.7h0.6M150.1,626.8h0.6M173.7,607.4h0.6M168.6,623.3h0.6M154.0,628.3h0.6M178.9,616.4h0.6M158.5,619.4h0.6M159.8,602.2h0.6M187.5,610.9h0.6M183.9,615.0h0.6M174.8,612.0h0.6M186.1,624.2h0.6M167.1,617.3h0.6M162.1,628.2h0.6M170.1,618.6h0.6M175.3,603.0h0.6M164.7,624.1h0.6M175.9,607.6h0.6M157.3,626.9h0.6M185.7,627.4h0.6M157.8,617.0h0.6M169.3,613.2h0.6M165.9,619.9h0.6M175.2,602.3h0.6M151.7,605.5h0.6M185.7,626.7h0.6M179.5,611.4h0.6M173.4,619.9h0.6M157.6,629.8h0.6M190.4,601.1h0.6M161.2,608.5h0.6M187.8,628.2h0.6M191.5,613.3h0.6M173.9,606.1h0.6M151.3,619.8h0.6M174.1,627.2h0.6M190.6,616.7h0.6M152.5,617.7h0.6M191.0,614.7h0.6M178.4,615.9h0.6M169.7,613.1h0.6M160.2,613.9h0.6M185.0,623.0h0.6M151.4,606.7h0.6M153.2,602.8h0.6M150.4,622.5h0.6M158.9,620.5h0.6" stroke="#aaa" stroke-width="0.60" opacity="0.9" fill="none"/>
<path d="M157.43,588.82 Q157.59,589.00 157.63,589.19 Q157.68,589.39 157.44,589.57 Q157.20,589.75 156.70,589.88 Q156.20,590.01 155.66,590.10 Q155.13,590.19 154.68,590.29 Q154.23,590.39 153.78,590.53 Q153.34,590.66 152.75,590.77 Q152.17,590.87 151.51,590.85 Q150.85,590.83 150.33,590.68 Q149.81,590.54 149.51,590.35 Q149.22,590.17 148.97,590.04 Q148.72,589.91 148.29,589.84 Q147.86,589.78 147.26,589.71 Q146.66,589.64 146.14,589.50 Q145.61,589.37 145.37,589.18 Q145.13,589.00 145.13,588.80 Q145.14,588.60 145.25,588.40 Q145.37,588.20 145.61,587.99 Q145.85,587.79 146.34,587.63 Q146.83,587.47 147.57,587.42 Q148.31,587.37 149.09,587.45 Q149.87,587.53 150.47,587.64 Q151.06,587.76 151.48,587.81 Q151.91,587.86 152.38,587.81 Q152.86,587.77 153.51,587.70 Q154.17,587.64 154.85,587.66 Q155.53,587.68 156.01,587.81 Q156.49,587.93 156.73,588.11 Q156.96,588.28 157.11,588.46 Q157.27,588.64 157.43,588.82 Z" stroke="#b8b8b8" stroke-width="0.45" fill="none" opacity="1.0"/>
<path d="M159.01,588.77 Q159.20,589.00 159.32,589.25 Q159.45,589.50 159.26,589.75 Q159.07,589.99 158.51,590.19 Q157.95,590.38 157.26,590.52 Q156.56,590.66 155.93,590.80 Q155.30,590.94 154.66,591.11 Q154.02,591.29 153.22,591.42 Q152.41,591.55 151.51,591.53 Q150.61,591.50 149.90,591.30 Q149.19,591.09 148.82,590.82 Q148.46,590.55 148.20,590.36 Q147.94,590.16 147.44,590.07 Q146.95,589.97 146.16,589.89 Q145.37,589.80 144.62,589.64 Q143.87,589.48 143.47,589.24 Q143.08,589.00 143.05,588.73 Q143.03,588.47 143.20,588.20 Q143.37,587.93 143.69,587.66 Q144.01,587.40 144.62,587.17 Q145.23,586.95 146.18,586.86 Q147.13,586.77 148.18,586.85 Q149.22,586.93 150.05,587.09 Q150.88,587.25 151.47,587.34 Q152.06,587.42 152.69,587.38 Q153.33,587.34 154.18,587.27 Q155.03,587.20 155.93,587.23 Q156.83,587.26 157.44,587.43 Q158.06,587.60 158.32,587.83 Q158.58,588.07 158.70,588.31 Q158.83,588.54 159.01,588.77 Z" stroke="#b8b8b8" stroke-width="0.45" fill="none" opacity="1.0"/>
<path d="M160.18,588.74 Q160.41,589.00 160.78,589.30 Q161.16,589.60 161.21,589.94 Q161.27,590.28 160.76,590.58 Q160.25,590.87 159.36,591.08 Q158.46,591.28 157.49,591.42 Q156.53,591.57 155.57,591.69 Q154.61,591.82 153.58,591.89 Q152.56,591.96 151.53,591.87 Q150.51,591.78 149.74,591.53 Q148.98,591.28 148.54,591.01 Q148.11,590.73 147.65,590.57 Q147.18,590.41 146.27,590.36 Q145.36,590.31 144.04,590.23 Q142.72,590.15 141.57,589.92 Q140.42,589.69 139.99,589.35 Q139.56,589.00 139.88,588.65 Q140.21,588.29 140.89,587.99 Q141.57,587.70 142.31,587.44 Q143.05,587.19 143.87,586.98 Q144.69,586.77 145.71,586.67 Q146.72,586.56 147.80,586.59 Q148.88,586.63 149.80,586.72 Q150.72,586.81 151.49,586.83 Q152.27,586.85 153.17,586.76 Q154.07,586.67 155.22,586.59 Q156.37,586.51 157.48,586.60 Q158.59,586.68 159.21,586.95 Q159.83,587.22 159.92,587.55 Q160.01,587.88 159.98,588.18 Q159.95,588.47 160.18,588.74 Z" stroke="#b8b8b8" stroke-width="0.45" fill="none" opacity="1.0"/>
<path d="M159.54,619.59 Q159.98,620.50 160.17,621.53 Q160.35,622.56 160.09,623.58 Q159.82,624.60 159.14,625.48 Q158.46,626.35 157.56,627.06 Q156.67,627.76 155.70,628.35 Q154.73,628.95 153.67,629.46 Q152.61,629.97 151.43,630.26 Q150.24,630.56 149.01,630.52 Q147.77,630.47 146.63,630.10 Q145.48,629.72 144.49,629.17 Q143.50,628.61 142.62,627.99 Q141.73,627.37 140.94,626.68 Q140.14,625.98 139.55,625.15 Q138.96,624.31 138.70,623.36 Q138.44,622.41 138.49,621.46 Q138.54,620.50 138.71,619.58 Q138.89,618.67 139.06,617.73 Q139.23,616.79 139.49,615.78 Q139.75,614.77 140.31,613.79 Q140.87,612.81 141.82,612.06 Q142.78,611.32 143.99,610.94 Q145.21,610.57 146.49,610.51 Q147.76,610.45 148.98,610.58 Q150.21,610.71 151.36,610.99 Q152.52,611.28 153.55,611.77 Q154.58,612.26 155.39,612.98 Q156.19,613.69 156.75,614.53 Q157.31,615.36 157.74,616.19 Q158.18,617.02 158.64,617.84 Q159.10,618.67 159.54,619.59 Z" stroke="#aaa" stroke-width="0.45" fill="none" opacity="1.0"/>
<path d="M160.45,619.51 Q160.95,620.50 161.22,621.63 Q161.49,622.76 161.28,623.92 Q161.07,625.08 160.36,626.08 Q159.64,627.09 158.63,627.87 Q157.62,628.66 156.50,629.29 Q155.38,629.91 154.18,630.41 Q152.97,630.91 151.66,631.19 Q150.35,631.46 149.01,631.38 Q147.67,631.30 146.44,630.87 Q145.21,630.45 144.14,629.84 Q143.08,629.24 142.11,628.59 Q141.14,627.93 140.23,627.21 Q139.32,626.49 138.59,625.61 Q137.86,624.73 137.49,623.69 Q137.13,622.65 137.15,621.58 Q137.18,620.50 137.42,619.47 Q137.66,618.45 137.93,617.43 Q138.20,616.40 138.55,615.32 Q138.89,614.24 139.52,613.19 Q140.15,612.13 141.18,611.30 Q142.21,610.48 143.53,610.05 Q144.85,609.61 146.24,609.53 Q147.64,609.45 148.98,609.59 Q150.33,609.73 151.60,610.04 Q152.87,610.35 154.01,610.89 Q155.15,611.42 156.04,612.21 Q156.93,613.00 157.53,613.93 Q158.12,614.86 158.56,615.78 Q159.00,616.71 159.48,617.61 Q159.95,618.52 160.45,619.51 Z" stroke="#aaa" stroke-width="0.45" fill="none" opacity="1.0"/>
<path d="M161.39,619.41 Q161.77,620.50 161.97,621.69 Q162.16,622.88 161.89,624.09 Q161.63,625.29 160.87,626.33 Q160.11,627.38 159.06,628.20 Q158.01,629.03 156.87,629.72 Q155.72,630.42 154.49,631.05 Q153.27,631.68 151.88,632.14 Q150.49,632.60 148.99,632.68 Q147.49,632.76 146.05,632.39 Q144.61,632.02 143.37,631.33 Q142.13,630.64 141.08,629.81 Q140.03,628.99 139.12,628.08 Q138.21,627.18 137.53,626.14 Q136.85,625.11 136.55,623.96 Q136.26,622.81 136.38,621.65 Q136.49,620.50 136.82,619.43 Q137.14,618.35 137.46,617.30 Q137.78,616.24 138.10,615.10 Q138.43,613.96 139.01,612.78 Q139.59,611.60 140.62,610.62 Q141.64,609.64 143.04,609.08 Q144.43,608.52 145.96,608.38 Q147.49,608.24 148.98,608.38 Q150.48,608.52 151.90,608.85 Q153.32,609.18 154.61,609.74 Q155.91,610.31 156.95,611.15 Q157.98,612.00 158.67,613.04 Q159.36,614.09 159.79,615.17 Q160.23,616.24 160.61,617.29 Q161.00,618.33 161.39,619.41 Z" stroke="#aaa" stroke-width="0.45" fill="none" opacity="1.0"/>
<path d="M136.5,612 C141,610.8 149,610.8 154.5,612.5 C157.5,614.5 157.5,621 156.5,626 C155.8,629.5 154,631.4 150,631.8 L136.5,631.8 Z" fill="#222" opacity="0.5"/>
<path d="M149.13,620.09 Q149.28,620.40 149.34,620.72 Q149.40,621.04 149.43,621.35 Q149.47,621.66 149.49,621.97 Q149.51,622.28 149.47,622.60 Q149.43,622.92 149.30,623.21 Q149.17,623.51 148.95,623.75 Q148.73,623.98 148.47,624.17 Q148.22,624.35 147.94,624.50 Q147.67,624.65 147.38,624.77 Q147.10,624.89 146.78,624.94 Q146.47,624.99 146.16,624.95 Q145.85,624.90 145.57,624.77 Q145.29,624.64 145.04,624.48 Q144.78,624.33 144.52,624.17 Q144.25,624.00 143.98,623.81 Q143.72,623.61 143.50,623.33 Q143.29,623.06 143.21,622.72 Q143.13,622.38 143.19,622.04 Q143.26,621.69 143.42,621.39 Q143.58,621.09 143.77,620.83 Q143.96,620.56 144.16,620.33 Q144.36,620.10 144.59,619.90 Q144.83,619.71 145.10,619.57 Q145.37,619.44 145.65,619.36 Q145.94,619.29 146.23,619.24 Q146.53,619.19 146.84,619.15 Q147.15,619.11 147.48,619.11 Q147.82,619.11 148.15,619.22 Q148.48,619.32 148.73,619.55 Q148.99,619.78 149.13,620.09 Z" stroke="#0a0a0a" stroke-width="0.6" fill="none" opacity="1.0"/>
<path d="M150.10,619.38 Q150.25,619.84 150.31,620.28 Q150.38,620.72 150.43,621.14 Q150.48,621.55 150.52,621.97 Q150.56,622.38 150.51,622.81 Q150.46,623.24 150.28,623.64 Q150.10,624.04 149.83,624.37 Q149.55,624.71 149.23,625.00 Q148.90,625.29 148.55,625.55 Q148.19,625.81 147.78,626.02 Q147.37,626.22 146.91,626.29 Q146.46,626.36 146.01,626.28 Q145.56,626.20 145.16,626.01 Q144.75,625.82 144.38,625.60 Q144.01,625.38 143.63,625.14 Q143.25,624.90 142.90,624.59 Q142.55,624.28 142.32,623.87 Q142.08,623.46 142.04,622.98 Q142.00,622.51 142.13,622.05 Q142.26,621.60 142.47,621.20 Q142.68,620.80 142.89,620.44 Q143.10,620.08 143.33,619.74 Q143.57,619.39 143.86,619.09 Q144.16,618.79 144.52,618.56 Q144.88,618.34 145.28,618.19 Q145.68,618.04 146.11,617.92 Q146.54,617.81 147.01,617.73 Q147.47,617.66 147.97,617.69 Q148.46,617.72 148.90,617.94 Q149.34,618.15 149.65,618.54 Q149.95,618.92 150.10,619.38 Z" stroke="#0a0a0a" stroke-width="0.6" fill="none" opacity="1.0"/>
<path d="M151.23,618.57 Q151.49,619.12 151.61,619.70 Q151.74,620.27 151.83,620.83 Q151.91,621.39 151.94,621.95 Q151.96,622.52 151.86,623.08 Q151.76,623.65 151.49,624.16 Q151.22,624.67 150.83,625.08 Q150.44,625.50 150.00,625.85 Q149.57,626.20 149.10,626.51 Q148.63,626.82 148.11,627.06 Q147.59,627.30 147.02,627.38 Q146.45,627.45 145.89,627.33 Q145.33,627.21 144.84,626.96 Q144.34,626.71 143.88,626.44 Q143.42,626.17 142.93,625.89 Q142.45,625.62 141.96,625.26 Q141.48,624.90 141.11,624.40 Q140.75,623.90 140.62,623.29 Q140.49,622.68 140.61,622.07 Q140.72,621.45 140.97,620.90 Q141.22,620.35 141.53,619.86 Q141.84,619.37 142.21,618.94 Q142.57,618.51 143.02,618.18 Q143.47,617.84 143.97,617.64 Q144.48,617.43 145.00,617.32 Q145.51,617.21 146.03,617.11 Q146.55,617.01 147.11,616.91 Q147.66,616.80 148.28,616.79 Q148.89,616.77 149.48,616.97 Q150.08,617.16 150.52,617.59 Q150.97,618.01 151.23,618.57 Z" stroke="#0a0a0a" stroke-width="0.6" fill="none" opacity="1.0"/>
<path d="M152.24,617.82 Q152.51,618.53 152.58,619.25 Q152.64,619.97 152.67,620.64 Q152.69,621.30 152.73,621.95 Q152.77,622.59 152.74,623.27 Q152.71,623.94 152.48,624.60 Q152.26,625.25 151.83,625.80 Q151.40,626.36 150.85,626.78 Q150.30,627.20 149.70,627.54 Q149.10,627.89 148.47,628.17 Q147.83,628.46 147.13,628.61 Q146.44,628.77 145.72,628.71 Q145.01,628.65 144.36,628.38 Q143.70,628.11 143.12,627.73 Q142.55,627.35 142.00,626.93 Q141.45,626.51 140.92,626.02 Q140.38,625.53 139.98,624.91 Q139.58,624.28 139.45,623.55 Q139.32,622.81 139.51,622.08 Q139.70,621.36 140.07,620.73 Q140.45,620.11 140.85,619.57 Q141.25,619.04 141.63,618.52 Q142.00,618.00 142.43,617.50 Q142.85,617.00 143.39,616.59 Q143.92,616.17 144.56,615.91 Q145.19,615.64 145.88,615.50 Q146.56,615.37 147.29,615.32 Q148.01,615.27 148.76,615.34 Q149.51,615.41 150.22,615.71 Q150.93,616.00 151.46,616.56 Q151.98,617.11 152.24,617.82 Z" stroke="#0a0a0a" stroke-width="0.6" fill="none" opacity="1.0"/>
<path d="M153.36,617.01 Q153.71,617.84 153.82,618.70 Q153.93,619.55 153.97,620.35 Q154.01,621.15 154.05,621.93 Q154.08,622.72 154.02,623.52 Q153.95,624.33 153.66,625.10 Q153.36,625.87 152.82,626.51 Q152.29,627.14 151.62,627.62 Q150.95,628.10 150.25,628.49 Q149.54,628.87 148.79,629.19 Q148.05,629.51 147.24,629.69 Q146.42,629.86 145.60,629.79 Q144.77,629.71 144.01,629.40 Q143.25,629.10 142.57,628.67 Q141.89,628.24 141.22,627.78 Q140.55,627.31 139.89,626.76 Q139.22,626.20 138.71,625.47 Q138.20,624.74 138.02,623.86 Q137.84,622.98 138.05,622.10 Q138.26,621.22 138.71,620.46 Q139.16,619.70 139.66,619.06 Q140.17,618.42 140.65,617.83 Q141.14,617.23 141.67,616.68 Q142.21,616.13 142.86,615.69 Q143.51,615.25 144.26,614.97 Q145.00,614.70 145.79,614.55 Q146.57,614.40 147.41,614.32 Q148.24,614.24 149.12,614.29 Q150.01,614.33 150.86,614.64 Q151.71,614.94 152.37,615.56 Q153.02,616.19 153.36,617.01 Z" stroke="#0a0a0a" stroke-width="0.6" fill="none" opacity="1.0"/>
<path d="M154.35,616.30 Q154.77,617.22 155.01,618.17 Q155.25,619.12 155.40,620.04 Q155.56,620.97 155.59,621.92 Q155.62,622.86 155.41,623.79 Q155.20,624.72 154.72,625.55 Q154.24,626.37 153.61,627.06 Q152.97,627.75 152.28,628.37 Q151.60,628.98 150.84,629.54 Q150.09,630.11 149.21,630.52 Q148.34,630.93 147.37,631.03 Q146.41,631.13 145.48,630.91 Q144.56,630.68 143.73,630.27 Q142.90,629.86 142.11,629.43 Q141.32,629.00 140.49,628.55 Q139.66,628.10 138.86,627.49 Q138.06,626.87 137.50,626.01 Q136.94,625.15 136.77,624.14 Q136.61,623.12 136.80,622.11 Q136.99,621.10 137.37,620.18 Q137.75,619.26 138.24,618.44 Q138.72,617.61 139.33,616.89 Q139.94,616.17 140.70,615.63 Q141.46,615.10 142.31,614.78 Q143.16,614.46 144.02,614.26 Q144.87,614.06 145.72,613.85 Q146.58,613.64 147.52,613.42 Q148.47,613.21 149.51,613.19 Q150.54,613.17 151.52,613.53 Q152.49,613.89 153.21,614.63 Q153.93,615.37 154.35,616.30 Z" stroke="#0a0a0a" stroke-width="0.6" fill="none" opacity="1.0"/>
<ellipse cx="143" cy="624" rx="2.2" ry="1.6" fill="#fff" opacity="0.35"/>
<ellipse cx="149.5" cy="619" rx="1.8" ry="1.4" fill="#fff" opacity="0.3"/>
<path d="M148.1,618.3h0.7M146.5,623.3h0.7M142.0,629.6h0.7M148.4,620.5h0.7M140.9,623.6h0.7M148.9,620.0h0.7M143.2,626.4h0.7M149.8,622.1h0.7M150.2,627.3h0.7M135.8,625.7h0.7M142.2,623.5h0.7M153.1,621.7h0.7M156.4,622.0h0.7M150.8,615.0h0.7M139.0,619.3h0.7M144.2,618.5h0.7M151.1,622.8h0.7M146.8,621.5h0.7M143.4,617.6h0.7M140.1,625.8h0.7M139.3,618.0h0.7M141.0,623.9h0.7M142.9,620.0h0.7M146.2,621.3h0.7M146.1,620.2h0.7M154.0,635.3h0.7M143.2,619.2h0.7M143.8,618.8h0.7M144.3,618.6h0.7M143.6,623.4h0.7M142.7,621.0h0.7M141.0,621.2h0.7M144.4,619.2h0.7M144.8,620.3h0.7M146.5,620.6h0.7M142.9,622.2h0.7M146.7,619.2h0.7M148.9,626.7h0.7M147.2,616.9h0.7M140.8,617.7h0.7M147.9,620.3h0.7M153.7,627.1h0.7M142.5,616.3h0.7M146.7,620.1h0.7M142.4,618.1h0.7M150.8,621.3h0.7M137.5,618.6h0.7M144.4,617.3h0.7M145.0,618.9h0.7M141.1,620.5h0.7M138.4,618.5h0.7M151.5,618.9h0.7M141.4,614.5h0.7M144.7,618.1h0.7M143.3,620.9h0.7M148.0,626.5h0.7M145.9,623.6h0.7M145.2,629.0h0.7M147.3,621.7h0.7M147.5,622.5h0.7M143.8,620.9h0.7M147.0,629.9h0.7M145.0,621.3h0.7M146.0,620.3h0.7M140.6,626.1h0.7M153.5,617.9h0.7M144.2,625.5h0.7M144.6,618.8h0.7M143.4,624.0h0.7M148.1,628.9h0.7M147.2,617.5h0.7M147.6,618.5h0.7M144.4,617.8h0.7M150.7,619.7h0.7M145.1,616.6h0.7M143.9,622.3h0.7M143.4,617.7h0.7M137.4,627.2h0.7M148.4,630.6h0.7M143.6,618.4h0.7M152.4,617.3h0.7M142.9,618.9h0.7M144.3,621.0h0.7M139.8,624.6h0.7M148.5,618.8h0.7M139.4,616.9h0.7M143.9,621.1h0.7M143.2,624.1h0.7M145.6,624.7h0.7M144.8,622.3h0.7M151.1,621.0h0.7M147.7,616.5h0.7M147.1,619.8h0.7M149.0,623.4h0.7M149.0,621.4h0.7M140.7,619.6h0.7M141.8,620.2h0.7M137.2,616.4h0.7M151.7,622.4h0.7M143.1,621.2h0.7M145.2,628.1h0.7M152.5,629.0h0.7M142.7,626.3h0.7M145.5,618.9h0.7M142.8,623.6h0.7M141.1,620.6h0.7M147.0,619.2h0.7M140.7,624.0h0.7M148.7,616.4h0.7M146.8,626.1h0.7M147.2,621.6h0.7M147.0,620.6h0.7M143.1,625.6h0.7M140.4,627.0h0.7M140.0,619.5h0.7M139.1,620.6h0.7M143.8,613.0h0.7M146.6,622.7h0.7M147.9,626.0h0.7M147.6,621.1h0.7" stroke="#111" stroke-width="0.70" opacity="0.7" fill="none"/>
<path d="M136.8,614 L136.8,631.3 L155,631.3" stroke="#0a0a0a" stroke-width="2.0" fill="none" />
<path d="M174.60,600.77 Q174.62,601.00 174.54,601.22 Q174.45,601.44 174.29,601.60 Q174.13,601.77 173.96,601.89 Q173.78,602.00 173.65,602.12 Q173.52,602.24 173.41,602.40 Q173.30,602.55 173.16,602.72 Q173.01,602.89 172.82,603.01 Q172.62,603.12 172.40,603.14 Q172.17,603.16 171.96,603.09 Q171.74,603.03 171.54,602.94 Q171.34,602.84 171.15,602.72 Q170.95,602.61 170.79,602.45 Q170.62,602.29 170.52,602.09 Q170.42,601.88 170.40,601.66 Q170.38,601.43 170.41,601.21 Q170.44,601.00 170.47,600.80 Q170.51,600.60 170.54,600.39 Q170.56,600.18 170.64,599.98 Q170.71,599.77 170.86,599.61 Q171.01,599.46 171.22,599.38 Q171.42,599.31 171.63,599.29 Q171.84,599.27 172.03,599.25 Q172.21,599.23 172.41,599.18 Q172.60,599.12 172.82,599.08 Q173.04,599.04 173.27,599.07 Q173.50,599.10 173.70,599.22 Q173.89,599.34 174.05,599.52 Q174.20,599.69 174.31,599.90 Q174.43,600.10 174.51,600.32 Q174.59,600.53 174.60,600.77 Z" stroke="#888" stroke-width="0.5" fill="none" opacity="1.0"/>
<path d="M175.29,600.69 Q175.30,601.00 175.19,601.28 Q175.08,601.57 174.88,601.79 Q174.68,602.02 174.47,602.19 Q174.26,602.35 174.10,602.53 Q173.93,602.70 173.79,602.92 Q173.64,603.14 173.44,603.37 Q173.24,603.59 172.97,603.72 Q172.70,603.85 172.40,603.85 Q172.10,603.84 171.82,603.73 Q171.55,603.62 171.29,603.49 Q171.04,603.36 170.79,603.21 Q170.54,603.07 170.30,602.88 Q170.06,602.70 169.90,602.44 Q169.74,602.18 169.69,601.89 Q169.63,601.59 169.65,601.29 Q169.67,601.00 169.72,600.72 Q169.76,600.44 169.82,600.16 Q169.89,599.88 170.01,599.62 Q170.14,599.36 170.36,599.17 Q170.58,598.98 170.86,598.90 Q171.14,598.82 171.41,598.81 Q171.68,598.79 171.92,598.75 Q172.16,598.71 172.41,598.61 Q172.66,598.52 172.96,598.44 Q173.26,598.36 173.58,598.38 Q173.90,598.41 174.17,598.57 Q174.44,598.73 174.64,598.98 Q174.83,599.23 174.97,599.51 Q175.11,599.80 175.19,600.09 Q175.28,600.39 175.29,600.69 Z" stroke="#888" stroke-width="0.5" fill="none" opacity="1.0"/>
<path d="M176.10,600.61 Q176.15,601.00 176.05,601.38 Q175.95,601.75 175.70,602.06 Q175.45,602.36 175.14,602.56 Q174.82,602.76 174.55,602.92 Q174.28,603.09 174.06,603.30 Q173.85,603.51 173.62,603.77 Q173.38,604.03 173.07,604.24 Q172.76,604.44 172.39,604.50 Q172.03,604.55 171.67,604.45 Q171.31,604.35 170.99,604.17 Q170.67,603.99 170.37,603.79 Q170.06,603.59 169.78,603.35 Q169.49,603.11 169.28,602.80 Q169.06,602.49 168.99,602.11 Q168.91,601.74 168.95,601.37 Q168.99,601.00 169.07,600.66 Q169.16,600.31 169.24,599.97 Q169.32,599.63 169.45,599.29 Q169.58,598.95 169.81,598.67 Q170.05,598.39 170.39,598.25 Q170.73,598.11 171.09,598.10 Q171.45,598.08 171.77,598.10 Q172.10,598.12 172.40,598.08 Q172.71,598.04 173.06,597.98 Q173.40,597.91 173.79,597.92 Q174.18,597.93 174.53,598.08 Q174.89,598.24 175.15,598.52 Q175.42,598.80 175.61,599.15 Q175.80,599.49 175.93,599.86 Q176.05,600.22 176.10,600.61 Z" stroke="#888" stroke-width="0.5" fill="none" opacity="1.0"/>
<path d="M177.24,601.75 Q177.28,602.00 177.25,602.25 Q177.21,602.50 177.12,602.71 Q177.03,602.93 176.91,603.10 Q176.79,603.28 176.68,603.44 Q176.56,603.61 176.44,603.77 Q176.32,603.93 176.17,604.07 Q176.02,604.20 175.85,604.27 Q175.68,604.34 175.50,604.32 Q175.32,604.30 175.16,604.22 Q174.99,604.13 174.85,604.01 Q174.70,603.89 174.57,603.75 Q174.44,603.60 174.33,603.43 Q174.23,603.26 174.15,603.06 Q174.07,602.87 174.03,602.65 Q173.98,602.44 173.95,602.22 Q173.92,602.00 173.89,601.76 Q173.87,601.53 173.87,601.27 Q173.88,601.01 173.94,600.76 Q174.00,600.51 174.13,600.32 Q174.26,600.13 174.44,600.02 Q174.62,599.92 174.81,599.90 Q174.99,599.88 175.17,599.89 Q175.34,599.91 175.50,599.93 Q175.66,599.95 175.81,599.99 Q175.97,600.02 176.12,600.10 Q176.27,600.17 176.41,600.29 Q176.55,600.41 176.68,600.56 Q176.80,600.71 176.92,600.89 Q177.03,601.07 177.12,601.29 Q177.21,601.50 177.24,601.75 Z" stroke="#aaa" stroke-width="0.45" fill="none" opacity="1.0"/>
<path d="M177.89,601.66 Q177.93,602.00 177.86,602.33 Q177.80,602.67 177.66,602.95 Q177.52,603.23 177.37,603.46 Q177.21,603.69 177.05,603.91 Q176.90,604.12 176.74,604.33 Q176.57,604.54 176.38,604.70 Q176.18,604.87 175.96,604.95 Q175.73,605.03 175.50,605.01 Q175.27,604.99 175.05,604.90 Q174.83,604.82 174.62,604.68 Q174.42,604.55 174.24,604.37 Q174.05,604.19 173.91,603.96 Q173.76,603.73 173.66,603.45 Q173.56,603.18 173.51,602.88 Q173.45,602.59 173.41,602.30 Q173.36,602.00 173.33,601.68 Q173.30,601.36 173.31,601.02 Q173.32,600.67 173.41,600.35 Q173.51,600.03 173.69,599.79 Q173.88,599.55 174.12,599.43 Q174.36,599.30 174.60,599.27 Q174.84,599.24 175.06,599.24 Q175.29,599.24 175.50,599.26 Q175.71,599.28 175.92,599.33 Q176.12,599.38 176.32,599.48 Q176.52,599.58 176.71,599.73 Q176.90,599.88 177.08,600.07 Q177.26,600.26 177.43,600.49 Q177.59,600.73 177.72,601.02 Q177.85,601.32 177.89,601.66 Z" stroke="#aaa" stroke-width="0.45" fill="none" opacity="1.0"/>
<rect x="165.30" y="592.20" width="22.30" height="18.90" stroke="#111" stroke-width="1.2" fill="none"/>
<text transform="translate(171.00,585.90) scale(1.085,1)" font-size="9.032" text-anchor="start" fill="#1e1e1e" stroke="#1e1e1e" stroke-width="0.12">Pro B</text>
<text transform="translate(123.90,601.70) rotate(-90)" font-size="10.0" text-anchor="middle" fill="#1e1e1e" stroke="#1e1e1e" stroke-width="0.12">CD19</text>
<text transform="translate(163.70,653.00) scale(1.085,1)" font-size="9.217" text-anchor="middle" fill="#1e1e1e" stroke="#1e1e1e" stroke-width="0.12">CD10</text>
<text transform="translate(275.20,441.20) scale(1.085,1)" font-size="9.217" text-anchor="middle" fill="#1e1e1e" stroke="#1e1e1e" stroke-width="0.12">HSCs</text>
<line x1="239.70" y1="446.00" x2="308.40" y2="446.00" stroke="#8a8a8a" stroke-width="0.9" />
<line x1="308.40" y1="446.00" x2="308.40" y2="514.00" stroke="#d4d4d4" stroke-width="0.8" />
<line x1="239.70" y1="446.00" x2="239.70" y2="514.00" stroke="#555" stroke-width="0.8" />
<line x1="239.20" y1="514.00" x2="308.40" y2="514.00" stroke="#333" stroke-width="0.9" />
<line x1="238.40" y1="514.00" x2="239.70" y2="514.00" stroke="#555" stroke-width="0.5" />
<text x="237.90" y="515.10" font-size="3.2" text-anchor="end" fill="#444">0</text>
<line x1="238.40" y1="501.00" x2="239.70" y2="501.00" stroke="#555" stroke-width="0.5" />
<text x="237.90" y="502.10" font-size="3.2" text-anchor="end" fill="#444">20</text>
<line x1="238.40" y1="488.00" x2="239.70" y2="488.00" stroke="#555" stroke-width="0.5" />
<text x="237.90" y="489.10" font-size="3.2" text-anchor="end" fill="#444">40</text>
<line x1="238.40" y1="475.00" x2="239.70" y2="475.00" stroke="#555" stroke-width="0.5" />
<text x="237.90" y="476.10" font-size="3.2" text-anchor="end" fill="#444">60</text>
<line x1="238.40" y1="462.00" x2="239.70" y2="462.00" stroke="#555" stroke-width="0.5" />
<text x="237.90" y="463.10" font-size="3.2" text-anchor="end" fill="#444">80</text>
<line x1="238.40" y1="449.00" x2="239.70" y2="449.00" stroke="#555" stroke-width="0.5" />
<text x="237.90" y="450.10" font-size="3.2" text-anchor="end" fill="#444">100</text>
<line x1="247.50" y1="514.00" x2="247.50" y2="515.20" stroke="#555" stroke-width="0.5" />
<text x="247.50" y="519.00" font-size="3.3" text-anchor="middle" fill="#444">0</text>
<line x1="253.50" y1="514.00" x2="253.50" y2="515.20" stroke="#555" stroke-width="0.5" />
<text x="253.50" y="519.00" font-size="3.3" text-anchor="middle" fill="#444">10²</text>
<line x1="270.80" y1="514.00" x2="270.80" y2="515.20" stroke="#555" stroke-width="0.5" />
<text x="270.80" y="519.00" font-size="3.3" text-anchor="middle" fill="#444">10³</text>
<line x1="287.30" y1="514.00" x2="287.30" y2="515.20" stroke="#555" stroke-width="0.5" />
<text x="287.30" y="519.00" font-size="3.3" text-anchor="middle" fill="#444">10⁴</text>
<line x1="301.10" y1="514.00" x2="301.10" y2="515.20" stroke="#555" stroke-width="0.5" />
<text x="301.10" y="519.00" font-size="3.3" text-anchor="middle" fill="#444">10⁵</text>
<text x="276.10" y="523.60" font-size="2.6" text-anchor="middle" fill="#444">sPE-A:: ZB_ab0026</text>
<text transform="translate(231.40,480.50) rotate(-90)" font-size="2.7" text-anchor="middle" fill="#333" stroke="#333" stroke-width="0.1">% of Max</text>
<path d="M239.70,500.90 L239.74,501.84 L239.77,502.12 L239.81,502.78 L239.85,503.26 L239.89,504.28 L239.93,504.81 L239.96,505.38 L240.00,506.07 L240.04,506.39 L240.07,507.13 L240.11,507.66 L240.15,508.56 L240.19,509.26 L240.23,509.52 L240.26,510.29 L240.30,510.89 L241.00,511.12 L241.70,511.19 L242.40,511.23 L242.61,510.25 L242.82,509.87 L243.04,509.25 L243.25,508.59 L243.46,507.92 L243.68,507.17 L243.89,506.69 L244.10,506.01 L244.23,505.27 L244.37,504.97 L244.50,504.06 L244.63,503.43 L244.77,502.74 L244.90,502.33 L245.03,501.66 L245.17,501.04 L245.30,500.35 L245.43,499.76 L245.57,499.22 L245.70,498.25 L245.78,497.65 L245.87,497.53 L245.95,496.47 L246.03,496.08 L246.12,495.40 L246.20,494.69 L246.28,494.50 L246.37,493.73 L246.45,493.12 L246.53,492.57 L246.62,491.82 L246.70,491.15 L246.78,490.82 L246.87,489.91 L246.95,489.25 L247.03,488.87 L247.12,488.40 L247.20,487.72 L247.26,487.13 L247.31,486.28 L247.37,485.72 L247.42,485.38 L247.48,484.63 L247.53,483.87 L247.59,483.21 L247.64,482.52 L247.70,482.23 L247.76,481.51 L247.81,481.03 L247.87,480.55 L247.92,479.64 L247.98,478.99 L248.03,478.39 L248.09,477.84 L248.14,477.06 L248.20,476.78 L248.25,476.09 L248.30,475.28 L248.35,474.63 L248.40,474.17 L248.45,473.74 L248.50,472.89 L248.55,472.13 L248.60,471.97 L248.65,470.90 L248.70,470.34 L248.75,469.68 L248.80,469.15 L248.85,468.69 L248.90,467.78 L248.99,467.50 L249.08,466.96 L249.17,466.04 L249.26,465.61 L249.35,465.05 L249.44,464.23 L249.53,463.55 L249.62,463.21 L249.71,462.67 L249.80,462.00 L249.84,461.36 L249.88,460.66 L249.91,460.03 L249.95,459.39 L249.99,459.01 L250.03,458.16 L250.06,457.43 L250.10,456.77 L250.14,456.13 L250.18,455.81 L250.21,454.91 L250.25,454.54 L250.29,454.10 L250.33,453.40 L250.36,452.52 L250.40,452.22 L250.65,451.25 L250.90,450.46 L250.97,451.17 L251.04,451.95 L251.11,452.59 L251.19,453.01 L251.26,453.94 L251.33,454.47 L251.40,455.21 L251.50,454.35 L251.60,453.76 L251.70,452.81 L251.80,452.47 L251.90,451.44 L252.00,450.77 L252.05,451.59 L252.11,452.02 L252.16,452.78 L252.22,453.44 L252.27,453.99 L252.33,454.97 L252.38,455.22 L252.44,456.14 L252.49,456.79 L252.55,457.18 L252.60,458.02 L252.83,458.48 L253.07,459.10 L253.30,460.19 L253.39,460.40 L253.48,461.37 L253.57,461.74 L253.66,462.40 L253.75,463.17 L253.84,463.83 L253.93,464.42 L254.02,464.84 L254.11,465.55 L254.20,466.01 L254.26,466.86 L254.31,467.41 L254.37,467.94 L254.42,468.26 L254.48,469.24 L254.54,469.98 L254.59,470.57 L254.65,470.95 L254.71,471.65 L254.76,472.26 L254.82,473.07 L254.88,473.66 L254.93,473.92 L254.99,474.68 L255.04,475.55 L255.10,475.82 L255.17,476.65 L255.25,477.06 L255.32,477.84 L255.39,478.39 L255.47,479.09 L255.54,479.83 L255.61,480.20 L255.69,480.73 L255.76,481.28 L255.83,481.91 L255.91,482.84 L255.98,483.37 L256.05,483.99 L256.13,484.17 L256.20,484.77 L256.29,485.78 L256.37,486.10 L256.46,486.87 L256.55,487.36 L256.63,488.03 L256.72,488.65 L256.81,489.42 L256.89,489.91 L256.98,490.48 L257.07,491.39 L257.15,492.05 L257.24,492.46 L257.33,493.21 L257.41,493.72 L257.50,494.62 L257.60,495.26 L257.70,495.71 L257.80,496.50 L257.90,496.74 L258.00,497.34 L258.10,497.96 L258.20,498.67 L258.30,499.45 L258.40,499.75 L258.50,500.37 L258.60,501.35 L258.70,501.90 L258.80,502.31 L258.90,502.84 L259.10,503.77 L259.30,504.40 L259.50,504.83 L259.70,505.25 L259.90,506.25 L260.10,506.62 L260.30,507.14 L260.50,507.90 L261.00,508.50 L261.50,509.15 L262.00,509.64 L262.50,510.23 L263.10,510.14 L263.70,510.16 L264.15,510.69 L264.60,511.14 L265.05,511.92 L265.50,512.39 L266.12,512.54 L266.75,512.66 L267.38,513.17 L268.00,513.50 L268.67,513.67 L269.33,513.83 L270.00,514.00 L270.61,514.00 L271.22,514.00 L271.83,514.00 L272.44,514.00 L273.05,514.00 L273.66,514.00 L274.27,514.00 L274.88,514.00 L275.49,514.00 L276.10,514.00 L276.70,514.00 L277.31,514.00 L277.92,514.00 L278.53,514.00 L279.14,514.00 L279.75,514.00 L280.36,514.00 L280.97,514.00 L281.58,514.00 L282.19,514.00 L282.80,514.00 L283.41,514.00 L284.02,514.00 L284.63,514.00 L285.24,514.00 L285.85,514.00 L286.46,514.00 L287.07,514.00 L287.68,514.00 L288.29,514.00 L288.90,514.00 L289.50,514.00 L290.11,514.00 L290.72,514.00 L291.33,514.00 L291.94,514.00 L292.55,514.00 L293.16,514.00 L293.77,514.00 L294.38,514.00 L294.99,514.00 L295.60,514.00 L296.21,514.00 L296.82,514.00 L297.43,514.00 L298.04,514.00 L298.65,514.00 L299.26,514.00 L299.87,514.00 L300.48,514.00 L301.09,514.00 L301.70,514.00 L302.30,514.00 L302.91,514.00 L303.52,514.00 L304.13,514.00 L304.74,514.00 L305.35,514.00 L305.96,514.00 L306.57,514.00 L307.18,514.00 L307.79,514.00 L308.40,514.00" stroke="#bb3048" stroke-width="1.2" fill="none" />
<path d="M239.70,500.94 L239.74,501.32 L239.77,501.81 L239.81,502.41 L239.84,503.29 L239.88,503.67 L239.91,504.55 L239.95,505.02 L239.98,505.44 L240.02,505.96 L240.05,506.87 L240.09,507.38 L240.12,508.18 L240.16,508.68 L240.19,509.34 L240.23,509.65 L240.26,510.57 L240.30,511.01 L241.00,511.06 L241.70,510.78 L242.40,510.88 L242.61,510.32 L242.82,509.72 L243.04,509.00 L243.25,508.54 L243.46,508.18 L243.68,507.15 L243.89,506.86 L244.10,505.89 L244.23,505.60 L244.37,504.77 L244.50,504.21 L244.63,503.49 L244.77,502.84 L244.90,502.24 L245.03,501.85 L245.17,500.83 L245.30,500.46 L245.43,499.73 L245.57,498.90 L245.70,498.38 L245.79,497.84 L245.89,497.45 L245.98,496.70 L246.08,496.10 L246.17,495.51 L246.27,494.95 L246.36,494.02 L246.46,493.89 L246.55,493.21 L246.64,492.56 L246.74,492.03 L246.83,491.27 L246.93,490.40 L247.02,490.04 L247.12,489.62 L247.21,489.04 L247.31,487.98 L247.40,487.40 L247.46,487.12 L247.51,486.47 L247.57,485.56 L247.62,485.00 L247.68,484.57 L247.73,483.84 L247.79,483.59 L247.84,482.89 L247.90,481.96 L247.96,481.56 L248.01,480.99 L248.07,480.12 L248.12,479.74 L248.18,478.97 L248.23,478.44 L248.29,478.16 L248.34,477.23 L248.40,476.50 L248.44,475.98 L248.49,475.56 L248.53,475.02 L248.57,474.13 L248.61,473.35 L248.66,472.76 L248.70,472.54 L248.74,471.87 L248.79,471.21 L248.83,470.73 L248.87,469.94 L248.91,469.06 L248.96,468.77 L249.00,468.21 L249.28,467.43 L249.55,466.71 L249.82,466.56 L250.10,465.72 L250.38,465.08 L250.65,464.71 L250.92,464.02 L251.20,463.44 L251.42,462.85 L251.64,462.38 L251.86,461.78 L252.08,461.02 L252.30,460.10 L252.36,459.84 L252.42,459.11 L252.48,458.36 L252.54,457.76 L252.59,457.19 L252.65,456.66 L252.71,456.03 L252.77,455.48 L252.83,454.82 L252.89,454.40 L252.95,453.40 L253.01,452.93 L253.06,452.62 L253.12,451.97 L253.18,451.13 L253.24,450.74 L253.30,450.07 L253.34,450.49 L253.37,450.99 L253.41,451.58 L253.44,452.22 L253.48,452.96 L253.51,453.45 L253.55,454.10 L253.58,454.75 L253.62,455.56 L253.65,456.31 L253.69,456.71 L253.72,457.15 L253.76,457.99 L253.79,458.47 L253.83,458.99 L253.86,459.90 L253.90,460.19 L253.93,460.88 L253.96,461.33 L253.98,462.32 L254.01,462.78 L254.04,463.11 L254.07,464.04 L254.09,464.75 L254.12,465.08 L254.15,465.56 L254.18,466.43 L254.21,467.06 L254.23,467.78 L254.26,468.29 L254.29,468.74 L254.32,469.22 L254.34,469.99 L254.37,470.69 L254.40,471.08 L254.46,471.87 L254.52,472.62 L254.58,472.88 L254.64,473.73 L254.71,474.32 L254.77,474.68 L254.83,475.27 L254.89,476.25 L254.95,476.76 L255.01,477.36 L255.07,477.77 L255.13,478.51 L255.19,478.96 L255.26,479.48 L255.32,480.40 L255.38,481.05 L255.44,481.25 L255.50,482.10 L255.62,482.81 L255.74,483.12 L255.87,484.05 L255.99,484.53 L256.11,485.11 L256.23,485.97 L256.36,486.18 L256.48,486.90 L256.60,487.38 L256.68,488.32 L256.76,488.86 L256.84,489.56 L256.91,490.28 L256.99,490.74 L257.07,491.50 L257.15,492.13 L257.23,492.44 L257.31,493.10 L257.39,493.96 L257.46,494.45 L257.54,494.84 L257.62,495.68 L257.70,496.24 L257.78,496.85 L257.86,497.76 L257.94,497.98 L258.01,498.96 L258.09,499.19 L258.17,500.09 L258.25,500.60 L258.33,501.36 L258.41,501.74 L258.49,502.60 L258.56,503.34 L258.64,503.89 L258.72,504.17 L258.80,504.93 L259.07,505.72 L259.35,505.90 L259.62,506.77 L259.90,507.08 L260.18,507.64 L260.45,508.23 L260.73,508.88 L261.00,509.39 L261.44,510.04 L261.88,510.22 L262.32,510.50 L262.76,511.41 L263.20,511.51 L263.84,511.84 L264.48,512.38 L265.12,512.72 L265.76,512.89 L266.40,513.20 L267.06,513.36 L267.72,513.52 L268.38,513.68 L269.04,513.84 L269.70,514.00 L270.30,514.00 L270.91,514.00 L271.51,514.00 L272.12,514.00 L272.72,514.00 L273.33,514.00 L273.93,514.00 L274.54,514.00 L275.14,514.00 L275.75,514.00 L276.35,514.00 L276.96,514.00 L277.56,514.00 L278.17,514.00 L278.77,514.00 L279.38,514.00 L279.98,514.00 L280.58,514.00 L281.19,514.00 L281.79,514.00 L282.40,514.00 L283.00,514.00 L283.61,514.00 L284.21,514.00 L284.82,514.00 L285.42,514.00 L286.03,514.00 L286.63,514.00 L287.24,514.00 L287.84,514.00 L288.45,514.00 L289.05,514.00 L289.65,514.00 L290.26,514.00 L290.86,514.00 L291.47,514.00 L292.07,514.00 L292.68,514.00 L293.28,514.00 L293.89,514.00 L294.49,514.00 L295.10,514.00 L295.70,514.00 L296.31,514.00 L296.91,514.00 L297.52,514.00 L298.12,514.00 L298.72,514.00 L299.33,514.00 L299.93,514.00 L300.54,514.00 L301.14,514.00 L301.75,514.00 L302.35,514.00 L302.96,514.00 L303.56,514.00 L304.17,514.00 L304.77,514.00 L305.38,514.00 L305.98,514.00 L306.59,514.00 L307.19,514.00 L307.80,514.00 L308.40,514.00" stroke="#111" stroke-width="1.15" fill="none" />
<text transform="translate(369.10,441.20) scale(1.085,1)" font-size="9.217" text-anchor="middle" fill="#1e1e1e" stroke="#1e1e1e" stroke-width="0.12">CMP</text>
<line x1="334.20" y1="446.20" x2="403.00" y2="446.20" stroke="#8a8a8a" stroke-width="0.9" />
<line x1="403.00" y1="446.20" x2="403.00" y2="514.00" stroke="#d4d4d4" stroke-width="0.8" />
<line x1="334.20" y1="446.20" x2="334.20" y2="514.00" stroke="#555" stroke-width="0.8" />
<line x1="333.70" y1="514.00" x2="403.00" y2="514.00" stroke="#333" stroke-width="0.9" />
<line x1="332.90" y1="514.00" x2="334.20" y2="514.00" stroke="#555" stroke-width="0.5" />
<text x="332.40" y="515.10" font-size="3.2" text-anchor="end" fill="#444">0</text>
<line x1="332.90" y1="501.04" x2="334.20" y2="501.04" stroke="#555" stroke-width="0.5" />
<text x="332.40" y="502.14" font-size="3.2" text-anchor="end" fill="#444">20</text>
<line x1="332.90" y1="488.08" x2="334.20" y2="488.08" stroke="#555" stroke-width="0.5" />
<text x="332.40" y="489.18" font-size="3.2" text-anchor="end" fill="#444">40</text>
<line x1="332.90" y1="475.12" x2="334.20" y2="475.12" stroke="#555" stroke-width="0.5" />
<text x="332.40" y="476.22" font-size="3.2" text-anchor="end" fill="#444">60</text>
<line x1="332.90" y1="462.16" x2="334.20" y2="462.16" stroke="#555" stroke-width="0.5" />
<text x="332.40" y="463.26" font-size="3.2" text-anchor="end" fill="#444">80</text>
<line x1="332.90" y1="449.20" x2="334.20" y2="449.20" stroke="#555" stroke-width="0.5" />
<text x="332.40" y="450.30" font-size="3.2" text-anchor="end" fill="#444">100</text>
<line x1="342.00" y1="514.00" x2="342.00" y2="515.20" stroke="#555" stroke-width="0.5" />
<text x="342.00" y="519.00" font-size="3.3" text-anchor="middle" fill="#444">0</text>
<line x1="348.00" y1="514.00" x2="348.00" y2="515.20" stroke="#555" stroke-width="0.5" />
<text x="348.00" y="519.00" font-size="3.3" text-anchor="middle" fill="#444">10²</text>
<line x1="365.30" y1="514.00" x2="365.30" y2="515.20" stroke="#555" stroke-width="0.5" />
<text x="365.30" y="519.00" font-size="3.3" text-anchor="middle" fill="#444">10³</text>
<line x1="381.80" y1="514.00" x2="381.80" y2="515.20" stroke="#555" stroke-width="0.5" />
<text x="381.80" y="519.00" font-size="3.3" text-anchor="middle" fill="#444">10⁴</text>
<line x1="395.60" y1="514.00" x2="395.60" y2="515.20" stroke="#555" stroke-width="0.5" />
<text x="395.60" y="519.00" font-size="3.3" text-anchor="middle" fill="#444">10⁵</text>
<text x="370.60" y="523.60" font-size="2.6" text-anchor="middle" fill="#444">sPE-A:: ZB_ab0026</text>
<text transform="translate(325.90,480.60) rotate(-90)" font-size="2.7" text-anchor="middle" fill="#333" stroke="#333" stroke-width="0.1">% of Max</text>
<path d="M334.20,505.95 L334.30,506.85 L334.40,507.47 L334.50,508.13 L334.60,508.34 L334.70,509.27 L334.80,509.92 L334.90,510.26 L335.00,510.95 L335.10,511.28 L335.20,512.16 L335.30,512.70 L335.75,511.94 L336.20,511.87 L336.65,511.39 L337.10,510.71 L337.55,510.31 L338.00,509.53 L338.14,509.11 L338.27,508.45 L338.41,507.70 L338.55,507.49 L338.68,506.58 L338.82,505.96 L338.96,505.53 L339.09,505.16 L339.23,504.28 L339.37,503.64 L339.51,503.22 L339.64,502.81 L339.78,502.09 L339.92,501.23 L340.05,500.59 L340.19,500.29 L340.33,499.70 L340.46,498.92 L340.60,498.37 L340.69,497.82 L340.79,497.37 L340.88,496.79 L340.98,496.23 L341.07,495.50 L341.17,494.98 L341.26,494.06 L341.36,493.42 L341.45,492.95 L341.54,492.56 L341.64,491.89 L341.73,491.15 L341.83,490.47 L341.92,490.14 L342.02,489.41 L342.11,488.83 L342.21,487.98 L342.30,487.48 L342.36,486.84 L342.41,486.34 L342.47,485.61 L342.52,485.22 L342.58,484.46 L342.63,483.91 L342.69,483.25 L342.74,482.77 L342.80,482.26 L342.86,481.70 L342.91,481.05 L342.97,480.55 L343.02,479.78 L343.08,479.08 L343.13,478.34 L343.19,477.99 L343.24,477.08 L343.30,476.52 L343.36,476.30 L343.42,475.59 L343.48,474.81 L343.54,474.48 L343.61,473.54 L343.67,473.11 L343.73,472.59 L343.79,472.03 L343.85,471.08 L343.91,470.53 L343.97,470.15 L344.03,469.61 L344.09,468.78 L344.16,468.36 L344.22,467.75 L344.28,467.00 L344.34,466.42 L344.40,465.82 L344.51,464.94 L344.62,464.50 L344.73,464.07 L344.84,463.29 L344.95,462.30 L345.06,461.82 L345.17,461.30 L345.28,460.46 L345.39,459.72 L345.50,459.15 L345.62,458.93 L345.74,457.95 L345.87,457.55 L345.99,456.73 L346.11,456.03 L346.23,455.71 L346.36,454.94 L346.48,454.47 L346.60,454.05 L346.86,453.29 L347.12,452.60 L347.38,452.04 L347.64,451.58 L347.90,450.89 L348.12,451.59 L348.35,452.28 L348.57,453.02 L348.80,453.55 L348.88,453.86 L348.96,454.71 L349.04,455.33 L349.12,455.96 L349.20,456.44 L349.28,457.10 L349.36,457.93 L349.44,458.37 L349.52,458.79 L349.60,459.54 L349.68,460.09 L349.76,460.58 L349.84,461.55 L349.92,461.86 L350.00,462.62 L350.09,462.89 L350.19,463.55 L350.28,464.48 L350.38,465.12 L350.47,465.75 L350.57,466.09 L350.66,466.51 L350.76,467.41 L350.85,468.19 L350.94,468.37 L351.04,469.22 L351.13,469.60 L351.23,470.60 L351.32,470.90 L351.42,471.34 L351.51,471.95 L351.61,472.99 L351.70,473.25 L351.78,474.16 L351.87,474.85 L351.95,475.13 L352.04,475.87 L352.12,476.58 L352.21,476.77 L352.29,477.84 L352.38,478.03 L352.46,478.81 L352.55,479.29 L352.63,479.77 L352.72,480.75 L352.81,481.31 L352.89,481.87 L352.97,482.16 L353.06,483.04 L353.14,483.50 L353.23,484.39 L353.31,484.61 L353.40,485.15 L353.49,486.18 L353.58,486.72 L353.67,487.21 L353.76,487.66 L353.84,488.40 L353.93,489.27 L354.02,489.81 L354.11,490.38 L354.20,490.99 L354.29,491.39 L354.38,492.11 L354.47,492.72 L354.56,493.32 L354.64,494.09 L354.73,494.35 L354.82,494.97 L354.91,495.94 L355.00,496.48 L355.10,496.75 L355.20,497.28 L355.30,497.91 L355.40,498.93 L355.50,499.20 L355.60,499.97 L355.70,500.41 L355.80,501.24 L355.90,501.86 L356.00,502.59 L356.10,503.25 L356.20,503.68 L356.30,504.47 L356.40,505.10 L356.50,505.25 L356.60,505.93 L356.84,506.95 L357.09,507.46 L357.33,507.81 L357.58,508.75 L357.82,509.22 L358.07,510.01 L358.31,510.29 L358.56,510.97 L358.80,511.37 L359.25,512.07 L359.70,512.33 L360.15,512.95 L360.60,513.20 L361.05,513.60 L361.50,514.00 L362.10,514.00 L362.70,514.00 L363.30,514.00 L363.91,514.00 L364.51,514.00 L365.11,514.00 L365.71,514.00 L366.31,514.00 L366.91,514.00 L367.51,514.00 L368.12,514.00 L368.72,514.00 L369.32,514.00 L369.92,514.00 L370.52,514.00 L371.12,514.00 L371.72,514.00 L372.33,514.00 L372.93,514.00 L373.53,514.00 L374.13,514.00 L374.73,514.00 L375.33,514.00 L375.93,514.00 L376.54,514.00 L377.14,514.00 L377.74,514.00 L378.34,514.00 L378.94,514.00 L379.54,514.00 L380.14,514.00 L380.75,514.00 L381.35,514.00 L381.95,514.00 L382.55,514.00 L383.15,514.00 L383.75,514.00 L384.36,514.00 L384.96,514.00 L385.56,514.00 L386.16,514.00 L386.76,514.00 L387.36,514.00 L387.96,514.00 L388.57,514.00 L389.17,514.00 L389.77,514.00 L390.37,514.00 L390.97,514.00 L391.57,514.00 L392.17,514.00 L392.78,514.00 L393.38,514.00 L393.98,514.00 L394.58,514.00 L395.18,514.00 L395.78,514.00 L396.38,514.00 L396.99,514.00 L397.59,514.00 L398.19,514.00 L398.79,514.00 L399.39,514.00 L399.99,514.00 L400.59,514.00 L401.20,514.00 L401.80,514.00 L402.40,514.00 L403.00,514.00" stroke="#bb3048" stroke-width="1.2" fill="none" />
<path d="M334.20,505.96 L334.30,506.65 L334.40,507.50 L334.50,507.89 L334.60,508.38 L334.70,509.23 L334.80,509.81 L334.90,510.24 L335.00,510.75 L335.10,511.47 L335.20,512.14 L335.30,512.77 L335.69,512.10 L336.07,511.81 L336.46,511.23 L336.84,510.72 L337.23,510.36 L337.61,509.69 L338.00,509.52 L338.15,508.62 L338.30,508.21 L338.45,507.78 L338.60,506.75 L338.75,506.24 L338.90,505.61 L339.05,505.22 L339.20,504.75 L339.35,504.17 L339.50,503.22 L339.65,502.67 L339.80,502.21 L339.95,501.46 L340.10,500.86 L340.25,500.36 L340.40,499.76 L340.55,498.89 L340.70,498.37 L340.79,497.73 L340.89,497.04 L340.98,496.90 L341.08,496.14 L341.17,495.63 L341.27,494.91 L341.36,494.28 L341.46,493.43 L341.55,492.84 L341.64,492.65 L341.74,491.79 L341.83,491.17 L341.93,490.66 L342.02,489.81 L342.12,489.43 L342.21,488.88 L342.31,488.00 L342.40,487.49 L342.46,487.03 L342.51,486.60 L342.57,485.95 L342.62,485.02 L342.68,484.63 L342.73,484.22 L342.79,483.25 L342.84,482.72 L342.90,482.12 L342.96,481.75 L343.01,480.91 L343.07,480.34 L343.12,479.72 L343.18,479.01 L343.23,478.37 L343.29,478.06 L343.34,477.21 L343.40,476.87 L343.46,475.93 L343.52,475.62 L343.58,474.96 L343.64,474.22 L343.71,473.89 L343.77,473.11 L343.83,472.36 L343.89,471.65 L343.95,471.15 L344.01,470.71 L344.07,470.02 L344.13,469.44 L344.19,468.82 L344.26,468.43 L344.32,467.52 L344.38,467.10 L344.44,466.57 L344.50,466.02 L344.61,465.04 L344.72,464.66 L344.83,464.03 L344.94,463.06 L345.05,462.39 L345.16,461.73 L345.27,461.04 L345.38,460.64 L345.49,459.95 L345.60,459.44 L345.72,458.62 L345.84,458.17 L345.97,457.48 L346.09,457.03 L346.21,456.25 L346.33,455.61 L346.46,455.25 L346.58,454.36 L346.70,454.00 L346.98,453.38 L347.26,452.34 L347.54,451.83 L347.82,451.27 L348.10,450.68 L348.26,451.00 L348.42,451.83 L348.58,452.69 L348.74,453.37 L348.90,453.88 L348.98,454.31 L349.06,454.86 L349.14,455.56 L349.21,456.46 L349.29,456.86 L349.37,457.55 L349.45,458.08 L349.53,458.89 L349.61,459.33 L349.69,459.88 L349.76,460.42 L349.84,461.06 L349.92,461.84 L350.00,462.28 L350.09,463.14 L350.18,463.62 L350.27,464.48 L350.36,464.76 L350.44,465.31 L350.53,466.37 L350.62,466.57 L350.71,467.31 L350.80,467.89 L350.89,468.33 L350.98,468.98 L351.07,469.56 L351.16,470.21 L351.24,471.05 L351.33,471.63 L351.42,472.18 L351.51,472.85 L351.60,473.18 L351.69,473.78 L351.77,474.42 L351.86,475.27 L351.94,475.77 L352.03,476.50 L352.11,476.95 L352.19,477.45 L352.28,478.04 L352.37,478.98 L352.45,479.21 L352.54,480.21 L352.62,480.69 L352.71,481.39 L352.79,481.75 L352.88,482.51 L352.96,482.99 L353.05,483.36 L353.13,484.11 L353.22,484.85 L353.30,485.19 L353.39,485.91 L353.48,486.50 L353.57,487.18 L353.66,487.89 L353.74,488.56 L353.83,489.07 L353.92,489.48 L354.01,490.12 L354.10,490.69 L354.19,491.56 L354.28,492.25 L354.37,492.80 L354.46,493.37 L354.54,494.07 L354.63,494.51 L354.72,495.15 L354.81,495.75 L354.90,496.48 L355.00,497.15 L355.10,497.39 L355.20,498.25 L355.30,498.83 L355.40,499.33 L355.50,499.77 L355.60,500.67 L355.70,501.12 L355.80,501.77 L355.90,502.59 L356.00,503.28 L356.10,503.70 L356.20,504.04 L356.30,504.80 L356.40,505.50 L356.50,506.01 L356.74,506.95 L356.99,507.18 L357.23,508.17 L357.48,508.70 L357.72,509.21 L357.97,509.96 L358.21,510.13 L358.46,511.04 L358.70,511.50 L359.15,511.93 L359.60,512.64 L360.05,513.00 L360.50,513.20 L360.95,513.60 L361.40,514.00 L362.00,514.00 L362.61,514.00 L363.21,514.00 L363.81,514.00 L364.41,514.00 L365.02,514.00 L365.62,514.00 L366.22,514.00 L366.83,514.00 L367.43,514.00 L368.03,514.00 L368.63,514.00 L369.24,514.00 L369.84,514.00 L370.44,514.00 L371.05,514.00 L371.65,514.00 L372.25,514.00 L372.86,514.00 L373.46,514.00 L374.06,514.00 L374.66,514.00 L375.27,514.00 L375.87,514.00 L376.47,514.00 L377.08,514.00 L377.68,514.00 L378.28,514.00 L378.88,514.00 L379.49,514.00 L380.09,514.00 L380.69,514.00 L381.30,514.00 L381.90,514.00 L382.50,514.00 L383.10,514.00 L383.71,514.00 L384.31,514.00 L384.91,514.00 L385.52,514.00 L386.12,514.00 L386.72,514.00 L387.32,514.00 L387.93,514.00 L388.53,514.00 L389.13,514.00 L389.74,514.00 L390.34,514.00 L390.94,514.00 L391.54,514.00 L392.15,514.00 L392.75,514.00 L393.35,514.00 L393.96,514.00 L394.56,514.00 L395.16,514.00 L395.77,514.00 L396.37,514.00 L396.97,514.00 L397.57,514.00 L398.18,514.00 L398.78,514.00 L399.38,514.00 L399.99,514.00 L400.59,514.00 L401.19,514.00 L401.79,514.00 L402.40,514.00 L403.00,514.00" stroke="#111" stroke-width="1.15" fill="none" />
<text transform="translate(468.40,441.20) scale(1.085,1)" font-size="9.217" text-anchor="middle" fill="#1e1e1e" stroke="#1e1e1e" stroke-width="0.12">GMP</text>
<line x1="433.40" y1="446.00" x2="501.50" y2="446.00" stroke="#8a8a8a" stroke-width="0.9" />
<line x1="501.50" y1="446.00" x2="501.50" y2="514.00" stroke="#d4d4d4" stroke-width="0.8" />
<line x1="433.40" y1="446.00" x2="433.40" y2="514.00" stroke="#555" stroke-width="0.8" />
<line x1="432.90" y1="514.00" x2="501.50" y2="514.00" stroke="#333" stroke-width="0.9" />
<line x1="432.10" y1="514.00" x2="433.40" y2="514.00" stroke="#555" stroke-width="0.5" />
<text x="431.60" y="515.10" font-size="3.2" text-anchor="end" fill="#444">0</text>
<line x1="432.10" y1="501.00" x2="433.40" y2="501.00" stroke="#555" stroke-width="0.5" />
<text x="431.60" y="502.10" font-size="3.2" text-anchor="end" fill="#444">20</text>
<line x1="432.10" y1="488.00" x2="433.40" y2="488.00" stroke="#555" stroke-width="0.5" />
<text x="431.60" y="489.10" font-size="3.2" text-anchor="end" fill="#444">40</text>
<line x1="432.10" y1="475.00" x2="433.40" y2="475.00" stroke="#555" stroke-width="0.5" />
<text x="431.60" y="476.10" font-size="3.2" text-anchor="end" fill="#444">60</text>
<line x1="432.10" y1="462.00" x2="433.40" y2="462.00" stroke="#555" stroke-width="0.5" />
<text x="431.60" y="463.10" font-size="3.2" text-anchor="end" fill="#444">80</text>
<line x1="432.10" y1="449.00" x2="433.40" y2="449.00" stroke="#555" stroke-width="0.5" />
<text x="431.60" y="450.10" font-size="3.2" text-anchor="end" fill="#444">100</text>
<line x1="441.20" y1="514.00" x2="441.20" y2="515.20" stroke="#555" stroke-width="0.5" />
<text x="441.20" y="519.00" font-size="3.3" text-anchor="middle" fill="#444">0</text>
<line x1="447.20" y1="514.00" x2="447.20" y2="515.20" stroke="#555" stroke-width="0.5" />
<text x="447.20" y="519.00" font-size="3.3" text-anchor="middle" fill="#444">10²</text>
<line x1="464.50" y1="514.00" x2="464.50" y2="515.20" stroke="#555" stroke-width="0.5" />
<text x="464.50" y="519.00" font-size="3.3" text-anchor="middle" fill="#444">10³</text>
<line x1="481.00" y1="514.00" x2="481.00" y2="515.20" stroke="#555" stroke-width="0.5" />
<text x="481.00" y="519.00" font-size="3.3" text-anchor="middle" fill="#444">10⁴</text>
<line x1="494.80" y1="514.00" x2="494.80" y2="515.20" stroke="#555" stroke-width="0.5" />
<text x="494.80" y="519.00" font-size="3.3" text-anchor="middle" fill="#444">10⁵</text>
<text x="469.80" y="523.60" font-size="2.6" text-anchor="middle" fill="#444">sPE-A:: ZB_ab0026</text>
<text transform="translate(425.10,480.50) rotate(-90)" font-size="2.7" text-anchor="middle" fill="#333" stroke="#333" stroke-width="0.1">% of Max</text>
<path d="M433.40,514.00 L433.55,513.35 L433.70,512.49 L434.25,512.44 L434.80,511.98 L435.35,511.63 L435.90,511.42 L436.13,510.80 L436.37,510.59 L436.60,509.94 L436.83,509.30 L437.07,508.64 L437.30,508.13 L437.53,507.16 L437.77,506.81 L438.00,506.08 L438.12,505.66 L438.25,504.92 L438.38,504.50 L438.50,503.41 L438.62,503.02 L438.75,502.48 L438.88,501.79 L439.00,501.32 L439.12,500.67 L439.25,500.05 L439.38,499.25 L439.50,498.52 L439.62,498.39 L439.75,497.65 L439.88,497.06 L440.00,496.22 L440.08,495.65 L440.17,495.20 L440.25,494.58 L440.33,493.93 L440.42,493.28 L440.50,492.42 L440.58,492.03 L440.67,491.51 L440.75,490.93 L440.83,490.34 L440.92,489.79 L441.00,488.82 L441.08,488.20 L441.17,487.81 L441.25,487.00 L441.33,486.84 L441.42,486.22 L441.50,485.53 L441.60,484.66 L441.70,484.36 L441.80,483.41 L441.90,482.82 L442.00,482.23 L442.10,481.54 L442.20,480.86 L442.30,480.19 L442.40,479.91 L442.50,479.16 L442.60,478.72 L442.70,477.78 L442.80,477.38 L442.90,476.94 L442.97,475.98 L443.03,475.57 L443.10,474.91 L443.17,474.50 L443.23,473.58 L443.30,473.31 L443.37,472.44 L443.43,471.82 L443.50,471.29 L443.57,470.85 L443.63,470.03 L443.70,469.66 L443.77,468.88 L443.83,468.01 L443.90,467.78 L443.97,466.87 L444.03,466.46 L444.10,465.62 L444.18,465.32 L444.26,464.48 L444.34,464.12 L444.41,463.19 L444.49,462.67 L444.57,462.25 L444.65,461.35 L444.73,460.94 L444.81,460.36 L444.89,459.72 L444.96,458.92 L445.04,458.19 L445.12,457.82 L445.20,456.77 L445.32,456.36 L445.44,455.79 L445.57,455.35 L445.69,454.61 L445.81,453.84 L445.93,453.51 L446.06,452.88 L446.18,452.33 L446.30,451.48 L446.75,452.45 L447.20,452.92 L447.42,453.83 L447.64,454.39 L447.86,454.76 L448.08,455.80 L448.30,456.01 L448.41,456.94 L448.52,457.21 L448.64,457.99 L448.75,458.56 L448.86,459.32 L448.98,459.70 L449.09,460.16 L449.20,460.80 L449.30,461.82 L449.40,462.40 L449.50,463.04 L449.60,463.47 L449.70,464.12 L449.80,464.73 L449.90,465.20 L450.00,465.80 L450.07,466.42 L450.14,466.93 L450.22,467.85 L450.29,468.11 L450.36,468.82 L450.43,469.57 L450.51,470.24 L450.58,470.68 L450.65,471.17 L450.72,471.91 L450.79,472.50 L450.87,473.06 L450.94,474.08 L451.01,474.51 L451.08,475.29 L451.16,475.53 L451.23,476.53 L451.30,476.98 L451.37,477.60 L451.44,478.15 L451.51,479.03 L451.58,479.56 L451.65,479.78 L451.72,480.47 L451.79,481.39 L451.86,481.63 L451.93,482.41 L452.00,482.87 L452.07,483.59 L452.14,484.41 L452.21,484.95 L452.28,485.53 L452.35,485.82 L452.42,486.75 L452.49,487.03 L452.56,487.70 L452.63,488.15 L452.70,489.22 L452.78,489.68 L452.86,490.11 L452.94,490.89 L453.02,491.60 L453.11,492.13 L453.19,492.99 L453.27,493.29 L453.35,493.76 L453.43,494.66 L453.51,495.04 L453.59,495.74 L453.68,496.54 L453.76,497.03 L453.84,497.87 L453.92,498.56 L454.00,499.17 L454.10,499.65 L454.20,500.17 L454.30,500.68 L454.40,501.55 L454.50,502.36 L454.60,502.72 L454.70,503.24 L454.80,503.82 L454.90,504.43 L455.00,505.46 L455.10,506.01 L455.20,506.37 L455.30,507.07 L455.54,507.99 L455.79,508.56 L456.03,508.99 L456.28,509.81 L456.52,510.17 L456.77,510.97 L457.01,511.34 L457.26,511.99 L457.50,512.82 L458.18,513.03 L458.85,513.35 L459.52,513.67 L460.20,514.00 L460.81,514.00 L461.41,514.00 L462.02,514.00 L462.63,514.00 L463.24,514.00 L463.84,514.00 L464.45,514.00 L465.06,514.00 L465.67,514.00 L466.27,514.00 L466.88,514.00 L467.49,514.00 L468.10,514.00 L468.70,514.00 L469.31,514.00 L469.92,514.00 L470.52,514.00 L471.13,514.00 L471.74,514.00 L472.35,514.00 L472.95,514.00 L473.56,514.00 L474.17,514.00 L474.78,514.00 L475.38,514.00 L475.99,514.00 L476.60,514.00 L477.21,514.00 L477.81,514.00 L478.42,514.00 L479.03,514.00 L479.64,514.00 L480.24,514.00 L480.85,514.00 L481.46,514.00 L482.06,514.00 L482.67,514.00 L483.28,514.00 L483.89,514.00 L484.49,514.00 L485.10,514.00 L485.71,514.00 L486.32,514.00 L486.92,514.00 L487.53,514.00 L488.14,514.00 L488.75,514.00 L489.35,514.00 L489.96,514.00 L490.57,514.00 L491.18,514.00 L491.78,514.00 L492.39,514.00 L493.00,514.00 L493.60,514.00 L494.21,514.00 L494.82,514.00 L495.43,514.00 L496.03,514.00 L496.64,514.00 L497.25,514.00 L497.86,514.00 L498.46,514.00 L499.07,514.00 L499.68,514.00 L500.29,514.00 L500.89,514.00 L501.50,514.00" stroke="#bb3048" stroke-width="1.2" fill="none" />
<path d="M433.40,514.00 L433.55,513.35 L433.70,512.95 L434.25,512.22 L434.80,512.03 L435.35,512.10 L435.90,511.65 L436.14,510.83 L436.39,510.61 L436.63,509.99 L436.88,509.04 L437.12,508.78 L437.37,507.72 L437.61,507.23 L437.86,506.74 L438.10,506.31 L438.24,505.62 L438.38,505.02 L438.51,504.21 L438.65,503.70 L438.79,502.83 L438.93,502.32 L439.06,501.69 L439.20,501.04 L439.34,500.52 L439.48,499.91 L439.61,499.19 L439.75,498.97 L439.89,498.15 L440.03,497.45 L440.16,496.72 L440.30,496.23 L440.39,495.63 L440.48,494.90 L440.57,494.69 L440.66,493.65 L440.74,493.39 L440.83,492.77 L440.92,491.96 L441.01,491.47 L441.10,490.92 L441.19,490.17 L441.28,489.60 L441.37,488.83 L441.46,488.18 L441.54,487.59 L441.63,487.21 L441.72,486.38 L441.81,486.01 L441.90,485.58 L442.01,484.82 L442.13,484.19 L442.24,483.31 L442.36,482.73 L442.47,482.41 L442.59,481.61 L442.70,480.90 L442.81,480.48 L442.93,479.79 L443.04,479.39 L443.16,478.68 L443.27,478.16 L443.39,477.57 L443.50,476.48 L443.59,476.18 L443.68,475.25 L443.77,474.76 L443.87,473.95 L443.96,473.71 L444.05,472.89 L444.14,472.40 L444.23,471.75 L444.33,471.03 L444.42,470.13 L444.51,469.62 L444.60,469.34 L444.82,468.52 L445.04,468.01 L445.26,466.94 L445.48,466.36 L445.70,465.93 L445.77,465.26 L445.83,464.37 L445.90,464.13 L445.97,463.50 L446.03,462.77 L446.10,462.15 L446.17,461.57 L446.23,460.94 L446.30,460.13 L446.36,459.73 L446.43,459.12 L446.49,458.26 L446.55,458.06 L446.61,457.02 L446.68,456.81 L446.74,455.95 L446.80,455.58 L446.86,454.58 L446.93,454.33 L446.99,453.74 L447.05,452.84 L447.11,452.14 L447.18,451.95 L447.24,451.22 L447.30,450.31 L447.39,450.90 L447.48,451.63 L447.57,452.41 L447.67,453.14 L447.76,453.49 L447.85,454.42 L447.94,455.24 L448.03,455.86 L448.12,456.06 L448.22,456.96 L448.31,457.44 L448.40,457.96 L448.77,458.73 L449.13,459.47 L449.50,460.26 L449.59,460.83 L449.68,461.61 L449.77,462.39 L449.87,462.96 L449.96,463.33 L450.05,464.27 L450.14,464.94 L450.23,465.40 L450.33,465.89 L450.42,466.91 L450.51,467.20 L450.60,467.79 L450.67,468.71 L450.75,469.09 L450.82,469.68 L450.90,470.41 L450.97,471.24 L451.04,471.65 L451.12,472.29 L451.19,473.14 L451.27,473.72 L451.34,473.94 L451.41,474.76 L451.49,475.36 L451.56,475.83 L451.63,476.78 L451.71,477.44 L451.78,477.99 L451.86,478.52 L451.93,478.84 L452.00,479.55 L452.08,480.44 L452.15,481.07 L452.23,481.30 L452.30,482.14 L452.37,482.50 L452.44,483.17 L452.51,484.00 L452.58,484.62 L452.65,485.13 L452.72,485.95 L452.79,486.38 L452.86,487.18 L452.93,487.74 L453.00,488.34 L453.07,488.68 L453.13,489.34 L453.20,490.05 L453.27,490.54 L453.34,491.37 L453.41,492.20 L453.48,492.35 L453.55,493.11 L453.62,493.89 L453.69,494.25 L453.76,495.12 L453.83,495.80 L453.90,496.30 L453.99,496.73 L454.08,497.63 L454.17,498.19 L454.26,498.65 L454.34,499.27 L454.43,499.72 L454.52,500.65 L454.61,500.98 L454.70,501.89 L454.79,502.48 L454.88,503.08 L454.97,503.43 L455.06,504.33 L455.14,504.57 L455.23,505.42 L455.32,506.12 L455.41,506.57 L455.50,507.06 L455.74,507.62 L455.99,508.49 L456.23,508.91 L456.48,509.72 L456.72,510.25 L456.97,510.78 L457.21,511.34 L457.46,512.25 L457.70,512.74 L458.38,513.03 L459.05,513.35 L459.72,513.67 L460.40,514.00 L461.00,514.00 L461.61,514.00 L462.21,514.00 L462.82,514.00 L463.42,514.00 L464.03,514.00 L464.63,514.00 L465.24,514.00 L465.84,514.00 L466.44,514.00 L467.05,514.00 L467.65,514.00 L468.26,514.00 L468.86,514.00 L469.47,514.00 L470.07,514.00 L470.67,514.00 L471.28,514.00 L471.88,514.00 L472.49,514.00 L473.09,514.00 L473.70,514.00 L474.30,514.00 L474.91,514.00 L475.51,514.00 L476.11,514.00 L476.72,514.00 L477.32,514.00 L477.93,514.00 L478.53,514.00 L479.14,514.00 L479.74,514.00 L480.35,514.00 L480.95,514.00 L481.55,514.00 L482.16,514.00 L482.76,514.00 L483.37,514.00 L483.97,514.00 L484.58,514.00 L485.18,514.00 L485.79,514.00 L486.39,514.00 L486.99,514.00 L487.60,514.00 L488.20,514.00 L488.81,514.00 L489.41,514.00 L490.02,514.00 L490.62,514.00 L491.23,514.00 L491.83,514.00 L492.43,514.00 L493.04,514.00 L493.64,514.00 L494.25,514.00 L494.85,514.00 L495.46,514.00 L496.06,514.00 L496.66,514.00 L497.27,514.00 L497.87,514.00 L498.48,514.00 L499.08,514.00 L499.69,514.00 L500.29,514.00 L500.90,514.00 L501.50,514.00" stroke="#111" stroke-width="1.15" fill="none" />
<text transform="translate(275.40,565.80) scale(1.085,1)" font-size="9.217" text-anchor="middle" fill="#1e1e1e" stroke="#1e1e1e" stroke-width="0.12">MEP</text>
<line x1="239.70" y1="572.70" x2="308.80" y2="572.70" stroke="#8a8a8a" stroke-width="0.9" />
<line x1="308.80" y1="572.70" x2="308.80" y2="640.80" stroke="#d4d4d4" stroke-width="0.8" />
<line x1="239.70" y1="572.70" x2="239.70" y2="640.80" stroke="#555" stroke-width="0.8" />
<line x1="239.20" y1="640.80" x2="308.80" y2="640.80" stroke="#333" stroke-width="0.9" />
<line x1="238.40" y1="640.80" x2="239.70" y2="640.80" stroke="#555" stroke-width="0.5" />
<text x="237.90" y="641.90" font-size="3.2" text-anchor="end" fill="#444">0</text>
<line x1="238.40" y1="627.78" x2="239.70" y2="627.78" stroke="#555" stroke-width="0.5" />
<text x="237.90" y="628.88" font-size="3.2" text-anchor="end" fill="#444">20</text>
<line x1="238.40" y1="614.76" x2="239.70" y2="614.76" stroke="#555" stroke-width="0.5" />
<text x="237.90" y="615.86" font-size="3.2" text-anchor="end" fill="#444">40</text>
<line x1="238.40" y1="601.74" x2="239.70" y2="601.74" stroke="#555" stroke-width="0.5" />
<text x="237.90" y="602.84" font-size="3.2" text-anchor="end" fill="#444">60</text>
<line x1="238.40" y1="588.72" x2="239.70" y2="588.72" stroke="#555" stroke-width="0.5" />
<text x="237.90" y="589.82" font-size="3.2" text-anchor="end" fill="#444">80</text>
<line x1="238.40" y1="575.70" x2="239.70" y2="575.70" stroke="#555" stroke-width="0.5" />
<text x="237.90" y="576.80" font-size="3.2" text-anchor="end" fill="#444">100</text>
<line x1="247.50" y1="640.80" x2="247.50" y2="642.00" stroke="#555" stroke-width="0.5" />
<text x="247.50" y="645.80" font-size="3.3" text-anchor="middle" fill="#444">0</text>
<line x1="253.50" y1="640.80" x2="253.50" y2="642.00" stroke="#555" stroke-width="0.5" />
<text x="253.50" y="645.80" font-size="3.3" text-anchor="middle" fill="#444">10²</text>
<line x1="270.80" y1="640.80" x2="270.80" y2="642.00" stroke="#555" stroke-width="0.5" />
<text x="270.80" y="645.80" font-size="3.3" text-anchor="middle" fill="#444">10³</text>
<line x1="287.30" y1="640.80" x2="287.30" y2="642.00" stroke="#555" stroke-width="0.5" />
<text x="287.30" y="645.80" font-size="3.3" text-anchor="middle" fill="#444">10⁴</text>
<line x1="301.10" y1="640.80" x2="301.10" y2="642.00" stroke="#555" stroke-width="0.5" />
<text x="301.10" y="645.80" font-size="3.3" text-anchor="middle" fill="#444">10⁵</text>
<text x="276.10" y="650.40" font-size="2.6" text-anchor="middle" fill="#444">sPE-A:: ZB_ab0026</text>
<text transform="translate(231.40,607.25) rotate(-90)" font-size="2.7" text-anchor="middle" fill="#333" stroke="#333" stroke-width="0.1">% of Max</text>
<path d="M239.70,626.47 L239.76,627.36 L239.82,628.01 L239.87,628.43 L239.93,629.17 L239.99,629.86 L240.05,630.55 L240.11,630.76 L240.16,631.35 L240.22,632.20 L240.28,632.66 L240.34,633.09 L240.39,633.83 L240.45,634.71 L240.51,635.02 L240.57,635.63 L240.63,636.32 L240.68,636.81 L240.74,637.39 L240.80,638.23 L241.33,637.41 L241.87,636.90 L242.40,636.40 L242.63,635.77 L242.87,635.42 L243.10,634.53 L243.33,634.19 L243.57,633.39 L243.80,632.92 L244.03,632.06 L244.27,631.51 L244.50,631.01 L244.61,630.24 L244.71,629.67 L244.82,629.25 L244.93,628.38 L245.03,628.02 L245.14,627.21 L245.25,626.91 L245.35,626.18 L245.46,625.55 L245.57,625.23 L245.67,624.61 L245.78,623.57 L245.89,623.08 L245.99,622.45 L246.10,622.01 L246.14,621.19 L246.18,620.79 L246.22,620.00 L246.26,619.57 L246.30,619.22 L246.34,618.21 L246.38,617.64 L246.43,617.24 L246.47,616.81 L246.51,615.89 L246.55,615.50 L246.59,614.95 L246.63,614.18 L246.67,613.64 L246.71,613.10 L246.75,612.37 L246.79,611.88 L246.83,611.18 L246.87,610.48 L246.91,610.07 L246.95,609.26 L246.99,608.93 L247.03,608.05 L247.07,607.51 L247.12,606.84 L247.16,606.39 L247.20,605.80 L247.24,605.25 L247.28,604.68 L247.32,604.10 L247.36,603.45 L247.40,602.84 L247.47,601.91 L247.54,601.27 L247.61,600.59 L247.69,600.39 L247.76,599.77 L247.83,598.79 L247.90,598.45 L247.97,597.56 L248.04,597.19 L248.11,596.48 L248.19,596.07 L248.26,595.07 L248.33,594.37 L248.40,593.88 L248.49,593.15 L248.58,592.85 L248.68,592.20 L248.77,591.59 L248.86,590.70 L248.95,590.23 L249.04,589.35 L249.13,588.71 L249.22,588.09 L249.32,587.61 L249.41,587.09 L249.50,586.45 L249.62,585.77 L249.74,585.34 L249.87,584.43 L249.99,583.80 L250.11,583.44 L250.23,582.73 L250.36,582.01 L250.48,581.36 L250.60,581.09 L250.78,580.43 L250.97,579.51 L251.15,579.23 L251.33,578.16 L251.52,577.65 L251.70,577.14 L252.60,576.75 L252.87,577.34 L253.13,578.32 L253.40,579.05 L253.47,579.80 L253.54,580.37 L253.61,580.64 L253.68,581.62 L253.75,582.05 L253.82,582.70 L253.88,583.44 L253.95,584.06 L254.02,584.61 L254.09,584.95 L254.16,585.61 L254.23,586.32 L254.30,587.20 L254.34,587.66 L254.37,588.30 L254.41,588.61 L254.45,589.36 L254.48,589.96 L254.52,590.92 L254.55,591.51 L254.59,591.81 L254.63,592.59 L254.66,592.98 L254.70,593.70 L254.74,594.27 L254.77,594.83 L254.81,595.48 L254.85,596.39 L254.88,597.04 L254.92,597.31 L254.95,598.16 L254.99,598.67 L255.03,599.14 L255.06,599.75 L255.10,600.45 L255.15,601.23 L255.20,601.59 L255.26,602.14 L255.31,602.89 L255.36,603.65 L255.41,604.13 L255.47,604.75 L255.52,605.42 L255.57,606.07 L255.62,606.88 L255.68,607.48 L255.73,607.91 L255.78,608.67 L255.83,609.32 L255.89,609.90 L255.94,610.54 L255.99,611.04 L256.04,611.66 L256.10,612.20 L256.15,613.11 L256.20,613.52 L256.26,614.31 L256.32,614.95 L256.38,615.30 L256.44,616.04 L256.51,616.87 L256.57,617.43 L256.63,617.89 L256.69,618.43 L256.75,619.26 L256.81,619.45 L256.87,620.04 L256.93,620.88 L256.99,621.33 L257.06,622.01 L257.12,622.48 L257.18,623.33 L257.24,623.72 L257.30,624.34 L257.41,625.19 L257.53,625.57 L257.64,626.36 L257.76,626.81 L257.87,627.63 L257.99,628.22 L258.10,629.06 L258.21,629.58 L258.33,630.14 L258.44,630.48 L258.56,631.43 L258.67,632.13 L258.79,632.40 L258.90,633.34 L259.08,633.82 L259.26,634.67 L259.43,635.05 L259.61,635.64 L259.79,636.12 L259.97,637.07 L260.14,637.59 L260.32,638.30 L260.50,638.66 L261.07,639.42 L261.63,639.56 L262.20,640.30 L262.81,640.31 L263.41,640.31 L264.02,640.32 L264.62,640.33 L265.23,640.33 L265.83,640.34 L266.44,640.35 L267.04,640.35 L267.65,640.36 L268.25,640.36 L268.86,640.37 L269.46,640.38 L270.07,640.38 L270.67,640.39 L271.28,640.40 L271.88,640.40 L272.49,640.41 L273.09,640.42 L273.70,640.42 L274.30,640.43 L274.91,640.44 L275.51,640.44 L276.12,640.45 L276.72,640.46 L277.33,640.46 L277.94,640.47 L278.54,640.48 L279.15,640.48 L279.75,640.49 L280.36,640.49 L280.96,640.50 L281.57,640.51 L282.17,640.51 L282.78,640.52 L283.38,640.53 L283.99,640.53 L284.59,640.54 L285.20,640.55 L285.80,640.55 L286.41,640.56 L287.01,640.57 L287.62,640.57 L288.22,640.58 L288.83,640.59 L289.43,640.59 L290.04,640.60 L290.64,640.61 L291.25,640.61 L291.85,640.62 L292.46,640.62 L293.06,640.63 L293.67,640.64 L294.28,640.64 L294.88,640.65 L295.49,640.66 L296.09,640.66 L296.70,640.67 L297.30,640.68 L297.91,640.68 L298.51,640.69 L299.12,640.70 L299.72,640.70 L300.33,640.71 L300.93,640.72 L301.54,640.72 L302.14,640.73 L302.75,640.74 L303.35,640.74 L303.96,640.75 L304.56,640.75 L305.17,640.76 L305.77,640.77 L306.38,640.77 L306.98,640.78 L307.59,640.79 L308.19,640.79 L308.80,640.80" stroke="#bb3048" stroke-width="1.2" fill="none" />
<path d="M239.70,626.90 L239.76,627.06 L239.82,627.95 L239.87,628.55 L239.93,629.04 L239.99,629.58 L240.05,630.06 L240.11,630.92 L240.16,631.68 L240.22,632.30 L240.28,632.65 L240.34,633.53 L240.39,634.13 L240.45,634.67 L240.51,635.01 L240.57,635.59 L240.63,636.54 L240.68,636.97 L240.74,637.37 L240.80,637.93 L241.33,637.32 L241.87,636.92 L242.40,636.27 L242.64,635.98 L242.89,635.39 L243.13,634.85 L243.38,634.22 L243.62,633.60 L243.87,632.63 L244.11,632.33 L244.36,631.71 L244.60,631.24 L244.75,630.17 L244.91,629.93 L245.06,628.99 L245.22,628.50 L245.37,627.92 L245.53,627.24 L245.68,626.89 L245.84,626.36 L245.99,625.59 L246.15,625.25 L246.30,624.32 L246.38,623.81 L246.46,623.19 L246.54,622.44 L246.61,621.93 L246.69,621.17 L246.77,620.74 L246.85,620.20 L246.93,619.52 L247.01,619.00 L247.09,618.25 L247.16,617.90 L247.24,617.24 L247.32,616.21 L247.40,615.76 L247.46,615.17 L247.51,614.58 L247.57,614.00 L247.62,613.42 L247.68,612.99 L247.73,612.28 L247.79,611.48 L247.84,610.77 L247.90,610.15 L248.45,609.93 L249.00,609.06 L249.08,608.42 L249.16,607.86 L249.24,607.24 L249.31,606.63 L249.39,606.10 L249.47,605.54 L249.55,604.83 L249.63,604.24 L249.71,603.60 L249.79,603.07 L249.86,602.43 L249.94,601.79 L250.02,601.35 L250.10,600.47 L250.16,599.98 L250.21,599.17 L250.26,598.81 L250.32,598.31 L250.38,597.27 L250.43,597.11 L250.48,596.40 L250.54,595.65 L250.59,595.25 L250.65,594.67 L250.70,593.95 L250.76,593.19 L250.81,592.71 L250.87,591.99 L250.92,591.44 L250.98,591.05 L251.03,590.43 L251.09,589.65 L251.14,588.99 L251.20,588.28 L251.26,587.93 L251.32,587.40 L251.38,586.48 L251.44,586.01 L251.51,585.46 L251.57,585.03 L251.63,584.43 L251.69,583.48 L251.75,583.29 L251.81,582.49 L251.87,581.92 L251.93,581.39 L251.99,580.51 L252.06,580.16 L252.12,579.50 L252.18,578.66 L252.24,577.99 L252.30,577.81 L252.80,578.16 L253.30,578.68 L253.38,579.26 L253.45,580.04 L253.53,580.64 L253.60,581.37 L253.68,581.79 L253.75,582.57 L253.82,582.91 L253.90,583.79 L253.97,584.52 L254.05,585.01 L254.12,585.83 L254.20,586.08 L254.23,586.75 L254.27,587.35 L254.30,588.21 L254.34,588.93 L254.37,589.17 L254.41,590.14 L254.44,590.53 L254.48,591.08 L254.51,591.68 L254.55,592.66 L254.58,593.26 L254.62,593.58 L254.65,594.26 L254.69,594.80 L254.72,595.40 L254.76,596.11 L254.79,596.94 L254.83,597.43 L254.86,597.89 L254.90,598.87 L254.93,599.06 L254.97,599.94 L255.00,600.68 L255.05,601.00 L255.10,601.58 L255.16,602.24 L255.21,603.24 L255.26,603.61 L255.31,604.33 L255.37,604.82 L255.42,605.47 L255.47,606.28 L255.52,606.63 L255.58,607.14 L255.63,607.98 L255.68,608.85 L255.73,609.15 L255.79,609.98 L255.84,610.30 L255.89,611.03 L255.94,611.75 L256.00,612.56 L256.05,613.11 L256.10,613.69 L256.16,614.37 L256.22,614.90 L256.28,615.19 L256.34,616.18 L256.41,616.59 L256.47,617.12 L256.53,617.59 L256.59,618.59 L256.65,618.93 L256.71,619.87 L256.77,620.22 L256.83,620.93 L256.89,621.71 L256.96,622.14 L257.02,622.81 L257.08,623.37 L257.14,623.91 L257.20,624.37 L257.31,625.20 L257.43,625.55 L257.54,626.50 L257.66,627.18 L257.77,627.41 L257.89,628.39 L258.00,629.08 L258.11,629.33 L258.23,630.24 L258.34,630.50 L258.46,631.40 L258.57,631.86 L258.69,632.57 L258.80,633.01 L258.98,633.90 L259.16,634.23 L259.33,634.97 L259.51,635.89 L259.69,636.13 L259.87,636.98 L260.04,637.69 L260.22,638.12 L260.40,638.78 L260.97,639.29 L261.53,639.89 L262.10,640.30 L262.71,640.31 L263.31,640.31 L263.92,640.32 L264.53,640.33 L265.13,640.33 L265.74,640.34 L266.35,640.35 L266.95,640.35 L267.56,640.36 L268.16,640.36 L268.77,640.37 L269.38,640.38 L269.98,640.38 L270.59,640.39 L271.20,640.40 L271.80,640.40 L272.41,640.41 L273.02,640.42 L273.62,640.42 L274.23,640.43 L274.84,640.44 L275.44,640.44 L276.05,640.45 L276.66,640.46 L277.26,640.46 L277.87,640.47 L278.48,640.48 L279.08,640.48 L279.69,640.49 L280.29,640.49 L280.90,640.50 L281.51,640.51 L282.11,640.51 L282.72,640.52 L283.33,640.53 L283.93,640.53 L284.54,640.54 L285.15,640.55 L285.75,640.55 L286.36,640.56 L286.97,640.57 L287.57,640.57 L288.18,640.58 L288.79,640.59 L289.39,640.59 L290.00,640.60 L290.61,640.61 L291.21,640.61 L291.82,640.62 L292.42,640.62 L293.03,640.63 L293.64,640.64 L294.24,640.64 L294.85,640.65 L295.46,640.66 L296.06,640.66 L296.67,640.67 L297.28,640.68 L297.88,640.68 L298.49,640.69 L299.10,640.70 L299.70,640.70 L300.31,640.71 L300.92,640.72 L301.52,640.72 L302.13,640.73 L302.74,640.74 L303.34,640.74 L303.95,640.75 L304.55,640.75 L305.16,640.76 L305.77,640.77 L306.37,640.77 L306.98,640.78 L307.59,640.79 L308.19,640.79 L308.80,640.80" stroke="#111" stroke-width="1.15" fill="none" />
<text transform="translate(369.10,567.00) scale(1.085,1)" font-size="9.217" text-anchor="middle" fill="#1e1e1e" stroke="#1e1e1e" stroke-width="0.12">Pro B</text>
<line x1="334.00" y1="573.30" x2="402.70" y2="573.30" stroke="#8a8a8a" stroke-width="0.9" />
<line x1="402.70" y1="573.30" x2="402.70" y2="640.80" stroke="#d4d4d4" stroke-width="0.8" />
<line x1="334.00" y1="573.30" x2="334.00" y2="640.80" stroke="#555" stroke-width="0.8" />
<line x1="333.50" y1="640.80" x2="402.70" y2="640.80" stroke="#333" stroke-width="0.9" />
<line x1="332.70" y1="640.80" x2="334.00" y2="640.80" stroke="#555" stroke-width="0.5" />
<text x="332.20" y="641.90" font-size="3.2" text-anchor="end" fill="#444">0</text>
<line x1="332.70" y1="627.90" x2="334.00" y2="627.90" stroke="#555" stroke-width="0.5" />
<text x="332.20" y="629.00" font-size="3.2" text-anchor="end" fill="#444">20</text>
<line x1="332.70" y1="615.00" x2="334.00" y2="615.00" stroke="#555" stroke-width="0.5" />
<text x="332.20" y="616.10" font-size="3.2" text-anchor="end" fill="#444">40</text>
<line x1="332.70" y1="602.10" x2="334.00" y2="602.10" stroke="#555" stroke-width="0.5" />
<text x="332.20" y="603.20" font-size="3.2" text-anchor="end" fill="#444">60</text>
<line x1="332.70" y1="589.20" x2="334.00" y2="589.20" stroke="#555" stroke-width="0.5" />
<text x="332.20" y="590.30" font-size="3.2" text-anchor="end" fill="#444">80</text>
<line x1="332.70" y1="576.30" x2="334.00" y2="576.30" stroke="#555" stroke-width="0.5" />
<text x="332.20" y="577.40" font-size="3.2" text-anchor="end" fill="#444">100</text>
<line x1="341.80" y1="640.80" x2="341.80" y2="642.00" stroke="#555" stroke-width="0.5" />
<text x="341.80" y="645.80" font-size="3.3" text-anchor="middle" fill="#444">0</text>
<line x1="347.80" y1="640.80" x2="347.80" y2="642.00" stroke="#555" stroke-width="0.5" />
<text x="347.80" y="645.80" font-size="3.3" text-anchor="middle" fill="#444">10²</text>
<line x1="365.10" y1="640.80" x2="365.10" y2="642.00" stroke="#555" stroke-width="0.5" />
<text x="365.10" y="645.80" font-size="3.3" text-anchor="middle" fill="#444">10³</text>
<line x1="381.60" y1="640.80" x2="381.60" y2="642.00" stroke="#555" stroke-width="0.5" />
<text x="381.60" y="645.80" font-size="3.3" text-anchor="middle" fill="#444">10⁴</text>
<line x1="395.40" y1="640.80" x2="395.40" y2="642.00" stroke="#555" stroke-width="0.5" />
<text x="395.40" y="645.80" font-size="3.3" text-anchor="middle" fill="#444">10⁵</text>
<text x="370.40" y="650.40" font-size="2.6" text-anchor="middle" fill="#444">sPE-A:: ZB_ab0026</text>
<text transform="translate(325.70,607.55) rotate(-90)" font-size="2.7" text-anchor="middle" fill="#333" stroke="#333" stroke-width="0.1">% of Max</text>
<path d="M334.00,629.00 L334.11,629.33 L334.22,630.03 L334.33,630.74 L334.44,631.49 L334.55,632.25 L334.66,632.64 L334.77,633.44 L334.88,633.93 L334.99,634.85 L335.10,635.26 L335.30,634.57 L335.50,634.16 L335.70,633.83 L335.90,633.01 L336.10,632.19 L336.30,631.86 L336.50,631.21 L336.70,630.47 L336.90,630.01 L336.99,629.28 L337.08,628.87 L337.17,628.35 L337.26,627.62 L337.34,627.11 L337.43,626.48 L337.52,625.52 L337.61,624.96 L337.70,624.74 L337.79,624.12 L337.88,623.40 L337.97,622.53 L338.06,621.95 L338.14,621.56 L338.23,620.98 L338.32,620.08 L338.41,619.81 L338.50,618.91 L338.57,618.31 L338.63,617.83 L338.70,617.39 L338.76,616.42 L338.83,615.89 L338.89,615.54 L338.96,614.50 L339.02,613.92 L339.09,613.39 L339.15,613.03 L339.22,612.17 L339.28,611.53 L339.35,611.14 L339.41,610.50 L339.48,609.87 L339.54,609.28 L339.61,608.42 L339.67,608.27 L339.74,607.21 L339.80,606.64 L339.87,606.06 L339.93,605.65 L340.00,604.97 L340.03,604.46 L340.06,603.76 L340.10,603.22 L340.13,602.64 L340.16,602.06 L340.19,601.32 L340.22,600.60 L340.25,600.12 L340.29,599.84 L340.32,599.09 L340.35,598.31 L340.38,597.71 L340.41,597.40 L340.45,596.54 L340.48,595.81 L340.51,595.17 L340.54,594.61 L340.57,594.14 L340.60,593.60 L340.64,593.21 L340.67,592.20 L340.70,591.57 L340.78,591.43 L340.87,590.52 L340.95,590.10 L341.04,589.64 L341.12,588.80 L341.21,588.36 L341.29,587.61 L341.38,587.19 L341.46,586.43 L341.55,585.60 L341.63,585.36 L341.72,584.54 L341.80,583.98 L341.89,583.16 L341.98,582.53 L342.07,582.34 L342.17,581.66 L342.26,580.87 L342.35,580.07 L342.44,579.71 L342.53,578.78 L342.62,578.24 L342.72,577.92 L342.81,576.89 L342.90,576.74 L343.04,577.11 L343.18,577.69 L343.32,578.46 L343.46,579.34 L343.60,579.88 L343.68,580.55 L343.76,581.39 L343.84,582.01 L343.92,582.58 L344.00,582.82 L344.03,583.82 L344.06,584.10 L344.09,584.80 L344.12,585.51 L344.16,586.25 L344.19,586.63 L344.22,587.32 L344.25,587.82 L344.28,588.44 L344.31,589.10 L344.34,589.71 L344.38,590.19 L344.41,591.21 L344.44,591.63 L344.47,592.09 L344.50,593.09 L344.68,592.22 L344.85,591.69 L345.02,590.92 L345.20,590.19 L345.28,589.60 L345.36,588.75 L345.44,588.37 L345.52,587.56 L345.60,587.17 L345.68,586.49 L345.76,585.88 L345.84,585.06 L345.92,584.63 L346.00,584.00 L346.27,584.85 L346.53,585.48 L346.80,585.85 L346.90,586.59 L347.00,587.28 L347.10,588.06 L347.20,588.44 L347.30,589.29 L347.40,590.07 L347.50,590.68 L347.60,591.41 L347.70,591.91 L347.80,592.51 L347.84,593.17 L347.88,593.52 L347.93,594.36 L347.97,594.84 L348.01,595.58 L348.05,596.11 L348.10,596.79 L348.14,597.36 L348.18,597.85 L348.22,598.39 L348.27,599.27 L348.31,599.70 L348.35,600.18 L348.39,600.95 L348.43,601.55 L348.48,602.28 L348.52,602.80 L348.56,603.18 L348.60,603.78 L348.65,604.71 L348.69,604.94 L348.73,605.91 L348.77,606.42 L348.82,606.98 L348.86,607.57 L348.90,607.89 L348.96,608.94 L349.02,609.31 L349.08,610.05 L349.14,610.70 L349.21,611.01 L349.27,611.62 L349.33,612.53 L349.39,613.04 L349.45,613.50 L349.51,614.40 L349.57,614.62 L349.63,615.48 L349.69,615.74 L349.76,616.52 L349.82,617.42 L349.88,617.83 L349.94,618.62 L350.00,618.98 L350.08,619.76 L350.16,620.45 L350.24,620.74 L350.31,621.65 L350.39,621.94 L350.47,622.91 L350.55,623.56 L350.63,624.15 L350.71,624.44 L350.79,625.51 L350.86,626.09 L350.94,626.57 L351.02,627.34 L351.10,627.68 L351.25,628.44 L351.39,629.09 L351.54,629.76 L351.68,630.37 L351.83,630.68 L351.97,631.44 L352.12,632.05 L352.26,632.68 L352.41,632.90 L352.55,633.77 L352.70,634.36 L353.01,634.83 L353.33,635.58 L353.64,636.03 L353.96,636.61 L354.27,637.25 L354.59,637.41 L354.90,638.32 L355.45,638.54 L356.00,638.50 L356.55,638.94 L357.10,639.28 L357.65,639.50 L358.20,639.64 L358.84,639.52 L359.48,639.89 L360.12,639.84 L360.76,639.92 L361.40,640.00 L361.95,639.71 L362.50,639.18 L363.05,638.62 L363.60,638.41 L364.15,638.01 L364.70,637.56 L365.43,637.52 L366.17,637.70 L366.90,637.90 L367.45,637.93 L368.00,638.70 L368.55,638.83 L369.10,639.41 L369.78,639.43 L370.45,639.66 L371.12,640.02 L371.80,640.30 L372.41,640.31 L373.01,640.32 L373.62,640.33 L374.22,640.34 L374.83,640.35 L375.44,640.36 L376.04,640.37 L376.65,640.38 L377.25,640.39 L377.86,640.40 L378.46,640.41 L379.07,640.42 L379.68,640.43 L380.28,640.44 L380.89,640.45 L381.49,640.46 L382.10,640.47 L382.71,640.48 L383.31,640.49 L383.92,640.50 L384.52,640.51 L385.13,640.52 L385.74,640.53 L386.34,640.54 L386.95,640.55 L387.55,640.55 L388.16,640.56 L388.76,640.57 L389.37,640.58 L389.98,640.59 L390.58,640.60 L391.19,640.61 L391.79,640.62 L392.40,640.63 L393.01,640.64 L393.61,640.65 L394.22,640.66 L394.82,640.67 L395.43,640.68 L396.04,640.69 L396.64,640.70 L397.25,640.71 L397.85,640.72 L398.46,640.73 L399.06,640.74 L399.67,640.75 L400.28,640.76 L400.88,640.77 L401.49,640.78 L402.09,640.79 L402.70,640.80" stroke="#bb3048" stroke-width="1.2" fill="none" />
<path d="M334.00,628.97 L334.11,629.72 L334.22,630.04 L334.33,630.62 L334.44,631.73 L334.55,632.22 L334.66,632.91 L334.77,633.68 L334.88,634.30 L334.99,634.96 L335.10,635.22 L335.30,634.71 L335.50,634.07 L335.70,633.84 L335.90,632.82 L336.10,632.37 L336.30,631.75 L336.50,631.03 L336.70,630.44 L336.90,630.21 L336.99,629.45 L337.08,628.90 L337.17,628.06 L337.26,627.44 L337.34,627.13 L337.43,626.46 L337.52,625.82 L337.61,625.27 L337.70,624.37 L337.79,623.82 L337.88,623.09 L337.97,622.58 L338.06,621.88 L338.14,621.27 L338.23,620.82 L338.32,620.42 L338.41,619.62 L338.50,618.88 L338.61,618.32 L338.71,617.86 L338.82,616.97 L338.93,616.68 L339.03,616.10 L339.14,615.47 L339.24,614.76 L339.35,613.87 L339.46,613.34 L339.56,612.83 L339.67,612.20 L339.77,611.65 L339.88,610.96 L339.99,610.53 L340.09,610.05 L340.20,608.98 L340.29,608.40 L340.38,607.93 L340.48,607.39 L340.57,606.63 L340.66,605.84 L340.75,605.35 L340.84,604.81 L340.93,604.05 L341.02,603.54 L341.12,602.83 L341.21,602.27 L341.30,601.48 L341.85,602.32 L342.40,602.54 L342.48,602.20 L342.57,601.53 L342.65,601.03 L342.73,600.07 L342.82,599.52 L342.90,598.77 L342.98,598.42 L343.07,597.76 L343.15,596.99 L343.23,596.13 L343.32,595.91 L343.40,595.32 L343.52,594.70 L343.64,593.83 L343.77,593.13 L343.89,592.72 L344.01,591.84 L344.13,591.61 L344.26,590.95 L344.38,590.05 L344.50,589.65 L344.56,588.99 L344.61,588.57 L344.67,587.56 L344.72,587.30 L344.77,586.34 L344.83,585.74 L344.88,585.02 L344.94,584.70 L345.00,583.86 L345.05,583.40 L345.11,582.48 L345.16,582.00 L345.22,581.61 L345.27,581.00 L345.33,580.03 L345.38,579.61 L345.44,578.94 L345.49,578.18 L345.55,577.95 L345.60,577.28 L345.70,577.60 L345.80,578.18 L345.90,579.07 L346.00,579.70 L346.10,580.10 L346.20,581.21 L346.30,581.76 L346.40,582.48 L346.50,582.92 L346.60,583.41 L346.70,584.29 L346.79,584.81 L346.88,585.49 L346.98,586.06 L347.07,586.92 L347.16,587.31 L347.25,588.18 L347.34,588.66 L347.43,589.50 L347.52,589.88 L347.62,590.39 L347.71,591.39 L347.80,592.01 L347.84,592.57 L347.88,592.98 L347.92,593.37 L347.96,594.17 L348.00,594.97 L348.04,595.63 L348.09,596.16 L348.13,596.80 L348.17,597.20 L348.21,597.99 L348.25,598.61 L348.29,599.07 L348.33,599.89 L348.37,600.09 L348.41,600.75 L348.45,601.61 L348.49,602.05 L348.53,602.69 L348.57,603.37 L348.61,603.84 L348.66,604.27 L348.70,605.27 L348.74,605.69 L348.78,606.28 L348.82,607.10 L348.86,607.54 L348.90,607.99 L348.96,608.66 L349.02,609.44 L349.08,609.91 L349.14,610.33 L349.21,611.20 L349.27,611.75 L349.33,612.43 L349.39,612.94 L349.45,613.39 L349.51,613.99 L349.57,614.81 L349.63,615.60 L349.69,616.04 L349.76,616.44 L349.82,617.22 L349.88,617.97 L349.94,618.24 L350.00,618.88 L350.08,619.77 L350.16,620.04 L350.24,620.91 L350.31,621.47 L350.39,622.12 L350.47,622.82 L350.55,623.29 L350.63,623.92 L350.71,624.77 L350.79,625.43 L350.86,625.76 L350.94,626.51 L351.02,627.25 L351.10,627.70 L351.25,628.33 L351.39,629.02 L351.54,629.79 L351.68,630.11 L351.83,630.54 L351.97,631.24 L352.12,631.94 L352.26,632.52 L352.41,633.06 L352.55,633.65 L352.70,634.20 L353.01,634.64 L353.33,635.58 L353.64,635.85 L353.96,636.51 L354.27,637.09 L354.59,637.80 L354.90,638.28 L355.45,638.18 L356.00,638.76 L356.55,639.11 L357.10,639.09 L357.65,639.55 L358.20,639.80 L358.84,639.90 L359.48,640.00 L360.12,640.10 L360.76,640.20 L361.40,640.30 L361.95,639.93 L362.50,639.77 L363.05,638.99 L363.60,639.02 L364.15,638.38 L364.70,638.33 L365.43,638.28 L366.17,637.88 L366.90,638.18 L367.45,638.58 L368.00,638.87 L368.55,638.95 L369.10,639.13 L369.78,639.61 L370.45,639.51 L371.12,640.02 L371.80,640.30 L372.41,640.31 L373.01,640.32 L373.62,640.33 L374.22,640.34 L374.83,640.35 L375.44,640.36 L376.04,640.37 L376.65,640.38 L377.25,640.39 L377.86,640.40 L378.46,640.41 L379.07,640.42 L379.68,640.43 L380.28,640.44 L380.89,640.45 L381.49,640.46 L382.10,640.47 L382.71,640.48 L383.31,640.49 L383.92,640.50 L384.52,640.51 L385.13,640.52 L385.74,640.53 L386.34,640.54 L386.95,640.55 L387.55,640.55 L388.16,640.56 L388.76,640.57 L389.37,640.58 L389.98,640.59 L390.58,640.60 L391.19,640.61 L391.79,640.62 L392.40,640.63 L393.01,640.64 L393.61,640.65 L394.22,640.66 L394.82,640.67 L395.43,640.68 L396.04,640.69 L396.64,640.70 L397.25,640.71 L397.85,640.72 L398.46,640.73 L399.06,640.74 L399.67,640.75 L400.28,640.76 L400.88,640.77 L401.49,640.78 L402.09,640.79 L402.70,640.80" stroke="#111" stroke-width="1.15" fill="none" />
<text transform="translate(223.10,486.60) rotate(-90)" font-size="9.5" text-anchor="middle" fill="#1e1e1e" stroke="#1e1e1e" stroke-width="0.12">Cell number</text>
<text transform="translate(223.10,608.00) rotate(-90)" font-size="9.5" text-anchor="middle" fill="#1e1e1e" stroke="#1e1e1e" stroke-width="0.12">Cell number</text>
<line x1="231.00" y1="530.30" x2="500.80" y2="530.30" stroke="#111" stroke-width="1.6" />
<path d="M507.30,530.30 L500.30,526.70 L500.30,533.90 Z" fill="#111"/>
<text transform="translate(377.60,542.30) scale(1.085,1)" font-size="9.217" text-anchor="middle" fill="#1e1e1e" stroke="#1e1e1e" stroke-width="0.12">GPRC5D</text>
<line x1="230.80" y1="655.40" x2="394.50" y2="655.40" stroke="#111" stroke-width="1.6" />
<path d="M401.00,655.40 L394.00,651.80 L394.00,659.00 Z" fill="#111"/>
<text transform="translate(315.60,668.00) scale(1.085,1)" font-size="9.217" text-anchor="middle" fill="#1e1e1e" stroke="#1e1e1e" stroke-width="0.12">GPRC5D</text>
</svg>
</body></html>
